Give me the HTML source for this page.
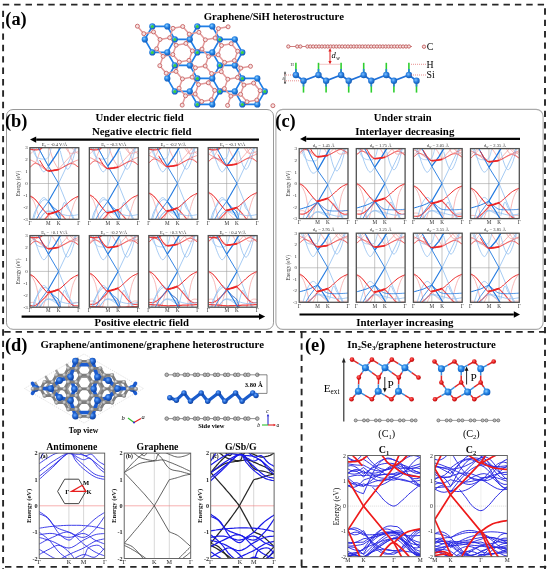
<!DOCTYPE html>
<html><head><meta charset="utf-8"><style>
html,body{margin:0;padding:0;background:#fff;}
svg{display:block;}
svg text{font-family:'Liberation Serif',serif;}
</style></head><body>
<svg width="550" height="572" viewBox="0 0 550 572">
<line x1="2.8" y1="4.6" x2="547" y2="4.6" stroke="#262626" stroke-width="1.9" stroke-dasharray="6.4 4.98" stroke-dashoffset="0"/>
<line x1="3.1" y1="10.7" x2="3.1" y2="569" stroke="#262626" stroke-width="1.9" stroke-dasharray="6.4 4.98" stroke-dashoffset="0"/>
<line x1="545.0" y1="8.25" x2="545.0" y2="569" stroke="#262626" stroke-width="1.9" stroke-dasharray="6.4 4.98" stroke-dashoffset="0"/>
<line x1="5.0" y1="566.9" x2="547" y2="566.9" stroke="#262626" stroke-width="1.9" stroke-dasharray="6.4 4.98" stroke-dashoffset="0"/>
<line x1="4.2" y1="331.9" x2="547" y2="331.9" stroke="#262626" stroke-width="1.9" stroke-dasharray="6.4 4.98" stroke-dashoffset="0"/>
<line x1="301.6" y1="331.9" x2="301.6" y2="567.5" stroke="#262626" stroke-width="1.9" stroke-dasharray="6.4 4.98" stroke-dashoffset="0"/>
<rect x="6.5" y="109.5" width="267" height="219.8" rx="6.5" fill="none" stroke="#999" stroke-width="1.0"/>
<rect x="275.9" y="109.4" width="267.2" height="220.0" rx="7" fill="none" stroke="#aaa" stroke-width="1.1"/>
<text x="5.30" y="25.00" font-size="18.4" font-weight="bold" text-anchor="start" fill="#000" style="" >(a)</text>
<text x="5.00" y="126.60" font-size="18.4" font-weight="bold" text-anchor="start" fill="#000" style="" >(b)</text>
<text x="275.30" y="126.60" font-size="18.4" font-weight="bold" text-anchor="start" fill="#000" style="" >(c)</text>
<text x="5.00" y="350.50" font-size="18.4" font-weight="bold" text-anchor="start" fill="#000" style="" >(d)</text>
<text x="305.00" y="350.50" font-size="18.4" font-weight="bold" text-anchor="start" fill="#000" style="" >(e)</text>
<text x="273.80" y="19.60" font-size="10.75" font-weight="bold" text-anchor="middle" fill="#000" style="" >Graphene/SiH heterostructure</text>
<text x="139.60" y="120.90" font-size="10.78" font-weight="bold" text-anchor="middle" fill="#000" style="" >Under electric field</text>
<text x="141.80" y="134.50" font-size="10.8" font-weight="bold" text-anchor="middle" fill="#000" style="" >Negative electric field</text>
<text x="141.80" y="326.30" font-size="10.7" font-weight="bold" text-anchor="middle" fill="#000" style="" >Positive electric field</text>
<text x="402.70" y="120.90" font-size="10.6" font-weight="bold" text-anchor="middle" fill="#000" style="" >Under strain</text>
<text x="404.80" y="134.50" font-size="10.9" font-weight="bold" text-anchor="middle" fill="#000" style="" >Interlayer decreasing</text>
<text x="404.80" y="325.80" font-size="10.9" font-weight="bold" text-anchor="middle" fill="#000" style="" >Interlayer increasing</text>
<text x="152.20" y="347.80" font-size="10.8" font-weight="bold" text-anchor="middle" fill="#000" style="" >Graphene/antimonene/graphene heterostructure</text>
<text x="421.60" y="347.80" font-size="10.8" font-weight="bold" text-anchor="middle" fill="#000" style="" >In<tspan font-size="7" dy="2">2</tspan><tspan dy="-2">Se</tspan><tspan font-size="7" dy="2">3</tspan><tspan dy="-2">/graphene heterostructure</tspan></text>
<line x1="259" y1="139.6" x2="36.2" y2="139.6" stroke="#000" stroke-width="2.2"/>
<polygon points="30,139.6 36.2,136.4 36.2,142.79999999999998" fill="#000"/>
<line x1="21.6" y1="316.6" x2="259.0" y2="316.6" stroke="#000" stroke-width="2.2"/>
<polygon points="265.2,316.6 259.0,313.40000000000003 259.0,319.8" fill="#000"/>
<line x1="520" y1="138.9" x2="306.2" y2="138.9" stroke="#000" stroke-width="2.2"/>
<polygon points="300,138.9 306.2,135.70000000000002 306.2,142.1" fill="#000"/>
<line x1="299.5" y1="314.5" x2="513.8" y2="314.5" stroke="#000" stroke-width="2.2"/>
<polygon points="520,314.5 513.8,311.3 513.8,317.7" fill="#000"/>
<clipPath id="c30"><rect x="29.9" y="147.7" width="48.9" height="71.6"/></clipPath>
<g clip-path="url(#c30)" fill="none" stroke-linejoin="round">
<line x1="48.4" y1="147.7" x2="48.4" y2="219.29999999999998" stroke="#a0a0a0" stroke-width="0.6"/>
<line x1="58.6" y1="147.7" x2="58.6" y2="219.29999999999998" stroke="#a0a0a0" stroke-width="0.6"/>
<line x1="29.9" y1="183.5" x2="78.8" y2="183.5" stroke="#a0a0a0" stroke-width="0.6"/>
<path d="M29.9,196 30.3,196.6 30.9,197.2 31.6,198.1 32.4,199.1 33.1,200.2 33.8,201.4 34.4,202.8 35,204.4 35.6,206.1 36.1,207.9 36.7,209.8 37.2,211.5 37.8,213.4 38.5,215.5 39.2,217.5 39.8,219.5 40.3,221.1 40.7,222.3" stroke="#f4a0a0" stroke-width="0.75"/>
<path d="M78.8,196 78.4,196.6 77.8,197.2 77.1,198.1 76.3,199.1 75.6,200.2 74.9,201.4 74.3,202.8 73.7,204.4 73.1,206.1 72.6,207.9 72,209.8 71.5,211.5 70.9,213.4 70.2,215.5 69.5,217.5 68.9,219.5 68.4,221.1 68,222.3" stroke="#f4a0a0" stroke-width="0.75"/>
<path d="M48.4,213.9 48.7,214.4 49.2,215.1 49.7,215.9 50.4,216.8 51.1,217.8 51.9,218.7 52.9,219.7 54,220.9 55.3,222.1 56.5,223.3 57.7,224.1 58.6,224.7 59.4,224.7 60,224.4 60.6,223.8 61,223.2 61.4,222.6 61.7,222.3" stroke="#f4a0a0" stroke-width="0.7"/>
<path d="M42.1,222.3 42.5,222.2 43,222.2 43.7,222.1 44.3,222 45,221.6 45.5,221.1 46.1,220.2 46.6,218.9 47.2,217.4 47.7,216 48.1,214.8 48.4,213.9" stroke="#f4a0a0" stroke-width="0.7"/>
<path d="M29.9,167.4 30.3,167.1 30.8,166.7 31.4,166.2 32.1,165.6 32.7,165 33.3,164.4 33.9,163.9 34.4,163.5 34.9,163.1 35.5,162.5 36.1,161.6 36.7,160.2 37.6,158.1 38.6,155.3 39.6,152.2 40.7,149.2 41.5,146.5 42.1,144.7" stroke="#f4a0a0" stroke-width="0.75"/>
<path d="M78.8,167.4 78.4,167.1 77.9,166.7 77.3,166.2 76.6,165.6 76,165 75.4,164.4 74.8,163.9 74.3,163.5 73.8,163.1 73.2,162.5 72.6,161.6 72,160.2 71.1,158.1 70.1,155.3 69.1,152.2 68,149.2 67.2,146.5 66.6,144.7" stroke="#f4a0a0" stroke-width="0.75"/>
<path d="M48.5,144.7 49,146.5 49.7,149 50.6,151.9 51.5,155 52.5,157.8 53.4,160.2 54.3,162.2 55.3,164 56.3,165.7 57.2,167.1 58,168.3 58.6,169.2" stroke="#f4a0a0" stroke-width="0.8"/>
<path d="M58.6,169.2 59.5,168.2 60.7,166.8 62.1,165.2 63.7,163.5 65.2,161.8 66.6,160.2 67.9,158.8 69.2,157.4 70.6,155.9 71.9,154.6 73,153.2 73.9,151.9 74.6,150.5 75.2,149.1 75.6,147.8 75.9,146.5 76.1,145.5 76.4,144.7" stroke="#f4a0a0" stroke-width="0.8"/>
<path d="M29.9,154.3 30.3,153.9 30.8,153.5 31.4,153 32.1,152.4 32.7,151.8 33.3,151.3 33.9,150.8 34.5,150.3 35.1,149.8 35.6,149.3 36.2,148.8 36.7,148.3 37.3,147.7 37.9,147 38.4,146.3 38.9,145.7 39.4,145.1 39.7,144.7" stroke="#f4a0a0" stroke-width="0.7"/>
<path d="M78.8,154.3 78.4,153.9 77.9,153.5 77.3,153 76.6,152.4 76,151.8 75.4,151.3 74.8,150.8 74.2,150.3 73.6,149.8 73.1,149.3 72.5,148.8 72,148.3 71.4,147.7 70.8,147 70.3,146.3 69.8,145.7 69.3,145.1 69,144.7" stroke="#f4a0a0" stroke-width="0.7"/>
<path d="M29.9,224.1 30.5,224.2 31.4,224.3 32.4,224.5 33.6,224.7 34.7,224.7 35.8,224.7 36.9,224.4 38.1,224 39.3,223.5 40.5,223 41.4,222.6 42.1,222.3" stroke="#f4a0a0" stroke-width="0.7"/>
<path d="M78.8,224.1 78.2,224.2 77.3,224.3 76.3,224.5 75.1,224.7 74,224.7 72.9,224.7 71.8,224.4 70.6,224 69.4,223.5 68.2,223 67.3,222.6 66.6,222.3" stroke="#f4a0a0" stroke-width="0.7"/>
<path d="M32.8,144.7 33.4,146.6 34.1,149.2 35,152.2 36,155.4 36.9,158.4 37.7,160.8 38.4,162.8 39.1,164.6 39.8,166.2 40.4,167.6 41.1,168.8 41.6,169.8 42.2,170.6 42.7,171.2 43.1,171.6 43.6,171.8 44,171.8 44.6,171.6 45.2,171 45.9,170.1 46.7,169 47.4,167.9 48,166.9 48.4,166.2" stroke="#8fbef0" stroke-width="0.8"/>
<path d="M32.8,222.3 33.4,220.4 34.1,217.8 35,214.7 36,211.5 36.9,208.5 37.7,206.2 38.4,204.4 39.1,202.9 39.8,201.7 40.4,200.6 41.1,199.8 41.6,199 42.2,198.4 42.7,198 43.1,197.7 43.6,197.6 44,197.7 44.6,197.8 45.2,198.2 45.9,198.8 46.7,199.5 47.4,200.3 48,201 48.4,201.4" stroke="#8fbef0" stroke-width="0.8"/>
<path d="M36.7,144.7 48.4,166.2" stroke="#8fbef0" stroke-width="0.8"/>
<path d="M58.6,183.5 74.4,222.3" stroke="#8fbef0" stroke-width="0.8"/>
<path d="M58.6,183.5 76.8,144.7" stroke="#8fbef0" stroke-width="0.8"/>
<path d="M60.2,150.7 60.6,152.3 61.2,154.6 61.9,157.2 62.7,160 63.4,162.5 64.1,164.4 64.8,165.9 65.4,167.1 66.1,168.2 66.7,168.9 67.4,169.2 68,169.2 68.7,168.6 69.5,167.7 70.2,166.3 71,164.7 71.7,162.8 72.4,160.8 73.2,158.4 74.1,155.4 74.9,152.2 75.7,149.2 76.4,146.6 76.8,144.7" stroke="#8fbef0" stroke-width="0.8"/>
<path d="M60.2,216.3 60.6,214.6 61.3,212 62,209.1 62.7,206.2 63.5,203.9 64.1,202.6 64.7,202.5 65.3,203.2 65.8,204.4 66.4,205.9 67,207.4 67.6,208.6 68.2,209.4 68.8,210.1 69.5,210.8 70.1,211.5 70.8,212.3 71.5,213.3 72.2,214.7 72.9,216.3 73.7,218.1 74.4,219.8 75,221.3 75.4,222.3" stroke="#8fbef0" stroke-width="0.8"/>
<path d="M38.7,222.3 39.2,221.3 40,219.9 40.8,218.3 41.8,216.6 42.7,215.1 43.6,213.9 44.4,213.1 45.2,212.5 46,212.1 46.8,211.8 47.6,211.6 48.4,211.5 49.2,211.6 50,211.7 50.9,212 51.7,212.4 52.5,212.8 53.4,213.3 54.3,213.9 55.2,214.5 56.2,215.2 57.1,216 57.9,216.8 58.6,217.5 59.1,218.3 59.5,219.2 59.7,220.2 59.9,221 60.1,221.8 60.2,222.3" stroke="#8fbef0" stroke-width="0.8"/>
<path d="M30.9,144.7 31.4,146 32.1,148 32.9,150.2 33.8,152.5 34.8,154.5 35.8,156.1 36.7,157.1 37.8,157.8 38.9,158.4 40,158.7 41.1,158.9 42.1,159 43.2,159.1 44.3,159.2 45.4,159.1 46.5,158.8 47.5,158.2 48.4,157.2 49.2,155.6 49.9,153.4 50.5,150.9 51.1,148.4 51.6,146.2 51.9,144.7" stroke="#8fbef0" stroke-width="0.7"/>
<path d="M29.9,227.1 30.4,227.1 31.2,227.2 32,227.2 33,227.3 33.9,227.2 34.8,227.1 35.6,226.8 36.4,226.3 37.2,225.9 38,225.3 38.9,224.7 39.7,224.1 40.5,223.4 41.3,222.6 42.2,221.8 43,220.9 43.8,220.1 44.6,219.3 45.3,218.5 46.1,217.7 46.8,216.9 47.4,216.2 48,215.6 48.4,215.1" stroke="#ec2424" stroke-width="1.1" stroke-opacity="0.8"/>
<path d="M78.8,227.1 78.3,227.1 77.5,227.2 76.7,227.3 75.7,227.3 74.8,227.3 73.9,227.1 73.1,226.7 72.3,226.2 71.5,225.6 70.7,225 69.8,224.3 69,223.5 68.2,222.6 67.4,221.7 66.6,220.6 65.8,219.6 65,218.5 64.1,217.5 63.2,216.4 62.1,215.3 61.1,214.2 60.1,213.1 59.2,212.2 58.6,211.5" stroke="#ec2424" stroke-width="1.1" stroke-opacity="0.8"/>
<path d="M30.9,195.4 31.6,196.1 32.5,197.1 33.7,198.2 34.9,199.4 36.1,200.7 37.2,202 38.3,203.3 39.4,204.8 40.5,206.3 41.6,207.8 42.6,209.1 43.6,210.3 44.5,211.4 45.5,212.4 46.4,213.3 47.2,214 47.9,214.6 48.4,215.1" stroke="#f4a0a0" stroke-width="0.7"/>
<path d="M48.4,201.4 48.9,202.1 49.7,203 50.6,204.1 51.5,205.2 52.5,206.4 53.4,207.4 54.3,208.2 55.2,208.8 56.1,209.5 57,210.2 57.9,211 58.6,212.1 59.2,213.6 59.8,215.5 60.2,217.5 60.6,219.5 60.9,221.1 61.2,222.3" stroke="#1f78e0" stroke-width="1.0" stroke-opacity="0.9"/>
<path d="M48.4,201.4 48,201.2 47.4,200.8 46.7,200.3 46,199.9 45.3,199.7 44.6,199.6 43.9,199.8 43.3,200 42.7,200.4 42.1,200.9 41.4,201.7 40.7,202.6 39.8,203.8 38.7,205.3 37.7,206.9 36.6,208.7 35.6,210.4 34.8,212.1 34.1,213.9 33.5,215.9 33,217.8 32.5,219.6 32.1,221.2 31.9,222.3" stroke="#8fbef0" stroke-width="0.9"/>
<path d="M37.2,222.3 37.9,221.3 38.9,219.9 40.1,218.3 41.4,216.6 42.5,215.1 43.6,213.9 44.4,213.1 45.1,212.3 45.7,211.8 46.4,211.3 47.3,211.1 48.4,210.9 49.8,211 51.4,211.3 53.1,211.8 55,212.3 56.8,212.9 58.6,213.3 60.3,213.8 62.1,214.3 63.8,214.8 65.6,215.2 67.3,215.5 69,215.7 70.8,215.7 72.7,215.5 74.6,215.3 76.3,215 77.7,214.7 78.8,214.5" stroke="#8fbef0" stroke-width="0.8"/>
<path d="M29.9,159.6 30.5,159.9 31.4,160.3 32.4,160.8 33.6,161.4 34.7,162 35.8,162.6 36.8,163.3 37.9,164.1 38.9,165 40,165.8 41.1,166.6 42.1,167.4 43.1,168.1 44.1,168.8 45,169.6 46,170.2 47.1,170.7 48.4,171 49.9,171.1 51.6,171.1 53.4,170.9 55.2,170.6 57,170.2 58.6,169.8 60.1,169.2 61.5,168.4 62.8,167.5 64.1,166.6 65.4,165.7 66.6,165 67.7,164.4 68.8,163.9 69.9,163.4 70.9,162.9 71.9,162.5 72.9,162 74,161.6 75.1,161.1 76.3,160.6 77.3,160.2 78.2,159.9 78.8,159.6" stroke="#ec2424" stroke-width="0.8" stroke-opacity="0.55"/>
<path d="M29.9,149.1 30.4,149.2 31.1,149.4 32,149.5 32.9,149.7 33.9,149.8 34.8,149.8 35.7,149.8 36.7,149.8 37.8,149.7 38.8,149.5 39.8,149.3 40.7,148.9 41.5,148.3 42.3,147.6 43,146.7 43.6,145.9 44.2,145.2 44.6,144.7" stroke="#ec2424" stroke-width="1.3" stroke-opacity="0.85"/>
<path d="M58.6,169.5 59.3,169.2 60.3,168.6 61.4,168 62.7,167.4 63.9,166.8 65.1,166.2 66.2,165.6 67.4,165 68.5,164.4 69.7,163.9 70.8,163.6 72,163.6 73.2,163.9 74.5,164.5 75.8,165.3 77,166.2 78.1,166.9 78.8,167.4" stroke="#ec2424" stroke-width="0.9" stroke-opacity="0.7"/>
<path d="M29.9,167.4 30.4,166.9 31.1,166.2 31.9,165.4 32.8,164.6 33.8,163.9 34.8,163.6 35.8,163.5 36.9,163.7 38.1,164 39.3,164.5 40.5,165 41.6,165.6 42.8,166.4 44.1,167.3 45.4,168.4 46.6,169.5 47.7,170.3 48.4,171" stroke="#ec2424" stroke-width="0.9" stroke-opacity="0.6"/>
<path d="M64.1,144.7 64.7,145.6 65.4,147 66.3,148.6 67.2,150.1 68.1,151.5 69,152.5 69.8,153 70.7,153.3 71.5,153.4 72.3,153.3 73.1,153.2 73.9,153.1 74.8,152.9 75.7,152.6 76.7,152.2 77.5,151.8 78.3,151.5 78.8,151.3" stroke="#f4a0a0" stroke-width="0.8"/>
<path d="M36.7,144.7 48.4,166.2 58.6,183.5" stroke="#1f78e0" stroke-width="0.9"/>
<path d="M48.4,201.4 58.6,183.5" stroke="#1f78e0" stroke-width="1.1"/>
<path d="M48.4,166.2 55.3,156.1 62.2,144.7" stroke="#1f78e0" stroke-width="1.3"/>
<path d="M48.4,201.4 55.3,212.1 61.2,222.3" stroke="#1f78e0" stroke-width="1.1"/>
<path d="M48.4,201.4 39.7,213.3 34.8,222.3" stroke="#1f78e0" stroke-width="0.8"/>
<path d="M29.9,196 30.4,196.3 31.1,196.6 32,197.1 32.9,197.6 33.9,198.2 34.8,199 35.7,200 36.7,201.1 37.7,202.4 38.7,203.7 39.7,205 40.7,206.2 41.6,207.3 42.4,208.4 43.3,209.5 44.1,210.5 44.9,211.4 45.5,212.1 46.1,212.7 46.4,213.2 46.6,213.6 47,213.8 47.5,214 48.4,213.9 49.7,213.7 51.4,213.4 53.3,212.9 55.2,212.3 57,211.6 58.6,210.9 59.9,210.2 61,209.4 62.1,208.4 63.1,207.5 64,206.5 65.1,205.6 66.2,204.6 67.4,203.5 68.5,202.5 69.7,201.4 70.8,200.5 72,199.6 73.2,198.8 74.5,198.1 75.8,197.4 77,196.9 78.1,196.4 78.8,196" stroke="#ec2424" stroke-width="1.0"/>
<path d="M47.9,214.2 48.5,214 49.3,213.8 50.3,213.6 51.4,213.3 52.4,213 53.4,212.7 54.3,212.4 55.3,212.1 56.3,211.8 57.3,211.4 58,211.1 58.6,210.9" stroke="#ec2424" stroke-width="1.9"/>
<path d="M39.7,160.2 40.2,161.1 41,162.4 41.9,163.9 42.8,165.5 43.8,166.9 44.6,168 45.2,168.8 45.7,169.5 46.1,170.1 46.7,170.5 47.4,170.8 48.4,171 49.8,171 51.7,170.8 53.7,170.4 55.7,170.1 57.4,169.7 58.6,169.5" stroke="#ec2424" stroke-width="1.0"/>
<path d="M48.4,171 48.9,170.9 49.7,170.8 50.6,170.7 51.5,170.6 52.5,170.5 53.4,170.4 54.3,170.2 55.3,170.1 56.3,169.9 57.2,169.8 58,169.6 58.6,169.5" stroke="#ec2424" stroke-width="1.7" stroke-opacity="0.9"/>
</g>
<rect x="29.9" y="147.7" width="48.9" height="71.6" fill="none" stroke="#505050" stroke-width="1.3"/>
<text x="54.35" y="145.70" font-size="4.6" text-anchor="middle" fill="#333">E<tspan font-size="3" dy="1">z</tspan><tspan dy="-1"> = -0.4 V/Å</tspan></text>
<text x="29.90" y="224.50" font-size="5.2" text-anchor="middle" fill="#333">Γ</text>
<text x="48.38" y="224.50" font-size="5.2" text-anchor="middle" fill="#333">M</text>
<text x="58.60" y="224.50" font-size="5.2" text-anchor="middle" fill="#333">K</text>
<text x="78.80" y="224.50" font-size="5.2" text-anchor="middle" fill="#333">Γ</text>
<text x="27.70" y="149.40" font-size="5" text-anchor="end" fill="#333">3</text>
<text x="27.70" y="161.33" font-size="5" text-anchor="end" fill="#333">2</text>
<text x="27.70" y="173.27" font-size="5" text-anchor="end" fill="#333">1</text>
<text x="27.70" y="185.20" font-size="5" text-anchor="end" fill="#333">0</text>
<text x="27.70" y="197.13" font-size="5" text-anchor="end" fill="#333">-1</text>
<text x="27.70" y="209.07" font-size="5" text-anchor="end" fill="#333">-2</text>
<text x="27.70" y="221.00" font-size="5" text-anchor="end" fill="#333">-3</text>
<text x="0" y="0" font-size="5.2" text-anchor="middle" fill="#333" transform="translate(20.40,183.50) rotate(-90)">Energy (eV)</text>
<clipPath id="c91"><rect x="89.35" y="147.7" width="48.9" height="71.6"/></clipPath>
<g clip-path="url(#c91)" fill="none" stroke-linejoin="round">
<line x1="107.8" y1="147.7" x2="107.8" y2="219.29999999999998" stroke="#a0a0a0" stroke-width="0.6"/>
<line x1="118.1" y1="147.7" x2="118.1" y2="219.29999999999998" stroke="#a0a0a0" stroke-width="0.6"/>
<line x1="89.35" y1="183.5" x2="138.25" y2="183.5" stroke="#a0a0a0" stroke-width="0.6"/>
<path d="M89.3,194.8 89.8,195.4 90.4,196.1 91.1,196.9 91.8,197.9 92.6,199 93.3,200.2 93.9,201.6 94.4,203.2 95,204.9 95.6,206.7 96.1,208.5 96.7,210.3 97.3,212.4 98,214.6 98.6,217 99.2,219.1 99.7,221 100.1,222.3" stroke="#f4a0a0" stroke-width="0.75"/>
<path d="M138.2,194.8 137.8,195.4 137.2,196.1 136.5,196.9 135.8,197.9 135,199 134.3,200.2 133.7,201.6 133.2,203.2 132.6,204.9 132,206.7 131.5,208.5 130.9,210.3 130.3,212.4 129.6,214.6 129,217 128.4,219.1 127.9,221 127.5,222.3" stroke="#f4a0a0" stroke-width="0.75"/>
<path d="M107.8,212.7 108.2,213.2 108.6,213.9 109.2,214.8 109.8,215.7 110.5,216.6 111.4,217.5 112.3,218.5 113.5,219.7 114.7,220.9 116,222 117.1,222.9 118.1,223.5 118.8,223.7 119.5,223.6 120,223.3 120.5,222.9 120.8,222.5 121.1,222.3" stroke="#f4a0a0" stroke-width="0.7"/>
<path d="M101.6,222.3 102,222.1 102.5,221.8 103.1,221.5 103.8,221.1 104.4,220.6 105,219.9 105.5,218.9 106.1,217.6 106.6,216.2 107.1,214.8 107.5,213.6 107.8,212.7" stroke="#f4a0a0" stroke-width="0.7"/>
<path d="M89.3,165 89.7,164.7 90.2,164.3 90.8,163.8 91.5,163.2 92.2,162.6 92.8,162 93.3,161.5 93.8,161 94.4,160.6 94.9,159.9 95.5,159.1 96.2,157.8 97,156 98,153.6 99.1,151 100.1,148.5 101,146.2 101.6,144.7" stroke="#f4a0a0" stroke-width="0.75"/>
<path d="M138.2,165 137.9,164.7 137.4,164.3 136.8,163.8 136.1,163.2 135.4,162.6 134.8,162 134.3,161.5 133.8,161 133.2,160.6 132.7,159.9 132.1,159.1 131.4,157.8 130.6,156 129.6,153.6 128.5,151 127.5,148.5 126.6,146.2 126,144.7" stroke="#f4a0a0" stroke-width="0.75"/>
<path d="M107.9,144.7 108.5,146.2 109.2,148.3 110,150.7 111,153.3 111.9,155.7 112.8,157.8 113.7,159.7 114.7,161.5 115.7,163.1 116.7,164.6 117.5,165.9 118.1,166.8" stroke="#f4a0a0" stroke-width="0.8"/>
<path d="M118.1,166.8 118.9,165.8 120.1,164.5 121.6,162.8 123.1,161.1 124.6,159.4 126,157.8 127.3,156.4 128.7,154.9 130,153.4 131.3,152 132.4,150.7 133.4,149.5 134.1,148.4 134.6,147.5 135,146.6 135.4,145.8 135.6,145.2 135.8,144.7" stroke="#f4a0a0" stroke-width="0.8"/>
<path d="M89.3,154.3 89.7,153.9 90.2,153.5 90.8,153 91.5,152.4 92.2,151.8 92.8,151.3 93.3,150.8 93.9,150.3 94.5,149.8 95.1,149.3 95.7,148.8 96.2,148.3 96.7,147.7 97.3,147 97.9,146.3 98.4,145.7 98.8,145.1 99.1,144.7" stroke="#f4a0a0" stroke-width="0.7"/>
<path d="M138.2,154.3 137.9,153.9 137.4,153.5 136.8,153 136.1,152.4 135.4,151.8 134.8,151.3 134.3,150.8 133.7,150.3 133.1,149.8 132.5,149.3 131.9,148.8 131.4,148.3 130.9,147.7 130.3,147 129.7,146.3 129.2,145.7 128.8,145.1 128.5,144.7" stroke="#f4a0a0" stroke-width="0.7"/>
<path d="M89.3,222.9 90,223 90.9,223.1 91.9,223.3 93,223.4 94.1,223.5 95.2,223.5 96.3,223.4 97.5,223.2 98.8,222.9 99.9,222.7 100.9,222.4 101.6,222.3" stroke="#f4a0a0" stroke-width="0.7"/>
<path d="M138.2,222.9 137.6,223 136.7,223.1 135.7,223.3 134.6,223.4 133.5,223.5 132.4,223.5 131.3,223.4 130.1,223.2 128.8,222.9 127.7,222.7 126.7,222.4 126,222.3" stroke="#f4a0a0" stroke-width="0.7"/>
<path d="M92.3,144.7 92.8,146.6 93.6,149.2 94.5,152.2 95.4,155.4 96.4,158.4 97.2,160.8 97.9,162.8 98.6,164.6 99.3,166.2 99.9,167.6 100.5,168.8 101.1,169.8 101.6,170.6 102.1,171.2 102.6,171.6 103,171.8 103.5,171.8 104,171.6 104.6,171 105.4,170.1 106.1,169 106.8,167.9 107.4,166.9 107.8,166.2" stroke="#8fbef0" stroke-width="0.8"/>
<path d="M92.3,222.3 92.8,220.4 93.6,217.8 94.5,214.7 95.4,211.5 96.4,208.5 97.2,206.2 97.9,204.4 98.6,202.9 99.3,201.7 99.9,200.6 100.5,199.8 101.1,199 101.6,198.4 102.1,198 102.6,197.7 103,197.6 103.5,197.7 104,197.8 104.6,198.2 105.4,198.8 106.1,199.5 106.8,200.3 107.4,201 107.8,201.4" stroke="#8fbef0" stroke-width="0.8"/>
<path d="M96.2,144.7 107.8,166.2" stroke="#8fbef0" stroke-width="0.8"/>
<path d="M118.1,183.5 133.8,222.3" stroke="#8fbef0" stroke-width="0.8"/>
<path d="M118.1,183.5 136.3,144.7" stroke="#8fbef0" stroke-width="0.8"/>
<path d="M119.7,150.7 120.1,152.3 120.7,154.6 121.4,157.2 122.1,160 122.9,162.5 123.6,164.4 124.2,165.9 124.9,167.1 125.5,168.2 126.2,168.9 126.8,169.2 127.5,169.2 128.2,168.6 128.9,167.7 129.7,166.3 130.4,164.7 131.2,162.8 131.9,160.8 132.7,158.4 133.5,155.4 134.4,152.2 135.2,149.2 135.8,146.6 136.3,144.7" stroke="#8fbef0" stroke-width="0.8"/>
<path d="M119.7,216.3 120.1,214.6 120.7,212 121.4,209.1 122.2,206.2 122.9,203.9 123.6,202.6 124.2,202.5 124.7,203.2 125.3,204.4 125.8,205.9 126.4,207.4 127,208.6 127.6,209.4 128.3,210.1 128.9,210.8 129.6,211.5 130.3,212.3 130.9,213.3 131.6,214.7 132.4,216.3 133.1,218.1 133.8,219.8 134.4,221.3 134.8,222.3" stroke="#8fbef0" stroke-width="0.8"/>
<path d="M98.2,222.3 98.7,221.3 99.4,219.9 100.3,218.3 101.2,216.6 102.2,215.1 103,213.9 103.8,213.1 104.6,212.5 105.4,212.1 106.2,211.8 107,211.6 107.8,211.5 108.7,211.6 109.5,211.7 110.3,212 111.1,212.4 112,212.8 112.8,213.3 113.7,213.9 114.7,214.5 115.6,215.2 116.6,216 117.4,216.8 118.1,217.5 118.6,218.3 118.9,219.2 119.2,220.2 119.4,221 119.5,221.8 119.7,222.3" stroke="#8fbef0" stroke-width="0.8"/>
<path d="M90.3,144.7 90.8,146 91.5,148 92.4,150.2 93.3,152.5 94.3,154.5 95.2,156.1 96.2,157.1 97.2,157.8 98.3,158.4 99.4,158.7 100.5,158.9 101.6,159 102.7,159.1 103.8,159.2 104.9,159.1 106,158.8 107,158.2 107.8,157.2 108.6,155.6 109.3,153.4 110,150.9 110.5,148.4 111,146.2 111.4,144.7" stroke="#8fbef0" stroke-width="0.7"/>
<path d="M89.3,225.9 89.9,225.9 90.6,226 91.5,226 92.4,226.1 93.4,226 94.2,225.9 95.1,225.6 95.9,225.2 96.7,224.7 97.5,224.1 98.3,223.5 99.1,222.9 100,222.2 100.8,221.4 101.6,220.6 102.5,219.7 103.3,218.9 104,218.1 104.8,217.3 105.5,216.5 106.2,215.7 106.9,215 107.4,214.4 107.8,213.9" stroke="#ec2424" stroke-width="1.1" stroke-opacity="0.8"/>
<path d="M138.2,225.9 137.7,225.9 137,226 136.1,226.1 135.2,226.1 134.2,226.1 133.4,225.9 132.5,225.5 131.7,225 130.9,224.4 130.1,223.8 129.3,223.1 128.5,222.3 127.7,221.4 126.9,220.5 126.1,219.4 125.3,218.4 124.4,217.3 123.6,216.3 122.6,215.3 121.6,214.1 120.5,213 119.5,211.9 118.7,211 118.1,210.3" stroke="#ec2424" stroke-width="1.1" stroke-opacity="0.8"/>
<path d="M90.3,194.2 91,194.9 92,195.9 93.1,197 94.3,198.2 95.6,199.5 96.7,200.8 97.8,202.1 98.9,203.6 100,205.1 101,206.6 102.1,208 103,209.2 104,210.2 104.9,211.2 105.8,212.1 106.6,212.8 107.3,213.5 107.8,213.9" stroke="#f4a0a0" stroke-width="0.7"/>
<path d="M107.8,201.4 108.4,202.1 109.1,203 110,204.1 111,205.2 111.9,206.4 112.8,207.4 113.7,208.2 114.6,208.8 115.6,209.5 116.5,210.2 117.3,211 118.1,212.1 118.7,213.6 119.2,215.5 119.7,217.5 120.1,219.5 120.4,221.1 120.6,222.3" stroke="#1f78e0" stroke-width="1.0" stroke-opacity="0.9"/>
<path d="M107.8,201.4 107.4,201.2 106.8,200.8 106.2,200.3 105.4,199.9 104.7,199.7 104,199.6 103.4,199.8 102.8,200 102.2,200.4 101.6,200.9 100.9,201.7 100.1,202.6 99.2,203.8 98.2,205.3 97.1,206.9 96.1,208.7 95.1,210.4 94.2,212.1 93.5,213.9 92.9,215.9 92.4,217.8 92,219.6 91.6,221.2 91.3,222.3" stroke="#8fbef0" stroke-width="0.9"/>
<path d="M96.7,222.3 97.4,221.3 98.4,219.9 99.6,218.3 100.8,216.6 102,215.1 103,213.9 103.9,213.1 104.6,212.3 105.2,211.8 105.9,211.3 106.7,211.1 107.8,210.9 109.2,211 110.8,211.3 112.6,211.8 114.4,212.3 116.3,212.9 118.1,213.3 119.8,213.8 121.5,214.3 123.3,214.8 125,215.2 126.8,215.5 128.5,215.7 130.2,215.7 132.1,215.5 134,215.3 135.7,215 137.2,214.7 138.2,214.5" stroke="#8fbef0" stroke-width="0.8"/>
<path d="M89.3,157.2 90,157.6 90.9,158 91.9,158.4 93,159 94.1,159.6 95.2,160.2 96.3,160.9 97.3,161.7 98.4,162.6 99.4,163.4 100.5,164.3 101.6,165 102.6,165.7 103.5,166.5 104.5,167.2 105.5,167.8 106.6,168.3 107.8,168.6 109.3,168.7 111,168.7 112.8,168.5 114.7,168.2 116.4,167.9 118.1,167.4 119.5,166.8 120.9,166 122.3,165.1 123.6,164.2 124.8,163.4 126,162.6 127.2,162 128.3,161.5 129.3,161 130.4,160.5 131.4,160.1 132.4,159.6 133.5,159.2 134.6,158.7 135.7,158.3 136.7,157.8 137.6,157.5 138.2,157.2" stroke="#ec2424" stroke-width="0.8" stroke-opacity="0.55"/>
<path d="M89.3,149.1 89.9,149.2 90.6,149.4 91.4,149.5 92.4,149.7 93.3,149.8 94.2,149.8 95.2,149.8 96.2,149.8 97.2,149.7 98.3,149.5 99.2,149.3 100.1,148.9 100.9,148.3 101.7,147.6 102.4,146.7 103.1,145.9 103.6,145.2 104,144.7" stroke="#ec2424" stroke-width="1.3" stroke-opacity="0.85"/>
<path d="M118.1,167.2 118.8,166.8 119.7,166.3 120.9,165.6 122.1,165 123.4,164.4 124.6,163.8 125.7,163.3 126.8,162.6 128,162 129.1,161.6 130.3,161.2 131.4,161.2 132.6,161.5 133.9,162.1 135.3,162.9 136.5,163.8 137.5,164.5 138.2,165" stroke="#ec2424" stroke-width="0.9" stroke-opacity="0.7"/>
<path d="M89.3,165 89.9,164.5 90.5,163.8 91.4,163 92.3,162.2 93.3,161.5 94.2,161.2 95.3,161.1 96.4,161.3 97.5,161.6 98.7,162.1 99.9,162.6 101.1,163.2 102.3,164 103.6,165 104.9,166 106.1,167.1 107.1,168 107.8,168.6" stroke="#ec2424" stroke-width="0.9" stroke-opacity="0.6"/>
<path d="M123.6,144.7 124.1,145.6 124.8,147 125.7,148.6 126.7,150.1 127.6,151.5 128.5,152.5 129.3,153 130.1,153.3 130.9,153.4 131.7,153.3 132.5,153.2 133.4,153.1 134.2,152.9 135.2,152.6 136.1,152.2 137,151.8 137.7,151.5 138.2,151.3" stroke="#f4a0a0" stroke-width="0.8"/>
<path d="M96.2,144.7 107.8,166.2 118.1,183.5" stroke="#1f78e0" stroke-width="0.9"/>
<path d="M107.8,201.4 118.1,183.5" stroke="#1f78e0" stroke-width="1.1"/>
<path d="M107.8,166.2 114.8,156.1 121.6,144.7" stroke="#1f78e0" stroke-width="1.3"/>
<path d="M107.8,201.4 114.8,212.1 120.6,222.3" stroke="#1f78e0" stroke-width="1.1"/>
<path d="M107.8,201.4 99.1,213.3 94.2,222.3" stroke="#1f78e0" stroke-width="0.8"/>
<path d="M89.3,194.8 89.9,195.1 90.6,195.5 91.4,195.9 92.4,196.4 93.3,197 94.2,197.8 95.2,198.8 96.2,199.9 97.2,201.2 98.2,202.5 99.2,203.8 100.1,205 101,206.1 101.9,207.2 102.7,208.3 103.6,209.3 104.3,210.2 105,210.9 105.5,211.5 105.8,212 106.1,212.4 106.4,212.6 107,212.8 107.8,212.7 109.2,212.5 110.8,212.2 112.7,211.7 114.6,211.1 116.5,210.4 118.1,209.8 119.3,209 120.5,208.2 121.5,207.3 122.5,206.3 123.5,205.3 124.6,204.4 125.7,203.4 126.8,202.4 128,201.3 129.1,200.3 130.3,199.3 131.4,198.4 132.6,197.6 133.9,196.9 135.3,196.3 136.5,195.7 137.5,195.2 138.2,194.8" stroke="#ec2424" stroke-width="1.0"/>
<path d="M107.3,213 107.9,212.8 108.8,212.6 109.8,212.4 110.8,212.1 111.9,211.8 112.8,211.5 113.8,211.2 114.8,210.9 115.8,210.6 116.7,210.2 117.5,210 118.1,209.8" stroke="#ec2424" stroke-width="1.9"/>
<path d="M99.1,157.8 99.7,158.7 100.4,160 101.3,161.5 102.3,163.1 103.2,164.5 104,165.6 104.6,166.4 105.1,167.1 105.6,167.7 106.1,168.1 106.8,168.4 107.8,168.6 109.3,168.6 111.1,168.4 113.2,168.1 115.2,167.7 116.9,167.4 118.1,167.2" stroke="#ec2424" stroke-width="1.0"/>
<path d="M107.8,168.6 108.4,168.5 109.1,168.4 110,168.3 111,168.2 111.9,168.1 112.8,168 113.7,167.9 114.7,167.7 115.7,167.5 116.7,167.4 117.5,167.2 118.1,167.2" stroke="#ec2424" stroke-width="1.7" stroke-opacity="0.9"/>
</g>
<rect x="89.35" y="147.7" width="48.9" height="71.6" fill="none" stroke="#505050" stroke-width="1.3"/>
<text x="113.80" y="145.70" font-size="4.6" text-anchor="middle" fill="#333">E<tspan font-size="3" dy="1">z</tspan><tspan dy="-1"> = -0.3 V/Å</tspan></text>
<text x="89.35" y="224.50" font-size="5.2" text-anchor="middle" fill="#333">Γ</text>
<text x="107.83" y="224.50" font-size="5.2" text-anchor="middle" fill="#333">M</text>
<text x="118.05" y="224.50" font-size="5.2" text-anchor="middle" fill="#333">K</text>
<text x="138.25" y="224.50" font-size="5.2" text-anchor="middle" fill="#333">Γ</text>
<clipPath id="c144"><rect x="148.8" y="147.7" width="48.9" height="71.6"/></clipPath>
<g clip-path="url(#c144)" fill="none" stroke-linejoin="round">
<line x1="167.3" y1="147.7" x2="167.3" y2="219.29999999999998" stroke="#a0a0a0" stroke-width="0.6"/>
<line x1="177.5" y1="147.7" x2="177.5" y2="219.29999999999998" stroke="#a0a0a0" stroke-width="0.6"/>
<line x1="148.8" y1="183.5" x2="197.70000000000002" y2="183.5" stroke="#a0a0a0" stroke-width="0.6"/>
<path d="M148.8,193 149.2,193.6 149.8,194.3 150.5,195.1 151.3,196.1 152,197.2 152.7,198.4 153.3,199.8 153.9,201.3 154.5,203 155,204.7 155.6,206.6 156.1,208.6 156.7,210.8 157.4,213.4 158.1,216.1 158.7,218.6 159.2,220.7 159.6,222.3" stroke="#f4a0a0" stroke-width="0.75"/>
<path d="M197.7,193 197.3,193.6 196.7,194.3 196,195.1 195.2,196.1 194.5,197.2 193.8,198.4 193.2,199.8 192.6,201.3 192,203 191.5,204.7 190.9,206.6 190.4,208.6 189.8,210.8 189.1,213.4 188.4,216.1 187.8,218.6 187.3,220.7 186.9,222.3" stroke="#f4a0a0" stroke-width="0.75"/>
<path d="M167.3,210.9 167.6,211.5 168.1,212.1 168.6,213 169.3,213.9 170,214.8 170.8,215.7 171.8,216.7 172.9,217.8 174.2,219 175.4,220.1 176.6,221 177.5,221.7 178.3,222.1 178.9,222.3 179.5,222.4 179.9,222.3 180.3,222.3 180.6,222.3" stroke="#f4a0a0" stroke-width="0.7"/>
<path d="M161,222.3 161.4,221.9 161.9,221.3 162.6,220.6 163.2,219.9 163.9,219 164.4,218.1 165,217 165.5,215.7 166.1,214.3 166.6,212.9 167,211.8 167.3,210.9" stroke="#f4a0a0" stroke-width="0.7"/>
<path d="M148.8,163 149.2,162.7 149.7,162.2 150.3,161.7 151,161.2 151.6,160.6 152.2,160 152.8,159.4 153.3,158.9 153.8,158.4 154.4,157.8 155,156.9 155.6,155.8 156.5,154.2 157.5,152.2 158.5,150 159.6,147.9 160.4,146 161,144.7" stroke="#f4a0a0" stroke-width="0.75"/>
<path d="M197.7,163 197.3,162.7 196.8,162.2 196.2,161.7 195.5,161.2 194.9,160.6 194.3,160 193.7,159.4 193.2,158.9 192.7,158.4 192.1,157.8 191.5,156.9 190.9,155.8 190,154.2 189,152.2 188,150 186.9,147.9 186.1,146 185.5,144.7" stroke="#f4a0a0" stroke-width="0.75"/>
<path d="M167.4,144.7 167.9,145.9 168.6,147.7 169.5,149.7 170.4,151.9 171.4,154 172.3,155.8 173.2,157.5 174.2,159.3 175.2,161 176.1,162.5 176.9,163.8 177.5,164.8" stroke="#f4a0a0" stroke-width="0.8"/>
<path d="M177.5,164.8 178.4,163.8 179.6,162.4 181,160.8 182.6,159.1 184.1,157.4 185.5,155.8 186.8,154.3 188.1,152.8 189.5,151.3 190.8,149.8 191.9,148.5 192.8,147.5 193.5,146.6 194.1,146 194.5,145.6 194.8,145.2 195,145 195.3,144.7" stroke="#f4a0a0" stroke-width="0.8"/>
<path d="M148.8,154.3 149.2,153.9 149.7,153.5 150.3,153 151,152.4 151.6,151.8 152.2,151.3 152.8,150.8 153.4,150.3 154,149.8 154.5,149.3 155.1,148.8 155.6,148.3 156.2,147.7 156.8,147 157.3,146.3 157.8,145.7 158.3,145.1 158.6,144.7" stroke="#f4a0a0" stroke-width="0.7"/>
<path d="M197.7,154.3 197.3,153.9 196.8,153.5 196.2,153 195.5,152.4 194.9,151.8 194.3,151.3 193.7,150.8 193.1,150.3 192.5,149.8 192,149.3 191.4,148.8 190.9,148.3 190.3,147.7 189.7,147 189.2,146.3 188.7,145.7 188.2,145.1 187.9,144.7" stroke="#f4a0a0" stroke-width="0.7"/>
<path d="M148.8,221.1 149.4,221.2 150.3,221.2 151.3,221.4 152.5,221.5 153.6,221.6 154.7,221.7 155.8,221.8 157,221.9 158.2,222 159.4,222.1 160.3,222.2 161,222.3" stroke="#f4a0a0" stroke-width="0.7"/>
<path d="M197.7,221.1 197.1,221.2 196.2,221.2 195.2,221.4 194,221.5 192.9,221.6 191.8,221.7 190.7,221.8 189.5,221.9 188.3,222 187.1,222.1 186.2,222.2 185.5,222.3" stroke="#f4a0a0" stroke-width="0.7"/>
<path d="M151.7,144.7 152.3,146.6 153,149.2 153.9,152.2 154.9,155.4 155.8,158.4 156.6,160.8 157.3,162.8 158,164.6 158.7,166.2 159.3,167.6 160,168.8 160.5,169.8 161.1,170.6 161.6,171.2 162,171.6 162.5,171.8 162.9,171.8 163.5,171.6 164.1,171 164.8,170.1 165.6,169 166.3,167.9 166.9,166.9 167.3,166.2" stroke="#8fbef0" stroke-width="0.8"/>
<path d="M151.7,222.3 152.3,220.4 153,217.8 153.9,214.7 154.9,211.5 155.8,208.5 156.6,206.2 157.3,204.4 158,202.9 158.7,201.7 159.3,200.6 160,199.8 160.5,199 161.1,198.4 161.6,198 162,197.7 162.5,197.6 162.9,197.7 163.5,197.8 164.1,198.2 164.8,198.8 165.6,199.5 166.3,200.3 166.9,201 167.3,201.4" stroke="#8fbef0" stroke-width="0.8"/>
<path d="M155.6,144.7 167.3,166.2" stroke="#8fbef0" stroke-width="0.8"/>
<path d="M177.5,183.5 193.3,222.3" stroke="#8fbef0" stroke-width="0.8"/>
<path d="M177.5,183.5 195.7,144.7" stroke="#8fbef0" stroke-width="0.8"/>
<path d="M179.1,150.7 179.5,152.3 180.1,154.6 180.8,157.2 181.6,160 182.3,162.5 183,164.4 183.7,165.9 184.3,167.1 185,168.2 185.6,168.9 186.3,169.2 186.9,169.2 187.6,168.6 188.4,167.7 189.1,166.3 189.9,164.7 190.6,162.8 191.3,160.8 192.1,158.4 193,155.4 193.8,152.2 194.6,149.2 195.3,146.6 195.7,144.7" stroke="#8fbef0" stroke-width="0.8"/>
<path d="M179.1,216.3 179.5,214.6 180.2,212 180.9,209.1 181.6,206.2 182.4,203.9 183,202.6 183.6,202.5 184.2,203.2 184.7,204.4 185.3,205.9 185.9,207.4 186.5,208.6 187.1,209.4 187.7,210.1 188.4,210.8 189,211.5 189.7,212.3 190.4,213.3 191.1,214.7 191.8,216.3 192.6,218.1 193.3,219.8 193.9,221.3 194.3,222.3" stroke="#8fbef0" stroke-width="0.8"/>
<path d="M157.6,222.3 158.1,221.3 158.9,219.9 159.7,218.3 160.7,216.6 161.6,215.1 162.5,213.9 163.3,213.1 164.1,212.5 164.9,212.1 165.7,211.8 166.5,211.6 167.3,211.5 168.1,211.6 168.9,211.7 169.8,212 170.6,212.4 171.4,212.8 172.3,213.3 173.2,213.9 174.1,214.5 175.1,215.2 176,216 176.8,216.8 177.5,217.5 178,218.3 178.4,219.2 178.6,220.2 178.8,221 179,221.8 179.1,222.3" stroke="#8fbef0" stroke-width="0.8"/>
<path d="M149.8,144.7 150.3,146 151,148 151.8,150.2 152.7,152.5 153.7,154.5 154.7,156.1 155.6,157.1 156.7,157.8 157.8,158.4 158.9,158.7 160,158.9 161,159 162.1,159.1 163.2,159.2 164.3,159.1 165.4,158.8 166.4,158.2 167.3,157.2 168.1,155.6 168.8,153.4 169.4,150.9 170,148.4 170.5,146.2 170.8,144.7" stroke="#8fbef0" stroke-width="0.7"/>
<path d="M148.8,224.1 149.3,224.1 150.1,224.2 150.9,224.3 151.9,224.3 152.8,224.2 153.7,224.1 154.5,223.8 155.3,223.4 156.1,222.9 157,222.3 157.8,221.7 158.6,221.1 159.4,220.4 160.2,219.6 161.1,218.8 161.9,217.9 162.7,217.1 163.5,216.3 164.2,215.5 165,214.7 165.7,213.9 166.3,213.2 166.9,212.6 167.3,212.1" stroke="#ec2424" stroke-width="1.1" stroke-opacity="0.8"/>
<path d="M197.7,224.1 197.2,224.1 196.4,224.2 195.6,224.3 194.6,224.3 193.7,224.3 192.8,224.1 192,223.7 191.2,223.2 190.4,222.7 189.6,222 188.7,221.3 187.9,220.5 187.1,219.6 186.3,218.7 185.5,217.7 184.7,216.6 183.9,215.5 183,214.5 182.1,213.5 181,212.3 180,211.2 179,210.1 178.1,209.2 177.5,208.6" stroke="#ec2424" stroke-width="1.1" stroke-opacity="0.8"/>
<path d="M149.8,192.4 150.5,193.1 151.4,194.1 152.6,195.2 153.8,196.4 155,197.7 156.1,199 157.2,200.3 158.3,201.8 159.4,203.3 160.5,204.8 161.5,206.2 162.5,207.4 163.4,208.4 164.4,209.4 165.3,210.3 166.1,211 166.8,211.7 167.3,212.1" stroke="#f4a0a0" stroke-width="0.7"/>
<path d="M167.3,201.4 167.8,202.1 168.6,203 169.5,204.1 170.4,205.2 171.4,206.4 172.3,207.4 173.2,208.2 174.1,208.8 175,209.5 175.9,210.2 176.8,211 177.5,212.1 178.1,213.6 178.7,215.5 179.1,217.5 179.5,219.5 179.8,221.1 180.1,222.3" stroke="#1f78e0" stroke-width="1.0" stroke-opacity="0.9"/>
<path d="M167.3,201.4 166.9,201.2 166.3,200.8 165.6,200.3 164.9,199.9 164.2,199.7 163.5,199.6 162.8,199.8 162.2,200 161.6,200.4 161,200.9 160.3,201.7 159.6,202.6 158.7,203.8 157.6,205.3 156.6,206.9 155.5,208.7 154.5,210.4 153.7,212.1 153,213.9 152.4,215.9 151.9,217.8 151.4,219.6 151,221.2 150.8,222.3" stroke="#8fbef0" stroke-width="0.9"/>
<path d="M156.1,222.3 156.8,221.3 157.8,219.9 159,218.3 160.3,216.6 161.4,215.1 162.5,213.9 163.3,213.1 164,212.3 164.6,211.8 165.3,211.3 166.2,211.1 167.3,210.9 168.7,211 170.3,211.3 172,211.8 173.9,212.3 175.7,212.9 177.5,213.3 179.2,213.8 181,214.3 182.7,214.8 184.5,215.2 186.2,215.5 187.9,215.7 189.7,215.7 191.6,215.5 193.5,215.3 195.2,215 196.6,214.7 197.7,214.5" stroke="#8fbef0" stroke-width="0.8"/>
<path d="M148.8,155.2 149.4,155.5 150.3,155.9 151.3,156.4 152.5,157 153.6,157.6 154.7,158.2 155.7,158.9 156.8,159.7 157.8,160.6 158.9,161.4 160,162.2 161,163 162,163.7 163,164.4 163.9,165.1 164.9,165.8 166,166.2 167.3,166.6 168.8,166.7 170.5,166.6 172.3,166.5 174.1,166.2 175.9,165.8 177.5,165.4 179,164.8 180.4,164 181.7,163.1 183,162.2 184.3,161.3 185.5,160.6 186.6,160 187.7,159.4 188.8,158.9 189.8,158.5 190.8,158 191.8,157.6 192.9,157.1 194,156.7 195.2,156.2 196.2,155.8 197.1,155.5 197.7,155.2" stroke="#ec2424" stroke-width="0.8" stroke-opacity="0.55"/>
<path d="M148.8,149.1 149.3,149.2 150,149.4 150.9,149.5 151.8,149.7 152.8,149.8 153.7,149.8 154.6,149.8 155.6,149.8 156.7,149.7 157.7,149.5 158.7,149.3 159.6,148.9 160.4,148.3 161.2,147.6 161.9,146.7 162.5,145.9 163.1,145.2 163.5,144.7" stroke="#ec2424" stroke-width="1.3" stroke-opacity="0.85"/>
<path d="M177.5,165.1 178.2,164.8 179.2,164.2 180.3,163.6 181.6,163 182.8,162.3 184,161.8 185.1,161.2 186.3,160.6 187.4,160 188.6,159.5 189.7,159.2 190.9,159.2 192.1,159.5 193.4,160.1 194.7,160.9 195.9,161.7 197,162.5 197.7,163" stroke="#ec2424" stroke-width="0.9" stroke-opacity="0.7"/>
<path d="M148.8,163 149.3,162.5 150,161.8 150.8,160.9 151.7,160.1 152.7,159.5 153.7,159.2 154.7,159.1 155.8,159.3 157,159.6 158.2,160 159.4,160.6 160.5,161.2 161.7,161.9 163,162.9 164.3,164 165.5,165 166.6,165.9 167.3,166.6" stroke="#ec2424" stroke-width="0.9" stroke-opacity="0.6"/>
<path d="M183,144.7 183.6,145.6 184.3,147 185.2,148.6 186.1,150.1 187,151.5 187.9,152.5 188.7,153 189.6,153.3 190.4,153.4 191.2,153.3 192,153.2 192.8,153.1 193.7,152.9 194.6,152.6 195.6,152.2 196.4,151.8 197.2,151.5 197.7,151.3" stroke="#f4a0a0" stroke-width="0.8"/>
<path d="M155.6,144.7 167.3,166.2 177.5,183.5" stroke="#1f78e0" stroke-width="0.9"/>
<path d="M167.3,201.4 177.5,183.5" stroke="#1f78e0" stroke-width="1.1"/>
<path d="M167.3,166.2 174.2,156.1 181.1,144.7" stroke="#1f78e0" stroke-width="1.3"/>
<path d="M167.3,201.4 174.2,212.1 180.1,222.3" stroke="#1f78e0" stroke-width="1.1"/>
<path d="M167.3,201.4 158.6,213.3 153.7,222.3" stroke="#1f78e0" stroke-width="0.8"/>
<path d="M148.8,193 149.3,193.3 150,193.7 150.9,194.1 151.8,194.6 152.8,195.3 153.7,196 154.6,197 155.6,198.2 156.6,199.4 157.6,200.7 158.6,202 159.6,203.2 160.5,204.3 161.3,205.4 162.2,206.5 163,207.5 163.8,208.4 164.4,209.2 165,209.8 165.3,210.2 165.5,210.6 165.9,210.9 166.4,211 167.3,210.9 168.6,210.8 170.3,210.4 172.2,209.9 174.1,209.3 175.9,208.7 177.5,208 178.8,207.2 179.9,206.4 181,205.5 182,204.5 182.9,203.6 184,202.6 185.1,201.6 186.3,200.6 187.4,199.5 188.6,198.5 189.7,197.5 190.9,196.6 192.1,195.9 193.4,195.1 194.7,194.5 195.9,193.9 197,193.4 197.7,193" stroke="#ec2424" stroke-width="1.0"/>
<path d="M166.8,211.2 167.4,211 168.2,210.8 169.2,210.6 170.3,210.3 171.3,210 172.3,209.8 173.2,209.5 174.2,209.1 175.2,208.8 176.2,208.4 176.9,208.2 177.5,208" stroke="#ec2424" stroke-width="1.9"/>
<path d="M158.6,155.8 159.1,156.7 159.9,158 160.8,159.5 161.7,161.1 162.7,162.5 163.5,163.6 164.1,164.4 164.6,165.1 165,165.6 165.6,166.1 166.3,166.4 167.3,166.6 168.7,166.6 170.6,166.4 172.6,166 174.6,165.7 176.3,165.3 177.5,165.1" stroke="#ec2424" stroke-width="1.0"/>
<path d="M167.3,166.6 167.8,166.5 168.6,166.4 169.5,166.3 170.4,166.2 171.4,166.1 172.3,166 173.2,165.8 174.2,165.7 175.2,165.5 176.1,165.3 176.9,165.2 177.5,165.1" stroke="#ec2424" stroke-width="1.7" stroke-opacity="0.9"/>
</g>
<rect x="148.8" y="147.7" width="48.9" height="71.6" fill="none" stroke="#505050" stroke-width="1.3"/>
<text x="173.25" y="145.70" font-size="4.6" text-anchor="middle" fill="#333">E<tspan font-size="3" dy="1">z</tspan><tspan dy="-1"> = -0.2 V/Å</tspan></text>
<text x="148.80" y="224.50" font-size="5.2" text-anchor="middle" fill="#333">Γ</text>
<text x="167.28" y="224.50" font-size="5.2" text-anchor="middle" fill="#333">M</text>
<text x="177.50" y="224.50" font-size="5.2" text-anchor="middle" fill="#333">K</text>
<text x="197.70" y="224.50" font-size="5.2" text-anchor="middle" fill="#333">Γ</text>
<clipPath id="c197"><rect x="208.25000000000003" y="147.7" width="48.9" height="71.6"/></clipPath>
<g clip-path="url(#c197)" fill="none" stroke-linejoin="round">
<line x1="226.7" y1="147.7" x2="226.7" y2="219.29999999999998" stroke="#a0a0a0" stroke-width="0.6"/>
<line x1="237.0" y1="147.7" x2="237.0" y2="219.29999999999998" stroke="#a0a0a0" stroke-width="0.6"/>
<line x1="208.25000000000003" y1="183.5" x2="257.15000000000003" y2="183.5" stroke="#a0a0a0" stroke-width="0.6"/>
<path d="M208.3,192.4 208.7,193 209.3,193.7 210,194.5 210.7,195.5 211.5,196.6 212.2,197.8 212.8,199.2 213.3,200.7 213.9,202.3 214.5,204.1 215,206 215.6,208 216.2,210.3 216.9,213 217.5,215.8 218.1,218.4 218.6,220.7 219,222.3" stroke="#f4a0a0" stroke-width="0.75"/>
<path d="M257.2,192.4 256.7,193 256.1,193.7 255.4,194.5 254.7,195.5 253.9,196.6 253.2,197.8 252.6,199.2 252.1,200.7 251.5,202.3 250.9,204.1 250.4,206 249.8,208 249.2,210.3 248.5,213 247.9,215.8 247.3,218.4 246.8,220.7 246.4,222.3" stroke="#f4a0a0" stroke-width="0.75"/>
<path d="M226.7,210.3 227.1,210.9 227.5,211.5 228.1,212.4 228.7,213.3 229.4,214.2 230.3,215.1 231.2,216.1 232.4,217.2 233.6,218.3 234.9,219.4 236,220.4 237,221.1 237.7,221.6 238.4,221.9 238.9,222.1 239.4,222.2 239.7,222.2 240,222.3" stroke="#f4a0a0" stroke-width="0.7"/>
<path d="M220.5,222.3 220.9,221.8 221.4,221.1 222,220.3 222.7,219.5 223.3,218.5 223.9,217.5 224.4,216.4 225,215 225.5,213.6 226,212.3 226.4,211.2 226.7,210.3" stroke="#f4a0a0" stroke-width="0.7"/>
<path d="M208.3,161.8 208.6,161.5 209.1,161.1 209.7,160.6 210.4,160 211.1,159.4 211.7,158.8 212.2,158.2 212.7,157.7 213.3,157.1 213.8,156.5 214.4,155.7 215.1,154.6 215.9,153.2 216.9,151.4 218,149.4 219,147.5 219.9,145.9 220.5,144.7" stroke="#f4a0a0" stroke-width="0.75"/>
<path d="M257.2,161.8 256.8,161.5 256.3,161.1 255.7,160.6 255,160 254.3,159.4 253.7,158.8 253.2,158.2 252.7,157.7 252.1,157.1 251.6,156.5 251,155.7 250.3,154.6 249.5,153.2 248.5,151.4 247.4,149.4 246.4,147.5 245.5,145.9 244.9,144.7" stroke="#f4a0a0" stroke-width="0.75"/>
<path d="M226.8,144.7 227.4,145.8 228.1,147.3 228.9,149.1 229.9,151 230.8,152.9 231.7,154.6 232.6,156.3 233.6,158 234.6,159.7 235.6,161.3 236.4,162.6 237,163.6" stroke="#f4a0a0" stroke-width="0.8"/>
<path d="M237,163.6 237.8,162.6 239,161.2 240.5,159.6 242,157.9 243.5,156.2 244.9,154.6 246.2,153.1 247.6,151.5 248.9,150 250.2,148.5 251.3,147.3 252.3,146.3 253,145.6 253.5,145.2 253.9,145 254.3,144.9 254.5,144.8 254.7,144.7" stroke="#f4a0a0" stroke-width="0.8"/>
<path d="M208.3,154.3 208.6,153.9 209.1,153.5 209.7,153 210.4,152.4 211.1,151.8 211.7,151.3 212.2,150.8 212.8,150.3 213.4,149.8 214,149.3 214.6,148.8 215.1,148.3 215.6,147.7 216.2,147 216.8,146.3 217.3,145.7 217.7,145.1 218,144.7" stroke="#f4a0a0" stroke-width="0.7"/>
<path d="M257.2,154.3 256.8,153.9 256.3,153.5 255.7,153 255,152.4 254.3,151.8 253.7,151.3 253.2,150.8 252.6,150.3 252,149.8 251.4,149.3 250.8,148.8 250.3,148.3 249.8,147.7 249.2,147 248.6,146.3 248.1,145.7 247.7,145.1 247.4,144.7" stroke="#f4a0a0" stroke-width="0.7"/>
<path d="M208.3,220.5 208.9,220.6 209.8,220.6 210.8,220.7 211.9,220.8 213,220.9 214.1,221.1 215.2,221.3 216.4,221.5 217.7,221.7 218.8,222 219.8,222.1 220.5,222.3" stroke="#f4a0a0" stroke-width="0.7"/>
<path d="M257.2,220.5 256.5,220.6 255.6,220.6 254.6,220.7 253.5,220.8 252.4,220.9 251.3,221.1 250.2,221.3 249,221.5 247.7,221.7 246.6,222 245.6,222.1 244.9,222.3" stroke="#f4a0a0" stroke-width="0.7"/>
<path d="M211.2,144.7 211.7,146.6 212.5,149.2 213.4,152.2 214.3,155.4 215.3,158.4 216.1,160.8 216.8,162.8 217.5,164.6 218.2,166.2 218.8,167.6 219.4,168.8 220,169.8 220.5,170.6 221,171.2 221.5,171.6 221.9,171.8 222.4,171.8 222.9,171.6 223.5,171 224.3,170.1 225,169 225.7,167.9 226.3,166.9 226.7,166.2" stroke="#8fbef0" stroke-width="0.8"/>
<path d="M211.2,222.3 211.7,220.4 212.5,217.8 213.4,214.7 214.3,211.5 215.3,208.5 216.1,206.2 216.8,204.4 217.5,202.9 218.2,201.7 218.8,200.6 219.4,199.8 220,199 220.5,198.4 221,198 221.5,197.7 221.9,197.6 222.4,197.7 222.9,197.8 223.5,198.2 224.3,198.8 225,199.5 225.7,200.3 226.3,201 226.7,201.4" stroke="#8fbef0" stroke-width="0.8"/>
<path d="M215.1,144.7 226.7,166.2" stroke="#8fbef0" stroke-width="0.8"/>
<path d="M237,183.5 252.7,222.3" stroke="#8fbef0" stroke-width="0.8"/>
<path d="M237,183.5 255.2,144.7" stroke="#8fbef0" stroke-width="0.8"/>
<path d="M238.6,150.7 239,152.3 239.6,154.6 240.3,157.2 241,160 241.8,162.5 242.5,164.4 243.1,165.9 243.8,167.1 244.4,168.2 245.1,168.9 245.7,169.2 246.4,169.2 247.1,168.6 247.8,167.7 248.6,166.3 249.3,164.7 250.1,162.8 250.8,160.8 251.6,158.4 252.4,155.4 253.3,152.2 254.1,149.2 254.7,146.6 255.2,144.7" stroke="#8fbef0" stroke-width="0.8"/>
<path d="M238.6,216.3 239,214.6 239.6,212 240.3,209.1 241.1,206.2 241.8,203.9 242.5,202.6 243.1,202.5 243.6,203.2 244.2,204.4 244.7,205.9 245.3,207.4 245.9,208.6 246.5,209.4 247.2,210.1 247.8,210.8 248.5,211.5 249.2,212.3 249.8,213.3 250.5,214.7 251.3,216.3 252,218.1 252.7,219.8 253.3,221.3 253.7,222.3" stroke="#8fbef0" stroke-width="0.8"/>
<path d="M217.1,222.3 217.6,221.3 218.3,219.9 219.2,218.3 220.1,216.6 221.1,215.1 221.9,213.9 222.7,213.1 223.5,212.5 224.3,212.1 225.1,211.8 225.9,211.6 226.7,211.5 227.6,211.6 228.4,211.7 229.2,212 230,212.4 230.9,212.8 231.7,213.3 232.6,213.9 233.6,214.5 234.5,215.2 235.5,216 236.3,216.8 237,217.5 237.5,218.3 237.8,219.2 238.1,220.2 238.3,221 238.4,221.8 238.6,222.3" stroke="#8fbef0" stroke-width="0.8"/>
<path d="M209.2,144.7 209.7,146 210.4,148 211.3,150.2 212.2,152.5 213.2,154.5 214.1,156.1 215.1,157.1 216.1,157.8 217.2,158.4 218.3,158.7 219.4,158.9 220.5,159 221.6,159.1 222.7,159.2 223.8,159.1 224.9,158.8 225.9,158.2 226.7,157.2 227.5,155.6 228.2,153.4 228.9,150.9 229.4,148.4 229.9,146.2 230.3,144.7" stroke="#8fbef0" stroke-width="0.7"/>
<path d="M208.3,223.5 208.8,223.5 209.5,223.6 210.4,223.7 211.3,223.7 212.3,223.6 213.1,223.5 214,223.2 214.8,222.8 215.6,222.3 216.4,221.7 217.2,221.1 218,220.5 218.9,219.8 219.7,219 220.5,218.2 221.4,217.3 222.2,216.5 222.9,215.7 223.7,214.9 224.4,214.1 225.1,213.3 225.8,212.6 226.3,212 226.7,211.5" stroke="#ec2424" stroke-width="1.1" stroke-opacity="0.8"/>
<path d="M257.2,223.5 256.6,223.5 255.9,223.6 255,223.7 254.1,223.7 253.1,223.7 252.3,223.5 251.4,223.1 250.6,222.6 249.8,222.1 249,221.4 248.2,220.7 247.4,219.9 246.6,219 245.8,218.1 245,217.1 244.2,216 243.3,215 242.5,213.9 241.5,212.9 240.5,211.7 239.4,210.6 238.4,209.5 237.6,208.6 237,208" stroke="#ec2424" stroke-width="1.1" stroke-opacity="0.8"/>
<path d="M209.2,191.9 209.9,192.5 210.9,193.5 212,194.6 213.2,195.9 214.5,197.1 215.6,198.4 216.7,199.7 217.8,201.2 218.9,202.7 219.9,204.2 221,205.6 221.9,206.8 222.9,207.8 223.8,208.8 224.7,209.7 225.5,210.4 226.2,211.1 226.7,211.5" stroke="#f4a0a0" stroke-width="0.7"/>
<path d="M226.7,201.4 227.3,202.1 228,203 228.9,204.1 229.9,205.2 230.8,206.4 231.7,207.4 232.6,208.2 233.5,208.8 234.5,209.5 235.4,210.2 236.2,211 237,212.1 237.6,213.6 238.1,215.5 238.6,217.5 239,219.5 239.3,221.1 239.5,222.3" stroke="#1f78e0" stroke-width="1.0" stroke-opacity="0.9"/>
<path d="M226.7,201.4 226.3,201.2 225.7,200.8 225.1,200.3 224.3,199.9 223.6,199.7 222.9,199.6 222.3,199.8 221.7,200 221.1,200.4 220.5,200.9 219.8,201.7 219,202.6 218.1,203.8 217.1,205.3 216,206.9 215,208.7 214,210.4 213.1,212.1 212.4,213.9 211.8,215.9 211.3,217.8 210.9,219.6 210.5,221.2 210.2,222.3" stroke="#8fbef0" stroke-width="0.9"/>
<path d="M215.6,222.3 216.3,221.3 217.3,219.9 218.5,218.3 219.7,216.6 220.9,215.1 221.9,213.9 222.8,213.1 223.5,212.3 224.1,211.8 224.8,211.3 225.6,211.1 226.7,210.9 228.1,211 229.7,211.3 231.5,211.8 233.3,212.3 235.2,212.9 237,213.3 238.7,213.8 240.4,214.3 242.2,214.8 243.9,215.2 245.7,215.5 247.4,215.7 249.1,215.7 251,215.5 252.9,215.3 254.6,215 256.1,214.7 257.2,214.5" stroke="#8fbef0" stroke-width="0.8"/>
<path d="M208.3,154 208.9,154.3 209.8,154.7 210.8,155.2 211.9,155.8 213,156.4 214.1,157 215.2,157.7 216.2,158.5 217.3,159.4 218.3,160.2 219.4,161 220.5,161.8 221.5,162.5 222.4,163.2 223.4,163.9 224.4,164.6 225.5,165.1 226.7,165.4 228.2,165.5 229.9,165.4 231.7,165.3 233.6,165 235.3,164.6 237,164.2 238.4,163.6 239.8,162.8 241.2,161.9 242.5,161 243.7,160.1 244.9,159.4 246.1,158.8 247.2,158.2 248.2,157.8 249.3,157.3 250.3,156.9 251.3,156.4 252.4,156 253.5,155.5 254.6,155 255.6,154.6 256.5,154.3 257.2,154" stroke="#ec2424" stroke-width="0.8" stroke-opacity="0.55"/>
<path d="M208.3,149.1 208.8,149.2 209.5,149.4 210.3,149.5 211.3,149.7 212.2,149.8 213.1,149.8 214.1,149.8 215.1,149.8 216.1,149.7 217.2,149.5 218.1,149.3 219,148.9 219.8,148.3 220.6,147.6 221.3,146.7 222,145.9 222.5,145.2 222.9,144.7" stroke="#ec2424" stroke-width="1.3" stroke-opacity="0.85"/>
<path d="M237,163.9 237.7,163.6 238.6,163 239.8,162.4 241,161.8 242.3,161.1 243.5,160.6 244.6,160 245.7,159.4 246.9,158.8 248,158.3 249.2,158 250.3,158 251.5,158.3 252.8,158.9 254.2,159.7 255.4,160.6 256.4,161.3 257.2,161.8" stroke="#ec2424" stroke-width="0.9" stroke-opacity="0.7"/>
<path d="M208.3,161.8 208.8,161.3 209.4,160.6 210.3,159.7 211.2,158.9 212.2,158.3 213.1,158 214.2,157.9 215.3,158.1 216.4,158.4 217.6,158.9 218.8,159.4 220,160 221.2,160.8 222.5,161.7 223.8,162.8 225,163.8 226,164.7 226.7,165.4" stroke="#ec2424" stroke-width="0.9" stroke-opacity="0.6"/>
<path d="M242.5,144.7 243,145.6 243.7,147 244.6,148.6 245.6,150.1 246.5,151.5 247.4,152.5 248.2,153 249,153.3 249.8,153.4 250.6,153.3 251.4,153.2 252.3,153.1 253.1,152.9 254.1,152.6 255,152.2 255.9,151.8 256.6,151.5 257.2,151.3" stroke="#f4a0a0" stroke-width="0.8"/>
<path d="M215.1,144.7 226.7,166.2 237,183.5" stroke="#1f78e0" stroke-width="0.9"/>
<path d="M226.7,201.4 237,183.5" stroke="#1f78e0" stroke-width="1.1"/>
<path d="M226.7,166.2 233.7,156.1 240.5,144.7" stroke="#1f78e0" stroke-width="1.3"/>
<path d="M226.7,201.4 233.7,212.1 239.5,222.3" stroke="#1f78e0" stroke-width="1.1"/>
<path d="M226.7,201.4 218,213.3 213.1,222.3" stroke="#1f78e0" stroke-width="0.8"/>
<path d="M208.3,192.4 208.8,192.7 209.5,193.1 210.3,193.5 211.3,194 212.2,194.7 213.1,195.4 214.1,196.4 215.1,197.6 216.1,198.8 217.1,200.1 218.1,201.4 219,202.6 219.9,203.7 220.8,204.8 221.6,205.9 222.5,206.9 223.2,207.8 223.9,208.6 224.4,209.2 224.7,209.6 225,210 225.3,210.3 225.9,210.4 226.7,210.3 228.1,210.2 229.7,209.8 231.6,209.3 233.5,208.7 235.4,208.1 237,207.4 238.2,206.6 239.4,205.8 240.4,204.9 241.4,203.9 242.4,203 243.5,202 244.6,201 245.7,200 246.9,198.9 248,197.9 249.2,196.9 250.3,196 251.5,195.3 252.8,194.5 254.2,193.9 255.4,193.3 256.4,192.8 257.2,192.4" stroke="#ec2424" stroke-width="1.0"/>
<path d="M226.2,210.6 226.8,210.4 227.7,210.2 228.7,210 229.7,209.7 230.8,209.4 231.7,209.2 232.7,208.9 233.7,208.5 234.7,208.2 235.6,207.8 236.4,207.6 237,207.4" stroke="#ec2424" stroke-width="1.9"/>
<path d="M218,154.6 218.6,155.5 219.3,156.8 220.2,158.3 221.2,159.9 222.1,161.3 222.9,162.4 223.5,163.2 224,163.9 224.5,164.4 225,164.9 225.7,165.2 226.7,165.4 228.2,165.4 230,165.2 232.1,164.8 234.1,164.5 235.8,164.1 237,163.9" stroke="#ec2424" stroke-width="1.0"/>
<path d="M226.7,165.4 227.3,165.3 228,165.2 228.9,165.1 229.9,165 230.8,164.9 231.7,164.8 232.6,164.6 233.6,164.5 234.6,164.3 235.6,164.2 236.4,164 237,163.9" stroke="#ec2424" stroke-width="1.7" stroke-opacity="0.9"/>
</g>
<rect x="208.25000000000003" y="147.7" width="48.9" height="71.6" fill="none" stroke="#505050" stroke-width="1.3"/>
<text x="232.70" y="145.70" font-size="4.6" text-anchor="middle" fill="#333">E<tspan font-size="3" dy="1">z</tspan><tspan dy="-1"> = -0.1 V/Å</tspan></text>
<text x="208.25" y="224.50" font-size="5.2" text-anchor="middle" fill="#333">Γ</text>
<text x="226.73" y="224.50" font-size="5.2" text-anchor="middle" fill="#333">M</text>
<text x="236.95" y="224.50" font-size="5.2" text-anchor="middle" fill="#333">K</text>
<text x="257.15" y="224.50" font-size="5.2" text-anchor="middle" fill="#333">Γ</text>
<clipPath id="c250"><rect x="29.9" y="235.6" width="48.9" height="71.6"/></clipPath>
<g clip-path="url(#c250)" fill="none" stroke-linejoin="round">
<line x1="48.4" y1="235.6" x2="48.4" y2="307.2" stroke="#a0a0a0" stroke-width="0.6"/>
<line x1="58.6" y1="235.6" x2="58.6" y2="307.2" stroke="#a0a0a0" stroke-width="0.6"/>
<line x1="29.9" y1="271.4" x2="78.8" y2="271.4" stroke="#a0a0a0" stroke-width="0.6"/>
<path d="M29.9,274.5 30.3,275 30.9,275.7 31.6,276.6 32.4,277.5 33.1,278.6 33.8,279.9 34.4,281.2 35,282.5 35.6,284 36.1,285.7 36.7,287.7 37.2,290 37.8,293 38.5,296.7 39.2,300.7 39.8,304.6 40.3,307.9 40.7,310.2" stroke="#f4a0a0" stroke-width="0.75"/>
<path d="M78.8,274.5 78.4,275 77.8,275.7 77.1,276.6 76.3,277.5 75.6,278.6 74.9,279.9 74.3,281.2 73.7,282.5 73.1,284 72.6,285.7 72,287.7 71.5,290 70.9,293 70.2,296.7 69.5,300.7 68.9,304.6 68.4,307.9 68,310.2" stroke="#f4a0a0" stroke-width="0.75"/>
<path d="M48.4,292.4 48.7,292.9 49.2,293.6 49.7,294.4 50.4,295.3 51.1,296.3 51.9,297.2 52.9,298.1 54,299 55.3,300 56.5,301 57.7,302.1 58.6,303.1 59.4,304.3 60,305.7 60.6,307 61,308.3 61.4,309.4 61.7,310.2" stroke="#f4a0a0" stroke-width="0.7"/>
<path d="M42.1,310.2 42.5,309 43,307.3 43.7,305.3 44.3,303.2 45,301.3 45.5,299.6 46.1,298.1 46.6,296.7 47.2,295.3 47.7,294.1 48.1,293.1 48.4,292.4" stroke="#f4a0a0" stroke-width="0.7"/>
<path d="M29.9,245.1 30.3,244.8 30.8,244.4 31.4,243.9 32.1,243.4 32.7,242.8 33.3,242.2 33.9,241.6 34.4,240.9 34.9,240.2 35.5,239.5 36.1,238.8 36.7,238 37.6,237.1 38.6,236.1 39.6,235 40.7,234.1 41.5,233.2 42.1,232.6" stroke="#f4a0a0" stroke-width="0.75"/>
<path d="M78.8,245.1 78.4,244.8 77.9,244.4 77.3,243.9 76.6,243.4 76,242.8 75.4,242.2 74.8,241.6 74.3,240.9 73.8,240.2 73.2,239.5 72.6,238.8 72,238 71.1,237.1 70.1,236.1 69.1,235 68,234.1 67.2,233.2 66.6,232.6" stroke="#f4a0a0" stroke-width="0.75"/>
<path d="M48.5,232.6 49,233.2 49.7,233.9 50.6,234.7 51.5,235.7 52.5,236.8 53.4,238 54.3,239.4 55.3,241 56.3,242.8 57.2,244.5 58,245.9 58.6,246.9" stroke="#f4a0a0" stroke-width="0.8"/>
<path d="M58.6,246.9 59.5,246 60.7,244.6 62.1,243 63.7,241.3 65.2,239.5 66.6,238 67.9,236.4 69.2,234.7 70.6,233.1 71.9,231.6 73,230.4 73.9,229.6 74.6,229.5 75.2,229.9 75.6,230.6 75.9,231.4 76.1,232.2 76.4,232.6" stroke="#f4a0a0" stroke-width="0.8"/>
<path d="M29.9,242.2 30.3,241.8 30.8,241.4 31.4,240.9 32.1,240.3 32.7,239.7 33.3,239.2 33.9,238.7 34.5,238.2 35.1,237.7 35.6,237.2 36.2,236.7 36.7,236.2 37.3,235.6 37.9,234.9 38.4,234.2 38.9,233.6 39.4,233 39.7,232.6" stroke="#f4a0a0" stroke-width="0.7"/>
<path d="M78.8,242.2 78.4,241.8 77.9,241.4 77.3,240.9 76.6,240.3 76,239.7 75.4,239.2 74.8,238.7 74.2,238.2 73.6,237.7 73.1,237.2 72.5,236.7 72,236.2 71.4,235.6 70.8,234.9 70.3,234.2 69.8,233.6 69.3,233 69,232.6" stroke="#f4a0a0" stroke-width="0.7"/>
<path d="M29.9,302.5 30.5,302.5 31.4,302.5 32.4,302.4 33.6,302.4 34.7,302.7 35.8,303.1 36.9,304 38.1,305.3 39.3,306.7 40.5,308.1 41.4,309.3 42.1,310.2" stroke="#f4a0a0" stroke-width="0.7"/>
<path d="M78.8,302.5 78.2,302.5 77.3,302.5 76.3,302.4 75.1,302.4 74,302.7 72.9,303.1 71.8,304 70.6,305.3 69.4,306.7 68.2,308.1 67.3,309.3 66.6,310.2" stroke="#f4a0a0" stroke-width="0.7"/>
<path d="M32.8,232.6 33.4,234.5 34.1,237.1 35,240.1 36,243.3 36.9,246.3 37.7,248.7 38.4,250.7 39.1,252.5 39.8,254.1 40.4,255.5 41.1,256.7 41.6,257.7 42.2,258.5 42.7,259.1 43.1,259.5 43.6,259.7 44,259.7 44.6,259.5 45.2,258.9 45.9,258 46.7,256.9 47.4,255.8 48,254.8 48.4,254.1" stroke="#8fbef0" stroke-width="0.8"/>
<path d="M32.8,310.2 33.4,308.3 34.1,305.7 35,302.6 36,299.4 36.9,296.4 37.7,294.1 38.4,292.3 39.1,290.8 39.8,289.6 40.4,288.5 41.1,287.7 41.6,286.9 42.2,286.3 42.7,285.9 43.1,285.6 43.6,285.5 44,285.6 44.6,285.7 45.2,286.1 45.9,286.7 46.7,287.4 47.4,288.2 48,288.9 48.4,289.3" stroke="#8fbef0" stroke-width="0.8"/>
<path d="M36.7,232.6 48.4,254.1" stroke="#8fbef0" stroke-width="0.8"/>
<path d="M58.6,271.4 74.4,310.2" stroke="#8fbef0" stroke-width="0.8"/>
<path d="M58.6,271.4 76.8,232.6" stroke="#8fbef0" stroke-width="0.8"/>
<path d="M60.2,238.6 60.6,240.2 61.2,242.5 61.9,245.1 62.7,247.9 63.4,250.4 64.1,252.3 64.8,253.8 65.4,255 66.1,256.1 66.7,256.8 67.4,257.1 68,257.1 68.7,256.5 69.5,255.6 70.2,254.2 71,252.6 71.7,250.7 72.4,248.7 73.2,246.3 74.1,243.3 74.9,240.1 75.7,237.1 76.4,234.5 76.8,232.6" stroke="#8fbef0" stroke-width="0.8"/>
<path d="M60.2,304.2 60.6,302.5 61.3,299.9 62,297 62.7,294.1 63.5,291.8 64.1,290.5 64.7,290.4 65.3,291.1 65.8,292.3 66.4,293.8 67,295.3 67.6,296.5 68.2,297.3 68.8,298 69.5,298.7 70.1,299.4 70.8,300.2 71.5,301.2 72.2,302.6 72.9,304.2 73.7,306 74.4,307.7 75,309.2 75.4,310.2" stroke="#8fbef0" stroke-width="0.8"/>
<path d="M38.7,310.2 39.2,309.2 40,307.8 40.8,306.2 41.8,304.5 42.7,303 43.6,301.8 44.4,301 45.2,300.4 46,300 46.8,299.7 47.6,299.5 48.4,299.4 49.2,299.5 50,299.6 50.9,299.9 51.7,300.3 52.5,300.7 53.4,301.2 54.3,301.8 55.2,302.4 56.2,303.1 57.1,303.9 57.9,304.7 58.6,305.4 59.1,306.2 59.5,307.1 59.7,308.1 59.9,308.9 60.1,309.7 60.2,310.2" stroke="#8fbef0" stroke-width="0.8"/>
<path d="M30.9,232.6 31.4,233.9 32.1,235.9 32.9,238.1 33.8,240.4 34.8,242.4 35.8,244 36.7,245 37.8,245.7 38.9,246.3 40,246.6 41.1,246.8 42.1,246.9 43.2,247 44.3,247.1 45.4,247 46.5,246.7 47.5,246.1 48.4,245.1 49.2,243.5 49.9,241.3 50.5,238.8 51.1,236.3 51.6,234.1 51.9,232.6" stroke="#8fbef0" stroke-width="0.7"/>
<path d="M29.9,305.5 30.4,305.6 31.2,305.6 32,305.7 33,305.8 33.9,305.7 34.8,305.5 35.6,305.2 36.4,304.8 37.2,304.3 38,303.8 38.9,303.2 39.7,302.5 40.5,301.8 41.3,301.1 42.2,300.2 43,299.4 43.8,298.6 44.6,297.8 45.3,297 46.1,296.2 46.8,295.4 47.4,294.7 48,294 48.4,293.6" stroke="#ec2424" stroke-width="1.1" stroke-opacity="0.8"/>
<path d="M78.8,305.5 78.3,305.6 77.5,305.7 76.7,305.8 75.7,305.8 74.8,305.7 73.9,305.5 73.1,305.2 72.3,304.7 71.5,304.1 70.7,303.5 69.8,302.7 69,301.9 68.2,301.1 67.4,300.1 66.6,299.1 65.8,298.1 65,297 64.1,296 63.2,294.9 62.1,293.8 61.1,292.6 60.1,291.6 59.2,290.7 58.6,290" stroke="#ec2424" stroke-width="1.1" stroke-opacity="0.8"/>
<path d="M30.9,273.9 31.6,274.6 32.5,275.5 33.7,276.7 34.9,277.9 36.1,279.2 37.2,280.5 38.3,281.8 39.4,283.3 40.5,284.8 41.6,286.2 42.6,287.6 43.6,288.8 44.5,289.9 45.5,290.9 46.4,291.7 47.2,292.5 47.9,293.1 48.4,293.6" stroke="#f4a0a0" stroke-width="0.7"/>
<path d="M48.4,289.3 48.9,290 49.7,290.9 50.6,292 51.5,293.1 52.5,294.3 53.4,295.3 54.3,296.1 55.2,296.7 56.1,297.4 57,298.1 57.9,298.9 58.6,300 59.2,301.5 59.8,303.4 60.2,305.4 60.6,307.4 60.9,309 61.2,310.2" stroke="#1f78e0" stroke-width="1.0" stroke-opacity="0.9"/>
<path d="M48.4,289.3 48,289.1 47.4,288.7 46.7,288.2 46,287.8 45.3,287.6 44.6,287.5 43.9,287.7 43.3,287.9 42.7,288.3 42.1,288.8 41.4,289.6 40.7,290.5 39.8,291.7 38.7,293.2 37.7,294.8 36.6,296.6 35.6,298.3 34.8,300 34.1,301.8 33.5,303.8 33,305.7 32.5,307.5 32.1,309.1 31.9,310.2" stroke="#8fbef0" stroke-width="0.9"/>
<path d="M37.2,310.2 37.9,309.2 38.9,307.8 40.1,306.2 41.4,304.5 42.5,303 43.6,301.8 44.4,301 45.1,300.2 45.7,299.7 46.4,299.2 47.3,299 48.4,298.8 49.8,298.9 51.4,299.2 53.1,299.7 55,300.2 56.8,300.8 58.6,301.2 60.3,301.7 62.1,302.2 63.8,302.7 65.6,303.1 67.3,303.4 69,303.6 70.8,303.6 72.7,303.4 74.6,303.2 76.3,302.9 77.7,302.6 78.8,302.4" stroke="#8fbef0" stroke-width="0.8"/>
<path d="M29.9,237.4 30.5,237.7 31.4,238.1 32.4,238.6 33.6,239.1 34.7,239.7 35.8,240.4 36.8,241.1 37.9,241.9 38.9,242.7 40,243.6 41.1,244.4 42.1,245.1 43.1,245.9 44.1,246.6 45,247.3 46,247.9 47.1,248.4 48.4,248.7 49.9,248.8 51.6,248.8 53.4,248.7 55.2,248.4 57,248 58.6,247.5 60.1,246.9 61.5,246.1 62.8,245.3 64.1,244.4 65.4,243.5 66.6,242.8 67.7,242.2 68.8,241.6 69.9,241.1 70.9,240.7 71.9,240.2 72.9,239.8 74,239.3 75.1,238.8 76.3,238.4 77.3,238 78.2,237.6 78.8,237.4" stroke="#ec2424" stroke-width="0.8" stroke-opacity="0.55"/>
<path d="M29.9,237 30.4,237.1 31.1,237.3 32,237.4 32.9,237.6 33.9,237.7 34.8,237.7 35.7,237.7 36.7,237.7 37.8,237.6 38.8,237.4 39.8,237.2 40.7,236.8 41.5,236.2 42.3,235.5 43,234.6 43.6,233.8 44.2,233.1 44.6,232.6" stroke="#ec2424" stroke-width="1.3" stroke-opacity="0.85"/>
<path d="M58.6,247.3 59.3,246.9 60.3,246.4 61.4,245.8 62.7,245.1 63.9,244.5 65.1,244 66.2,243.4 67.4,242.8 68.5,242.2 69.7,241.7 70.8,241.4 72,241.3 73.2,241.6 74.5,242.3 75.8,243.1 77,243.9 78.1,244.7 78.8,245.1" stroke="#ec2424" stroke-width="0.9" stroke-opacity="0.7"/>
<path d="M29.9,245.1 30.4,244.7 31.1,243.9 31.9,243.1 32.8,242.3 33.8,241.7 34.8,241.3 35.8,241.3 36.9,241.4 38.1,241.8 39.3,242.2 40.5,242.8 41.6,243.4 42.8,244.1 44.1,245.1 45.4,246.2 46.6,247.2 47.7,248.1 48.4,248.7" stroke="#ec2424" stroke-width="0.9" stroke-opacity="0.6"/>
<path d="M64.1,232.6 64.7,233.5 65.4,234.9 66.3,236.5 67.2,238 68.1,239.4 69,240.4 69.8,240.9 70.7,241.2 71.5,241.3 72.3,241.2 73.1,241.1 73.9,241 74.8,240.8 75.7,240.5 76.7,240.1 77.5,239.7 78.3,239.4 78.8,239.2" stroke="#f4a0a0" stroke-width="0.8"/>
<path d="M29.9,307.7 31,307.7 32.5,307.8 34.2,307.9 36.1,308 38,308.1 39.7,308.2 41.2,308.3 42.6,308.4 44,308.6 45.4,308.7 46.9,308.8 48.4,308.9 50,308.9 51.7,308.8 53.4,308.8 55.1,308.7 56.9,308.6 58.6,308.5 60.3,308.5 62.1,308.4 63.8,308.3 65.6,308.3 67.3,308.2 69,308.2 70.8,308.1 72.7,308 74.6,307.9 76.3,307.8 77.7,307.7 78.8,307.7" stroke="#ec2424" stroke-width="1.2" stroke-opacity="0.85"/>
<path d="M36.7,232.6 48.4,254.1 58.6,271.4" stroke="#1f78e0" stroke-width="0.9"/>
<path d="M48.4,289.3 58.6,271.4" stroke="#1f78e0" stroke-width="1.1"/>
<path d="M48.4,254.1 55.3,244 62.2,232.6" stroke="#1f78e0" stroke-width="1.3"/>
<path d="M48.4,289.3 55.3,300 61.2,310.2" stroke="#1f78e0" stroke-width="1.1"/>
<path d="M48.4,289.3 39.7,301.2 34.8,310.2" stroke="#1f78e0" stroke-width="0.8"/>
<path d="M29.9,274.5 30.4,274.8 31.1,275.1 32,275.5 32.9,276.1 33.9,276.7 34.8,277.5 35.7,278.5 36.7,279.6 37.7,280.9 38.7,282.2 39.7,283.5 40.7,284.6 41.6,285.8 42.4,286.9 43.3,288 44.1,289 44.9,289.9 45.5,290.6 46.1,291.2 46.4,291.7 46.6,292.1 47,292.3 47.5,292.4 48.4,292.4 49.7,292.2 51.4,291.9 53.3,291.4 55.2,290.8 57,290.1 58.6,289.4 59.9,288.7 61,287.8 62.1,286.9 63.1,286 64,285 65.1,284 66.2,283.1 67.4,282 68.5,281 69.7,279.9 70.8,278.9 72,278.1 73.2,277.3 74.5,276.6 75.8,275.9 77,275.3 78.1,274.9 78.8,274.5" stroke="#ec2424" stroke-width="1.0"/>
<path d="M47.9,292.6 48.5,292.5 49.3,292.3 50.3,292 51.4,291.8 52.4,291.5 53.4,291.2 54.3,290.9 55.3,290.6 56.3,290.2 57.3,289.9 58,289.6 58.6,289.4" stroke="#ec2424" stroke-width="1.9"/>
<path d="M39.7,238 40.2,238.9 41,240.2 41.9,241.7 42.8,243.2 43.8,244.6 44.6,245.7 45.2,246.6 45.7,247.3 46.1,247.8 46.7,248.2 47.4,248.5 48.4,248.7 49.8,248.7 51.7,248.5 53.7,248.2 55.7,247.8 57.4,247.5 58.6,247.3" stroke="#ec2424" stroke-width="1.0"/>
<path d="M48.4,248.7 48.9,248.7 49.7,248.6 50.6,248.5 51.5,248.4 52.5,248.3 53.4,248.1 54.3,248 55.3,247.8 56.3,247.7 57.2,247.5 58,247.4 58.6,247.3" stroke="#ec2424" stroke-width="1.7" stroke-opacity="0.9"/>
</g>
<rect x="29.9" y="235.6" width="48.9" height="71.6" fill="none" stroke="#505050" stroke-width="1.3"/>
<text x="54.35" y="233.60" font-size="4.6" text-anchor="middle" fill="#333">E<tspan font-size="3" dy="1">z</tspan><tspan dy="-1"> = +0.1 V/Å</tspan></text>
<text x="29.90" y="312.40" font-size="5.2" text-anchor="middle" fill="#333">Γ</text>
<text x="48.38" y="312.40" font-size="5.2" text-anchor="middle" fill="#333">M</text>
<text x="58.60" y="312.40" font-size="5.2" text-anchor="middle" fill="#333">K</text>
<text x="78.80" y="312.40" font-size="5.2" text-anchor="middle" fill="#333">Γ</text>
<text x="27.70" y="237.30" font-size="5" text-anchor="end" fill="#333">3</text>
<text x="27.70" y="249.23" font-size="5" text-anchor="end" fill="#333">2</text>
<text x="27.70" y="261.17" font-size="5" text-anchor="end" fill="#333">1</text>
<text x="27.70" y="273.10" font-size="5" text-anchor="end" fill="#333">0</text>
<text x="27.70" y="285.03" font-size="5" text-anchor="end" fill="#333">-1</text>
<text x="27.70" y="296.97" font-size="5" text-anchor="end" fill="#333">-2</text>
<text x="27.70" y="308.90" font-size="5" text-anchor="end" fill="#333">-3</text>
<text x="0" y="0" font-size="5.2" text-anchor="middle" fill="#333" transform="translate(20.40,271.40) rotate(-90)">Energy (eV)</text>
<clipPath id="c312"><rect x="89.35" y="235.6" width="48.9" height="71.6"/></clipPath>
<g clip-path="url(#c312)" fill="none" stroke-linejoin="round">
<line x1="107.8" y1="235.6" x2="107.8" y2="307.2" stroke="#a0a0a0" stroke-width="0.6"/>
<line x1="118.1" y1="235.6" x2="118.1" y2="307.2" stroke="#a0a0a0" stroke-width="0.6"/>
<line x1="89.35" y1="271.4" x2="138.25" y2="271.4" stroke="#a0a0a0" stroke-width="0.6"/>
<path d="M89.3,273.2 89.8,273.7 90.4,274.4 91.1,275.2 91.8,276.2 92.6,277.3 93.3,278.6 93.9,279.8 94.4,281.2 95,282.6 95.6,284.3 96.1,286.3 96.7,288.7 97.3,291.9 98,295.8 98.6,300.1 99.2,304.2 99.7,307.7 100.1,310.2" stroke="#f4a0a0" stroke-width="0.75"/>
<path d="M138.2,273.2 137.8,273.7 137.2,274.4 136.5,275.2 135.8,276.2 135,277.3 134.3,278.6 133.7,279.8 133.2,281.2 132.6,282.6 132,284.3 131.5,286.3 130.9,288.7 130.3,291.9 129.6,295.8 129,300.1 128.4,304.2 127.9,307.7 127.5,310.2" stroke="#f4a0a0" stroke-width="0.75"/>
<path d="M107.8,291.1 108.2,291.6 108.6,292.3 109.2,293.1 109.8,294 110.5,294.9 111.4,295.9 112.3,296.8 113.5,297.7 114.7,298.6 116,299.6 117.1,300.7 118.1,301.8 118.8,303.2 119.5,304.7 120,306.4 120.5,307.9 120.8,309.2 121.1,310.2" stroke="#f4a0a0" stroke-width="0.7"/>
<path d="M101.6,310.2 102,308.8 102.5,306.9 103.1,304.7 103.8,302.3 104.4,300.1 105,298.2 105.5,296.7 106.1,295.2 106.6,293.9 107.1,292.8 107.5,291.8 107.8,291.1" stroke="#f4a0a0" stroke-width="0.7"/>
<path d="M89.3,244 89.7,243.6 90.2,243.2 90.8,242.7 91.5,242.2 92.2,241.6 92.8,241 93.3,240.3 93.8,239.7 94.4,239 94.9,238.2 95.5,237.5 96.2,236.8 97,236 98,235.2 99.1,234.4 100.1,233.7 101,233.1 101.6,232.6" stroke="#f4a0a0" stroke-width="0.75"/>
<path d="M138.2,244 137.9,243.6 137.4,243.2 136.8,242.7 136.1,242.2 135.4,241.6 134.8,241 134.3,240.3 133.8,239.7 133.2,239 132.7,238.2 132.1,237.5 131.4,236.8 130.6,236 129.6,235.2 128.5,234.4 127.5,233.7 126.6,233.1 126,232.6" stroke="#f4a0a0" stroke-width="0.75"/>
<path d="M107.9,232.6 108.5,233 109.2,233.5 110,234.1 111,234.9 111.9,235.8 112.8,236.8 113.7,238.1 114.7,239.8 115.7,241.5 116.7,243.2 117.5,244.7 118.1,245.7" stroke="#f4a0a0" stroke-width="0.8"/>
<path d="M118.1,245.7 118.9,244.8 120.1,243.4 121.6,241.8 123.1,240.1 124.6,238.4 126,236.8 127.3,235.2 128.7,233.5 130,231.8 131.3,230.3 132.4,229.1 133.4,228.4 134.1,228.5 134.6,229.1 135,230 135.4,231.1 135.6,232 135.8,232.6" stroke="#f4a0a0" stroke-width="0.8"/>
<path d="M89.3,242.2 89.7,241.8 90.2,241.4 90.8,240.9 91.5,240.3 92.2,239.7 92.8,239.2 93.3,238.7 93.9,238.2 94.5,237.7 95.1,237.2 95.7,236.7 96.2,236.2 96.7,235.6 97.3,234.9 97.9,234.2 98.4,233.6 98.8,233 99.1,232.6" stroke="#f4a0a0" stroke-width="0.7"/>
<path d="M138.2,242.2 137.9,241.8 137.4,241.4 136.8,240.9 136.1,240.3 135.4,239.7 134.8,239.2 134.3,238.7 133.7,238.2 133.1,237.7 132.5,237.2 131.9,236.7 131.4,236.2 130.9,235.6 130.3,234.9 129.7,234.2 129.2,233.6 128.8,233 128.5,232.6" stroke="#f4a0a0" stroke-width="0.7"/>
<path d="M89.3,301.2 90,301.2 90.9,301.1 91.9,301 93,301 94.1,301.3 95.2,301.8 96.3,302.9 97.5,304.3 98.8,306 99.9,307.7 100.9,309.2 101.6,310.2" stroke="#f4a0a0" stroke-width="0.7"/>
<path d="M138.2,301.2 137.6,301.2 136.7,301.1 135.7,301 134.6,301 133.5,301.3 132.4,301.8 131.3,302.9 130.1,304.3 128.8,306 127.7,307.7 126.7,309.2 126,310.2" stroke="#f4a0a0" stroke-width="0.7"/>
<path d="M92.3,232.6 92.8,234.5 93.6,237.1 94.5,240.1 95.4,243.3 96.4,246.3 97.2,248.7 97.9,250.7 98.6,252.5 99.3,254.1 99.9,255.5 100.5,256.7 101.1,257.7 101.6,258.5 102.1,259.1 102.6,259.5 103,259.7 103.5,259.7 104,259.5 104.6,258.9 105.4,258 106.1,256.9 106.8,255.8 107.4,254.8 107.8,254.1" stroke="#8fbef0" stroke-width="0.8"/>
<path d="M92.3,310.2 92.8,308.3 93.6,305.7 94.5,302.6 95.4,299.4 96.4,296.4 97.2,294.1 97.9,292.3 98.6,290.8 99.3,289.6 99.9,288.5 100.5,287.7 101.1,286.9 101.6,286.3 102.1,285.9 102.6,285.6 103,285.5 103.5,285.6 104,285.7 104.6,286.1 105.4,286.7 106.1,287.4 106.8,288.2 107.4,288.9 107.8,289.3" stroke="#8fbef0" stroke-width="0.8"/>
<path d="M96.2,232.6 107.8,254.1" stroke="#8fbef0" stroke-width="0.8"/>
<path d="M118.1,271.4 133.8,310.2" stroke="#8fbef0" stroke-width="0.8"/>
<path d="M118.1,271.4 136.3,232.6" stroke="#8fbef0" stroke-width="0.8"/>
<path d="M119.7,238.6 120.1,240.2 120.7,242.5 121.4,245.1 122.1,247.9 122.9,250.4 123.6,252.3 124.2,253.8 124.9,255 125.5,256.1 126.2,256.8 126.8,257.1 127.5,257.1 128.2,256.5 128.9,255.6 129.7,254.2 130.4,252.6 131.2,250.7 131.9,248.7 132.7,246.3 133.5,243.3 134.4,240.1 135.2,237.1 135.8,234.5 136.3,232.6" stroke="#8fbef0" stroke-width="0.8"/>
<path d="M119.7,304.2 120.1,302.5 120.7,299.9 121.4,297 122.2,294.1 122.9,291.8 123.6,290.5 124.2,290.4 124.7,291.1 125.3,292.3 125.8,293.8 126.4,295.3 127,296.5 127.6,297.3 128.3,298 128.9,298.7 129.6,299.4 130.3,300.2 130.9,301.2 131.6,302.6 132.4,304.2 133.1,306 133.8,307.7 134.4,309.2 134.8,310.2" stroke="#8fbef0" stroke-width="0.8"/>
<path d="M98.2,310.2 98.7,309.2 99.4,307.8 100.3,306.2 101.2,304.5 102.2,303 103,301.8 103.8,301 104.6,300.4 105.4,300 106.2,299.7 107,299.5 107.8,299.4 108.7,299.5 109.5,299.6 110.3,299.9 111.1,300.3 112,300.7 112.8,301.2 113.7,301.8 114.7,302.4 115.6,303.1 116.6,303.9 117.4,304.7 118.1,305.4 118.6,306.2 118.9,307.1 119.2,308.1 119.4,308.9 119.5,309.7 119.7,310.2" stroke="#8fbef0" stroke-width="0.8"/>
<path d="M90.3,232.6 90.8,233.9 91.5,235.9 92.4,238.1 93.3,240.4 94.3,242.4 95.2,244 96.2,245 97.2,245.7 98.3,246.3 99.4,246.6 100.5,246.8 101.6,246.9 102.7,247 103.8,247.1 104.9,247 106,246.7 107,246.1 107.8,245.1 108.6,243.5 109.3,241.3 110,238.8 110.5,236.3 111,234.1 111.4,232.6" stroke="#8fbef0" stroke-width="0.7"/>
<path d="M89.3,304.2 89.9,304.3 90.6,304.3 91.5,304.4 92.4,304.4 93.4,304.4 94.2,304.2 95.1,303.9 95.9,303.5 96.7,303 97.5,302.5 98.3,301.9 99.1,301.2 100,300.5 100.8,299.8 101.6,298.9 102.5,298.1 103.3,297.2 104,296.5 104.8,295.7 105.5,294.9 106.2,294.1 106.9,293.3 107.4,292.7 107.8,292.3" stroke="#ec2424" stroke-width="1.1" stroke-opacity="0.8"/>
<path d="M138.2,304.2 137.7,304.3 137,304.3 136.1,304.4 135.2,304.5 134.2,304.4 133.4,304.2 132.5,303.9 131.7,303.4 130.9,302.8 130.1,302.1 129.3,301.4 128.5,300.6 127.7,299.8 126.9,298.8 126.1,297.8 125.3,296.7 124.4,295.7 123.6,294.7 122.6,293.6 121.6,292.5 120.5,291.3 119.5,290.3 118.7,289.4 118.1,288.7" stroke="#ec2424" stroke-width="1.1" stroke-opacity="0.8"/>
<path d="M90.3,272.6 91,273.3 92,274.2 93.1,275.4 94.3,276.6 95.6,277.9 96.7,279.2 97.8,280.5 98.9,281.9 100,283.4 101,284.9 102.1,286.3 103,287.5 104,288.6 104.9,289.5 105.8,290.4 106.6,291.2 107.3,291.8 107.8,292.3" stroke="#f4a0a0" stroke-width="0.7"/>
<path d="M107.8,289.3 108.4,290 109.1,290.9 110,292 111,293.1 111.9,294.3 112.8,295.3 113.7,296.1 114.6,296.7 115.6,297.4 116.5,298.1 117.3,298.9 118.1,300 118.7,301.5 119.2,303.4 119.7,305.4 120.1,307.4 120.4,309 120.6,310.2" stroke="#1f78e0" stroke-width="1.0" stroke-opacity="0.9"/>
<path d="M107.8,289.3 107.4,289.1 106.8,288.7 106.2,288.2 105.4,287.8 104.7,287.6 104,287.5 103.4,287.7 102.8,287.9 102.2,288.3 101.6,288.8 100.9,289.6 100.1,290.5 99.2,291.7 98.2,293.2 97.1,294.8 96.1,296.6 95.1,298.3 94.2,300 93.5,301.8 92.9,303.8 92.4,305.7 92,307.5 91.6,309.1 91.3,310.2" stroke="#8fbef0" stroke-width="0.9"/>
<path d="M96.7,310.2 97.4,309.2 98.4,307.8 99.6,306.2 100.8,304.5 102,303 103,301.8 103.9,301 104.6,300.2 105.2,299.7 105.9,299.2 106.7,299 107.8,298.8 109.2,298.9 110.8,299.2 112.6,299.7 114.4,300.2 116.3,300.8 118.1,301.2 119.8,301.7 121.5,302.2 123.3,302.7 125,303.1 126.8,303.4 128.5,303.6 130.2,303.6 132.1,303.4 134,303.2 135.7,302.9 137.2,302.6 138.2,302.4" stroke="#8fbef0" stroke-width="0.8"/>
<path d="M89.3,236.2 90,236.5 90.9,236.9 91.9,237.4 93,237.9 94.1,238.5 95.2,239.2 96.3,239.9 97.3,240.7 98.4,241.5 99.4,242.4 100.5,243.2 101.6,244 102.6,244.7 103.5,245.4 104.5,246.1 105.5,246.7 106.6,247.2 107.8,247.5 109.3,247.7 111,247.6 112.8,247.5 114.7,247.2 116.4,246.8 118.1,246.3 119.5,245.7 120.9,244.9 122.3,244.1 123.6,243.2 124.8,242.3 126,241.6 127.2,241 128.3,240.4 129.3,239.9 130.4,239.5 131.4,239 132.4,238.6 133.5,238.1 134.6,237.7 135.7,237.2 136.7,236.8 137.6,236.4 138.2,236.2" stroke="#ec2424" stroke-width="0.8" stroke-opacity="0.55"/>
<path d="M89.3,237 89.9,237.1 90.6,237.3 91.4,237.4 92.4,237.6 93.3,237.7 94.2,237.7 95.2,237.7 96.2,237.7 97.2,237.6 98.3,237.4 99.2,237.2 100.1,236.8 100.9,236.2 101.7,235.5 102.4,234.6 103.1,233.8 103.6,233.1 104,232.6" stroke="#ec2424" stroke-width="1.3" stroke-opacity="0.85"/>
<path d="M118.1,246.1 118.8,245.7 119.7,245.2 120.9,244.6 122.1,243.9 123.4,243.3 124.6,242.8 125.7,242.2 126.8,241.6 128,241 129.1,240.5 130.3,240.2 131.4,240.1 132.6,240.4 133.9,241.1 135.3,241.9 136.5,242.7 137.5,243.5 138.2,244" stroke="#ec2424" stroke-width="0.9" stroke-opacity="0.7"/>
<path d="M89.3,244 89.9,243.5 90.5,242.7 91.4,241.9 92.3,241.1 93.3,240.5 94.2,240.1 95.3,240.1 96.4,240.3 97.5,240.6 98.7,241 99.9,241.6 101.1,242.2 102.3,242.9 103.6,243.9 104.9,245 106.1,246 107.1,246.9 107.8,247.5" stroke="#ec2424" stroke-width="0.9" stroke-opacity="0.6"/>
<path d="M123.6,232.6 124.1,233.5 124.8,234.9 125.7,236.5 126.7,238 127.6,239.4 128.5,240.4 129.3,240.9 130.1,241.2 130.9,241.3 131.7,241.2 132.5,241.1 133.4,241 134.2,240.8 135.2,240.5 136.1,240.1 137,239.7 137.7,239.4 138.2,239.2" stroke="#f4a0a0" stroke-width="0.8"/>
<path d="M89.3,306.4 90.4,306.4 91.9,306.5 93.7,306.6 95.6,306.6 97.4,306.7 99.1,306.8 100.6,307 102.1,307.1 103.5,307.3 104.9,307.4 106.3,307.5 107.8,307.6 109.4,307.6 111.1,307.5 112.8,307.4 114.6,307.4 116.3,307.3 118.1,307.2 119.8,307.1 121.5,307.1 123.3,307 125,307 126.8,306.9 128.5,306.8 130.2,306.8 132.1,306.7 134,306.6 135.7,306.5 137.2,306.4 138.2,306.4" stroke="#ec2424" stroke-width="1.2" stroke-opacity="0.85"/>
<path d="M96.2,232.6 107.8,254.1 118.1,271.4" stroke="#1f78e0" stroke-width="0.9"/>
<path d="M107.8,289.3 118.1,271.4" stroke="#1f78e0" stroke-width="1.1"/>
<path d="M107.8,254.1 114.8,244 121.6,232.6" stroke="#1f78e0" stroke-width="1.3"/>
<path d="M107.8,289.3 114.8,300 120.6,310.2" stroke="#1f78e0" stroke-width="1.1"/>
<path d="M107.8,289.3 99.1,301.2 94.2,310.2" stroke="#1f78e0" stroke-width="0.8"/>
<path d="M89.3,273.2 89.9,273.5 90.6,273.8 91.4,274.2 92.4,274.8 93.3,275.4 94.2,276.2 95.2,277.1 96.2,278.3 97.2,279.6 98.2,280.9 99.2,282.2 100.1,283.3 101,284.4 101.9,285.6 102.7,286.7 103.6,287.7 104.3,288.6 105,289.3 105.5,289.9 105.8,290.4 106.1,290.8 106.4,291 107,291.1 107.8,291.1 109.2,290.9 110.8,290.5 112.7,290 114.6,289.5 116.5,288.8 118.1,288.1 119.3,287.4 120.5,286.5 121.5,285.6 122.5,284.7 123.5,283.7 124.6,282.7 125.7,281.7 126.8,280.7 128,279.6 129.1,278.6 130.3,277.6 131.4,276.8 132.6,276 133.9,275.3 135.3,274.6 136.5,274 137.5,273.6 138.2,273.2" stroke="#ec2424" stroke-width="1.0"/>
<path d="M107.3,291.3 107.9,291.2 108.8,291 109.8,290.7 110.8,290.5 111.9,290.2 112.8,289.9 113.8,289.6 114.8,289.3 115.8,288.9 116.7,288.6 117.5,288.3 118.1,288.1" stroke="#ec2424" stroke-width="1.9"/>
<path d="M99.1,236.8 99.7,237.7 100.4,239 101.3,240.5 102.3,242 103.2,243.4 104,244.5 104.6,245.4 105.1,246.1 105.6,246.6 106.1,247 106.8,247.3 107.8,247.5 109.3,247.5 111.1,247.3 113.2,247 115.2,246.6 116.9,246.3 118.1,246.1" stroke="#ec2424" stroke-width="1.0"/>
<path d="M107.8,247.5 108.4,247.5 109.1,247.4 110,247.3 111,247.2 111.9,247.1 112.8,246.9 113.7,246.8 114.7,246.6 115.7,246.5 116.7,246.3 117.5,246.2 118.1,246.1" stroke="#ec2424" stroke-width="1.7" stroke-opacity="0.9"/>
</g>
<rect x="89.35" y="235.6" width="48.9" height="71.6" fill="none" stroke="#505050" stroke-width="1.3"/>
<text x="113.80" y="233.60" font-size="4.6" text-anchor="middle" fill="#333">E<tspan font-size="3" dy="1">z</tspan><tspan dy="-1"> = +0.2 V/Å</tspan></text>
<text x="89.35" y="312.40" font-size="5.2" text-anchor="middle" fill="#333">Γ</text>
<text x="107.83" y="312.40" font-size="5.2" text-anchor="middle" fill="#333">M</text>
<text x="118.05" y="312.40" font-size="5.2" text-anchor="middle" fill="#333">K</text>
<text x="138.25" y="312.40" font-size="5.2" text-anchor="middle" fill="#333">Γ</text>
<clipPath id="c366"><rect x="148.8" y="235.6" width="48.9" height="71.6"/></clipPath>
<g clip-path="url(#c366)" fill="none" stroke-linejoin="round">
<line x1="167.3" y1="235.6" x2="167.3" y2="307.2" stroke="#a0a0a0" stroke-width="0.6"/>
<line x1="177.5" y1="235.6" x2="177.5" y2="307.2" stroke="#a0a0a0" stroke-width="0.6"/>
<line x1="148.8" y1="271.4" x2="197.70000000000002" y2="271.4" stroke="#a0a0a0" stroke-width="0.6"/>
<path d="M148.8,271.4 149.2,271.9 149.8,272.6 150.5,273.5 151.3,274.4 152,275.5 152.7,276.8 153.3,278 153.9,279.3 154.5,280.7 155,282.4 155.6,284.4 156.1,286.9 156.7,290.3 157.4,294.6 158.1,299.2 158.7,303.7 159.2,307.5 159.6,310.2" stroke="#f4a0a0" stroke-width="0.75"/>
<path d="M197.7,271.4 197.3,271.9 196.7,272.6 196,273.5 195.2,274.4 194.5,275.5 193.8,276.8 193.2,278 192.6,279.3 192,280.7 191.5,282.4 190.9,284.4 190.4,286.9 189.8,290.3 189.1,294.6 188.4,299.2 187.8,303.7 187.3,307.5 186.9,310.2" stroke="#f4a0a0" stroke-width="0.75"/>
<path d="M167.3,289.3 167.6,289.8 168.1,290.5 168.6,291.3 169.3,292.2 170,293.2 170.8,294.1 171.8,295 172.9,295.8 174.2,296.7 175.4,297.7 176.6,298.8 177.5,300 178.3,301.6 178.9,303.5 179.5,305.5 179.9,307.4 180.3,309 180.6,310.2" stroke="#f4a0a0" stroke-width="0.7"/>
<path d="M161,310.2 161.4,308.6 161.9,306.4 162.6,303.8 163.2,301.1 163.9,298.5 164.4,296.5 165,294.8 165.5,293.3 166.1,292 166.6,290.9 167,290 167.3,289.3" stroke="#f4a0a0" stroke-width="0.7"/>
<path d="M148.8,242.2 149.2,241.9 149.7,241.4 150.3,240.9 151,240.4 151.6,239.8 152.2,239.2 152.8,238.5 153.3,237.8 153.8,237.1 154.4,236.3 155,235.6 155.6,235 156.5,234.5 157.5,234 158.5,233.5 159.6,233.2 160.4,232.9 161,232.6" stroke="#f4a0a0" stroke-width="0.75"/>
<path d="M197.7,242.2 197.3,241.9 196.8,241.4 196.2,240.9 195.5,240.4 194.9,239.8 194.3,239.2 193.7,238.5 193.2,237.8 192.7,237.1 192.1,236.3 191.5,235.6 190.9,235 190,234.5 189,234 188,233.5 186.9,233.2 186.1,232.9 185.5,232.6" stroke="#f4a0a0" stroke-width="0.75"/>
<path d="M167.4,232.6 167.9,232.8 168.6,233 169.5,233.3 170.4,233.6 171.4,234.2 172.3,235 173.2,236.2 174.2,237.8 175.2,239.6 176.1,241.4 176.9,242.9 177.5,244" stroke="#f4a0a0" stroke-width="0.8"/>
<path d="M177.5,244 178.4,243 179.6,241.6 181,240 182.6,238.3 184.1,236.6 185.5,235 186.8,233.4 188.1,231.6 189.5,229.9 190.8,228.4 191.9,227.2 192.8,226.7 193.5,226.9 194.1,227.8 194.5,229.1 194.8,230.5 195,231.8 195.3,232.6" stroke="#f4a0a0" stroke-width="0.8"/>
<path d="M148.8,242.2 149.2,241.8 149.7,241.4 150.3,240.9 151,240.3 151.6,239.7 152.2,239.2 152.8,238.7 153.4,238.2 154,237.7 154.5,237.2 155.1,236.7 155.6,236.2 156.2,235.6 156.8,234.9 157.3,234.2 157.8,233.6 158.3,233 158.6,232.6" stroke="#f4a0a0" stroke-width="0.7"/>
<path d="M197.7,242.2 197.3,241.8 196.8,241.4 196.2,240.9 195.5,240.3 194.9,239.7 194.3,239.2 193.7,238.7 193.1,238.2 192.5,237.7 192,237.2 191.4,236.7 190.9,236.2 190.3,235.6 189.7,234.9 189.2,234.2 188.7,233.6 188.2,233 187.9,232.6" stroke="#f4a0a0" stroke-width="0.7"/>
<path d="M148.8,299.4 149.4,299.4 150.3,299.2 151.3,299.1 152.5,299.1 153.6,299.4 154.7,300 155.8,301.3 157,303.1 158.2,305.1 159.4,307.2 160.3,309 161,310.2" stroke="#f4a0a0" stroke-width="0.7"/>
<path d="M197.7,299.4 197.1,299.4 196.2,299.2 195.2,299.1 194,299.1 192.9,299.4 191.8,300 190.7,301.3 189.5,303.1 188.3,305.1 187.1,307.2 186.2,309 185.5,310.2" stroke="#f4a0a0" stroke-width="0.7"/>
<path d="M151.7,232.6 152.3,234.5 153,237.1 153.9,240.1 154.9,243.3 155.8,246.3 156.6,248.7 157.3,250.7 158,252.5 158.7,254.1 159.3,255.5 160,256.7 160.5,257.7 161.1,258.5 161.6,259.1 162,259.5 162.5,259.7 162.9,259.7 163.5,259.5 164.1,258.9 164.8,258 165.6,256.9 166.3,255.8 166.9,254.8 167.3,254.1" stroke="#8fbef0" stroke-width="0.8"/>
<path d="M151.7,310.2 152.3,308.3 153,305.7 153.9,302.6 154.9,299.4 155.8,296.4 156.6,294.1 157.3,292.3 158,290.8 158.7,289.6 159.3,288.5 160,287.7 160.5,286.9 161.1,286.3 161.6,285.9 162,285.6 162.5,285.5 162.9,285.6 163.5,285.7 164.1,286.1 164.8,286.7 165.6,287.4 166.3,288.2 166.9,288.9 167.3,289.3" stroke="#8fbef0" stroke-width="0.8"/>
<path d="M155.6,232.6 167.3,254.1" stroke="#8fbef0" stroke-width="0.8"/>
<path d="M177.5,271.4 193.3,310.2" stroke="#8fbef0" stroke-width="0.8"/>
<path d="M177.5,271.4 195.7,232.6" stroke="#8fbef0" stroke-width="0.8"/>
<path d="M179.1,238.6 179.5,240.2 180.1,242.5 180.8,245.1 181.6,247.9 182.3,250.4 183,252.3 183.7,253.8 184.3,255 185,256.1 185.6,256.8 186.3,257.1 186.9,257.1 187.6,256.5 188.4,255.6 189.1,254.2 189.9,252.6 190.6,250.7 191.3,248.7 192.1,246.3 193,243.3 193.8,240.1 194.6,237.1 195.3,234.5 195.7,232.6" stroke="#8fbef0" stroke-width="0.8"/>
<path d="M179.1,304.2 179.5,302.5 180.2,299.9 180.9,297 181.6,294.1 182.4,291.8 183,290.5 183.6,290.4 184.2,291.1 184.7,292.3 185.3,293.8 185.9,295.3 186.5,296.5 187.1,297.3 187.7,298 188.4,298.7 189,299.4 189.7,300.2 190.4,301.2 191.1,302.6 191.8,304.2 192.6,306 193.3,307.7 193.9,309.2 194.3,310.2" stroke="#8fbef0" stroke-width="0.8"/>
<path d="M157.6,310.2 158.1,309.2 158.9,307.8 159.7,306.2 160.7,304.5 161.6,303 162.5,301.8 163.3,301 164.1,300.4 164.9,300 165.7,299.7 166.5,299.5 167.3,299.4 168.1,299.5 168.9,299.6 169.8,299.9 170.6,300.3 171.4,300.7 172.3,301.2 173.2,301.8 174.1,302.4 175.1,303.1 176,303.9 176.8,304.7 177.5,305.4 178,306.2 178.4,307.1 178.6,308.1 178.8,308.9 179,309.7 179.1,310.2" stroke="#8fbef0" stroke-width="0.8"/>
<path d="M149.8,232.6 150.3,233.9 151,235.9 151.8,238.1 152.7,240.4 153.7,242.4 154.7,244 155.6,245 156.7,245.7 157.8,246.3 158.9,246.6 160,246.8 161,246.9 162.1,247 163.2,247.1 164.3,247 165.4,246.7 166.4,246.1 167.3,245.1 168.1,243.5 168.8,241.3 169.4,238.8 170,236.3 170.5,234.1 170.8,232.6" stroke="#8fbef0" stroke-width="0.7"/>
<path d="M148.8,302.4 149.3,302.5 150.1,302.5 150.9,302.6 151.9,302.6 152.8,302.6 153.7,302.4 154.5,302.1 155.3,301.7 156.1,301.2 157,300.7 157.8,300.1 158.6,299.4 159.4,298.7 160.2,298 161.1,297.1 161.9,296.3 162.7,295.5 163.5,294.7 164.2,293.9 165,293.1 165.7,292.3 166.3,291.6 166.9,290.9 167.3,290.5" stroke="#ec2424" stroke-width="1.1" stroke-opacity="0.8"/>
<path d="M197.7,302.4 197.2,302.5 196.4,302.6 195.6,302.7 194.6,302.7 193.7,302.6 192.8,302.4 192,302.1 191.2,301.6 190.4,301 189.6,300.3 188.7,299.6 187.9,298.8 187.1,298 186.3,297 185.5,296 184.7,295 183.9,293.9 183,292.9 182.1,291.8 181,290.7 180,289.5 179,288.5 178.1,287.6 177.5,286.9" stroke="#ec2424" stroke-width="1.1" stroke-opacity="0.8"/>
<path d="M149.8,270.8 150.5,271.5 151.4,272.4 152.6,273.6 153.8,274.8 155,276.1 156.1,277.4 157.2,278.7 158.3,280.2 159.4,281.7 160.5,283.1 161.5,284.5 162.5,285.7 163.4,286.8 164.4,287.8 165.3,288.6 166.1,289.4 166.8,290 167.3,290.5" stroke="#f4a0a0" stroke-width="0.7"/>
<path d="M167.3,289.3 167.8,290 168.6,290.9 169.5,292 170.4,293.1 171.4,294.3 172.3,295.3 173.2,296.1 174.1,296.7 175,297.4 175.9,298.1 176.8,298.9 177.5,300 178.1,301.5 178.7,303.4 179.1,305.4 179.5,307.4 179.8,309 180.1,310.2" stroke="#1f78e0" stroke-width="1.0" stroke-opacity="0.9"/>
<path d="M167.3,289.3 166.9,289.1 166.3,288.7 165.6,288.2 164.9,287.8 164.2,287.6 163.5,287.5 162.8,287.7 162.2,287.9 161.6,288.3 161,288.8 160.3,289.6 159.6,290.5 158.7,291.7 157.6,293.2 156.6,294.8 155.5,296.6 154.5,298.3 153.7,300 153,301.8 152.4,303.8 151.9,305.7 151.4,307.5 151,309.1 150.8,310.2" stroke="#8fbef0" stroke-width="0.9"/>
<path d="M156.1,310.2 156.8,309.2 157.8,307.8 159,306.2 160.3,304.5 161.4,303 162.5,301.8 163.3,301 164,300.2 164.6,299.7 165.3,299.2 166.2,299 167.3,298.8 168.7,298.9 170.3,299.2 172,299.7 173.9,300.2 175.7,300.8 177.5,301.2 179.2,301.7 181,302.2 182.7,302.7 184.5,303.1 186.2,303.4 187.9,303.6 189.7,303.6 191.6,303.4 193.5,303.2 195.2,302.9 196.6,302.6 197.7,302.4" stroke="#8fbef0" stroke-width="0.8"/>
<path d="M148.8,234.4 149.4,234.7 150.3,235.1 151.3,235.6 152.5,236.2 153.6,236.8 154.7,237.4 155.7,238.1 156.8,238.9 157.8,239.7 158.9,240.6 160,241.4 161,242.2 162,242.9 163,243.6 163.9,244.3 164.9,244.9 166,245.4 167.3,245.7 168.8,245.9 170.5,245.8 172.3,245.7 174.1,245.4 175.9,245 177.5,244.5 179,243.9 180.4,243.2 181.7,242.3 183,241.4 184.3,240.5 185.5,239.8 186.6,239.2 187.7,238.6 188.8,238.1 189.8,237.7 190.8,237.2 191.8,236.8 192.9,236.3 194,235.9 195.2,235.4 196.2,235 197.1,234.7 197.7,234.4" stroke="#ec2424" stroke-width="0.8" stroke-opacity="0.55"/>
<path d="M148.8,237 149.3,237.1 150,237.3 150.9,237.4 151.8,237.6 152.8,237.7 153.7,237.7 154.6,237.7 155.6,237.7 156.7,237.6 157.7,237.4 158.7,237.2 159.6,236.8 160.4,236.2 161.2,235.5 161.9,234.6 162.5,233.8 163.1,233.1 163.5,232.6" stroke="#ec2424" stroke-width="1.3" stroke-opacity="0.85"/>
<path d="M177.5,244.3 178.2,243.9 179.2,243.4 180.3,242.8 181.6,242.2 182.8,241.5 184,241 185.1,240.4 186.3,239.8 187.4,239.2 188.6,238.7 189.7,238.4 190.9,238.3 192.1,238.7 193.4,239.3 194.7,240.1 195.9,240.9 197,241.7 197.7,242.2" stroke="#ec2424" stroke-width="0.9" stroke-opacity="0.7"/>
<path d="M148.8,242.2 149.3,241.7 150,241 150.8,240.1 151.7,239.3 152.7,238.7 153.7,238.3 154.7,238.3 155.8,238.5 157,238.8 158.2,239.2 159.4,239.8 160.5,240.4 161.7,241.1 163,242.1 164.3,243.2 165.5,244.2 166.6,245.1 167.3,245.7" stroke="#ec2424" stroke-width="0.9" stroke-opacity="0.6"/>
<path d="M183,232.6 183.6,233.5 184.3,234.9 185.2,236.5 186.1,238 187,239.4 187.9,240.4 188.7,240.9 189.6,241.2 190.4,241.3 191.2,241.2 192,241.1 192.8,241 193.7,240.8 194.6,240.5 195.6,240.1 196.4,239.7 197.2,239.4 197.7,239.2" stroke="#f4a0a0" stroke-width="0.8"/>
<path d="M148.8,304.6 149.9,304.6 151.4,304.7 153.1,304.8 155,304.9 156.9,305 158.6,305.1 160.1,305.2 161.5,305.3 162.9,305.5 164.3,305.6 165.8,305.7 167.3,305.8 168.9,305.8 170.6,305.7 172.3,305.7 174,305.6 175.8,305.5 177.5,305.4 179.2,305.4 181,305.3 182.7,305.2 184.5,305.2 186.2,305.1 187.9,305.1 189.7,305 191.6,304.9 193.5,304.8 195.2,304.7 196.6,304.6 197.7,304.6" stroke="#ec2424" stroke-width="1.2" stroke-opacity="0.85"/>
<path d="M155.6,232.6 167.3,254.1 177.5,271.4" stroke="#1f78e0" stroke-width="0.9"/>
<path d="M167.3,289.3 177.5,271.4" stroke="#1f78e0" stroke-width="1.1"/>
<path d="M167.3,254.1 174.2,244 181.1,232.6" stroke="#1f78e0" stroke-width="1.3"/>
<path d="M167.3,289.3 174.2,300 180.1,310.2" stroke="#1f78e0" stroke-width="1.1"/>
<path d="M167.3,289.3 158.6,301.2 153.7,310.2" stroke="#1f78e0" stroke-width="0.8"/>
<path d="M148.8,271.4 149.3,271.7 150,272 150.9,272.4 151.8,273 152.8,273.6 153.7,274.4 154.6,275.3 155.6,276.5 156.6,277.8 157.6,279.1 158.6,280.4 159.6,281.5 160.5,282.7 161.3,283.8 162.2,284.9 163,285.9 163.8,286.8 164.4,287.5 165,288.1 165.3,288.6 165.5,289 165.9,289.2 166.4,289.3 167.3,289.3 168.6,289.1 170.3,288.7 172.2,288.3 174.1,287.7 175.9,287 177.5,286.3 178.8,285.6 179.9,284.7 181,283.8 182,282.9 182.9,281.9 184,280.9 185.1,280 186.3,278.9 187.4,277.9 188.6,276.8 189.7,275.8 190.9,275 192.1,274.2 193.4,273.5 194.7,272.8 195.9,272.2 197,271.8 197.7,271.4" stroke="#ec2424" stroke-width="1.0"/>
<path d="M166.8,289.5 167.4,289.4 168.2,289.2 169.2,288.9 170.3,288.7 171.3,288.4 172.3,288.1 173.2,287.8 174.2,287.5 175.2,287.1 176.2,286.8 176.9,286.5 177.5,286.3" stroke="#ec2424" stroke-width="1.9"/>
<path d="M158.6,235 159.1,235.9 159.9,237.2 160.8,238.7 161.7,240.2 162.7,241.7 163.5,242.8 164.1,243.6 164.6,244.3 165,244.8 165.6,245.3 166.3,245.6 167.3,245.7 168.7,245.7 170.6,245.5 172.6,245.2 174.6,244.8 176.3,244.5 177.5,244.3" stroke="#ec2424" stroke-width="1.0"/>
<path d="M167.3,245.7 167.8,245.7 168.6,245.6 169.5,245.5 170.4,245.4 171.4,245.3 172.3,245.1 173.2,245 174.2,244.9 175.2,244.7 176.1,244.5 176.9,244.4 177.5,244.3" stroke="#ec2424" stroke-width="1.7" stroke-opacity="0.9"/>
</g>
<rect x="148.8" y="235.6" width="48.9" height="71.6" fill="none" stroke="#505050" stroke-width="1.3"/>
<text x="173.25" y="233.60" font-size="4.6" text-anchor="middle" fill="#333">E<tspan font-size="3" dy="1">z</tspan><tspan dy="-1"> = +0.3 V/Å</tspan></text>
<text x="148.80" y="312.40" font-size="5.2" text-anchor="middle" fill="#333">Γ</text>
<text x="167.28" y="312.40" font-size="5.2" text-anchor="middle" fill="#333">M</text>
<text x="177.50" y="312.40" font-size="5.2" text-anchor="middle" fill="#333">K</text>
<text x="197.70" y="312.40" font-size="5.2" text-anchor="middle" fill="#333">Γ</text>
<clipPath id="c420"><rect x="208.25000000000003" y="235.6" width="48.9" height="71.6"/></clipPath>
<g clip-path="url(#c420)" fill="none" stroke-linejoin="round">
<line x1="226.7" y1="235.6" x2="226.7" y2="307.2" stroke="#a0a0a0" stroke-width="0.6"/>
<line x1="237.0" y1="235.6" x2="237.0" y2="307.2" stroke="#a0a0a0" stroke-width="0.6"/>
<line x1="208.25000000000003" y1="271.4" x2="257.15000000000003" y2="271.4" stroke="#a0a0a0" stroke-width="0.6"/>
<path d="M208.3,271.4 208.7,271.9 209.3,272.6 210,273.5 210.7,274.4 211.5,275.5 212.2,276.8 212.8,278 213.3,279.3 213.9,280.7 214.5,282.4 215,284.4 215.6,286.9 216.2,290.3 216.9,294.6 217.5,299.2 218.1,303.7 218.6,307.5 219,310.2" stroke="#f4a0a0" stroke-width="0.75"/>
<path d="M257.2,271.4 256.7,271.9 256.1,272.6 255.4,273.5 254.7,274.4 253.9,275.5 253.2,276.8 252.6,278 252.1,279.3 251.5,280.7 250.9,282.4 250.4,284.4 249.8,286.9 249.2,290.3 248.5,294.6 247.9,299.2 247.3,303.7 246.8,307.5 246.4,310.2" stroke="#f4a0a0" stroke-width="0.75"/>
<path d="M226.7,289.3 227.1,289.8 227.5,290.5 228.1,291.3 228.7,292.2 229.4,293.2 230.3,294.1 231.2,295 232.4,295.8 233.6,296.7 234.9,297.7 236,298.8 237,300 237.7,301.6 238.4,303.5 238.9,305.5 239.4,307.4 239.7,309 240,310.2" stroke="#f4a0a0" stroke-width="0.7"/>
<path d="M220.5,310.2 220.9,308.6 221.4,306.4 222,303.8 222.7,301.1 223.3,298.5 223.9,296.5 224.4,294.8 225,293.3 225.5,292 226,290.9 226.4,290 226.7,289.3" stroke="#f4a0a0" stroke-width="0.7"/>
<path d="M208.3,241.6 208.6,241.3 209.1,240.8 209.7,240.3 210.4,239.8 211.1,239.2 211.7,238.6 212.2,237.9 212.7,237.2 213.3,236.4 213.8,235.7 214.4,235 215.1,234.4 215.9,233.9 216.9,233.6 218,233.3 219,233 219.9,232.8 220.5,232.6" stroke="#f4a0a0" stroke-width="0.75"/>
<path d="M257.2,241.6 256.8,241.3 256.3,240.8 255.7,240.3 255,239.8 254.3,239.2 253.7,238.6 253.2,237.9 252.7,237.2 252.1,236.4 251.6,235.7 251,235 250.3,234.4 249.5,233.9 248.5,233.6 247.4,233.3 246.4,233 245.5,232.8 244.9,232.6" stroke="#f4a0a0" stroke-width="0.75"/>
<path d="M226.8,232.6 227.4,232.7 228.1,232.8 228.9,233 229.9,233.2 230.8,233.7 231.7,234.4 232.6,235.6 233.6,237.2 234.6,239 235.6,240.8 236.4,242.3 237,243.4" stroke="#f4a0a0" stroke-width="0.8"/>
<path d="M237,243.4 237.8,242.4 239,241 240.5,239.4 242,237.7 243.5,236 244.9,234.4 246.2,232.8 247.6,231 248.9,229.3 250.2,227.7 251.3,226.6 252.3,226.1 253,226.4 253.5,227.4 253.9,228.8 254.3,230.4 254.5,231.7 254.7,232.6" stroke="#f4a0a0" stroke-width="0.8"/>
<path d="M208.3,242.2 208.6,241.8 209.1,241.4 209.7,240.9 210.4,240.3 211.1,239.7 211.7,239.2 212.2,238.7 212.8,238.2 213.4,237.7 214,237.2 214.6,236.7 215.1,236.2 215.6,235.6 216.2,234.9 216.8,234.2 217.3,233.6 217.7,233 218,232.6" stroke="#f4a0a0" stroke-width="0.7"/>
<path d="M257.2,242.2 256.8,241.8 256.3,241.4 255.7,240.9 255,240.3 254.3,239.7 253.7,239.2 253.2,238.7 252.6,238.2 252,237.7 251.4,237.2 250.8,236.7 250.3,236.2 249.8,235.6 249.2,234.9 248.6,234.2 248.1,233.6 247.7,233 247.4,232.6" stroke="#f4a0a0" stroke-width="0.7"/>
<path d="M208.3,299.4 208.9,299.4 209.8,299.2 210.8,299.1 211.9,299.1 213,299.4 214.1,300 215.2,301.3 216.4,303.1 217.7,305.1 218.8,307.2 219.8,309 220.5,310.2" stroke="#f4a0a0" stroke-width="0.7"/>
<path d="M257.2,299.4 256.5,299.4 255.6,299.2 254.6,299.1 253.5,299.1 252.4,299.4 251.3,300 250.2,301.3 249,303.1 247.7,305.1 246.6,307.2 245.6,309 244.9,310.2" stroke="#f4a0a0" stroke-width="0.7"/>
<path d="M211.2,232.6 211.7,234.5 212.5,237.1 213.4,240.1 214.3,243.3 215.3,246.3 216.1,248.7 216.8,250.7 217.5,252.5 218.2,254.1 218.8,255.5 219.4,256.7 220,257.7 220.5,258.5 221,259.1 221.5,259.5 221.9,259.7 222.4,259.7 222.9,259.5 223.5,258.9 224.3,258 225,256.9 225.7,255.8 226.3,254.8 226.7,254.1" stroke="#8fbef0" stroke-width="0.8"/>
<path d="M211.2,310.2 211.7,308.3 212.5,305.7 213.4,302.6 214.3,299.4 215.3,296.4 216.1,294.1 216.8,292.3 217.5,290.8 218.2,289.6 218.8,288.5 219.4,287.7 220,286.9 220.5,286.3 221,285.9 221.5,285.6 221.9,285.5 222.4,285.6 222.9,285.7 223.5,286.1 224.3,286.7 225,287.4 225.7,288.2 226.3,288.9 226.7,289.3" stroke="#8fbef0" stroke-width="0.8"/>
<path d="M215.1,232.6 226.7,254.1" stroke="#8fbef0" stroke-width="0.8"/>
<path d="M237,271.4 252.7,310.2" stroke="#8fbef0" stroke-width="0.8"/>
<path d="M237,271.4 255.2,232.6" stroke="#8fbef0" stroke-width="0.8"/>
<path d="M238.6,238.6 239,240.2 239.6,242.5 240.3,245.1 241,247.9 241.8,250.4 242.5,252.3 243.1,253.8 243.8,255 244.4,256.1 245.1,256.8 245.7,257.1 246.4,257.1 247.1,256.5 247.8,255.6 248.6,254.2 249.3,252.6 250.1,250.7 250.8,248.7 251.6,246.3 252.4,243.3 253.3,240.1 254.1,237.1 254.7,234.5 255.2,232.6" stroke="#8fbef0" stroke-width="0.8"/>
<path d="M238.6,304.2 239,302.5 239.6,299.9 240.3,297 241.1,294.1 241.8,291.8 242.5,290.5 243.1,290.4 243.6,291.1 244.2,292.3 244.7,293.8 245.3,295.3 245.9,296.5 246.5,297.3 247.2,298 247.8,298.7 248.5,299.4 249.2,300.2 249.8,301.2 250.5,302.6 251.3,304.2 252,306 252.7,307.7 253.3,309.2 253.7,310.2" stroke="#8fbef0" stroke-width="0.8"/>
<path d="M217.1,310.2 217.6,309.2 218.3,307.8 219.2,306.2 220.1,304.5 221.1,303 221.9,301.8 222.7,301 223.5,300.4 224.3,300 225.1,299.7 225.9,299.5 226.7,299.4 227.6,299.5 228.4,299.6 229.2,299.9 230,300.3 230.9,300.7 231.7,301.2 232.6,301.8 233.6,302.4 234.5,303.1 235.5,303.9 236.3,304.7 237,305.4 237.5,306.2 237.8,307.1 238.1,308.1 238.3,308.9 238.4,309.7 238.6,310.2" stroke="#8fbef0" stroke-width="0.8"/>
<path d="M209.2,232.6 209.7,233.9 210.4,235.9 211.3,238.1 212.2,240.4 213.2,242.4 214.1,244 215.1,245 216.1,245.7 217.2,246.3 218.3,246.6 219.4,246.8 220.5,246.9 221.6,247 222.7,247.1 223.8,247 224.9,246.7 225.9,246.1 226.7,245.1 227.5,243.5 228.2,241.3 228.9,238.8 229.4,236.3 229.9,234.1 230.3,232.6" stroke="#8fbef0" stroke-width="0.7"/>
<path d="M208.3,302.4 208.8,302.5 209.5,302.5 210.4,302.6 211.3,302.6 212.3,302.6 213.1,302.4 214,302.1 214.8,301.7 215.6,301.2 216.4,300.7 217.2,300.1 218,299.4 218.9,298.7 219.7,298 220.5,297.1 221.4,296.3 222.2,295.5 222.9,294.7 223.7,293.9 224.4,293.1 225.1,292.3 225.8,291.6 226.3,290.9 226.7,290.5" stroke="#ec2424" stroke-width="1.1" stroke-opacity="0.8"/>
<path d="M257.2,302.4 256.6,302.5 255.9,302.6 255,302.7 254.1,302.7 253.1,302.6 252.3,302.4 251.4,302.1 250.6,301.6 249.8,301 249,300.3 248.2,299.6 247.4,298.8 246.6,298 245.8,297 245,296 244.2,295 243.3,293.9 242.5,292.9 241.5,291.8 240.5,290.7 239.4,289.5 238.4,288.5 237.6,287.6 237,286.9" stroke="#ec2424" stroke-width="1.1" stroke-opacity="0.8"/>
<path d="M209.2,270.8 209.9,271.5 210.9,272.4 212,273.6 213.2,274.8 214.5,276.1 215.6,277.4 216.7,278.7 217.8,280.2 218.9,281.7 219.9,283.1 221,284.5 221.9,285.7 222.9,286.8 223.8,287.8 224.7,288.6 225.5,289.4 226.2,290 226.7,290.5" stroke="#f4a0a0" stroke-width="0.7"/>
<path d="M226.7,289.3 227.3,290 228,290.9 228.9,292 229.9,293.1 230.8,294.3 231.7,295.3 232.6,296.1 233.5,296.7 234.5,297.4 235.4,298.1 236.2,298.9 237,300 237.6,301.5 238.1,303.4 238.6,305.4 239,307.4 239.3,309 239.5,310.2" stroke="#1f78e0" stroke-width="1.0" stroke-opacity="0.9"/>
<path d="M226.7,289.3 226.3,289.1 225.7,288.7 225.1,288.2 224.3,287.8 223.6,287.6 222.9,287.5 222.3,287.7 221.7,287.9 221.1,288.3 220.5,288.8 219.8,289.6 219,290.5 218.1,291.7 217.1,293.2 216,294.8 215,296.6 214,298.3 213.1,300 212.4,301.8 211.8,303.8 211.3,305.7 210.9,307.5 210.5,309.1 210.2,310.2" stroke="#8fbef0" stroke-width="0.9"/>
<path d="M215.6,310.2 216.3,309.2 217.3,307.8 218.5,306.2 219.7,304.5 220.9,303 221.9,301.8 222.8,301 223.5,300.2 224.1,299.7 224.8,299.2 225.6,299 226.7,298.8 228.1,298.9 229.7,299.2 231.5,299.7 233.3,300.2 235.2,300.8 237,301.2 238.7,301.7 240.4,302.2 242.2,302.7 243.9,303.1 245.7,303.4 247.4,303.6 249.1,303.6 251,303.4 252.9,303.2 254.6,302.9 256.1,302.6 257.2,302.4" stroke="#8fbef0" stroke-width="0.8"/>
<path d="M208.3,233.8 208.9,234.1 209.8,234.5 210.8,235 211.9,235.6 213,236.2 214.1,236.8 215.2,237.5 216.2,238.3 217.3,239.1 218.3,240 219.4,240.8 220.5,241.6 221.5,242.3 222.4,243 223.4,243.7 224.4,244.4 225.5,244.8 226.7,245.1 228.2,245.3 229.9,245.2 231.7,245.1 233.6,244.8 235.3,244.4 237,244 238.4,243.3 239.8,242.6 241.2,241.7 242.5,240.8 243.7,239.9 244.9,239.2 246.1,238.6 247.2,238 248.2,237.5 249.3,237.1 250.3,236.6 251.3,236.2 252.4,235.7 253.5,235.3 254.6,234.8 255.6,234.4 256.5,234.1 257.2,233.8" stroke="#ec2424" stroke-width="0.8" stroke-opacity="0.55"/>
<path d="M208.3,237 208.8,237.1 209.5,237.3 210.3,237.4 211.3,237.6 212.2,237.7 213.1,237.7 214.1,237.7 215.1,237.7 216.1,237.6 217.2,237.4 218.1,237.2 219,236.8 219.8,236.2 220.6,235.5 221.3,234.6 222,233.8 222.5,233.1 222.9,232.6" stroke="#ec2424" stroke-width="1.3" stroke-opacity="0.85"/>
<path d="M237,243.7 237.7,243.3 238.6,242.8 239.8,242.2 241,241.6 242.3,240.9 243.5,240.4 244.6,239.8 245.7,239.2 246.9,238.6 248,238.1 249.2,237.8 250.3,237.7 251.5,238.1 252.8,238.7 254.2,239.5 255.4,240.3 256.4,241.1 257.2,241.6" stroke="#ec2424" stroke-width="0.9" stroke-opacity="0.7"/>
<path d="M208.3,241.6 208.8,241.1 209.4,240.4 210.3,239.5 211.2,238.7 212.2,238.1 213.1,237.7 214.2,237.7 215.3,237.9 216.4,238.2 217.6,238.6 218.8,239.2 220,239.8 221.2,240.5 222.5,241.5 223.8,242.6 225,243.6 226,244.5 226.7,245.1" stroke="#ec2424" stroke-width="0.9" stroke-opacity="0.6"/>
<path d="M242.5,232.6 243,233.5 243.7,234.9 244.6,236.5 245.6,238 246.5,239.4 247.4,240.4 248.2,240.9 249,241.2 249.8,241.3 250.6,241.2 251.4,241.1 252.3,241 253.1,240.8 254.1,240.5 255,240.1 255.9,239.7 256.6,239.4 257.2,239.2" stroke="#f4a0a0" stroke-width="0.8"/>
<path d="M208.3,304.6 209.3,304.6 210.8,304.7 212.6,304.8 214.5,304.9 216.3,305 218,305.1 219.5,305.2 221,305.3 222.4,305.5 223.8,305.6 225.2,305.7 226.7,305.8 228.3,305.8 230,305.7 231.7,305.7 233.5,305.6 235.2,305.5 237,305.4 238.7,305.4 240.4,305.3 242.2,305.2 243.9,305.2 245.7,305.1 247.4,305.1 249.1,305 251,304.9 252.9,304.8 254.6,304.7 256.1,304.6 257.2,304.6" stroke="#ec2424" stroke-width="1.2" stroke-opacity="0.85"/>
<path d="M215.1,232.6 226.7,254.1 237,271.4" stroke="#1f78e0" stroke-width="0.9"/>
<path d="M226.7,289.3 237,271.4" stroke="#1f78e0" stroke-width="1.1"/>
<path d="M226.7,254.1 233.7,244 240.5,232.6" stroke="#1f78e0" stroke-width="1.3"/>
<path d="M226.7,289.3 233.7,300 239.5,310.2" stroke="#1f78e0" stroke-width="1.1"/>
<path d="M226.7,289.3 218,301.2 213.1,310.2" stroke="#1f78e0" stroke-width="0.8"/>
<path d="M208.3,271.4 208.8,271.7 209.5,272 210.3,272.4 211.3,273 212.2,273.6 213.1,274.4 214.1,275.3 215.1,276.5 216.1,277.8 217.1,279.1 218.1,280.4 219,281.5 219.9,282.7 220.8,283.8 221.6,284.9 222.5,285.9 223.2,286.8 223.9,287.5 224.4,288.1 224.7,288.6 225,289 225.3,289.2 225.9,289.3 226.7,289.3 228.1,289.1 229.7,288.7 231.6,288.3 233.5,287.7 235.4,287 237,286.3 238.2,285.6 239.4,284.7 240.4,283.8 241.4,282.9 242.4,281.9 243.5,280.9 244.6,280 245.7,278.9 246.9,277.9 248,276.8 249.2,275.8 250.3,275 251.5,274.2 252.8,273.5 254.2,272.8 255.4,272.2 256.4,271.8 257.2,271.4" stroke="#ec2424" stroke-width="1.0"/>
<path d="M226.2,289.5 226.8,289.4 227.7,289.2 228.7,288.9 229.7,288.7 230.8,288.4 231.7,288.1 232.7,287.8 233.7,287.5 234.7,287.1 235.6,286.8 236.4,286.5 237,286.3" stroke="#ec2424" stroke-width="1.9"/>
<path d="M218,234.4 218.6,235.3 219.3,236.6 220.2,238.1 221.2,239.6 222.1,241.1 222.9,242.2 223.5,243 224,243.7 224.5,244.2 225,244.7 225.7,245 226.7,245.1 228.2,245.1 230,244.9 232.1,244.6 234.1,244.2 235.8,243.9 237,243.7" stroke="#ec2424" stroke-width="1.0"/>
<path d="M226.7,245.1 227.3,245.1 228,245 228.9,244.9 229.9,244.8 230.8,244.7 231.7,244.5 232.6,244.4 233.6,244.3 234.6,244.1 235.6,243.9 236.4,243.8 237,243.7" stroke="#ec2424" stroke-width="1.7" stroke-opacity="0.9"/>
</g>
<rect x="208.25000000000003" y="235.6" width="48.9" height="71.6" fill="none" stroke="#505050" stroke-width="1.3"/>
<text x="232.70" y="233.60" font-size="4.6" text-anchor="middle" fill="#333">E<tspan font-size="3" dy="1">z</tspan><tspan dy="-1"> = +0.4 V/Å</tspan></text>
<text x="208.25" y="312.40" font-size="5.2" text-anchor="middle" fill="#333">Γ</text>
<text x="226.73" y="312.40" font-size="5.2" text-anchor="middle" fill="#333">M</text>
<text x="236.95" y="312.40" font-size="5.2" text-anchor="middle" fill="#333">K</text>
<text x="257.15" y="312.40" font-size="5.2" text-anchor="middle" fill="#333">Γ</text>
<clipPath id="c474"><rect x="299.2" y="148.6" width="48.8" height="70.0"/></clipPath>
<g clip-path="url(#c474)" fill="none" stroke-linejoin="round">
<line x1="317.6" y1="148.6" x2="317.6" y2="218.6" stroke="#a0a0a0" stroke-width="0.6"/>
<line x1="327.8" y1="148.6" x2="327.8" y2="218.6" stroke="#a0a0a0" stroke-width="0.6"/>
<line x1="299.2" y1="183.6" x2="348.0" y2="183.6" stroke="#a0a0a0" stroke-width="0.6"/>
<path d="M299.2,183.6 299.6,184.1 300.2,184.8 300.9,185.6 301.7,186.6 302.4,187.6 303.1,188.8 303.7,190.1 304.3,191.3 304.8,192.7 305.4,194.3 306,196.3 306.5,198.8 307.1,202.1 307.8,206.2 308.4,210.8 309.1,215.1 309.6,218.9 309.9,221.5" stroke="#f4a0a0" stroke-width="0.75"/>
<path d="M348,183.6 347.6,184.1 347,184.8 346.3,185.6 345.5,186.6 344.8,187.6 344.1,188.8 343.5,190.1 342.9,191.3 342.4,192.7 341.8,194.3 341.2,196.3 340.7,198.8 340.1,202.1 339.4,206.2 338.8,210.8 338.1,215.1 337.6,218.9 337.3,221.5" stroke="#f4a0a0" stroke-width="0.75"/>
<path d="M317.6,201.1 318,201.6 318.4,202.3 319,203.1 319.6,204 320.4,204.9 321.2,205.8 322.1,206.6 323.3,207.5 324.5,208.4 325.8,209.3 326.9,210.4 327.8,211.6 328.6,213.1 329.3,215 329.8,216.9 330.3,218.8 330.6,220.4 330.9,221.5" stroke="#f4a0a0" stroke-width="0.7"/>
<path d="M311.4,221.5 311.8,220 312.3,217.8 312.9,215.2 313.6,212.6 314.2,210.1 314.8,208.1 315.4,206.5 315.9,205 316.4,203.8 316.9,202.7 317.3,201.8 317.6,201.1" stroke="#f4a0a0" stroke-width="0.7"/>
<path d="M299.2,153.3 299.6,153 300.1,152.6 300.7,152.1 301.4,151.5 302,150.9 302.6,150.3 303.2,149.7 303.7,148.9 304.2,148.2 304.7,147.4 305.3,146.8 306,146.3 306.9,146 307.9,145.8 308.9,145.7 309.9,145.7 310.8,145.7 311.4,145.7" stroke="#f4a0a0" stroke-width="0.75"/>
<path d="M348,153.3 347.6,153 347.1,152.6 346.5,152.1 345.8,151.5 345.2,150.9 344.6,150.3 344,149.7 343.5,148.9 343,148.2 342.5,147.4 341.9,146.8 341.2,146.3 340.3,146 339.3,145.8 338.3,145.7 337.3,145.7 336.4,145.7 335.8,145.7" stroke="#f4a0a0" stroke-width="0.75"/>
<path d="M317.7,145.7 318.3,145.7 319,145.5 319.9,145.4 320.8,145.4 321.7,145.7 322.6,146.3 323.5,147.4 324.5,148.9 325.5,150.7 326.5,152.4 327.3,154 327.8,155" stroke="#f4a0a0" stroke-width="0.8"/>
<path d="M327.8,155 328.7,154.1 329.9,152.7 331.4,151.2 332.9,149.5 334.4,147.8 335.8,146.3 337.1,144.7 338.5,142.9 339.8,141.2 341.1,139.6 342.2,138.5 343.1,138.1 343.8,138.5 344.4,139.7 344.8,141.4 345.1,143.1 345.4,144.7 345.6,145.7" stroke="#f4a0a0" stroke-width="0.8"/>
<path d="M299.2,155 299.6,154.7 300.1,154.3 300.7,153.7 301.4,153.2 302,152.6 302.6,152.1 303.2,151.6 303.8,151.1 304.4,150.7 304.9,150.2 305.5,149.7 306,149.2 306.6,148.6 307.2,147.9 307.7,147.3 308.2,146.6 308.6,146.1 309,145.7" stroke="#f4a0a0" stroke-width="0.7"/>
<path d="M348,155 347.6,154.7 347.1,154.3 346.5,153.7 345.8,153.2 345.2,152.6 344.6,152.1 344,151.6 343.4,151.1 342.8,150.7 342.3,150.2 341.7,149.7 341.2,149.2 340.6,148.6 340,147.9 339.5,147.3 339,146.6 338.6,146.1 338.2,145.7" stroke="#f4a0a0" stroke-width="0.7"/>
<path d="M299.2,211 299.8,211 300.7,210.8 301.7,210.7 302.9,210.7 304,211 305.1,211.6 306.2,212.8 307.4,214.6 308.6,216.6 309.7,218.6 310.7,220.3 311.4,221.5" stroke="#f4a0a0" stroke-width="0.7"/>
<path d="M348,211 347.4,211 346.5,210.8 345.5,210.7 344.3,210.7 343.2,211 342.1,211.6 341,212.8 339.8,214.6 338.6,216.6 337.5,218.6 336.5,220.3 335.8,221.5" stroke="#f4a0a0" stroke-width="0.7"/>
<path d="M302.1,145.7 302.7,147.6 303.4,150.4 304.3,153.6 305.3,156.9 306.2,160.1 307,162.6 307.7,164.6 308.4,166.4 309.1,167.9 309.7,169.3 310.3,170.4 310.9,171.3 311.4,172.1 311.9,172.6 312.4,172.9 312.8,173.1 313.3,173.2 313.8,173.1 314.5,172.9 315.2,172.4 315.9,171.8 316.6,171.2 317.2,170.7 317.6,170.3" stroke="#8fbef0" stroke-width="0.8"/>
<path d="M302.1,221.5 302.7,219.8 303.4,217.5 304.3,214.7 305.3,211.8 306.2,209.1 307,206.9 307.7,205.3 308.4,203.8 309.1,202.6 309.7,201.6 310.3,200.7 310.9,199.9 311.4,199.3 311.9,198.9 312.4,198.7 312.8,198.6 313.3,198.6 313.8,198.8 314.5,199.1 315.2,199.7 315.9,200.4 316.6,201.2 317.2,201.8 317.6,202.3" stroke="#8fbef0" stroke-width="0.8"/>
<path d="M306,145.7 317.6,170.3" stroke="#8fbef0" stroke-width="0.8"/>
<path d="M327.8,184.8 343.6,221.5" stroke="#8fbef0" stroke-width="0.8"/>
<path d="M327.8,184.8 346,145.7" stroke="#8fbef0" stroke-width="0.8"/>
<path d="M329.5,151.5 329.9,153.2 330.5,155.7 331.2,158.5 331.9,161.4 332.7,164.1 333.4,166.1 334,167.6 334.6,168.9 335.3,169.9 335.9,170.5 336.6,170.8 337.3,170.8 338,170.2 338.7,169.3 339.4,168 340.2,166.4 340.9,164.6 341.7,162.6 342.4,160.1 343.3,157 344.1,153.6 344.9,150.4 345.6,147.6 346,145.7" stroke="#8fbef0" stroke-width="0.8"/>
<path d="M329.5,215.7 329.9,214.1 330.5,211.8 331.2,209.2 332,206.6 332.7,204.6 333.4,203.4 334,203.4 334.5,204.1 335.1,205.3 335.6,206.7 336.2,208.2 336.8,209.3 337.4,210.1 338,210.8 338.7,211.5 339.4,212.2 340,213 340.7,213.9 341.4,215.1 342.1,216.5 342.9,218 343.6,219.4 344.2,220.7 344.6,221.5" stroke="#8fbef0" stroke-width="0.8"/>
<path d="M308,221.5 308.5,220.7 309.3,219.5 310.1,218.2 311.1,216.8 312,215.5 312.9,214.5 313.7,213.8 314.5,213.2 315.2,212.8 316,212.5 316.8,212.3 317.6,212.2 318.5,212.2 319.3,212.4 320.1,212.7 320.9,213.1 321.8,213.5 322.6,213.9 323.5,214.3 324.5,214.8 325.4,215.2 326.4,215.7 327.2,216.2 327.8,216.8 328.3,217.6 328.7,218.4 329,219.4 329.2,220.2 329.3,221 329.5,221.5" stroke="#8fbef0" stroke-width="0.8"/>
<path d="M300.2,145.7 300.7,147.1 301.4,149.2 302.2,151.6 303.1,154.1 304.1,156.3 305.1,157.9 306,159 307.1,159.8 308.1,160.3 309.2,160.6 310.3,160.7 311.4,160.8 312.5,161 313.6,161 314.7,161 315.8,160.7 316.8,160.1 317.6,159.1 318.4,157.4 319.2,155 319.8,152.3 320.4,149.6 320.8,147.3 321.2,145.7" stroke="#8fbef0" stroke-width="0.7"/>
<path d="M299.2,213.9 299.7,214 300.5,214 301.3,214.1 302.3,214.1 303.2,214.1 304.1,213.9 304.9,213.6 305.7,213.2 306.5,212.8 307.3,212.2 308.1,211.6 309,211 309.8,210.3 310.6,209.6 311.5,208.8 312.3,207.9 313.1,207.1 313.8,206.3 314.6,205.6 315.3,204.8 316,204 316.7,203.3 317.2,202.7 317.6,202.3" stroke="#ec2424" stroke-width="1.1" stroke-opacity="0.8"/>
<path d="M348,213.9 347.5,214 346.7,214.1 345.9,214.2 344.9,214.2 344,214.1 343.1,213.9 342.3,213.6 341.5,213.1 340.7,212.5 339.9,211.9 339.1,211.2 338.2,210.4 337.4,209.6 336.6,208.7 335.8,207.7 335,206.6 334.2,205.6 333.4,204.6 332.4,203.6 331.4,202.4 330.3,201.3 329.3,200.3 328.5,199.4 327.8,198.8" stroke="#ec2424" stroke-width="1.1" stroke-opacity="0.8"/>
<path d="M300.2,183 300.9,183.7 301.8,184.6 303,185.7 304.2,186.9 305.4,188.2 306.5,189.4 307.6,190.7 308.7,192.2 309.8,193.6 310.9,195.1 311.9,196.4 312.9,197.6 313.8,198.6 314.8,199.6 315.7,200.4 316.5,201.2 317.1,201.8 317.6,202.3" stroke="#f4a0a0" stroke-width="0.7"/>
<path d="M317.6,202.3 316.7,202.7 315.4,203.4 313.9,204.1 312.3,204.9 310.6,205.7 309,206.3 307.3,206.9 305.4,207.5 303.5,208.1 301.8,208.6 300.3,209 299.2,209.3" stroke="#1f78e0" stroke-width="1.0"/>
<path d="M317.6,202.3 318.2,202.8 318.9,203.5 319.8,204.4 320.8,205.3 321.7,206.2 322.6,206.9 323.4,207.6 324.2,208.3 324.9,208.9 325.7,209.5 326.7,210 327.8,210.4 329.3,210.7 331,210.9 332.8,211 334.6,211 336.5,211 338.2,211 340,211 341.9,210.9 343.8,210.8 345.5,210.6 346.9,210.5 348,210.4" stroke="#1f78e0" stroke-width="0.9" stroke-opacity="0.85"/>
<path d="M306.5,221.5 307.2,220.7 308.2,219.6 309.4,218.2 310.6,216.8 311.8,215.5 312.9,214.5 313.7,213.7 314.4,213 315,212.5 315.7,212 316.6,211.7 317.6,211.6 319,211.7 320.6,212 322.4,212.4 324.2,213 326.1,213.5 327.8,213.9 329.6,214.4 331.3,214.8 333.1,215.3 334.8,215.7 336.5,216.1 338.2,216.3 340,216.3 341.9,216.1 343.8,215.8 345.5,215.5 346.9,215.3 348,215.1" stroke="#8fbef0" stroke-width="0.8"/>
<path d="M299.2,145.7 299.8,146 300.7,146.4 301.7,146.8 302.9,147.4 304,148 305.1,148.6 306.1,149.3 307.1,150.1 308.2,150.9 309.3,151.7 310.3,152.5 311.4,153.3 312.4,154 313.3,154.7 314.3,155.4 315.3,156 316.4,156.5 317.6,156.8 319.1,156.9 320.8,156.9 322.6,156.7 324.5,156.4 326.2,156.1 327.8,155.6 329.3,155 330.7,154.2 332.1,153.4 333.4,152.5 334.6,151.7 335.8,150.9 337,150.3 338.1,149.8 339.1,149.3 340.1,148.9 341.1,148.4 342.1,148 343.2,147.6 344.3,147.1 345.5,146.7 346.5,146.3 347.4,145.9 348,145.7" stroke="#ec2424" stroke-width="0.8" stroke-opacity="0.55"/>
<path d="M327.8,155.4 328.5,155 329.5,154.5 330.7,153.9 331.9,153.3 333.2,152.6 334.3,152.1 335.5,151.6 336.6,151 337.7,150.4 338.9,149.9 340,149.6 341.2,149.5 342.4,149.8 343.7,150.4 345,151.2 346.2,152.1 347.3,152.8 348,153.3" stroke="#ec2424" stroke-width="0.9" stroke-opacity="0.7"/>
<path d="M299.2,153.3 299.7,152.8 300.4,152.1 301.2,151.3 302.1,150.5 303.1,149.9 304.1,149.5 305.1,149.5 306.2,149.7 307.4,150 308.6,150.4 309.8,150.9 310.9,151.5 312.1,152.3 313.4,153.2 314.7,154.3 315.9,155.3 316.9,156.2 317.6,156.8" stroke="#ec2424" stroke-width="0.9" stroke-opacity="0.6"/>
<path d="M333.4,145.7 333.9,146.6 334.6,147.9 335.5,149.4 336.4,151 337.4,152.3 338.2,153.3 339.1,153.8 339.9,154.1 340.7,154.1 341.5,154.1 342.3,154 343.1,153.8 344,153.7 344.9,153.4 345.9,153 346.7,152.6 347.5,152.3 348,152.1" stroke="#f4a0a0" stroke-width="0.8"/>
<path d="M306,145.7 317.6,170.3 327.8,184.8" stroke="#1f78e0" stroke-width="0.9"/>
<path d="M317.6,202.3 327.8,184.8" stroke="#1f78e0" stroke-width="1.1"/>
<path d="M317.6,170.3 324.6,157.9 331.4,145.7" stroke="#1f78e0" stroke-width="1.3"/>
<path d="M317.6,202.3 324.6,212.8 330.4,221.5" stroke="#1f78e0" stroke-width="1.1"/>
<path d="M317.6,202.3 309,213.9 304.1,221.5" stroke="#1f78e0" stroke-width="0.8"/>
<path d="M299.2,183.6 299.7,183.9 300.4,184.2 301.3,184.6 302.2,185.1 303.2,185.8 304.1,186.5 305,187.5 306,188.6 307,189.8 308,191.1 309,192.4 309.9,193.5 310.8,194.6 311.7,195.7 312.6,196.8 313.4,197.8 314.1,198.6 314.8,199.3 315.3,199.9 315.6,200.4 315.9,200.8 316.2,201 316.8,201.1 317.6,201.1 319,200.9 320.6,200.6 322.5,200.1 324.4,199.5 326.3,198.9 327.8,198.2 329.1,197.5 330.3,196.6 331.3,195.7 332.3,194.8 333.3,193.9 334.3,192.9 335.5,192 336.6,190.9 337.7,189.9 338.9,188.9 340,187.9 341.2,187.1 342.4,186.3 343.7,185.6 345,185 346.2,184.4 347.3,184 348,183.6" stroke="#ec2424" stroke-width="1.0"/>
<path d="M317.2,201.3 317.8,201.2 318.6,201 319.6,200.7 320.6,200.5 321.7,200.2 322.6,199.9 323.6,199.6 324.6,199.3 325.6,199 326.5,198.6 327.3,198.4 327.8,198.2" stroke="#ec2424" stroke-width="1.9"/>
<path d="M309,146.3 309.5,147.1 310.3,148.4 311.2,149.9 312.1,151.4 313,152.8 313.8,153.8 314.5,154.7 315,155.3 315.4,155.9 315.9,156.3 316.7,156.6 317.6,156.8 319.1,156.8 321,156.6 323,156.2 325,155.9 326.7,155.6 327.8,155.4" stroke="#ec2424" stroke-width="1.0"/>
<path d="M317.6,156.8 318.2,156.7 318.9,156.6 319.8,156.5 320.8,156.4 321.7,156.3 322.6,156.2 323.5,156.1 324.5,155.9 325.5,155.7 326.5,155.6 327.3,155.5 327.8,155.4" stroke="#ec2424" stroke-width="1.7" stroke-opacity="0.9"/>
</g>
<rect x="299.2" y="148.6" width="48.8" height="70.0" fill="none" stroke="#505050" stroke-width="1.3"/>
<text x="323.60" y="146.60" font-size="4.6" text-anchor="middle" fill="#333">d<tspan font-size="3" dy="1">w</tspan><tspan dy="-1"> = 1.45 Å</tspan></text>
<text x="299.20" y="223.80" font-size="5.2" text-anchor="middle" fill="#333">Γ</text>
<text x="317.65" y="223.80" font-size="5.2" text-anchor="middle" fill="#333">M</text>
<text x="327.85" y="223.80" font-size="5.2" text-anchor="middle" fill="#333">K</text>
<text x="348.00" y="223.80" font-size="5.2" text-anchor="middle" fill="#333">Γ</text>
<text x="297.00" y="150.30" font-size="5" text-anchor="end" fill="#333">3</text>
<text x="297.00" y="161.97" font-size="5" text-anchor="end" fill="#333">2</text>
<text x="297.00" y="173.63" font-size="5" text-anchor="end" fill="#333">1</text>
<text x="297.00" y="185.30" font-size="5" text-anchor="end" fill="#333">0</text>
<text x="297.00" y="196.97" font-size="5" text-anchor="end" fill="#333">-1</text>
<text x="297.00" y="208.63" font-size="5" text-anchor="end" fill="#333">-2</text>
<text x="297.00" y="220.30" font-size="5" text-anchor="end" fill="#333">-3</text>
<text x="0" y="0" font-size="5.2" text-anchor="middle" fill="#333" transform="translate(289.70,183.60) rotate(-90)">Energy (eV)</text>
<clipPath id="c534"><rect x="356.3" y="148.6" width="48.8" height="70.0"/></clipPath>
<g clip-path="url(#c534)" fill="none" stroke-linejoin="round">
<line x1="374.7" y1="148.6" x2="374.7" y2="218.6" stroke="#a0a0a0" stroke-width="0.6"/>
<line x1="384.9" y1="148.6" x2="384.9" y2="218.6" stroke="#a0a0a0" stroke-width="0.6"/>
<line x1="356.3" y1="183.6" x2="405.1" y2="183.6" stroke="#a0a0a0" stroke-width="0.6"/>
<path d="M356.3,183.6 356.7,184.1 357.3,184.8 358,185.6 358.8,186.6 359.5,187.6 360.2,188.8 360.8,190.1 361.4,191.3 361.9,192.7 362.5,194.3 363.1,196.3 363.6,198.8 364.2,202.1 364.9,206.2 365.5,210.8 366.2,215.1 366.7,218.9 367,221.5" stroke="#f4a0a0" stroke-width="0.75"/>
<path d="M405.1,183.6 404.7,184.1 404.1,184.8 403.4,185.6 402.6,186.6 401.9,187.6 401.2,188.8 400.6,190.1 400,191.3 399.5,192.7 398.9,194.3 398.3,196.3 397.8,198.8 397.2,202.1 396.5,206.2 395.9,210.8 395.2,215.1 394.7,218.9 394.4,221.5" stroke="#f4a0a0" stroke-width="0.75"/>
<path d="M374.7,201.1 375.1,201.6 375.5,202.3 376.1,203.1 376.7,204 377.5,204.9 378.3,205.8 379.2,206.6 380.4,207.5 381.6,208.4 382.9,209.3 384,210.4 384.9,211.6 385.7,213.1 386.4,215 386.9,216.9 387.4,218.8 387.7,220.4 388,221.5" stroke="#f4a0a0" stroke-width="0.7"/>
<path d="M368.5,221.5 368.9,220 369.4,217.8 370,215.2 370.7,212.6 371.3,210.1 371.9,208.1 372.5,206.5 373,205 373.5,203.8 374,202.7 374.4,201.8 374.7,201.1" stroke="#f4a0a0" stroke-width="0.7"/>
<path d="M356.3,155.1 356.7,154.8 357.2,154.4 357.8,153.9 358.5,153.4 359.1,152.8 359.7,152.2 360.3,151.6 360.8,150.9 361.3,150.1 361.8,149.4 362.4,148.7 363.1,148.1 364,147.6 365,147.1 366,146.7 367,146.3 367.9,145.9 368.5,145.7" stroke="#f4a0a0" stroke-width="0.75"/>
<path d="M405.1,155.1 404.7,154.8 404.2,154.4 403.6,153.9 402.9,153.4 402.3,152.8 401.7,152.2 401.1,151.6 400.6,150.9 400.1,150.1 399.6,149.4 399,148.7 398.3,148.1 397.4,147.6 396.4,147.1 395.4,146.7 394.4,146.3 393.5,145.9 392.9,145.7" stroke="#f4a0a0" stroke-width="0.75"/>
<path d="M374.8,145.7 375.4,145.9 376.1,146.1 377,146.4 377.9,146.8 378.8,147.3 379.7,148.1 380.6,149.3 381.6,150.9 382.6,152.7 383.6,154.4 384.4,155.9 384.9,156.9" stroke="#f4a0a0" stroke-width="0.8"/>
<path d="M384.9,156.9 385.8,155.9 387,154.6 388.5,153 390,151.3 391.5,149.7 392.9,148.1 394.2,146.6 395.6,144.9 396.9,143.1 398.2,141.6 399.3,140.5 400.2,140 400.9,140.2 401.5,141.1 401.9,142.3 402.2,143.7 402.5,144.9 402.7,145.7" stroke="#f4a0a0" stroke-width="0.8"/>
<path d="M356.3,155 356.7,154.7 357.2,154.3 357.8,153.7 358.5,153.2 359.1,152.6 359.7,152.1 360.3,151.6 360.9,151.1 361.5,150.7 362,150.2 362.6,149.7 363.1,149.2 363.7,148.6 364.3,147.9 364.8,147.3 365.3,146.6 365.7,146.1 366.1,145.7" stroke="#f4a0a0" stroke-width="0.7"/>
<path d="M405.1,155 404.7,154.7 404.2,154.3 403.6,153.7 402.9,153.2 402.3,152.6 401.7,152.1 401.1,151.6 400.5,151.1 399.9,150.7 399.4,150.2 398.8,149.7 398.3,149.2 397.7,148.6 397.1,147.9 396.6,147.3 396.1,146.6 395.7,146.1 395.3,145.7" stroke="#f4a0a0" stroke-width="0.7"/>
<path d="M356.3,211 356.9,211 357.8,210.8 358.8,210.7 360,210.7 361.1,211 362.2,211.6 363.3,212.8 364.5,214.6 365.7,216.6 366.8,218.6 367.8,220.3 368.5,221.5" stroke="#f4a0a0" stroke-width="0.7"/>
<path d="M405.1,211 404.5,211 403.6,210.8 402.6,210.7 401.4,210.7 400.3,211 399.2,211.6 398.1,212.8 396.9,214.6 395.7,216.6 394.6,218.6 393.6,220.3 392.9,221.5" stroke="#f4a0a0" stroke-width="0.7"/>
<path d="M359.2,145.7 359.8,147.5 360.5,150 361.4,153 362.4,156.1 363.3,159 364.1,161.4 364.8,163.4 365.5,165.1 366.2,166.7 366.8,168 367.4,169.2 368,170.2 368.5,171 369,171.5 369.5,171.9 369.9,172.1 370.4,172.1 370.9,171.9 371.6,171.5 372.3,170.7 373,169.7 373.7,168.7 374.3,167.8 374.7,167.3" stroke="#8fbef0" stroke-width="0.8"/>
<path d="M359.2,221.5 359.8,219.7 360.5,217.1 361.4,214.1 362.4,211 363.3,208.1 364.1,205.8 364.8,204 365.5,202.6 366.2,201.4 366.8,200.3 367.4,199.5 368,198.8 368.5,198.2 369,197.8 369.5,197.5 369.9,197.4 370.4,197.5 370.9,197.6 371.6,198 372.3,198.6 373,199.3 373.7,200 374.3,200.7 374.7,201.1" stroke="#8fbef0" stroke-width="0.8"/>
<path d="M363.1,145.7 374.7,167.3" stroke="#8fbef0" stroke-width="0.8"/>
<path d="M384.9,183.6 400.7,221.5" stroke="#8fbef0" stroke-width="0.8"/>
<path d="M384.9,183.6 403.1,145.7" stroke="#8fbef0" stroke-width="0.8"/>
<path d="M386.6,151.5 387,153.1 387.6,155.3 388.3,157.9 389,160.6 389.8,163 390.5,164.9 391.1,166.4 391.7,167.6 392.4,168.6 393,169.3 393.7,169.7 394.4,169.6 395.1,169.1 395.8,168.1 396.5,166.8 397.3,165.2 398,163.4 398.8,161.4 399.5,159.1 400.4,156.2 401.2,153 402,150 402.7,147.5 403.1,145.7" stroke="#8fbef0" stroke-width="0.8"/>
<path d="M386.6,215.7 387,214 387.6,211.5 388.3,208.6 389.1,205.8 389.8,203.5 390.5,202.3 391.1,202.1 391.6,202.8 392.2,204.1 392.7,205.5 393.3,207 393.9,208.1 394.5,208.9 395.1,209.6 395.8,210.3 396.5,211 397.1,211.8 397.8,212.8 398.5,214.1 399.2,215.7 400,217.4 400.7,219.1 401.3,220.5 401.7,221.5" stroke="#8fbef0" stroke-width="0.8"/>
<path d="M365.1,221.5 365.6,220.6 366.4,219.2 367.2,217.6 368.2,215.9 369.1,214.5 370,213.3 370.8,212.6 371.6,212 372.3,211.6 373.1,211.3 373.9,211.1 374.7,211 375.6,211 376.4,211.2 377.2,211.5 378,211.9 378.9,212.3 379.7,212.8 380.6,213.3 381.6,213.9 382.5,214.6 383.5,215.4 384.3,216.1 384.9,216.8 385.4,217.6 385.8,218.5 386.1,219.4 386.3,220.3 386.4,221 386.6,221.5" stroke="#8fbef0" stroke-width="0.8"/>
<path d="M357.3,145.7 357.8,147 358.5,148.9 359.3,151 360.2,153.3 361.2,155.3 362.2,156.8 363.1,157.8 364.2,158.5 365.2,159 366.3,159.4 367.4,159.6 368.5,159.7 369.6,159.8 370.7,159.8 371.8,159.8 372.9,159.5 373.9,158.9 374.7,157.9 375.5,156.4 376.3,154.2 376.9,151.7 377.5,149.2 377.9,147.1 378.3,145.7" stroke="#8fbef0" stroke-width="0.7"/>
<path d="M356.3,213.9 356.8,214 357.6,214 358.4,214.1 359.4,214.1 360.3,214.1 361.2,213.9 362,213.6 362.8,213.2 363.6,212.8 364.4,212.2 365.2,211.6 366.1,211 366.9,210.3 367.7,209.6 368.6,208.8 369.4,207.9 370.2,207.1 370.9,206.3 371.7,205.6 372.4,204.8 373.1,204 373.8,203.3 374.3,202.7 374.7,202.3" stroke="#ec2424" stroke-width="1.1" stroke-opacity="0.8"/>
<path d="M405.1,213.9 404.6,214 403.8,214.1 403,214.2 402,214.2 401.1,214.1 400.2,213.9 399.4,213.6 398.6,213.1 397.8,212.5 397,211.9 396.2,211.2 395.3,210.4 394.5,209.6 393.7,208.7 392.9,207.7 392.1,206.6 391.3,205.6 390.5,204.6 389.5,203.6 388.5,202.4 387.4,201.3 386.4,200.3 385.6,199.4 384.9,198.8" stroke="#ec2424" stroke-width="1.1" stroke-opacity="0.8"/>
<path d="M357.3,183 358,183.7 358.9,184.6 360.1,185.7 361.3,186.9 362.5,188.2 363.6,189.4 364.7,190.7 365.8,192.2 366.9,193.6 368,195.1 369,196.4 370,197.6 370.9,198.6 371.9,199.6 372.8,200.4 373.6,201.2 374.2,201.8 374.7,202.3" stroke="#f4a0a0" stroke-width="0.7"/>
<path d="M374.7,201.1 373.8,201.6 372.5,202.2 371,203 369.4,203.8 367.7,204.5 366.1,205.2 364.4,205.8 362.5,206.3 360.6,206.9 358.9,207.4 357.4,207.8 356.3,208.1" stroke="#1f78e0" stroke-width="1.0"/>
<path d="M374.7,201.1 375.3,201.6 376,202.4 376.9,203.2 377.9,204.1 378.8,205 379.7,205.8 380.5,206.5 381.3,207.1 382,207.8 382.8,208.4 383.8,208.9 384.9,209.3 386.4,209.5 388.1,209.7 389.9,209.8 391.7,209.8 393.6,209.9 395.3,209.8 397.1,209.8 399,209.7 400.9,209.6 402.6,209.5 404,209.3 405.1,209.3" stroke="#1f78e0" stroke-width="0.9" stroke-opacity="0.85"/>
<path d="M363.6,221.5 364.3,220.6 365.3,219.2 366.5,217.6 367.7,216 368.9,214.5 370,213.3 370.8,212.5 371.5,211.8 372.1,211.2 372.8,210.8 373.7,210.6 374.7,210.4 376.1,210.5 377.7,210.8 379.5,211.3 381.3,211.8 383.2,212.3 384.9,212.8 386.7,213.2 388.4,213.7 390.2,214.2 391.9,214.6 393.6,214.9 395.3,215.1 397.1,215.1 399,214.9 400.9,214.7 402.6,214.4 404,214.1 405.1,213.9" stroke="#8fbef0" stroke-width="0.8"/>
<path d="M356.3,147.5 356.9,147.8 357.8,148.2 358.8,148.7 360,149.3 361.1,149.8 362.2,150.5 363.2,151.2 364.2,151.9 365.3,152.8 366.4,153.6 367.4,154.4 368.5,155.1 369.5,155.8 370.4,156.6 371.4,157.2 372.4,157.9 373.5,158.3 374.7,158.6 376.2,158.7 377.9,158.7 379.7,158.6 381.6,158.3 383.3,157.9 384.9,157.5 386.4,156.9 387.8,156.1 389.2,155.2 390.5,154.4 391.7,153.5 392.9,152.8 394.1,152.2 395.2,151.7 396.2,151.2 397.2,150.7 398.2,150.3 399.2,149.9 400.3,149.4 401.4,149 402.6,148.5 403.6,148.1 404.5,147.8 405.1,147.5" stroke="#ec2424" stroke-width="0.8" stroke-opacity="0.55"/>
<path d="M384.9,157.2 385.6,156.9 386.6,156.4 387.8,155.8 389,155.1 390.3,154.5 391.4,154 392.6,153.4 393.7,152.8 394.8,152.2 396,151.8 397.1,151.5 398.3,151.4 399.5,151.7 400.8,152.3 402.1,153.1 403.3,153.9 404.4,154.7 405.1,155.1" stroke="#ec2424" stroke-width="0.9" stroke-opacity="0.7"/>
<path d="M356.3,155.1 356.8,154.7 357.5,154 358.3,153.1 359.2,152.4 360.2,151.7 361.2,151.4 362.2,151.4 363.3,151.5 364.5,151.8 365.7,152.3 366.9,152.8 368,153.4 369.2,154.1 370.5,155.1 371.8,156.1 373,157.2 374,158 374.7,158.6" stroke="#ec2424" stroke-width="0.9" stroke-opacity="0.6"/>
<path d="M390.5,145.7 391,146.6 391.7,147.9 392.6,149.4 393.5,151 394.5,152.3 395.3,153.3 396.2,153.8 397,154.1 397.8,154.1 398.6,154.1 399.4,154 400.2,153.8 401.1,153.7 402,153.4 403,153 403.8,152.6 404.6,152.3 405.1,152.1" stroke="#f4a0a0" stroke-width="0.8"/>
<path d="M363.1,145.7 374.7,167.3 384.9,183.6" stroke="#1f78e0" stroke-width="0.9"/>
<path d="M374.7,201.1 384.9,183.6" stroke="#1f78e0" stroke-width="1.1"/>
<path d="M374.7,167.3 381.7,156.8 388.5,145.7" stroke="#1f78e0" stroke-width="1.3"/>
<path d="M374.7,201.1 381.7,211.6 387.5,221.5" stroke="#1f78e0" stroke-width="1.1"/>
<path d="M374.7,201.1 366.1,212.8 361.2,221.5" stroke="#1f78e0" stroke-width="0.8"/>
<path d="M356.3,183.6 356.8,183.9 357.5,184.2 358.4,184.6 359.3,185.1 360.3,185.8 361.2,186.5 362.1,187.5 363.1,188.6 364.1,189.8 365.1,191.1 366.1,192.4 367,193.5 367.9,194.6 368.8,195.7 369.7,196.8 370.5,197.8 371.2,198.6 371.9,199.3 372.4,199.9 372.7,200.4 373,200.8 373.3,201 373.9,201.1 374.7,201.1 376.1,200.9 377.7,200.6 379.6,200.1 381.5,199.5 383.4,198.9 384.9,198.2 386.2,197.5 387.4,196.6 388.4,195.7 389.4,194.8 390.4,193.9 391.4,192.9 392.6,192 393.7,190.9 394.8,189.9 396,188.9 397.1,187.9 398.3,187.1 399.5,186.3 400.8,185.6 402.1,185 403.3,184.4 404.4,184 405.1,183.6" stroke="#ec2424" stroke-width="1.0"/>
<path d="M374.3,201.3 374.9,201.2 375.7,201 376.7,200.7 377.7,200.5 378.8,200.2 379.7,199.9 380.7,199.6 381.7,199.3 382.7,199 383.6,198.6 384.4,198.4 384.9,198.2" stroke="#ec2424" stroke-width="1.9"/>
<path d="M366.1,148.1 366.6,149 367.4,150.3 368.3,151.7 369.2,153.3 370.1,154.6 370.9,155.7 371.6,156.5 372.1,157.2 372.5,157.7 373,158.2 373.8,158.5 374.7,158.6 376.2,158.6 378.1,158.4 380.1,158.1 382.1,157.8 383.8,157.4 384.9,157.2" stroke="#ec2424" stroke-width="1.0"/>
<path d="M374.7,158.6 375.3,158.6 376,158.5 376.9,158.4 377.9,158.3 378.8,158.2 379.7,158 380.6,157.9 381.6,157.8 382.6,157.6 383.6,157.5 384.4,157.3 384.9,157.2" stroke="#ec2424" stroke-width="1.7" stroke-opacity="0.9"/>
</g>
<rect x="356.3" y="148.6" width="48.8" height="70.0" fill="none" stroke="#505050" stroke-width="1.3"/>
<text x="380.70" y="146.60" font-size="4.6" text-anchor="middle" fill="#333">d<tspan font-size="3" dy="1">w</tspan><tspan dy="-1"> = 1.75 Å</tspan></text>
<text x="356.30" y="223.80" font-size="5.2" text-anchor="middle" fill="#333">Γ</text>
<text x="374.75" y="223.80" font-size="5.2" text-anchor="middle" fill="#333">M</text>
<text x="384.95" y="223.80" font-size="5.2" text-anchor="middle" fill="#333">K</text>
<text x="405.10" y="223.80" font-size="5.2" text-anchor="middle" fill="#333">Γ</text>
<clipPath id="c586"><rect x="413.4" y="148.6" width="48.8" height="70.0"/></clipPath>
<g clip-path="url(#c586)" fill="none" stroke-linejoin="round">
<line x1="431.8" y1="148.6" x2="431.8" y2="218.6" stroke="#a0a0a0" stroke-width="0.6"/>
<line x1="442.0" y1="148.6" x2="442.0" y2="218.6" stroke="#a0a0a0" stroke-width="0.6"/>
<line x1="413.4" y1="183.6" x2="462.2" y2="183.6" stroke="#a0a0a0" stroke-width="0.6"/>
<path d="M413.4,185.8 413.8,186.3 414.4,187 415.1,187.8 415.9,188.8 416.6,189.9 417.3,191.1 417.9,192.3 418.5,193.6 419,195.1 419.6,196.7 420.2,198.7 420.7,201 421.3,204 422,207.8 422.6,211.9 423.3,215.8 423.8,219.2 424.1,221.5" stroke="#f4a0a0" stroke-width="0.75"/>
<path d="M462.2,185.8 461.8,186.3 461.2,187 460.5,187.8 459.7,188.8 459,189.9 458.3,191.1 457.7,192.3 457.1,193.6 456.6,195.1 456,196.7 455.4,198.7 454.9,201 454.3,204 453.6,207.8 453,211.9 452.3,215.8 451.8,219.2 451.5,221.5" stroke="#f4a0a0" stroke-width="0.75"/>
<path d="M431.8,203.3 432.2,203.8 432.6,204.5 433.2,205.3 433.8,206.2 434.6,207.1 435.4,208 436.3,208.9 437.5,209.8 438.7,210.7 440,211.7 441.1,212.7 442,213.8 442.8,215.1 443.5,216.5 444,218 444.5,219.5 444.8,220.7 445.1,221.5" stroke="#f4a0a0" stroke-width="0.7"/>
<path d="M425.6,221.5 426,220.2 426.5,218.5 427.1,216.4 427.8,214.2 428.4,212.1 429,210.3 429.6,208.8 430.1,207.4 430.6,206.1 431.1,205 431.5,204 431.8,203.3" stroke="#f4a0a0" stroke-width="0.7"/>
<path d="M413.4,157.2 413.8,156.9 414.3,156.5 414.9,156 415.6,155.5 416.2,154.9 416.8,154.3 417.4,153.7 417.9,153.1 418.4,152.4 418.9,151.7 419.5,151 420.2,150.2 421.1,149.4 422.1,148.6 423.1,147.7 424.1,146.9 425,146.2 425.6,145.7" stroke="#f4a0a0" stroke-width="0.75"/>
<path d="M462.2,157.2 461.8,156.9 461.3,156.5 460.7,156 460,155.5 459.4,154.9 458.8,154.3 458.2,153.7 457.7,153.1 457.2,152.4 456.7,151.7 456.1,151 455.4,150.2 454.5,149.4 453.5,148.6 452.5,147.7 451.5,146.9 450.6,146.2 450,145.7" stroke="#f4a0a0" stroke-width="0.75"/>
<path d="M431.9,145.7 432.5,146.1 433.2,146.7 434.1,147.4 435,148.2 435.9,149.2 436.8,150.2 437.7,151.5 438.7,153.2 439.7,154.9 440.7,156.6 441.5,158 442,159" stroke="#f4a0a0" stroke-width="0.8"/>
<path d="M442,159 442.9,158 444.1,156.7 445.6,155.1 447.1,153.4 448.6,151.8 450,150.2 451.3,148.7 452.7,147 454,145.4 455.3,143.9 456.4,142.7 457.3,142.1 458,142 458.6,142.5 459,143.4 459.3,144.3 459.6,145.2 459.8,145.7" stroke="#f4a0a0" stroke-width="0.8"/>
<path d="M413.4,155 413.8,154.7 414.3,154.3 414.9,153.7 415.6,153.2 416.2,152.6 416.8,152.1 417.4,151.6 418,151.1 418.6,150.7 419.1,150.2 419.7,149.7 420.2,149.2 420.8,148.6 421.4,147.9 421.9,147.3 422.4,146.6 422.8,146.1 423.2,145.7" stroke="#f4a0a0" stroke-width="0.7"/>
<path d="M462.2,155 461.8,154.7 461.3,154.3 460.7,153.7 460,153.2 459.4,152.6 458.8,152.1 458.2,151.6 457.6,151.1 457,150.7 456.5,150.2 455.9,149.7 455.4,149.2 454.8,148.6 454.2,147.9 453.7,147.3 453.2,146.6 452.8,146.1 452.4,145.7" stroke="#f4a0a0" stroke-width="0.7"/>
<path d="M413.4,213.2 414,213.2 414.9,213.1 415.9,213 417.1,213.1 418.2,213.3 419.3,213.8 420.4,214.8 421.6,216.1 422.8,217.7 423.9,219.3 424.9,220.6 425.6,221.5" stroke="#f4a0a0" stroke-width="0.7"/>
<path d="M462.2,213.2 461.6,213.2 460.7,213.1 459.7,213 458.5,213.1 457.4,213.3 456.3,213.8 455.2,214.8 454,216.1 452.8,217.7 451.7,219.3 450.7,220.6 450,221.5" stroke="#f4a0a0" stroke-width="0.7"/>
<path d="M416.3,145.7 416.9,147.5 417.6,150 418.5,153 419.5,156.1 420.4,159 421.2,161.4 421.9,163.4 422.6,165.1 423.3,166.7 423.9,168 424.5,169.2 425.1,170.2 425.6,171 426.1,171.6 426.6,172 427,172.2 427.5,172.2 428,171.9 428.7,171.3 429.4,170.4 430.1,169.2 430.8,168 431.4,166.9 431.8,166.2" stroke="#8fbef0" stroke-width="0.8"/>
<path d="M416.3,221.5 416.9,219.7 417.6,217.1 418.5,214.1 419.5,211 420.4,208.1 421.2,205.8 421.9,204 422.6,202.6 423.3,201.4 423.9,200.3 424.5,199.5 425.1,198.8 425.6,198.2 426.1,197.8 426.6,197.5 427,197.4 427.5,197.5 428,197.6 428.7,198 429.4,198.6 430.1,199.3 430.8,200 431.4,200.7 431.8,201.1" stroke="#8fbef0" stroke-width="0.8"/>
<path d="M420.2,145.7 431.8,166.2" stroke="#8fbef0" stroke-width="0.8"/>
<path d="M442,183.6 457.8,221.5" stroke="#8fbef0" stroke-width="0.8"/>
<path d="M442,183.6 460.2,145.7" stroke="#8fbef0" stroke-width="0.8"/>
<path d="M443.7,151.5 444.1,153.1 444.7,155.3 445.4,157.9 446.1,160.6 446.9,163 447.6,164.9 448.2,166.4 448.8,167.6 449.5,168.6 450.1,169.3 450.8,169.7 451.5,169.6 452.2,169.1 452.9,168.1 453.6,166.8 454.4,165.2 455.1,163.4 455.9,161.4 456.6,159.1 457.5,156.2 458.3,153 459.1,150 459.8,147.5 460.2,145.7" stroke="#8fbef0" stroke-width="0.8"/>
<path d="M443.7,215.7 444.1,214 444.7,211.5 445.4,208.6 446.2,205.8 446.9,203.5 447.6,202.3 448.2,202.1 448.7,202.8 449.3,204.1 449.8,205.5 450.4,207 451,208.1 451.6,208.9 452.2,209.6 452.9,210.3 453.6,211 454.2,211.8 454.9,212.8 455.6,214.1 456.3,215.7 457.1,217.4 457.8,219.1 458.4,220.5 458.8,221.5" stroke="#8fbef0" stroke-width="0.8"/>
<path d="M422.2,221.5 422.7,220.6 423.5,219.2 424.3,217.6 425.3,215.9 426.2,214.5 427.1,213.3 427.9,212.6 428.7,212 429.4,211.6 430.2,211.3 431,211.1 431.8,211 432.7,211 433.5,211.2 434.3,211.5 435.1,211.9 436,212.3 436.8,212.8 437.7,213.3 438.7,213.9 439.6,214.6 440.6,215.4 441.4,216.1 442,216.8 442.5,217.6 442.9,218.5 443.2,219.4 443.4,220.3 443.5,221 443.7,221.5" stroke="#8fbef0" stroke-width="0.8"/>
<path d="M414.4,145.7 414.9,147 415.6,148.9 416.4,151 417.3,153.3 418.3,155.3 419.3,156.8 420.2,157.8 421.3,158.5 422.3,159 423.4,159.4 424.5,159.6 425.6,159.7 426.7,159.8 427.8,159.8 428.9,159.8 430,159.5 431,158.9 431.8,157.9 432.6,156.4 433.4,154.2 434,151.7 434.6,149.2 435,147.1 435.4,145.7" stroke="#8fbef0" stroke-width="0.7"/>
<path d="M413.4,216.1 413.9,216.2 414.7,216.3 415.5,216.3 416.5,216.4 417.4,216.3 418.3,216.1 419.1,215.9 419.9,215.5 420.7,215 421.5,214.4 422.3,213.9 423.2,213.2 424,212.6 424.8,211.8 425.7,211 426.5,210.1 427.3,209.3 428,208.6 428.8,207.8 429.5,207 430.2,206.2 430.9,205.5 431.4,204.9 431.8,204.5" stroke="#ec2424" stroke-width="1.1" stroke-opacity="0.8"/>
<path d="M462.2,216.1 461.7,216.2 460.9,216.3 460.1,216.4 459.1,216.4 458.2,216.4 457.3,216.1 456.5,215.8 455.7,215.3 454.9,214.8 454.1,214.1 453.3,213.4 452.4,212.6 451.6,211.8 450.8,210.9 450,209.9 449.2,208.8 448.4,207.8 447.6,206.8 446.6,205.8 445.6,204.7 444.5,203.5 443.5,202.5 442.7,201.6 442,201" stroke="#ec2424" stroke-width="1.1" stroke-opacity="0.8"/>
<path d="M414.4,185.2 415.1,185.9 416,186.8 417.2,187.9 418.4,189.1 419.6,190.4 420.7,191.6 421.8,193 422.9,194.4 424,195.8 425.1,197.3 426.1,198.6 427.1,199.8 428,200.9 429,201.8 429.9,202.7 430.7,203.4 431.3,204 431.8,204.5" stroke="#f4a0a0" stroke-width="0.7"/>
<path d="M431.8,201.1 430.9,201.6 429.6,202.2 428.1,203 426.5,203.8 424.8,204.5 423.2,205.2 421.5,205.8 419.6,206.3 417.7,206.9 416,207.4 414.5,207.8 413.4,208.1" stroke="#1f78e0" stroke-width="1.0"/>
<path d="M431.8,201.1 432.4,201.6 433.1,202.4 434,203.2 435,204.1 435.9,205 436.8,205.8 437.6,206.5 438.4,207.1 439.1,207.8 439.9,208.4 440.9,208.9 442,209.3 443.5,209.5 445.2,209.7 447,209.8 448.8,209.8 450.7,209.9 452.4,209.8 454.2,209.8 456.1,209.7 458,209.6 459.7,209.5 461.1,209.3 462.2,209.3" stroke="#1f78e0" stroke-width="0.9" stroke-opacity="0.85"/>
<path d="M420.7,221.5 421.4,220.6 422.4,219.2 423.6,217.6 424.8,216 426,214.5 427.1,213.3 427.9,212.5 428.6,211.8 429.2,211.2 429.9,210.8 430.8,210.6 431.8,210.4 433.2,210.5 434.8,210.8 436.6,211.3 438.4,211.8 440.3,212.3 442,212.8 443.8,213.2 445.5,213.7 447.3,214.2 449,214.6 450.7,214.9 452.4,215.1 454.2,215.1 456.1,214.9 458,214.7 459.7,214.4 461.1,214.1 462.2,213.9" stroke="#8fbef0" stroke-width="0.8"/>
<path d="M413.4,149.7 414,149.9 414.9,150.3 415.9,150.8 417.1,151.4 418.2,151.9 419.3,152.6 420.3,153.3 421.3,154 422.4,154.9 423.5,155.7 424.5,156.5 425.6,157.2 426.6,157.9 427.5,158.7 428.5,159.3 429.5,160 430.6,160.4 431.8,160.7 433.3,160.8 435,160.8 436.8,160.7 438.7,160.4 440.4,160 442,159.6 443.5,159 444.9,158.2 446.3,157.3 447.6,156.5 448.8,155.6 450,154.9 451.2,154.3 452.3,153.8 453.3,153.3 454.3,152.8 455.3,152.4 456.3,152 457.4,151.5 458.5,151.1 459.7,150.6 460.7,150.2 461.6,149.9 462.2,149.7" stroke="#ec2424" stroke-width="0.8" stroke-opacity="0.55"/>
<path d="M442,159.3 442.7,159 443.7,158.5 444.9,157.9 446.1,157.2 447.4,156.6 448.5,156.1 449.7,155.5 450.8,154.9 451.9,154.3 453.1,153.9 454.2,153.6 455.4,153.5 456.6,153.8 457.9,154.4 459.2,155.2 460.4,156 461.5,156.8 462.2,157.2" stroke="#ec2424" stroke-width="0.9" stroke-opacity="0.7"/>
<path d="M413.4,157.2 413.9,156.8 414.6,156.1 415.4,155.2 416.3,154.5 417.3,153.8 418.3,153.5 419.3,153.5 420.4,153.6 421.6,153.9 422.8,154.4 424,154.9 425.1,155.5 426.3,156.2 427.6,157.2 428.9,158.2 430.1,159.3 431.1,160.1 431.8,160.7" stroke="#ec2424" stroke-width="0.9" stroke-opacity="0.6"/>
<path d="M447.6,145.7 448.1,146.6 448.8,147.9 449.7,149.4 450.6,151 451.6,152.3 452.4,153.3 453.3,153.8 454.1,154.1 454.9,154.1 455.7,154.1 456.5,154 457.3,153.8 458.2,153.7 459.1,153.4 460.1,153 460.9,152.6 461.7,152.3 462.2,152.1" stroke="#f4a0a0" stroke-width="0.8"/>
<path d="M420.2,145.7 431.8,166.2 442,183.6" stroke="#1f78e0" stroke-width="0.9"/>
<path d="M431.8,201.1 442,183.6" stroke="#1f78e0" stroke-width="1.1"/>
<path d="M431.8,166.2 438.8,156.8 445.6,145.7" stroke="#1f78e0" stroke-width="1.3"/>
<path d="M431.8,201.1 438.8,211.6 444.6,221.5" stroke="#1f78e0" stroke-width="1.1"/>
<path d="M431.8,201.1 423.2,212.8 418.3,221.5" stroke="#1f78e0" stroke-width="0.8"/>
<path d="M413.4,185.8 413.9,186.1 414.6,186.4 415.5,186.8 416.4,187.4 417.4,188 418.3,188.7 419.2,189.7 420.2,190.8 421.2,192.1 422.2,193.3 423.2,194.6 424.1,195.7 425,196.8 425.9,197.9 426.8,199 427.6,200 428.3,200.8 429,201.6 429.5,202.1 429.8,202.6 430.1,203 430.4,203.2 431,203.3 431.8,203.3 433.2,203.1 434.8,202.8 436.7,202.3 438.6,201.7 440.5,201.1 442,200.4 443.3,199.7 444.5,198.8 445.5,198 446.5,197 447.5,196.1 448.5,195.2 449.7,194.2 450.8,193.2 451.9,192.1 453.1,191.1 454.2,190.2 455.4,189.3 456.6,188.6 457.9,187.8 459.2,187.2 460.4,186.6 461.5,186.2 462.2,185.8" stroke="#ec2424" stroke-width="1.0"/>
<path d="M431.4,203.6 432,203.4 432.8,203.2 433.8,203 434.8,202.7 435.9,202.4 436.8,202.2 437.8,201.9 438.8,201.5 439.8,201.2 440.7,200.9 441.5,200.6 442,200.4" stroke="#ec2424" stroke-width="1.9"/>
<path d="M423.2,150.2 423.7,151.1 424.5,152.4 425.4,153.8 426.3,155.4 427.2,156.7 428,157.8 428.7,158.6 429.2,159.3 429.6,159.8 430.1,160.3 430.9,160.6 431.8,160.7 433.3,160.7 435.2,160.5 437.2,160.2 439.2,159.9 440.9,159.5 442,159.3" stroke="#ec2424" stroke-width="1.0"/>
<path d="M431.8,160.7 432.4,160.7 433.1,160.6 434,160.5 435,160.4 435.9,160.3 436.8,160.2 437.7,160 438.7,159.9 439.7,159.7 440.7,159.6 441.5,159.4 442,159.3" stroke="#ec2424" stroke-width="1.7" stroke-opacity="0.9"/>
</g>
<rect x="413.4" y="148.6" width="48.8" height="70.0" fill="none" stroke="#505050" stroke-width="1.3"/>
<text x="437.80" y="146.60" font-size="4.6" text-anchor="middle" fill="#333">d<tspan font-size="3" dy="1">w</tspan><tspan dy="-1"> = 2.05 Å</tspan></text>
<text x="413.40" y="223.80" font-size="5.2" text-anchor="middle" fill="#333">Γ</text>
<text x="431.85" y="223.80" font-size="5.2" text-anchor="middle" fill="#333">M</text>
<text x="442.05" y="223.80" font-size="5.2" text-anchor="middle" fill="#333">K</text>
<text x="462.20" y="223.80" font-size="5.2" text-anchor="middle" fill="#333">Γ</text>
<clipPath id="c638"><rect x="470.5" y="148.6" width="48.8" height="70.0"/></clipPath>
<g clip-path="url(#c638)" fill="none" stroke-linejoin="round">
<line x1="488.9" y1="148.6" x2="488.9" y2="218.6" stroke="#a0a0a0" stroke-width="0.6"/>
<line x1="499.1" y1="148.6" x2="499.1" y2="218.6" stroke="#a0a0a0" stroke-width="0.6"/>
<line x1="470.5" y1="183.6" x2="519.3" y2="183.6" stroke="#a0a0a0" stroke-width="0.6"/>
<path d="M470.5,188 470.9,188.6 471.5,189.2 472.2,190 473,191 473.7,192.1 474.4,193.3 475,194.6 475.6,195.9 476.1,197.4 476.7,199.1 477.3,201 477.8,203.2 478.4,206 479.1,209.4 479.7,213 480.4,216.5 480.9,219.4 481.2,221.5" stroke="#f4a0a0" stroke-width="0.75"/>
<path d="M519.3,188 518.9,188.6 518.3,189.2 517.6,190 516.8,191 516.1,192.1 515.4,193.3 514.8,194.6 514.2,195.9 513.7,197.4 513.1,199.1 512.5,201 512,203.2 511.4,206 510.7,209.4 510.1,213 509.4,216.5 508.9,219.4 508.6,221.5" stroke="#f4a0a0" stroke-width="0.75"/>
<path d="M488.9,205.5 489.3,206 489.7,206.7 490.3,207.5 490.9,208.4 491.7,209.3 492.5,210.2 493.4,211.1 494.6,212.1 495.8,213.1 497.1,214.1 498.2,215.1 499.1,216 499.9,217 500.6,218.1 501.1,219.1 501.6,220.1 501.9,220.9 502.2,221.5" stroke="#f4a0a0" stroke-width="0.7"/>
<path d="M482.7,221.5 483.1,220.5 483.6,219.1 484.2,217.5 484.9,215.7 485.5,214 486.1,212.5 486.7,211.2 487.2,209.8 487.7,208.5 488.2,207.3 488.6,206.3 488.9,205.5" stroke="#f4a0a0" stroke-width="0.7"/>
<path d="M470.5,158.3 470.9,158 471.4,157.6 472,157.1 472.7,156.5 473.3,156 473.9,155.4 474.5,154.8 475,154.1 475.5,153.5 476,152.8 476.6,152.1 477.3,151.3 478.2,150.4 479.2,149.3 480.2,148.2 481.2,147.2 482.1,146.3 482.7,145.7" stroke="#f4a0a0" stroke-width="0.75"/>
<path d="M519.3,158.3 518.9,158 518.4,157.6 517.8,157.1 517.1,156.5 516.5,156 515.9,155.4 515.3,154.8 514.8,154.1 514.3,153.5 513.8,152.8 513.2,152.1 512.5,151.3 511.6,150.4 510.6,149.3 509.6,148.2 508.6,147.2 507.7,146.3 507.1,145.7" stroke="#f4a0a0" stroke-width="0.75"/>
<path d="M489,145.7 489.6,146.3 490.3,147 491.2,147.9 492.1,149 493,150.1 493.9,151.3 494.8,152.7 495.8,154.3 496.8,156 497.8,157.6 498.6,159 499.1,160" stroke="#f4a0a0" stroke-width="0.8"/>
<path d="M499.1,160 500,159.1 501.2,157.7 502.7,156.2 504.2,154.5 505.7,152.8 507.1,151.3 508.4,149.8 509.8,148.1 511.1,146.5 512.4,145 513.5,143.8 514.4,143.1 515.1,143 515.7,143.3 516.1,143.9 516.4,144.6 516.7,145.3 516.9,145.7" stroke="#f4a0a0" stroke-width="0.8"/>
<path d="M470.5,155 470.9,154.7 471.4,154.3 472,153.7 472.7,153.2 473.3,152.6 473.9,152.1 474.5,151.6 475.1,151.1 475.7,150.7 476.2,150.2 476.8,149.7 477.3,149.2 477.9,148.6 478.5,147.9 479,147.3 479.5,146.6 479.9,146.1 480.3,145.7" stroke="#f4a0a0" stroke-width="0.7"/>
<path d="M519.3,155 518.9,154.7 518.4,154.3 517.8,153.7 517.1,153.2 516.5,152.6 515.9,152.1 515.3,151.6 514.7,151.1 514.1,150.7 513.6,150.2 513,149.7 512.5,149.2 511.9,148.6 511.3,147.9 510.8,147.3 510.3,146.6 509.9,146.1 509.5,145.7" stroke="#f4a0a0" stroke-width="0.7"/>
<path d="M470.5,215.4 471.1,215.5 472,215.4 473,215.4 474.2,215.5 475.3,215.6 476.4,216 477.5,216.7 478.7,217.7 479.9,218.8 481,219.9 482,220.9 482.7,221.5" stroke="#f4a0a0" stroke-width="0.7"/>
<path d="M519.3,215.4 518.7,215.5 517.8,215.4 516.8,215.4 515.6,215.5 514.5,215.6 513.4,216 512.3,216.7 511.1,217.7 509.9,218.8 508.8,219.9 507.8,220.9 507.1,221.5" stroke="#f4a0a0" stroke-width="0.7"/>
<path d="M473.4,145.7 474,147.5 474.7,150 475.6,153 476.6,156.1 477.5,159 478.3,161.4 479,163.4 479.7,165.1 480.4,166.7 481,168 481.6,169.2 482.2,170.2 482.7,171 483.2,171.5 483.7,171.9 484.1,172.1 484.6,172.1 485.1,171.9 485.8,171.5 486.5,170.7 487.2,169.7 487.9,168.7 488.5,167.8 488.9,167.3" stroke="#8fbef0" stroke-width="0.8"/>
<path d="M473.4,221.5 474,219.7 474.7,217.1 475.6,214.1 476.6,211 477.5,208.1 478.3,205.8 479,204 479.7,202.6 480.4,201.4 481,200.3 481.6,199.5 482.2,198.8 482.7,198.2 483.2,197.8 483.7,197.5 484.1,197.4 484.6,197.5 485.1,197.6 485.8,198 486.5,198.6 487.2,199.3 487.9,200 488.5,200.7 488.9,201.1" stroke="#8fbef0" stroke-width="0.8"/>
<path d="M477.3,145.7 488.9,167.3" stroke="#8fbef0" stroke-width="0.8"/>
<path d="M499.1,183.6 514.9,221.5" stroke="#8fbef0" stroke-width="0.8"/>
<path d="M499.1,183.6 517.3,145.7" stroke="#8fbef0" stroke-width="0.8"/>
<path d="M500.8,151.5 501.2,153.1 501.8,155.3 502.5,157.9 503.2,160.6 504,163 504.7,164.9 505.3,166.4 505.9,167.6 506.6,168.6 507.2,169.3 507.9,169.7 508.6,169.6 509.3,169.1 510,168.1 510.7,166.8 511.5,165.2 512.2,163.4 513,161.4 513.7,159.1 514.6,156.2 515.4,153 516.2,150 516.9,147.5 517.3,145.7" stroke="#8fbef0" stroke-width="0.8"/>
<path d="M500.8,215.7 501.2,214 501.8,211.5 502.5,208.6 503.3,205.8 504,203.5 504.7,202.3 505.3,202.1 505.8,202.8 506.4,204.1 506.9,205.5 507.5,207 508.1,208.1 508.7,208.9 509.3,209.6 510,210.3 510.7,211 511.3,211.8 512,212.8 512.7,214.1 513.4,215.7 514.2,217.4 514.9,219.1 515.5,220.5 515.9,221.5" stroke="#8fbef0" stroke-width="0.8"/>
<path d="M479.3,221.5 479.8,220.6 480.6,219.2 481.4,217.6 482.4,215.9 483.3,214.5 484.2,213.3 485,212.6 485.8,212 486.5,211.6 487.3,211.3 488.1,211.1 488.9,211 489.8,211 490.6,211.2 491.4,211.5 492.2,211.9 493.1,212.3 493.9,212.8 494.8,213.3 495.8,213.9 496.7,214.6 497.7,215.4 498.5,216.1 499.1,216.8 499.6,217.6 500,218.5 500.3,219.4 500.5,220.3 500.6,221 500.8,221.5" stroke="#8fbef0" stroke-width="0.8"/>
<path d="M471.5,145.7 472,147 472.7,148.9 473.5,151 474.4,153.3 475.4,155.3 476.4,156.8 477.3,157.8 478.4,158.5 479.4,159 480.5,159.4 481.6,159.6 482.7,159.7 483.8,159.8 484.9,159.8 486,159.8 487.1,159.5 488.1,158.9 488.9,157.9 489.7,156.4 490.5,154.2 491.1,151.7 491.7,149.2 492.1,147.1 492.5,145.7" stroke="#8fbef0" stroke-width="0.7"/>
<path d="M470.5,218.4 471,218.4 471.8,218.5 472.6,218.5 473.6,218.6 474.5,218.5 475.4,218.4 476.2,218.1 477,217.7 477.8,217.2 478.6,216.7 479.4,216.1 480.3,215.4 481.1,214.8 481.9,214 482.8,213.2 483.6,212.4 484.4,211.5 485.1,210.8 485.9,210 486.6,209.2 487.3,208.4 488,207.7 488.5,207.1 488.9,206.7" stroke="#ec2424" stroke-width="1.1" stroke-opacity="0.8"/>
<path d="M519.3,218.4 518.8,218.4 518,218.5 517.2,218.6 516.2,218.6 515.3,218.6 514.4,218.4 513.6,218 512.8,217.5 512,217 511.2,216.3 510.4,215.6 509.5,214.9 508.7,214 507.9,213.1 507.1,212.1 506.3,211.1 505.5,210 504.7,209 503.7,208 502.7,206.9 501.6,205.8 500.6,204.7 499.8,203.8 499.1,203.2" stroke="#ec2424" stroke-width="1.1" stroke-opacity="0.8"/>
<path d="M471.5,187.4 472.2,188.1 473.1,189 474.3,190.1 475.5,191.4 476.7,192.6 477.8,193.9 478.9,195.2 480,196.6 481.1,198.1 482.2,199.5 483.2,200.9 484.2,202 485.1,203.1 486.1,204 487,204.9 487.8,205.6 488.4,206.2 488.9,206.7" stroke="#f4a0a0" stroke-width="0.7"/>
<path d="M488.9,201.1 488,201.6 486.7,202.2 485.2,203 483.6,203.8 481.9,204.5 480.3,205.2 478.6,205.8 476.7,206.3 474.8,206.9 473.1,207.4 471.6,207.8 470.5,208.1" stroke="#1f78e0" stroke-width="1.0"/>
<path d="M488.9,201.1 489.5,201.6 490.2,202.4 491.1,203.2 492.1,204.1 493,205 493.9,205.8 494.7,206.5 495.5,207.1 496.2,207.8 497,208.4 498,208.9 499.1,209.3 500.6,209.5 502.3,209.7 504.1,209.8 505.9,209.8 507.8,209.9 509.5,209.8 511.3,209.8 513.2,209.7 515.1,209.6 516.8,209.5 518.2,209.3 519.3,209.3" stroke="#1f78e0" stroke-width="0.9" stroke-opacity="0.85"/>
<path d="M477.8,221.5 478.5,220.6 479.5,219.2 480.7,217.6 481.9,216 483.1,214.5 484.2,213.3 485,212.5 485.7,211.8 486.3,211.2 487,210.8 487.9,210.6 488.9,210.4 490.3,210.5 491.9,210.8 493.7,211.3 495.5,211.8 497.4,212.3 499.1,212.8 500.9,213.2 502.6,213.7 504.4,214.2 506.1,214.6 507.8,214.9 509.5,215.1 511.3,215.1 513.2,214.9 515.1,214.7 516.8,214.4 518.2,214.1 519.3,213.9" stroke="#8fbef0" stroke-width="0.8"/>
<path d="M470.5,150.7 471.1,151 472,151.4 473,151.9 474.2,152.4 475.3,153 476.4,153.6 477.4,154.3 478.4,155.1 479.5,155.9 480.6,156.7 481.6,157.6 482.7,158.3 483.7,159 484.6,159.7 485.6,160.4 486.6,161 487.7,161.5 488.9,161.8 490.4,161.9 492.1,161.9 493.9,161.7 495.8,161.4 497.5,161.1 499.1,160.6 500.6,160 502,159.3 503.4,158.4 504.7,157.5 505.9,156.7 507.1,155.9 508.3,155.4 509.4,154.8 510.4,154.3 511.4,153.9 512.4,153.5 513.4,153 514.5,152.6 515.6,152.1 516.8,151.7 517.8,151.3 518.7,150.9 519.3,150.7" stroke="#ec2424" stroke-width="0.8" stroke-opacity="0.55"/>
<path d="M499.1,160.4 499.8,160 500.8,159.5 502,158.9 503.2,158.3 504.5,157.7 505.6,157.1 506.8,156.6 507.9,156 509,155.4 510.2,154.9 511.3,154.6 512.5,154.5 513.7,154.9 515,155.5 516.3,156.3 517.5,157.1 518.6,157.8 519.3,158.3" stroke="#ec2424" stroke-width="0.9" stroke-opacity="0.7"/>
<path d="M470.5,158.3 471,157.8 471.7,157.1 472.5,156.3 473.4,155.5 474.4,154.9 475.4,154.5 476.4,154.5 477.5,154.7 478.7,155 479.9,155.4 481.1,155.9 482.2,156.5 483.4,157.3 484.7,158.2 486,159.3 487.2,160.3 488.2,161.2 488.9,161.8" stroke="#ec2424" stroke-width="0.9" stroke-opacity="0.6"/>
<path d="M504.7,145.7 505.2,146.6 505.9,147.9 506.8,149.4 507.7,151 508.7,152.3 509.5,153.3 510.4,153.8 511.2,154.1 512,154.1 512.8,154.1 513.6,154 514.4,153.8 515.3,153.7 516.2,153.4 517.2,153 518,152.6 518.8,152.3 519.3,152.1" stroke="#f4a0a0" stroke-width="0.8"/>
<path d="M477.3,145.7 488.9,167.3 499.1,183.6" stroke="#1f78e0" stroke-width="0.9"/>
<path d="M488.9,201.1 499.1,183.6" stroke="#1f78e0" stroke-width="1.1"/>
<path d="M488.9,167.3 495.9,156.8 502.7,145.7" stroke="#1f78e0" stroke-width="1.3"/>
<path d="M488.9,201.1 495.9,211.6 501.7,221.5" stroke="#1f78e0" stroke-width="1.1"/>
<path d="M488.9,201.1 480.3,212.8 475.4,221.5" stroke="#1f78e0" stroke-width="0.8"/>
<path d="M470.5,188 471,188.3 471.7,188.6 472.6,189.1 473.5,189.6 474.5,190.2 475.4,190.9 476.3,191.9 477.3,193 478.3,194.3 479.3,195.6 480.3,196.8 481.2,197.9 482.1,199 483,200.1 483.9,201.2 484.7,202.2 485.4,203.1 486.1,203.8 486.6,204.4 486.9,204.8 487.2,205.2 487.5,205.4 488.1,205.6 488.9,205.5 490.3,205.3 491.9,205 493.8,204.5 495.7,203.9 497.6,203.3 499.1,202.6 500.4,201.9 501.6,201.1 502.6,200.2 503.6,199.2 504.6,198.3 505.6,197.4 506.8,196.4 507.9,195.4 509,194.3 510.2,193.3 511.3,192.4 512.5,191.5 513.7,190.8 515,190.1 516.3,189.4 517.5,188.9 518.6,188.4 519.3,188" stroke="#ec2424" stroke-width="1.0"/>
<path d="M488.5,205.8 489.1,205.6 489.9,205.4 490.9,205.2 491.9,204.9 493,204.6 493.9,204.4 494.9,204.1 495.9,203.7 496.9,203.4 497.8,203.1 498.6,202.8 499.1,202.6" stroke="#ec2424" stroke-width="1.9"/>
<path d="M480.3,151.3 480.8,152.2 481.6,153.4 482.5,154.9 483.4,156.4 484.3,157.8 485.1,158.9 485.8,159.7 486.3,160.3 486.7,160.9 487.2,161.3 488,161.6 488.9,161.8 490.4,161.8 492.3,161.6 494.3,161.3 496.3,160.9 498,160.6 499.1,160.4" stroke="#ec2424" stroke-width="1.0"/>
<path d="M488.9,161.8 489.5,161.7 490.2,161.6 491.1,161.5 492.1,161.4 493,161.3 493.9,161.2 494.8,161.1 495.8,160.9 496.8,160.8 497.8,160.6 498.6,160.5 499.1,160.4" stroke="#ec2424" stroke-width="1.7" stroke-opacity="0.9"/>
</g>
<rect x="470.5" y="148.6" width="48.8" height="70.0" fill="none" stroke="#505050" stroke-width="1.3"/>
<text x="494.90" y="146.60" font-size="4.6" text-anchor="middle" fill="#333">d<tspan font-size="3" dy="1">w</tspan><tspan dy="-1"> = 2.35 Å</tspan></text>
<text x="470.50" y="223.80" font-size="5.2" text-anchor="middle" fill="#333">Γ</text>
<text x="488.95" y="223.80" font-size="5.2" text-anchor="middle" fill="#333">M</text>
<text x="499.15" y="223.80" font-size="5.2" text-anchor="middle" fill="#333">K</text>
<text x="519.30" y="223.80" font-size="5.2" text-anchor="middle" fill="#333">Γ</text>
<clipPath id="c690"><rect x="299.2" y="233.2" width="48.8" height="69.1"/></clipPath>
<g clip-path="url(#c690)" fill="none" stroke-linejoin="round">
<line x1="317.6" y1="233.2" x2="317.6" y2="302.29999999999995" stroke="#a0a0a0" stroke-width="0.6"/>
<line x1="327.8" y1="233.2" x2="327.8" y2="302.29999999999995" stroke="#a0a0a0" stroke-width="0.6"/>
<line x1="299.2" y1="267.8" x2="348.0" y2="267.8" stroke="#a0a0a0" stroke-width="0.6"/>
<path d="M299.2,274.1 299.6,274.6 300.2,275.3 300.9,276.1 301.7,277 302.4,278.1 303.1,279.3 303.7,280.6 304.3,282 304.8,283.5 305.4,285.2 306,287 306.5,289.1 307.1,291.6 307.8,294.6 308.4,297.7 309.1,300.8 309.6,303.4 309.9,305.2" stroke="#f4a0a0" stroke-width="0.75"/>
<path d="M348,274.1 347.6,274.6 347,275.3 346.3,276.1 345.5,277 344.8,278.1 344.1,279.3 343.5,280.6 342.9,282 342.4,283.5 341.8,285.2 341.2,287 340.7,289.1 340.1,291.6 339.4,294.6 338.8,297.7 338.1,300.8 337.6,303.4 337.3,305.2" stroke="#f4a0a0" stroke-width="0.75"/>
<path d="M317.6,291.4 318,291.8 318.4,292.5 319,293.3 319.6,294.2 320.4,295.1 321.2,296 322.1,296.9 323.3,297.9 324.5,298.9 325.8,299.9 326.9,300.9 327.8,301.7 328.6,302.5 329.3,303.2 329.8,303.8 330.3,304.4 330.6,304.8 330.9,305.2" stroke="#f4a0a0" stroke-width="0.7"/>
<path d="M311.4,305.2 311.8,304.4 312.3,303.4 312.9,302.2 313.6,300.8 314.2,299.5 314.8,298.3 315.4,297 315.9,295.7 316.4,294.4 316.9,293.2 317.3,292.1 317.6,291.4" stroke="#f4a0a0" stroke-width="0.7"/>
<path d="M299.2,243.3 299.6,243 300.1,242.6 300.7,242.1 301.4,241.6 302,241 302.6,240.5 303.2,239.9 303.7,239.3 304.2,238.6 304.7,238 305.3,237.2 306,236.4 306.9,235.5 307.9,234.3 308.9,233.1 309.9,232 310.8,231 311.4,230.3" stroke="#f4a0a0" stroke-width="0.75"/>
<path d="M348,243.3 347.6,243 347.1,242.6 346.5,242.1 345.8,241.6 345.2,241 344.6,240.5 344,239.9 343.5,239.3 343,238.6 342.5,238 341.9,237.2 341.2,236.4 340.3,235.5 339.3,234.3 338.3,233.1 337.3,232 336.4,231 335.8,230.3" stroke="#f4a0a0" stroke-width="0.75"/>
<path d="M317.7,230.3 318.3,231 319,231.8 319.9,232.8 320.8,234 321.7,235.2 322.6,236.4 323.5,237.8 324.5,239.4 325.5,241.1 326.5,242.7 327.3,244.1 327.8,245.1" stroke="#f4a0a0" stroke-width="0.8"/>
<path d="M327.8,245.1 328.7,244.1 329.9,242.8 331.4,241.2 332.9,239.6 334.4,237.9 335.8,236.4 337.1,234.9 338.5,233.3 339.8,231.7 341.1,230.3 342.2,229.1 343.1,228.4 343.8,228.1 344.4,228.3 344.8,228.8 345.1,229.4 345.4,230 345.6,230.3" stroke="#f4a0a0" stroke-width="0.8"/>
<path d="M299.2,239.5 299.6,239.2 300.1,238.8 300.7,238.3 301.4,237.7 302,237.2 302.6,236.7 303.2,236.2 303.8,235.7 304.4,235.3 304.9,234.8 305.5,234.3 306,233.8 306.6,233.2 307.2,232.5 307.7,231.9 308.2,231.2 308.6,230.7 309,230.3" stroke="#f4a0a0" stroke-width="0.7"/>
<path d="M348,239.5 347.6,239.2 347.1,238.8 346.5,238.3 345.8,237.7 345.2,237.2 344.6,236.7 344,236.2 343.4,235.7 342.8,235.3 342.3,234.8 341.7,234.3 341.2,233.8 340.6,233.2 340,232.5 339.5,231.9 339,231.2 338.6,230.7 338.2,230.3" stroke="#f4a0a0" stroke-width="0.7"/>
<path d="M299.2,301.1 299.8,301.2 300.7,301.2 301.7,301.2 302.9,301.3 304,301.5 305.1,301.7 306.2,302.2 307.4,302.8 308.6,303.5 309.7,304.2 310.7,304.8 311.4,305.2" stroke="#f4a0a0" stroke-width="0.7"/>
<path d="M348,301.1 347.4,301.2 346.5,301.2 345.5,301.2 344.3,301.3 343.2,301.5 342.1,301.7 341,302.2 339.8,302.8 338.6,303.5 337.5,304.2 336.5,304.8 335.8,305.2" stroke="#f4a0a0" stroke-width="0.7"/>
<path d="M302.1,230.3 302.7,232.1 303.4,234.6 304.3,237.6 305.3,240.6 306.2,243.5 307,245.9 307.7,247.8 308.4,249.5 309.1,251.1 309.7,252.4 310.3,253.5 310.9,254.5 311.4,255.3 311.9,255.9 312.4,256.3 312.8,256.5 313.3,256.5 313.8,256.2 314.5,255.6 315.2,254.6 315.9,253.3 316.6,252 317.2,250.9 317.6,250.1" stroke="#8fbef0" stroke-width="0.8"/>
<path d="M302.1,305.2 302.7,303.4 303.4,300.8 304.3,297.8 305.3,294.8 306.2,291.9 307,289.6 307.7,287.9 308.4,286.5 309.1,285.3 309.7,284.3 310.3,283.4 310.9,282.7 311.4,282.1 311.9,281.7 312.4,281.5 312.8,281.4 313.3,281.4 313.8,281.6 314.5,281.9 315.2,282.5 315.9,283.2 316.6,284 317.2,284.6 317.6,285" stroke="#8fbef0" stroke-width="0.8"/>
<path d="M306,230.3 317.6,250.1" stroke="#8fbef0" stroke-width="0.8"/>
<path d="M327.8,267.8 343.6,305.2" stroke="#8fbef0" stroke-width="0.8"/>
<path d="M327.8,267.8 346,230.3" stroke="#8fbef0" stroke-width="0.8"/>
<path d="M329.5,236.1 329.9,237.6 330.5,239.8 331.2,242.4 331.9,245.1 332.7,247.5 333.4,249.3 334,250.7 334.6,252 335.3,253 335.9,253.7 336.6,254 337.3,253.9 338,253.4 338.7,252.5 339.4,251.2 340.2,249.6 340.9,247.8 341.7,245.9 342.4,243.5 343.3,240.7 344.1,237.6 344.9,234.6 345.6,232.1 346,230.3" stroke="#8fbef0" stroke-width="0.8"/>
<path d="M329.5,299.4 329.9,297.8 330.5,295.3 331.2,292.4 332,289.7 332.7,287.4 333.4,286.2 334,286.1 334.5,286.7 335.1,287.9 335.6,289.4 336.2,290.8 336.8,291.9 337.4,292.7 338,293.4 338.7,294.1 339.4,294.8 340,295.6 340.7,296.5 341.4,297.8 342.1,299.4 342.9,301.1 343.6,302.8 344.2,304.2 344.6,305.2" stroke="#8fbef0" stroke-width="0.8"/>
<path d="M308,305.2 308.5,304.2 309.3,302.9 310.1,301.3 311.1,299.7 312,298.2 312.9,297.1 313.7,296.4 314.5,295.8 315.2,295.4 316,295.1 316.8,294.9 317.6,294.8 318.5,294.8 319.3,295 320.1,295.3 320.9,295.6 321.8,296.1 322.6,296.5 323.5,297.1 324.5,297.7 325.4,298.4 326.4,299.1 327.2,299.8 327.8,300.6 328.3,301.4 328.7,302.2 329,303.1 329.2,304 329.3,304.7 329.5,305.2" stroke="#8fbef0" stroke-width="0.8"/>
<path d="M300.2,230.3 300.7,231.6 301.4,233.5 302.2,235.6 303.1,237.8 304.1,239.8 305.1,241.3 306,242.3 307.1,243 308.1,243.5 309.2,243.8 310.3,244 311.4,244.1 312.5,244.2 313.6,244.3 314.7,244.2 315.8,243.9 316.8,243.4 317.6,242.4 318.4,240.9 319.2,238.7 319.8,236.3 320.4,233.8 320.8,231.8 321.2,230.3" stroke="#8fbef0" stroke-width="0.7"/>
<path d="M299.2,304 299.7,304.1 300.5,304.1 301.3,304.2 302.3,304.2 303.2,304.2 304.1,304 304.9,303.7 305.7,303.3 306.5,302.9 307.3,302.3 308.1,301.8 309,301.1 309.8,300.5 310.6,299.7 311.5,298.9 312.3,298.1 313.1,297.3 313.8,296.5 314.6,295.8 315.3,295 316,294.2 316.7,293.5 317.2,292.9 317.6,292.5" stroke="#ec2424" stroke-width="1.1" stroke-opacity="0.8"/>
<path d="M348,304 347.5,304.1 346.7,304.2 345.9,304.2 344.9,304.3 344,304.2 343.1,304 342.3,303.7 341.5,303.2 340.7,302.7 339.9,302 339.1,301.3 338.2,300.6 337.4,299.7 336.6,298.8 335.8,297.8 335,296.8 334.2,295.8 333.4,294.8 332.4,293.8 331.4,292.7 330.3,291.6 329.3,290.5 328.5,289.7 327.8,289.1" stroke="#ec2424" stroke-width="1.1" stroke-opacity="0.8"/>
<path d="M300.2,273.5 300.9,274.2 301.8,275.1 303,276.2 304.2,277.4 305.4,278.6 306.5,279.8 307.6,281.1 308.7,282.5 309.8,284 310.9,285.4 311.9,286.7 312.9,287.9 313.8,288.9 314.8,289.9 315.7,290.7 316.5,291.4 317.1,292 317.6,292.5" stroke="#f4a0a0" stroke-width="0.7"/>
<path d="M317.6,285 316.7,285.5 315.4,286.1 313.9,286.9 312.3,287.6 310.6,288.4 309,289.1 307.3,289.6 305.4,290.2 303.5,290.7 301.8,291.2 300.3,291.6 299.2,291.9" stroke="#1f78e0" stroke-width="1.0"/>
<path d="M317.6,285 318.2,285.5 318.9,286.3 319.8,287.1 320.8,288 321.7,288.9 322.6,289.6 323.4,290.3 324.2,291 324.9,291.6 325.7,292.2 326.7,292.7 327.8,293.1 329.3,293.4 331,293.5 332.8,293.6 334.6,293.7 336.5,293.7 338.2,293.7 340,293.6 341.9,293.5 343.8,293.4 345.5,293.3 346.9,293.2 348,293.1" stroke="#1f78e0" stroke-width="0.9" stroke-opacity="0.85"/>
<path d="M306.5,305.2 307.2,304.2 308.2,302.9 309.4,301.3 310.6,299.7 311.8,298.3 312.9,297.1 313.7,296.3 314.4,295.6 315,295 315.7,294.6 316.6,294.4 317.6,294.2 319,294.3 320.6,294.6 322.4,295.1 324.2,295.6 326.1,296.1 327.8,296.5 329.6,297 331.3,297.4 333.1,297.9 334.8,298.3 336.5,298.7 338.2,298.8 340,298.8 341.9,298.7 343.8,298.4 345.5,298.1 346.9,297.9 348,297.7" stroke="#8fbef0" stroke-width="0.8"/>
<path d="M299.2,235.8 299.8,236.1 300.7,236.5 301.7,237 302.9,237.5 304,238.1 305.1,238.7 306.1,239.4 307.1,240.2 308.2,241 309.3,241.8 310.3,242.6 311.4,243.3 312.4,244 313.3,244.7 314.3,245.4 315.3,246 316.4,246.5 317.6,246.8 319.1,246.9 320.8,246.9 322.6,246.7 324.5,246.4 326.2,246.1 327.8,245.6 329.3,245.1 330.7,244.3 332.1,243.4 333.4,242.6 334.6,241.7 335.8,241 337,240.4 338.1,239.9 339.1,239.4 340.1,239 341.1,238.6 342.1,238.2 343.2,237.7 344.3,237.3 345.5,236.8 346.5,236.4 347.4,236.1 348,235.8" stroke="#ec2424" stroke-width="0.8" stroke-opacity="0.55"/>
<path d="M327.8,245.4 328.5,245 329.5,244.5 330.7,244 331.9,243.3 333.2,242.7 334.3,242.2 335.5,241.6 336.6,241.1 337.7,240.5 338.9,240 340,239.7 341.2,239.6 342.4,239.9 343.7,240.6 345,241.3 346.2,242.1 347.3,242.9 348,243.3" stroke="#ec2424" stroke-width="0.9" stroke-opacity="0.7"/>
<path d="M299.2,243.3 299.7,242.9 300.4,242.2 301.2,241.4 302.1,240.6 303.1,240 304.1,239.6 305.1,239.6 306.2,239.8 307.4,240.1 308.6,240.5 309.8,241 310.9,241.6 312.1,242.3 313.4,243.3 314.7,244.3 315.9,245.3 316.9,246.2 317.6,246.8" stroke="#ec2424" stroke-width="0.9" stroke-opacity="0.6"/>
<path d="M333.4,230.3 333.9,231.2 334.6,232.5 335.5,234 336.4,235.5 337.4,236.9 338.2,237.8 339.1,238.3 339.9,238.6 340.7,238.7 341.5,238.6 342.3,238.5 343.1,238.4 344,238.2 344.9,237.9 345.9,237.6 346.7,237.2 347.5,236.9 348,236.7" stroke="#f4a0a0" stroke-width="0.8"/>
<path d="M306,230.3 317.6,250.1 327.8,267.8" stroke="#1f78e0" stroke-width="0.9"/>
<path d="M317.6,285 327.8,267.8" stroke="#1f78e0" stroke-width="1.1"/>
<path d="M317.6,250.1 324.6,241.3 331.4,230.3" stroke="#1f78e0" stroke-width="1.3"/>
<path d="M317.6,285 324.6,295.4 330.4,305.2" stroke="#1f78e0" stroke-width="1.1"/>
<path d="M317.6,285 309,296.5 304.1,305.2" stroke="#1f78e0" stroke-width="0.8"/>
<path d="M299.2,274.1 299.7,274.4 300.4,274.7 301.3,275.1 302.2,275.6 303.2,276.2 304.1,277 305,277.9 306,279 307,280.2 308,281.5 309,282.7 309.9,283.9 310.8,284.9 311.7,286 312.6,287.1 313.4,288.1 314.1,288.9 314.8,289.6 315.3,290.2 315.6,290.7 315.9,291 316.2,291.3 316.8,291.4 317.6,291.4 319,291.2 320.6,290.8 322.5,290.4 324.4,289.8 326.3,289.1 327.8,288.5 329.1,287.8 330.3,286.9 331.3,286.1 332.3,285.2 333.3,284.2 334.3,283.3 335.5,282.3 336.6,281.3 337.7,280.3 338.9,279.3 340,278.4 341.2,277.5 342.4,276.8 343.7,276.1 345,275.5 346.2,274.9 347.3,274.4 348,274.1" stroke="#ec2424" stroke-width="1.0"/>
<path d="M317.2,291.6 317.8,291.4 318.6,291.2 319.6,291 320.6,290.7 321.7,290.5 322.6,290.2 323.6,289.9 324.6,289.6 325.6,289.3 326.5,288.9 327.3,288.7 327.8,288.5" stroke="#ec2424" stroke-width="1.9"/>
<path d="M309,236.4 309.5,237.3 310.3,238.5 311.2,240 312.1,241.5 313,242.8 313.8,243.9 314.5,244.7 315,245.4 315.4,245.9 315.9,246.3 316.7,246.6 317.6,246.8 319.1,246.8 321,246.6 323,246.3 325,245.9 326.7,245.6 327.8,245.4" stroke="#ec2424" stroke-width="1.0"/>
<path d="M317.6,246.8 318.2,246.7 318.9,246.6 319.8,246.6 320.8,246.4 321.7,246.3 322.6,246.2 323.5,246.1 324.5,245.9 325.5,245.8 326.5,245.6 327.3,245.5 327.8,245.4" stroke="#ec2424" stroke-width="1.7" stroke-opacity="0.9"/>
</g>
<rect x="299.2" y="233.2" width="48.8" height="69.1" fill="none" stroke="#505050" stroke-width="1.3"/>
<text x="323.60" y="231.20" font-size="4.6" text-anchor="middle" fill="#333">d<tspan font-size="3" dy="1">w</tspan><tspan dy="-1"> = 2.95 Å</tspan></text>
<text x="299.20" y="307.50" font-size="5.2" text-anchor="middle" fill="#333">Γ</text>
<text x="317.65" y="307.50" font-size="5.2" text-anchor="middle" fill="#333">M</text>
<text x="327.85" y="307.50" font-size="5.2" text-anchor="middle" fill="#333">K</text>
<text x="348.00" y="307.50" font-size="5.2" text-anchor="middle" fill="#333">Γ</text>
<text x="297.00" y="234.90" font-size="5" text-anchor="end" fill="#333">3</text>
<text x="297.00" y="246.42" font-size="5" text-anchor="end" fill="#333">2</text>
<text x="297.00" y="257.93" font-size="5" text-anchor="end" fill="#333">1</text>
<text x="297.00" y="269.45" font-size="5" text-anchor="end" fill="#333">0</text>
<text x="297.00" y="280.97" font-size="5" text-anchor="end" fill="#333">-1</text>
<text x="297.00" y="292.48" font-size="5" text-anchor="end" fill="#333">-2</text>
<text x="297.00" y="304.00" font-size="5" text-anchor="end" fill="#333">-3</text>
<text x="0" y="0" font-size="5.2" text-anchor="middle" fill="#333" transform="translate(289.70,267.75) rotate(-90)">Energy (eV)</text>
<clipPath id="c750"><rect x="356.3" y="233.2" width="48.8" height="69.1"/></clipPath>
<g clip-path="url(#c750)" fill="none" stroke-linejoin="round">
<line x1="374.7" y1="233.2" x2="374.7" y2="302.29999999999995" stroke="#a0a0a0" stroke-width="0.6"/>
<line x1="384.9" y1="233.2" x2="384.9" y2="302.29999999999995" stroke="#a0a0a0" stroke-width="0.6"/>
<line x1="356.3" y1="267.8" x2="405.1" y2="267.8" stroke="#a0a0a0" stroke-width="0.6"/>
<path d="M356.3,274.7 356.7,275.2 357.3,275.8 358,276.6 358.8,277.6 359.5,278.7 360.2,279.8 360.8,281.1 361.4,282.6 361.9,284.1 362.5,285.8 363.1,287.6 363.6,289.6 364.2,292.1 364.9,295 365.5,298 366.2,300.9 366.7,303.4 367,305.2" stroke="#f4a0a0" stroke-width="0.75"/>
<path d="M405.1,274.7 404.7,275.2 404.1,275.8 403.4,276.6 402.6,277.6 401.9,278.7 401.2,279.8 400.6,281.1 400,282.6 399.5,284.1 398.9,285.8 398.3,287.6 397.8,289.6 397.2,292.1 396.5,295 395.9,298 395.2,300.9 394.7,303.4 394.4,305.2" stroke="#f4a0a0" stroke-width="0.75"/>
<path d="M374.7,291.9 375.1,292.4 375.5,293.1 376.1,293.9 376.7,294.8 377.5,295.7 378.3,296.5 379.2,297.5 380.4,298.5 381.6,299.5 382.9,300.6 384,301.5 384.9,302.3 385.7,303 386.4,303.6 386.9,304.1 387.4,304.5 387.7,304.9 388,305.2" stroke="#f4a0a0" stroke-width="0.7"/>
<path d="M368.5,305.2 368.9,304.5 369.4,303.6 370,302.4 370.7,301.2 371.3,300 371.9,298.8 372.5,297.6 373,296.3 373.5,295 374,293.7 374.4,292.7 374.7,291.9" stroke="#f4a0a0" stroke-width="0.7"/>
<path d="M356.3,243.6 356.7,243.3 357.2,242.9 357.8,242.4 358.5,241.8 359.1,241.3 359.7,240.7 360.3,240.1 360.8,239.5 361.3,238.9 361.8,238.2 362.4,237.5 363.1,236.7 364,235.7 365,234.5 366,233.2 367,232 367.9,231 368.5,230.3" stroke="#f4a0a0" stroke-width="0.75"/>
<path d="M405.1,243.6 404.7,243.3 404.2,242.9 403.6,242.4 402.9,241.8 402.3,241.3 401.7,240.7 401.1,240.1 400.6,239.5 400.1,238.9 399.6,238.2 399,237.5 398.3,236.7 397.4,235.7 396.4,234.5 395.4,233.2 394.4,232 393.5,231 392.9,230.3" stroke="#f4a0a0" stroke-width="0.75"/>
<path d="M374.8,230.3 375.4,231 376.1,231.9 377,232.9 377.9,234.1 378.8,235.4 379.7,236.7 380.6,238.1 381.6,239.7 382.6,241.4 383.6,243 384.4,244.3 384.9,245.3" stroke="#f4a0a0" stroke-width="0.8"/>
<path d="M384.9,245.3 385.8,244.3 387,243 388.5,241.5 390,239.8 391.5,238.2 392.9,236.7 394.2,235.2 395.6,233.6 396.9,232 398.2,230.5 399.3,229.4 400.2,228.6 400.9,228.3 401.5,228.5 401.9,229 402.2,229.5 402.5,230 402.7,230.3" stroke="#f4a0a0" stroke-width="0.8"/>
<path d="M356.3,239.5 356.7,239.2 357.2,238.8 357.8,238.3 358.5,237.7 359.1,237.2 359.7,236.7 360.3,236.2 360.9,235.7 361.5,235.3 362,234.8 362.6,234.3 363.1,233.8 363.7,233.2 364.3,232.5 364.8,231.9 365.3,231.2 365.7,230.7 366.1,230.3" stroke="#f4a0a0" stroke-width="0.7"/>
<path d="M405.1,239.5 404.7,239.2 404.2,238.8 403.6,238.3 402.9,237.7 402.3,237.2 401.7,236.7 401.1,236.2 400.5,235.7 399.9,235.3 399.4,234.8 398.8,234.3 398.3,233.8 397.7,233.2 397.1,232.5 396.6,231.9 396.1,231.2 395.7,230.7 395.3,230.3" stroke="#f4a0a0" stroke-width="0.7"/>
<path d="M356.3,301.7 356.9,301.8 357.8,301.8 358.8,301.8 360,301.9 361.1,302.1 362.2,302.3 363.3,302.7 364.5,303.2 365.7,303.8 366.8,304.3 367.8,304.8 368.5,305.2" stroke="#f4a0a0" stroke-width="0.7"/>
<path d="M405.1,301.7 404.5,301.8 403.6,301.8 402.6,301.8 401.4,301.9 400.3,302.1 399.2,302.3 398.1,302.7 396.9,303.2 395.7,303.8 394.6,304.3 393.6,304.8 392.9,305.2" stroke="#f4a0a0" stroke-width="0.7"/>
<path d="M359.2,230.3 359.8,232.1 360.5,234.6 361.4,237.6 362.4,240.6 363.3,243.5 364.1,245.9 364.8,247.8 365.5,249.5 366.2,251.1 366.8,252.4 367.4,253.5 368,254.5 368.5,255.3 369,255.9 369.5,256.3 369.9,256.5 370.4,256.5 370.9,256.2 371.6,255.6 372.3,254.6 373,253.3 373.7,252 374.3,250.9 374.7,250.1" stroke="#8fbef0" stroke-width="0.8"/>
<path d="M359.2,305.2 359.8,303.4 360.5,300.8 361.4,297.8 362.4,294.8 363.3,291.9 364.1,289.6 364.8,287.9 365.5,286.5 366.2,285.3 366.8,284.3 367.4,283.4 368,282.7 368.5,282.1 369,281.7 369.5,281.5 369.9,281.4 370.4,281.4 370.9,281.6 371.6,281.9 372.3,282.5 373,283.2 373.7,284 374.3,284.6 374.7,285" stroke="#8fbef0" stroke-width="0.8"/>
<path d="M363.1,230.3 374.7,250.1" stroke="#8fbef0" stroke-width="0.8"/>
<path d="M384.9,267.8 400.7,305.2" stroke="#8fbef0" stroke-width="0.8"/>
<path d="M384.9,267.8 403.1,230.3" stroke="#8fbef0" stroke-width="0.8"/>
<path d="M386.6,236.1 387,237.6 387.6,239.8 388.3,242.4 389,245.1 389.8,247.5 390.5,249.3 391.1,250.7 391.7,252 392.4,253 393,253.7 393.7,254 394.4,253.9 395.1,253.4 395.8,252.5 396.5,251.2 397.3,249.6 398,247.8 398.8,245.9 399.5,243.5 400.4,240.7 401.2,237.6 402,234.6 402.7,232.1 403.1,230.3" stroke="#8fbef0" stroke-width="0.8"/>
<path d="M386.6,299.4 387,297.8 387.6,295.3 388.3,292.4 389.1,289.7 389.8,287.4 390.5,286.2 391.1,286.1 391.6,286.7 392.2,287.9 392.7,289.4 393.3,290.8 393.9,291.9 394.5,292.7 395.1,293.4 395.8,294.1 396.5,294.8 397.1,295.6 397.8,296.5 398.5,297.8 399.2,299.4 400,301.1 400.7,302.8 401.3,304.2 401.7,305.2" stroke="#8fbef0" stroke-width="0.8"/>
<path d="M365.1,305.2 365.6,304.2 366.4,302.9 367.2,301.3 368.2,299.7 369.1,298.2 370,297.1 370.8,296.4 371.6,295.8 372.3,295.4 373.1,295.1 373.9,294.9 374.7,294.8 375.6,294.8 376.4,295 377.2,295.3 378,295.6 378.9,296.1 379.7,296.5 380.6,297.1 381.6,297.7 382.5,298.4 383.5,299.1 384.3,299.8 384.9,300.6 385.4,301.4 385.8,302.2 386.1,303.1 386.3,304 386.4,304.7 386.6,305.2" stroke="#8fbef0" stroke-width="0.8"/>
<path d="M357.3,230.3 357.8,231.6 358.5,233.5 359.3,235.6 360.2,237.8 361.2,239.8 362.2,241.3 363.1,242.3 364.2,243 365.2,243.5 366.3,243.8 367.4,244 368.5,244.1 369.6,244.2 370.7,244.3 371.8,244.2 372.9,243.9 373.9,243.4 374.7,242.4 375.5,240.9 376.3,238.7 376.9,236.3 377.5,233.8 377.9,231.8 378.3,230.3" stroke="#8fbef0" stroke-width="0.7"/>
<path d="M356.3,304.6 356.8,304.6 357.6,304.7 358.4,304.8 359.4,304.8 360.3,304.8 361.2,304.6 362,304.3 362.8,303.9 363.6,303.5 364.4,302.9 365.2,302.3 366.1,301.7 366.9,301 367.7,300.3 368.6,299.5 369.4,298.7 370.2,297.9 370.9,297.1 371.7,296.4 372.4,295.6 373.1,294.8 373.8,294.1 374.3,293.5 374.7,293.1" stroke="#ec2424" stroke-width="1.1" stroke-opacity="0.8"/>
<path d="M405.1,304.6 404.6,304.6 403.8,304.7 403,304.8 402,304.9 401.1,304.8 400.2,304.6 399.4,304.3 398.6,303.8 397.8,303.2 397,302.6 396.2,301.9 395.3,301.1 394.5,300.3 393.7,299.4 392.9,298.4 392.1,297.4 391.3,296.4 390.5,295.4 389.5,294.4 388.5,293.3 387.4,292.2 386.4,291.1 385.6,290.3 384.9,289.6" stroke="#ec2424" stroke-width="1.1" stroke-opacity="0.8"/>
<path d="M357.3,274.1 358,274.8 358.9,275.7 360.1,276.7 361.3,277.9 362.5,279.2 363.6,280.4 364.7,281.7 365.8,283.1 366.9,284.6 368,286 369,287.3 370,288.5 370.9,289.5 371.9,290.4 372.8,291.3 373.6,292 374.2,292.6 374.7,293.1" stroke="#f4a0a0" stroke-width="0.7"/>
<path d="M374.7,285 373.8,285.5 372.5,286.1 371,286.9 369.4,287.6 367.7,288.4 366.1,289.1 364.4,289.6 362.5,290.2 360.6,290.7 358.9,291.2 357.4,291.6 356.3,291.9" stroke="#1f78e0" stroke-width="1.0"/>
<path d="M374.7,285 375.3,285.5 376,286.3 376.9,287.1 377.9,288 378.8,288.9 379.7,289.6 380.5,290.3 381.3,291 382,291.6 382.8,292.2 383.8,292.7 384.9,293.1 386.4,293.4 388.1,293.5 389.9,293.6 391.7,293.7 393.6,293.7 395.3,293.7 397.1,293.6 399,293.5 400.9,293.4 402.6,293.3 404,293.2 405.1,293.1" stroke="#1f78e0" stroke-width="0.9" stroke-opacity="0.85"/>
<path d="M363.6,305.2 364.3,304.2 365.3,302.9 366.5,301.3 367.7,299.7 368.9,298.3 370,297.1 370.8,296.3 371.5,295.6 372.1,295 372.8,294.6 373.7,294.4 374.7,294.2 376.1,294.3 377.7,294.6 379.5,295.1 381.3,295.6 383.2,296.1 384.9,296.5 386.7,297 388.4,297.4 390.2,297.9 391.9,298.3 393.6,298.7 395.3,298.8 397.1,298.8 399,298.7 400.9,298.4 402.6,298.1 404,297.9 405.1,297.7" stroke="#8fbef0" stroke-width="0.8"/>
<path d="M356.3,236.1 356.9,236.4 357.8,236.8 358.8,237.2 360,237.8 361.1,238.3 362.2,239 363.2,239.6 364.2,240.4 365.3,241.2 366.4,242.1 367.4,242.8 368.5,243.6 369.5,244.3 370.4,245 371.4,245.7 372.4,246.3 373.5,246.7 374.7,247 376.2,247.1 377.9,247.1 379.7,246.9 381.6,246.7 383.3,246.3 384.9,245.9 386.4,245.3 387.8,244.5 389.2,243.7 390.5,242.8 391.7,242 392.9,241.3 394.1,240.7 395.2,240.2 396.2,239.7 397.2,239.2 398.2,238.8 399.2,238.4 400.3,237.9 401.4,237.5 402.6,237.1 403.6,236.7 404.5,236.3 405.1,236.1" stroke="#ec2424" stroke-width="0.8" stroke-opacity="0.55"/>
<path d="M384.9,245.6 385.6,245.3 386.6,244.8 387.8,244.2 389,243.6 390.3,242.9 391.4,242.4 392.6,241.9 393.7,241.3 394.8,240.7 396,240.2 397.1,239.9 398.3,239.9 399.5,240.2 400.8,240.8 402.1,241.6 403.3,242.4 404.4,243.1 405.1,243.6" stroke="#ec2424" stroke-width="0.9" stroke-opacity="0.7"/>
<path d="M356.3,243.6 356.8,243.1 357.5,242.4 358.3,241.6 359.2,240.8 360.2,240.2 361.2,239.9 362.2,239.8 363.3,240 364.5,240.3 365.7,240.7 366.9,241.3 368,241.8 369.2,242.6 370.5,243.5 371.8,244.6 373,245.6 374,246.4 374.7,247" stroke="#ec2424" stroke-width="0.9" stroke-opacity="0.6"/>
<path d="M390.5,230.3 391,231.2 391.7,232.5 392.6,234 393.5,235.5 394.5,236.9 395.3,237.8 396.2,238.3 397,238.6 397.8,238.7 398.6,238.6 399.4,238.5 400.2,238.4 401.1,238.2 402,237.9 403,237.6 403.8,237.2 404.6,236.9 405.1,236.7" stroke="#f4a0a0" stroke-width="0.8"/>
<path d="M363.1,230.3 374.7,250.1 384.9,267.8" stroke="#1f78e0" stroke-width="0.9"/>
<path d="M374.7,285 384.9,267.8" stroke="#1f78e0" stroke-width="1.1"/>
<path d="M374.7,250.1 381.7,241.3 388.5,230.3" stroke="#1f78e0" stroke-width="1.3"/>
<path d="M374.7,285 381.7,295.4 387.5,305.2" stroke="#1f78e0" stroke-width="1.1"/>
<path d="M374.7,285 366.1,296.5 361.2,305.2" stroke="#1f78e0" stroke-width="0.8"/>
<path d="M356.3,274.7 356.8,274.9 357.5,275.3 358.4,275.7 359.3,276.2 360.3,276.8 361.2,277.5 362.1,278.5 363.1,279.6 364.1,280.8 365.1,282.1 366.1,283.3 367,284.4 367.9,285.5 368.8,286.6 369.7,287.7 370.5,288.6 371.2,289.5 371.9,290.2 372.4,290.8 372.7,291.3 373,291.6 373.3,291.8 373.9,292 374.7,291.9 376.1,291.7 377.7,291.4 379.6,290.9 381.5,290.4 383.4,289.7 384.9,289.1 386.2,288.3 387.4,287.5 388.4,286.6 389.4,285.7 390.4,284.8 391.4,283.9 392.6,282.9 393.7,281.9 394.8,280.9 396,279.9 397.1,278.9 398.3,278.1 399.5,277.4 400.8,276.7 402.1,276 403.3,275.5 404.4,275 405.1,274.7" stroke="#ec2424" stroke-width="1.0"/>
<path d="M374.3,292.2 374.9,292 375.7,291.8 376.7,291.6 377.7,291.3 378.8,291 379.7,290.8 380.7,290.5 381.7,290.2 382.7,289.8 383.6,289.5 384.4,289.2 384.9,289.1" stroke="#ec2424" stroke-width="1.9"/>
<path d="M366.1,236.7 366.6,237.5 367.4,238.8 368.3,240.2 369.2,241.7 370.1,243.1 370.9,244.1 371.6,244.9 372.1,245.6 372.5,246.1 373,246.5 373.8,246.8 374.7,247 376.2,247 378.1,246.8 380.1,246.5 382.1,246.2 383.8,245.8 384.9,245.6" stroke="#ec2424" stroke-width="1.0"/>
<path d="M374.7,247 375.3,247 376,246.9 376.9,246.8 377.9,246.7 378.8,246.6 379.7,246.4 380.6,246.3 381.6,246.2 382.6,246 383.6,245.9 384.4,245.7 384.9,245.6" stroke="#ec2424" stroke-width="1.7" stroke-opacity="0.9"/>
</g>
<rect x="356.3" y="233.2" width="48.8" height="69.1" fill="none" stroke="#505050" stroke-width="1.3"/>
<text x="380.70" y="231.20" font-size="4.6" text-anchor="middle" fill="#333">d<tspan font-size="3" dy="1">w</tspan><tspan dy="-1"> = 3.25 Å</tspan></text>
<text x="356.30" y="307.50" font-size="5.2" text-anchor="middle" fill="#333">Γ</text>
<text x="374.75" y="307.50" font-size="5.2" text-anchor="middle" fill="#333">M</text>
<text x="384.95" y="307.50" font-size="5.2" text-anchor="middle" fill="#333">K</text>
<text x="405.10" y="307.50" font-size="5.2" text-anchor="middle" fill="#333">Γ</text>
<clipPath id="c802"><rect x="413.4" y="233.2" width="48.8" height="69.1"/></clipPath>
<g clip-path="url(#c802)" fill="none" stroke-linejoin="round">
<line x1="431.8" y1="233.2" x2="431.8" y2="302.29999999999995" stroke="#a0a0a0" stroke-width="0.6"/>
<line x1="442.0" y1="233.2" x2="442.0" y2="302.29999999999995" stroke="#a0a0a0" stroke-width="0.6"/>
<line x1="413.4" y1="267.8" x2="462.2" y2="267.8" stroke="#a0a0a0" stroke-width="0.6"/>
<path d="M413.4,274.1 413.8,274.6 414.4,275.3 415.1,276.1 415.9,277 416.6,278.1 417.3,279.3 417.9,280.6 418.5,282 419,283.5 419.6,285.2 420.2,287 420.7,289.1 421.3,291.6 422,294.6 422.6,297.7 423.3,300.8 423.8,303.4 424.1,305.2" stroke="#f4a0a0" stroke-width="0.75"/>
<path d="M462.2,274.1 461.8,274.6 461.2,275.3 460.5,276.1 459.7,277 459,278.1 458.3,279.3 457.7,280.6 457.1,282 456.6,283.5 456,285.2 455.4,287 454.9,289.1 454.3,291.6 453.6,294.6 453,297.7 452.3,300.8 451.8,303.4 451.5,305.2" stroke="#f4a0a0" stroke-width="0.75"/>
<path d="M431.8,291.4 432.2,291.8 432.6,292.5 433.2,293.3 433.8,294.2 434.6,295.1 435.4,296 436.3,296.9 437.5,297.9 438.7,298.9 440,299.9 441.1,300.9 442,301.7 442.8,302.5 443.5,303.2 444,303.8 444.5,304.4 444.8,304.8 445.1,305.2" stroke="#f4a0a0" stroke-width="0.7"/>
<path d="M425.6,305.2 426,304.4 426.5,303.4 427.1,302.2 427.8,300.8 428.4,299.5 429,298.3 429.6,297 430.1,295.7 430.6,294.4 431.1,293.2 431.5,292.1 431.8,291.4" stroke="#f4a0a0" stroke-width="0.7"/>
<path d="M413.4,244.1 413.8,243.8 414.3,243.4 414.9,243 415.6,242.4 416.2,241.8 416.8,241.3 417.4,240.7 417.9,240.1 418.4,239.5 418.9,238.8 419.5,238.1 420.2,237.2 421.1,236.2 422.1,234.9 423.1,233.5 424.1,232.2 425,231.1 425.6,230.3" stroke="#f4a0a0" stroke-width="0.75"/>
<path d="M462.2,244.1 461.8,243.8 461.3,243.4 460.7,243 460,242.4 459.4,241.8 458.8,241.3 458.2,240.7 457.7,240.1 457.2,239.5 456.7,238.8 456.1,238.1 455.4,237.2 454.5,236.2 453.5,234.9 452.5,233.5 451.5,232.2 450.6,231.1 450,230.3" stroke="#f4a0a0" stroke-width="0.75"/>
<path d="M431.9,230.3 432.5,231.1 433.2,232 434.1,233.2 435,234.5 435.9,235.9 436.8,237.2 437.7,238.7 438.7,240.3 439.7,242 440.7,243.6 441.5,244.9 442,245.9" stroke="#f4a0a0" stroke-width="0.8"/>
<path d="M442,245.9 442.9,244.9 444.1,243.6 445.6,242.1 447.1,240.4 448.6,238.7 450,237.2 451.3,235.7 452.7,234.2 454,232.6 455.3,231.2 456.4,230 457.3,229.2 458,228.8 458.6,228.9 459,229.2 459.3,229.7 459.6,230.1 459.8,230.3" stroke="#f4a0a0" stroke-width="0.8"/>
<path d="M413.4,239.5 413.8,239.2 414.3,238.8 414.9,238.3 415.6,237.7 416.2,237.2 416.8,236.7 417.4,236.2 418,235.7 418.6,235.3 419.1,234.8 419.7,234.3 420.2,233.8 420.8,233.2 421.4,232.5 421.9,231.9 422.4,231.2 422.8,230.7 423.2,230.3" stroke="#f4a0a0" stroke-width="0.7"/>
<path d="M462.2,239.5 461.8,239.2 461.3,238.8 460.7,238.3 460,237.7 459.4,237.2 458.8,236.7 458.2,236.2 457.6,235.7 457,235.3 456.5,234.8 455.9,234.3 455.4,233.8 454.8,233.2 454.2,232.5 453.7,231.9 453.2,231.2 452.8,230.7 452.4,230.3" stroke="#f4a0a0" stroke-width="0.7"/>
<path d="M413.4,301.1 414,301.2 414.9,301.2 415.9,301.2 417.1,301.3 418.2,301.5 419.3,301.7 420.4,302.2 421.6,302.8 422.8,303.5 423.9,304.2 424.9,304.8 425.6,305.2" stroke="#f4a0a0" stroke-width="0.7"/>
<path d="M462.2,301.1 461.6,301.2 460.7,301.2 459.7,301.2 458.5,301.3 457.4,301.5 456.3,301.7 455.2,302.2 454,302.8 452.8,303.5 451.7,304.2 450.7,304.8 450,305.2" stroke="#f4a0a0" stroke-width="0.7"/>
<path d="M416.3,230.3 416.9,232.1 417.6,234.6 418.5,237.6 419.5,240.6 420.4,243.5 421.2,245.9 421.9,247.8 422.6,249.5 423.3,251.1 423.9,252.4 424.5,253.5 425.1,254.5 425.6,255.3 426.1,255.9 426.6,256.3 427,256.5 427.5,256.5 428,256.2 428.7,255.5 429.4,254.4 430.1,253.1 430.8,251.7 431.4,250.5 431.8,249.7" stroke="#8fbef0" stroke-width="0.8"/>
<path d="M416.3,305.2 416.9,303.4 417.6,300.8 418.5,297.8 419.5,294.8 420.4,291.9 421.2,289.6 421.9,287.9 422.6,286.5 423.3,285.3 423.9,284.3 424.5,283.4 425.1,282.7 425.6,282.1 426.1,281.7 426.6,281.5 427,281.4 427.5,281.4 428,281.6 428.7,281.9 429.4,282.5 430.1,283.2 430.8,284 431.4,284.6 431.8,285" stroke="#8fbef0" stroke-width="0.8"/>
<path d="M420.2,230.3 431.8,249.7" stroke="#8fbef0" stroke-width="0.8"/>
<path d="M442,267.8 457.8,305.2" stroke="#8fbef0" stroke-width="0.8"/>
<path d="M442,267.8 460.2,230.3" stroke="#8fbef0" stroke-width="0.8"/>
<path d="M443.7,236.1 444.1,237.6 444.7,239.8 445.4,242.4 446.1,245.1 446.9,247.5 447.6,249.3 448.2,250.7 448.8,252 449.5,253 450.1,253.7 450.8,254 451.5,253.9 452.2,253.4 452.9,252.5 453.6,251.2 454.4,249.6 455.1,247.8 455.9,245.9 456.6,243.5 457.5,240.7 458.3,237.6 459.1,234.6 459.8,232.1 460.2,230.3" stroke="#8fbef0" stroke-width="0.8"/>
<path d="M443.7,299.4 444.1,297.8 444.7,295.3 445.4,292.4 446.2,289.7 446.9,287.4 447.6,286.2 448.2,286.1 448.7,286.7 449.3,287.9 449.8,289.4 450.4,290.8 451,291.9 451.6,292.7 452.2,293.4 452.9,294.1 453.6,294.8 454.2,295.6 454.9,296.5 455.6,297.8 456.3,299.4 457.1,301.1 457.8,302.8 458.4,304.2 458.8,305.2" stroke="#8fbef0" stroke-width="0.8"/>
<path d="M422.2,305.2 422.7,304.2 423.5,302.9 424.3,301.3 425.3,299.7 426.2,298.2 427.1,297.1 427.9,296.4 428.7,295.8 429.4,295.4 430.2,295.1 431,294.9 431.8,294.8 432.7,294.8 433.5,295 434.3,295.3 435.1,295.6 436,296.1 436.8,296.5 437.7,297.1 438.7,297.7 439.6,298.4 440.6,299.1 441.4,299.8 442,300.6 442.5,301.4 442.9,302.2 443.2,303.1 443.4,304 443.5,304.7 443.7,305.2" stroke="#8fbef0" stroke-width="0.8"/>
<path d="M414.4,230.3 414.9,231.6 415.6,233.5 416.4,235.6 417.3,237.8 418.3,239.8 419.3,241.3 420.2,242.3 421.3,243 422.3,243.5 423.4,243.8 424.5,244 425.6,244.1 426.7,244.2 427.8,244.3 428.9,244.2 430,243.9 431,243.4 431.8,242.4 432.6,240.9 433.4,238.7 434,236.3 434.6,233.8 435,231.8 435.4,230.3" stroke="#8fbef0" stroke-width="0.7"/>
<path d="M413.4,304 413.9,304.1 414.7,304.1 415.5,304.2 416.5,304.2 417.4,304.2 418.3,304 419.1,303.7 419.9,303.3 420.7,302.9 421.5,302.3 422.3,301.8 423.2,301.1 424,300.5 424.8,299.7 425.7,298.9 426.5,298.1 427.3,297.3 428,296.5 428.8,295.8 429.5,295 430.2,294.2 430.9,293.5 431.4,292.9 431.8,292.5" stroke="#ec2424" stroke-width="1.1" stroke-opacity="0.8"/>
<path d="M462.2,304 461.7,304.1 460.9,304.2 460.1,304.2 459.1,304.3 458.2,304.2 457.3,304 456.5,303.7 455.7,303.2 454.9,302.7 454.1,302 453.3,301.3 452.4,300.6 451.6,299.7 450.8,298.8 450,297.8 449.2,296.8 448.4,295.8 447.6,294.8 446.6,293.8 445.6,292.7 444.5,291.6 443.5,290.5 442.7,289.7 442,289.1" stroke="#ec2424" stroke-width="1.1" stroke-opacity="0.8"/>
<path d="M414.4,273.5 415.1,274.2 416,275.1 417.2,276.2 418.4,277.4 419.6,278.6 420.7,279.8 421.8,281.1 422.9,282.5 424,284 425.1,285.4 426.1,286.7 427.1,287.9 428,288.9 429,289.9 429.9,290.7 430.7,291.4 431.3,292 431.8,292.5" stroke="#f4a0a0" stroke-width="0.7"/>
<path d="M431.8,285 430.9,285.5 429.6,286.1 428.1,286.9 426.5,287.6 424.8,288.4 423.2,289.1 421.5,289.6 419.6,290.2 417.7,290.7 416,291.2 414.5,291.6 413.4,291.9" stroke="#1f78e0" stroke-width="1.0"/>
<path d="M431.8,285 432.4,285.5 433.1,286.3 434,287.1 435,288 435.9,288.9 436.8,289.6 437.6,290.3 438.4,291 439.1,291.6 439.9,292.2 440.9,292.7 442,293.1 443.5,293.4 445.2,293.5 447,293.6 448.8,293.7 450.7,293.7 452.4,293.7 454.2,293.6 456.1,293.5 458,293.4 459.7,293.3 461.1,293.2 462.2,293.1" stroke="#1f78e0" stroke-width="0.9" stroke-opacity="0.85"/>
<path d="M420.7,305.2 421.4,304.2 422.4,302.9 423.6,301.3 424.8,299.7 426,298.3 427.1,297.1 427.9,296.3 428.6,295.6 429.2,295 429.9,294.6 430.8,294.4 431.8,294.2 433.2,294.3 434.8,294.6 436.6,295.1 438.4,295.6 440.3,296.1 442,296.5 443.8,297 445.5,297.4 447.3,297.9 449,298.3 450.7,298.7 452.4,298.8 454.2,298.8 456.1,298.7 458,298.4 459.7,298.1 461.1,297.9 462.2,297.7" stroke="#8fbef0" stroke-width="0.8"/>
<path d="M413.4,236.7 414,236.9 414.9,237.3 415.9,237.8 417.1,238.3 418.2,238.9 419.3,239.5 420.3,240.2 421.3,241 422.4,241.8 423.5,242.6 424.5,243.4 425.6,244.1 426.6,244.8 427.5,245.5 428.5,246.2 429.5,246.8 430.6,247.3 431.8,247.6 433.3,247.7 435,247.7 436.8,247.5 438.7,247.3 440.4,246.9 442,246.4 443.5,245.9 444.9,245.1 446.3,244.2 447.6,243.4 448.8,242.5 450,241.8 451.2,241.3 452.3,240.7 453.3,240.3 454.3,239.8 455.3,239.4 456.3,239 457.4,238.5 458.5,238.1 459.7,237.6 460.7,237.2 461.6,236.9 462.2,236.7" stroke="#ec2424" stroke-width="0.8" stroke-opacity="0.55"/>
<path d="M442,246.2 442.7,245.9 443.7,245.4 444.9,244.8 446.1,244.1 447.4,243.5 448.5,243 449.7,242.5 450.8,241.9 451.9,241.3 453.1,240.8 454.2,240.5 455.4,240.5 456.6,240.8 457.9,241.4 459.2,242.1 460.4,243 461.5,243.7 462.2,244.1" stroke="#ec2424" stroke-width="0.9" stroke-opacity="0.7"/>
<path d="M413.4,244.1 413.9,243.7 414.6,243 415.4,242.2 416.3,241.4 417.3,240.8 418.3,240.5 419.3,240.4 420.4,240.6 421.6,240.9 422.8,241.3 424,241.8 425.1,242.4 426.3,243.2 427.6,244.1 428.9,245.1 430.1,246.1 431.1,247 431.8,247.6" stroke="#ec2424" stroke-width="0.9" stroke-opacity="0.6"/>
<path d="M447.6,230.3 448.1,231.2 448.8,232.5 449.7,234 450.6,235.5 451.6,236.9 452.4,237.8 453.3,238.3 454.1,238.6 454.9,238.7 455.7,238.6 456.5,238.5 457.3,238.4 458.2,238.2 459.1,237.9 460.1,237.6 460.9,237.2 461.7,236.9 462.2,236.7" stroke="#f4a0a0" stroke-width="0.8"/>
<path d="M420.2,230.3 431.8,249.7 442,267.8" stroke="#1f78e0" stroke-width="0.9"/>
<path d="M431.8,285 442,267.8" stroke="#1f78e0" stroke-width="1.1"/>
<path d="M431.8,249.7 438.8,241.3 445.6,230.3" stroke="#1f78e0" stroke-width="1.3"/>
<path d="M431.8,285 438.8,295.4 444.6,305.2" stroke="#1f78e0" stroke-width="1.1"/>
<path d="M431.8,285 423.2,296.5 418.3,305.2" stroke="#1f78e0" stroke-width="0.8"/>
<path d="M413.4,274.1 413.9,274.4 414.6,274.7 415.5,275.1 416.4,275.6 417.4,276.2 418.3,277 419.2,277.9 420.2,279 421.2,280.2 422.2,281.5 423.2,282.7 424.1,283.9 425,284.9 425.9,286 426.8,287.1 427.6,288.1 428.3,288.9 429,289.6 429.5,290.2 429.8,290.7 430.1,291 430.4,291.3 431,291.4 431.8,291.4 433.2,291.2 434.8,290.8 436.7,290.4 438.6,289.8 440.5,289.1 442,288.5 443.3,287.8 444.5,286.9 445.5,286.1 446.5,285.2 447.5,284.2 448.5,283.3 449.7,282.3 450.8,281.3 451.9,280.3 453.1,279.3 454.2,278.4 455.4,277.5 456.6,276.8 457.9,276.1 459.2,275.5 460.4,274.9 461.5,274.4 462.2,274.1" stroke="#ec2424" stroke-width="1.0"/>
<path d="M431.4,291.6 432,291.4 432.8,291.2 433.8,291 434.8,290.7 435.9,290.5 436.8,290.2 437.8,289.9 438.8,289.6 439.8,289.3 440.7,288.9 441.5,288.7 442,288.5" stroke="#ec2424" stroke-width="1.9"/>
<path d="M423.2,237.2 423.7,238.1 424.5,239.3 425.4,240.8 426.3,242.3 427.2,243.6 428,244.7 428.7,245.5 429.2,246.2 429.6,246.7 430.1,247.1 430.9,247.4 431.8,247.6 433.3,247.6 435.2,247.4 437.2,247.1 439.2,246.7 440.9,246.4 442,246.2" stroke="#ec2424" stroke-width="1.0"/>
<path d="M431.8,247.6 432.4,247.5 433.1,247.5 434,247.4 435,247.3 435.9,247.1 436.8,247 437.7,246.9 438.7,246.7 439.7,246.6 440.7,246.4 441.5,246.3 442,246.2" stroke="#ec2424" stroke-width="1.7" stroke-opacity="0.9"/>
</g>
<rect x="413.4" y="233.2" width="48.8" height="69.1" fill="none" stroke="#505050" stroke-width="1.3"/>
<text x="437.80" y="231.20" font-size="4.6" text-anchor="middle" fill="#333">d<tspan font-size="3" dy="1">w</tspan><tspan dy="-1"> = 3.55 Å</tspan></text>
<text x="413.40" y="307.50" font-size="5.2" text-anchor="middle" fill="#333">Γ</text>
<text x="431.85" y="307.50" font-size="5.2" text-anchor="middle" fill="#333">M</text>
<text x="442.05" y="307.50" font-size="5.2" text-anchor="middle" fill="#333">K</text>
<text x="462.20" y="307.50" font-size="5.2" text-anchor="middle" fill="#333">Γ</text>
<clipPath id="c854"><rect x="470.5" y="233.2" width="48.8" height="69.1"/></clipPath>
<g clip-path="url(#c854)" fill="none" stroke-linejoin="round">
<line x1="488.9" y1="233.2" x2="488.9" y2="302.29999999999995" stroke="#a0a0a0" stroke-width="0.6"/>
<line x1="499.1" y1="233.2" x2="499.1" y2="302.29999999999995" stroke="#a0a0a0" stroke-width="0.6"/>
<line x1="470.5" y1="267.8" x2="519.3" y2="267.8" stroke="#a0a0a0" stroke-width="0.6"/>
<path d="M470.5,274 470.9,274.5 471.5,275.1 472.2,275.9 473,276.9 473.7,278 474.4,279.2 475,280.4 475.6,281.8 476.1,283.4 476.7,285 477.3,286.9 477.8,288.9 478.4,291.5 479.1,294.5 479.7,297.7 480.4,300.7 480.9,303.3 481.2,305.2" stroke="#f4a0a0" stroke-width="0.75"/>
<path d="M519.3,274 518.9,274.5 518.3,275.1 517.6,275.9 516.8,276.9 516.1,278 515.4,279.2 514.8,280.4 514.2,281.8 513.7,283.4 513.1,285 512.5,286.9 512,288.9 511.4,291.5 510.7,294.5 510.1,297.7 509.4,300.7 508.9,303.3 508.6,305.2" stroke="#f4a0a0" stroke-width="0.75"/>
<path d="M488.9,291.2 489.3,291.7 489.7,292.4 490.3,293.2 490.9,294.1 491.7,295 492.5,295.9 493.4,296.8 494.6,297.8 495.8,298.8 497.1,299.8 498.2,300.8 499.1,301.6 499.9,302.4 500.6,303.1 501.1,303.8 501.6,304.3 501.9,304.8 502.2,305.2" stroke="#f4a0a0" stroke-width="0.7"/>
<path d="M482.7,305.2 483.1,304.4 483.6,303.4 484.2,302.1 484.9,300.7 485.5,299.4 486.1,298.2 486.7,296.9 487.2,295.6 487.7,294.3 488.2,293 488.6,292 488.9,291.2" stroke="#f4a0a0" stroke-width="0.7"/>
<path d="M470.5,244.7 470.9,244.4 471.4,244 472,243.5 472.7,243 473.3,242.4 473.9,241.8 474.5,241.3 475,240.7 475.5,240.1 476,239.4 476.6,238.7 477.3,237.8 478.2,236.7 479.2,235.3 480.2,233.8 481.2,232.4 482.1,231.2 482.7,230.3" stroke="#f4a0a0" stroke-width="0.75"/>
<path d="M519.3,244.7 518.9,244.4 518.4,244 517.8,243.5 517.1,243 516.5,242.4 515.9,241.8 515.3,241.3 514.8,240.7 514.3,240.1 513.8,239.4 513.2,238.7 512.5,237.8 511.6,236.7 510.6,235.3 509.6,233.8 508.6,232.4 507.7,231.2 507.1,230.3" stroke="#f4a0a0" stroke-width="0.75"/>
<path d="M489,230.3 489.6,231.1 490.3,232.2 491.2,233.5 492.1,234.9 493,236.4 493.9,237.8 494.8,239.3 495.8,240.9 496.8,242.6 497.8,244.2 498.6,245.5 499.1,246.4" stroke="#f4a0a0" stroke-width="0.8"/>
<path d="M499.1,246.4 500,245.5 501.2,244.2 502.7,242.6 504.2,241 505.7,239.3 507.1,237.8 508.4,236.3 509.8,234.8 511.1,233.2 512.4,231.8 513.5,230.6 514.4,229.7 515.1,229.3 515.7,229.3 516.1,229.5 516.4,229.9 516.7,230.2 516.9,230.3" stroke="#f4a0a0" stroke-width="0.8"/>
<path d="M470.5,239.5 470.9,239.2 471.4,238.8 472,238.3 472.7,237.7 473.3,237.2 473.9,236.7 474.5,236.2 475.1,235.7 475.7,235.3 476.2,234.8 476.8,234.3 477.3,233.8 477.9,233.2 478.5,232.5 479,231.9 479.5,231.2 479.9,230.7 480.3,230.3" stroke="#f4a0a0" stroke-width="0.7"/>
<path d="M519.3,239.5 518.9,239.2 518.4,238.8 517.8,238.3 517.1,237.7 516.5,237.2 515.9,236.7 515.3,236.2 514.7,235.7 514.1,235.3 513.6,234.8 513,234.3 512.5,233.8 511.9,233.2 511.3,232.5 510.8,231.9 510.3,231.2 509.9,230.7 509.5,230.3" stroke="#f4a0a0" stroke-width="0.7"/>
<path d="M470.5,301 471.1,301.1 472,301.1 473,301.1 474.2,301.2 475.3,301.3 476.4,301.6 477.5,302.1 478.7,302.7 479.9,303.4 481,304.1 482,304.8 482.7,305.2" stroke="#f4a0a0" stroke-width="0.7"/>
<path d="M519.3,301 518.7,301.1 517.8,301.1 516.8,301.1 515.6,301.2 514.5,301.3 513.4,301.6 512.3,302.1 511.1,302.7 509.9,303.4 508.8,304.1 507.8,304.8 507.1,305.2" stroke="#f4a0a0" stroke-width="0.7"/>
<path d="M473.4,230.3 474,232.1 474.7,234.6 475.6,237.6 476.6,240.6 477.5,243.5 478.3,245.9 479,247.8 479.7,249.5 480.4,251.1 481,252.4 481.6,253.5 482.2,254.5 482.7,255.3 483.2,255.9 483.7,256.3 484.1,256.6 484.6,256.5 485.1,256.2 485.8,255.5 486.5,254.3 487.2,252.9 487.9,251.4 488.5,250.2 488.9,249.3" stroke="#8fbef0" stroke-width="0.8"/>
<path d="M473.4,305.2 474,303.4 474.7,300.8 475.6,297.8 476.6,294.8 477.5,291.9 478.3,289.6 479,287.9 479.7,286.5 480.4,285.3 481,284.3 481.6,283.4 482.2,282.7 482.7,282.1 483.2,281.7 483.7,281.5 484.1,281.4 484.6,281.4 485.1,281.6 485.8,281.9 486.5,282.5 487.2,283.2 487.9,284 488.5,284.6 488.9,285" stroke="#8fbef0" stroke-width="0.8"/>
<path d="M477.3,230.3 488.9,249.3" stroke="#8fbef0" stroke-width="0.8"/>
<path d="M499.1,267.8 514.9,305.2" stroke="#8fbef0" stroke-width="0.8"/>
<path d="M499.1,267.8 517.3,230.3" stroke="#8fbef0" stroke-width="0.8"/>
<path d="M500.8,236.1 501.2,237.6 501.8,239.8 502.5,242.4 503.2,245.1 504,247.5 504.7,249.3 505.3,250.7 505.9,252 506.6,253 507.2,253.7 507.9,254 508.6,253.9 509.3,253.4 510,252.5 510.7,251.2 511.5,249.6 512.2,247.8 513,245.9 513.7,243.5 514.6,240.7 515.4,237.6 516.2,234.6 516.9,232.1 517.3,230.3" stroke="#8fbef0" stroke-width="0.8"/>
<path d="M500.8,299.4 501.2,297.8 501.8,295.3 502.5,292.4 503.3,289.7 504,287.4 504.7,286.2 505.3,286.1 505.8,286.7 506.4,287.9 506.9,289.4 507.5,290.8 508.1,291.9 508.7,292.7 509.3,293.4 510,294.1 510.7,294.8 511.3,295.6 512,296.5 512.7,297.8 513.4,299.4 514.2,301.1 514.9,302.8 515.5,304.2 515.9,305.2" stroke="#8fbef0" stroke-width="0.8"/>
<path d="M479.3,305.2 479.8,304.2 480.6,302.9 481.4,301.3 482.4,299.7 483.3,298.2 484.2,297.1 485,296.4 485.8,295.8 486.5,295.4 487.3,295.1 488.1,294.9 488.9,294.8 489.8,294.8 490.6,295 491.4,295.3 492.2,295.6 493.1,296.1 493.9,296.5 494.8,297.1 495.8,297.7 496.7,298.4 497.7,299.1 498.5,299.8 499.1,300.6 499.6,301.4 500,302.2 500.3,303.1 500.5,304 500.6,304.7 500.8,305.2" stroke="#8fbef0" stroke-width="0.8"/>
<path d="M471.5,230.3 472,231.6 472.7,233.5 473.5,235.6 474.4,237.8 475.4,239.8 476.4,241.3 477.3,242.3 478.4,243 479.4,243.5 480.5,243.8 481.6,244 482.7,244.1 483.8,244.2 484.9,244.3 486,244.2 487.1,243.9 488.1,243.4 488.9,242.4 489.7,240.9 490.5,238.7 491.1,236.3 491.7,233.8 492.1,231.8 492.5,230.3" stroke="#8fbef0" stroke-width="0.7"/>
<path d="M470.5,303.9 471,303.9 471.8,304 472.6,304.1 473.6,304.1 474.5,304.1 475.4,303.9 476.2,303.6 477,303.2 477.8,302.8 478.6,302.2 479.4,301.6 480.3,301 481.1,300.4 481.9,299.6 482.8,298.8 483.6,298 484.4,297.2 485.1,296.4 485.9,295.7 486.6,294.9 487.3,294.1 488,293.4 488.5,292.8 488.9,292.4" stroke="#ec2424" stroke-width="1.1" stroke-opacity="0.8"/>
<path d="M519.3,303.9 518.8,304 518,304 517.2,304.1 516.2,304.2 515.3,304.1 514.4,303.9 513.6,303.6 512.8,303.1 512,302.5 511.2,301.9 510.4,301.2 509.5,300.5 508.7,299.6 507.9,298.7 507.1,297.7 506.3,296.7 505.5,295.7 504.7,294.7 503.7,293.7 502.7,292.6 501.6,291.5 500.6,290.4 499.8,289.6 499.1,288.9" stroke="#ec2424" stroke-width="1.1" stroke-opacity="0.8"/>
<path d="M471.5,273.4 472.2,274.1 473.1,275 474.3,276.1 475.5,277.3 476.7,278.5 477.8,279.7 478.9,281 480,282.4 481.1,283.9 482.2,285.3 483.2,286.6 484.2,287.8 485.1,288.8 486.1,289.8 487,290.6 487.8,291.3 488.4,291.9 488.9,292.4" stroke="#f4a0a0" stroke-width="0.7"/>
<path d="M488.9,285 488,285.5 486.7,286.1 485.2,286.9 483.6,287.6 481.9,288.4 480.3,289.1 478.6,289.6 476.7,290.2 474.8,290.7 473.1,291.2 471.6,291.6 470.5,291.9" stroke="#1f78e0" stroke-width="1.0"/>
<path d="M488.9,285 489.5,285.5 490.2,286.3 491.1,287.1 492.1,288 493,288.9 493.9,289.6 494.7,290.3 495.5,291 496.2,291.6 497,292.2 498,292.7 499.1,293.1 500.6,293.4 502.3,293.5 504.1,293.6 505.9,293.7 507.8,293.7 509.5,293.7 511.3,293.6 513.2,293.5 515.1,293.4 516.8,293.3 518.2,293.2 519.3,293.1" stroke="#1f78e0" stroke-width="0.9" stroke-opacity="0.85"/>
<path d="M477.8,305.2 478.5,304.2 479.5,302.9 480.7,301.3 481.9,299.7 483.1,298.3 484.2,297.1 485,296.3 485.7,295.6 486.3,295 487,294.6 487.9,294.4 488.9,294.2 490.3,294.3 491.9,294.6 493.7,295.1 495.5,295.6 497.4,296.1 499.1,296.5 500.9,297 502.6,297.4 504.4,297.9 506.1,298.3 507.8,298.7 509.5,298.8 511.3,298.8 513.2,298.7 515.1,298.4 516.8,298.1 518.2,297.9 519.3,297.7" stroke="#8fbef0" stroke-width="0.8"/>
<path d="M470.5,237.2 471.1,237.5 472,237.9 473,238.4 474.2,238.9 475.3,239.5 476.4,240.1 477.4,240.8 478.4,241.6 479.5,242.4 480.6,243.2 481.6,244 482.7,244.7 483.7,245.4 484.6,246.1 485.6,246.8 486.6,247.4 487.7,247.9 488.9,248.2 490.4,248.3 492.1,248.3 493.9,248.1 495.8,247.8 497.5,247.5 499.1,247 500.6,246.4 502,245.7 503.4,244.8 504.7,243.9 505.9,243.1 507.1,242.4 508.3,241.8 509.4,241.3 510.4,240.8 511.4,240.4 512.4,240 513.4,239.5 514.5,239.1 515.6,238.6 516.8,238.2 517.8,237.8 518.7,237.5 519.3,237.2" stroke="#ec2424" stroke-width="0.8" stroke-opacity="0.55"/>
<path d="M499.1,246.8 499.8,246.4 500.8,245.9 502,245.3 503.2,244.7 504.5,244.1 505.6,243.6 506.8,243 507.9,242.4 509,241.9 510.2,241.4 511.3,241.1 512.5,241 513.7,241.3 515,241.9 516.3,242.7 517.5,243.5 518.6,244.2 519.3,244.7" stroke="#ec2424" stroke-width="0.9" stroke-opacity="0.7"/>
<path d="M470.5,244.7 471,244.3 471.7,243.6 472.5,242.8 473.4,242 474.4,241.4 475.4,241 476.4,241 477.5,241.1 478.7,241.5 479.9,241.9 481.1,242.4 482.2,243 483.4,243.7 484.7,244.7 486,245.7 487.2,246.7 488.2,247.6 488.9,248.2" stroke="#ec2424" stroke-width="0.9" stroke-opacity="0.6"/>
<path d="M504.7,230.3 505.2,231.2 505.9,232.5 506.8,234 507.7,235.5 508.7,236.9 509.5,237.8 510.4,238.3 511.2,238.6 512,238.7 512.8,238.6 513.6,238.5 514.4,238.4 515.3,238.2 516.2,237.9 517.2,237.6 518,237.2 518.8,236.9 519.3,236.7" stroke="#f4a0a0" stroke-width="0.8"/>
<path d="M477.3,230.3 488.9,249.3 499.1,267.8" stroke="#1f78e0" stroke-width="0.9"/>
<path d="M488.9,285 499.1,267.8" stroke="#1f78e0" stroke-width="1.1"/>
<path d="M488.9,249.3 495.9,241.3 502.7,230.3" stroke="#1f78e0" stroke-width="1.3"/>
<path d="M488.9,285 495.9,295.4 501.7,305.2" stroke="#1f78e0" stroke-width="1.1"/>
<path d="M488.9,285 480.3,296.5 475.4,305.2" stroke="#1f78e0" stroke-width="0.8"/>
<path d="M470.5,274 471,274.2 471.7,274.6 472.6,275 473.5,275.5 474.5,276.1 475.4,276.8 476.3,277.8 477.3,278.9 478.3,280.1 479.3,281.4 480.3,282.6 481.2,283.8 482.1,284.8 483,285.9 483.9,287 484.7,287.9 485.4,288.8 486.1,289.5 486.6,290.1 486.9,290.6 487.2,290.9 487.5,291.2 488.1,291.3 488.9,291.2 490.3,291.1 491.9,290.7 493.8,290.2 495.7,289.7 497.6,289 499.1,288.4 500.4,287.6 501.6,286.8 502.6,286 503.6,285 504.6,284.1 505.6,283.2 506.8,282.2 507.9,281.2 509,280.2 510.2,279.2 511.3,278.3 512.5,277.4 513.7,276.7 515,276 516.3,275.3 517.5,274.8 518.6,274.3 519.3,274" stroke="#ec2424" stroke-width="1.0"/>
<path d="M488.5,291.5 489.1,291.3 489.9,291.1 490.9,290.9 491.9,290.6 493,290.4 493.9,290.1 494.9,289.8 495.9,289.5 496.9,289.1 497.8,288.8 498.6,288.6 499.1,288.4" stroke="#ec2424" stroke-width="1.9"/>
<path d="M480.3,237.8 480.8,238.7 481.6,239.9 482.5,241.4 483.4,242.9 484.3,244.2 485.1,245.3 485.8,246.1 486.3,246.8 486.7,247.3 487.2,247.7 488,248 488.9,248.2 490.4,248.2 492.3,248 494.3,247.7 496.3,247.3 498,247 499.1,246.8" stroke="#ec2424" stroke-width="1.0"/>
<path d="M488.9,248.2 489.5,248.1 490.2,248 491.1,247.9 492.1,247.8 493,247.7 493.9,247.6 494.8,247.5 495.8,247.3 496.8,247.2 497.8,247 498.6,246.9 499.1,246.8" stroke="#ec2424" stroke-width="1.7" stroke-opacity="0.9"/>
</g>
<rect x="470.5" y="233.2" width="48.8" height="69.1" fill="none" stroke="#505050" stroke-width="1.3"/>
<text x="494.90" y="231.20" font-size="4.6" text-anchor="middle" fill="#333">d<tspan font-size="3" dy="1">w</tspan><tspan dy="-1"> = 3.85 Å</tspan></text>
<text x="470.50" y="307.50" font-size="5.2" text-anchor="middle" fill="#333">Γ</text>
<text x="488.95" y="307.50" font-size="5.2" text-anchor="middle" fill="#333">M</text>
<text x="499.15" y="307.50" font-size="5.2" text-anchor="middle" fill="#333">K</text>
<text x="519.30" y="307.50" font-size="5.2" text-anchor="middle" fill="#333">Γ</text>
<defs>
<radialGradient id="gBlue" cx="0.4" cy="0.38" r="0.65"><stop offset="0" stop-color="#8fd0ff"/><stop offset="0.45" stop-color="#2b8ae8"/><stop offset="1" stop-color="#0b56b8"/></radialGradient>
<radialGradient id="gBlue2" cx="0.4" cy="0.38" r="0.65"><stop offset="0" stop-color="#7cc0ff"/><stop offset="0.5" stop-color="#2a7fe0"/><stop offset="1" stop-color="#1258b0"/></radialGradient>
<radialGradient id="gRed" cx="0.4" cy="0.38" r="0.65"><stop offset="0" stop-color="#ff7070"/><stop offset="0.5" stop-color="#e82020"/><stop offset="1" stop-color="#b00000"/></radialGradient>
<radialGradient id="gGray" cx="0.4" cy="0.38" r="0.65"><stop offset="0" stop-color="#e0e0e0"/><stop offset="0.6" stop-color="#9a9a9a"/><stop offset="1" stop-color="#6a6a6a"/></radialGradient>
<radialGradient id="gSb" cx="0.4" cy="0.38" r="0.65"><stop offset="0" stop-color="#6aa8ff"/><stop offset="0.5" stop-color="#1f63d0"/><stop offset="1" stop-color="#0c3c98"/></radialGradient>
</defs>
<g stroke="#1f7ee6" stroke-width="1.7" stroke-linecap="round"><line x1="152.3" y1="26.4" x2="144.8" y2="39.4"/><line x1="152.3" y1="26.4" x2="167.3" y2="26.4"/><line x1="144.8" y1="39.4" x2="152.3" y2="52.4"/><line x1="152.3" y1="52.4" x2="167.3" y2="52.4"/><line x1="167.3" y1="26.4" x2="174.8" y2="39.4"/><line x1="174.8" y1="39.4" x2="167.3" y2="52.4"/><line x1="174.8" y1="39.4" x2="189.8" y2="39.4"/><line x1="167.3" y1="52.4" x2="174.8" y2="65.4"/><line x1="174.8" y1="65.4" x2="167.3" y2="78.4"/><line x1="174.8" y1="65.4" x2="189.8" y2="65.4"/><line x1="167.3" y1="78.4" x2="174.8" y2="91.4"/><line x1="174.8" y1="91.4" x2="189.8" y2="91.4"/><line x1="197.3" y1="26.4" x2="189.8" y2="39.4"/><line x1="197.3" y1="26.4" x2="212.3" y2="26.4"/><line x1="189.8" y1="39.4" x2="197.3" y2="52.4"/><line x1="197.3" y1="52.4" x2="189.8" y2="65.4"/><line x1="197.3" y1="52.4" x2="212.3" y2="52.4"/><line x1="189.8" y1="65.4" x2="197.3" y2="78.4"/><line x1="197.3" y1="78.4" x2="189.8" y2="91.4"/><line x1="197.3" y1="78.4" x2="212.3" y2="78.4"/><line x1="189.8" y1="91.4" x2="197.3" y2="104.4"/><line x1="197.3" y1="104.4" x2="212.3" y2="104.4"/><line x1="212.3" y1="26.4" x2="219.8" y2="39.4"/><line x1="219.8" y1="39.4" x2="212.3" y2="52.4"/><line x1="219.8" y1="39.4" x2="234.8" y2="39.4"/><line x1="212.3" y1="52.4" x2="219.8" y2="65.4"/><line x1="219.8" y1="65.4" x2="212.3" y2="78.4"/><line x1="219.8" y1="65.4" x2="234.8" y2="65.4"/><line x1="212.3" y1="78.4" x2="219.8" y2="91.4"/><line x1="219.8" y1="91.4" x2="212.3" y2="104.4"/><line x1="219.8" y1="91.4" x2="234.8" y2="91.4"/><line x1="234.8" y1="39.4" x2="242.3" y2="52.4"/><line x1="242.3" y1="52.4" x2="234.8" y2="65.4"/><line x1="234.8" y1="65.4" x2="242.3" y2="78.4"/><line x1="242.3" y1="78.4" x2="234.8" y2="91.4"/><line x1="242.3" y1="78.4" x2="257.3" y2="78.4"/><line x1="234.8" y1="91.4" x2="242.3" y2="104.4"/><line x1="242.3" y1="104.4" x2="257.3" y2="104.4"/><line x1="257.3" y1="78.4" x2="264.8" y2="91.4"/><line x1="264.8" y1="91.4" x2="257.3" y2="104.4"/></g>
<g stroke="#e39a9a" stroke-width="1.5" stroke-linecap="round"><line x1="137.4" y1="26.2" x2="143.8" y2="33.7"/><line x1="143.8" y1="33.7" x2="153.5" y2="31.9"/><line x1="153.5" y1="31.9" x2="160.0" y2="39.5"/><line x1="160.0" y1="39.5" x2="156.7" y2="48.8"/><line x1="160.0" y1="39.5" x2="169.7" y2="37.7"/><line x1="156.7" y1="48.8" x2="163.1" y2="56.3"/><line x1="163.1" y1="56.3" x2="159.8" y2="65.7"/><line x1="163.1" y1="56.3" x2="172.8" y2="54.5"/><line x1="159.8" y1="65.7" x2="166.2" y2="73.2"/><line x1="166.2" y1="73.2" x2="176.0" y2="71.4"/><line x1="173.0" y1="28.3" x2="169.7" y2="37.7"/><line x1="173.0" y1="28.3" x2="182.7" y2="26.5"/><line x1="169.7" y1="37.7" x2="176.1" y2="45.2"/><line x1="176.1" y1="45.2" x2="172.8" y2="54.5"/><line x1="176.1" y1="45.2" x2="185.9" y2="43.4"/><line x1="172.8" y1="54.5" x2="179.3" y2="62.1"/><line x1="179.3" y1="62.1" x2="176.0" y2="71.4"/><line x1="179.3" y1="62.1" x2="189.0" y2="60.3"/><line x1="176.0" y1="71.4" x2="182.4" y2="78.9"/><line x1="182.4" y1="78.9" x2="179.1" y2="88.2"/><line x1="182.4" y1="78.9" x2="192.1" y2="77.1"/><line x1="179.1" y1="88.2" x2="185.5" y2="95.8"/><line x1="185.5" y1="95.8" x2="182.2" y2="105.1"/><line x1="185.5" y1="95.8" x2="195.2" y2="94.0"/><line x1="182.7" y1="26.5" x2="189.2" y2="34.1"/><line x1="189.2" y1="34.1" x2="185.9" y2="43.4"/><line x1="189.2" y1="34.1" x2="198.9" y2="32.3"/><line x1="185.9" y1="43.4" x2="192.3" y2="50.9"/><line x1="192.3" y1="50.9" x2="189.0" y2="60.3"/><line x1="192.3" y1="50.9" x2="202.0" y2="49.1"/><line x1="189.0" y1="60.3" x2="195.4" y2="67.8"/><line x1="195.4" y1="67.8" x2="192.1" y2="77.1"/><line x1="195.4" y1="67.8" x2="205.2" y2="66.0"/><line x1="192.1" y1="77.1" x2="198.5" y2="84.6"/><line x1="198.5" y1="84.6" x2="195.2" y2="94.0"/><line x1="198.5" y1="84.6" x2="208.3" y2="82.8"/><line x1="195.2" y1="94.0" x2="201.7" y2="101.5"/><line x1="201.7" y1="101.5" x2="211.4" y2="99.7"/><line x1="198.9" y1="32.3" x2="205.3" y2="39.8"/><line x1="205.3" y1="39.8" x2="202.0" y2="49.1"/><line x1="205.3" y1="39.8" x2="215.1" y2="38.0"/><line x1="202.0" y1="49.1" x2="208.5" y2="56.6"/><line x1="208.5" y1="56.6" x2="205.2" y2="66.0"/><line x1="208.5" y1="56.6" x2="218.2" y2="54.8"/><line x1="205.2" y1="66.0" x2="211.6" y2="73.5"/><line x1="211.6" y1="73.5" x2="208.3" y2="82.8"/><line x1="211.6" y1="73.5" x2="221.3" y2="71.7"/><line x1="208.3" y1="82.8" x2="214.7" y2="90.4"/><line x1="214.7" y1="90.4" x2="211.4" y2="99.7"/><line x1="214.7" y1="90.4" x2="224.4" y2="88.6"/><line x1="218.4" y1="28.6" x2="215.1" y2="38.0"/><line x1="218.4" y1="28.6" x2="228.1" y2="26.8"/><line x1="215.1" y1="38.0" x2="221.5" y2="45.5"/><line x1="221.5" y1="45.5" x2="218.2" y2="54.8"/><line x1="221.5" y1="45.5" x2="231.2" y2="43.7"/><line x1="218.2" y1="54.8" x2="224.6" y2="62.4"/><line x1="224.6" y1="62.4" x2="221.3" y2="71.7"/><line x1="224.6" y1="62.4" x2="234.4" y2="60.6"/><line x1="221.3" y1="71.7" x2="227.8" y2="79.2"/><line x1="227.8" y1="79.2" x2="224.4" y2="88.6"/><line x1="227.8" y1="79.2" x2="237.5" y2="77.4"/><line x1="224.4" y1="88.6" x2="230.9" y2="96.1"/><line x1="230.9" y1="96.1" x2="227.6" y2="105.4"/><line x1="230.9" y1="96.1" x2="240.6" y2="94.3"/><line x1="231.2" y1="43.7" x2="237.7" y2="51.2"/><line x1="237.7" y1="51.2" x2="234.4" y2="60.6"/><line x1="234.4" y1="60.6" x2="240.8" y2="68.1"/><line x1="240.8" y1="68.1" x2="237.5" y2="77.4"/><line x1="240.8" y1="68.1" x2="250.5" y2="66.3"/><line x1="237.5" y1="77.4" x2="243.9" y2="85.0"/><line x1="243.9" y1="85.0" x2="240.6" y2="94.3"/><line x1="243.9" y1="85.0" x2="253.6" y2="83.1"/><line x1="240.6" y1="94.3" x2="247.0" y2="101.8"/><line x1="247.0" y1="101.8" x2="256.8" y2="100.0"/><line x1="253.6" y1="83.1" x2="260.1" y2="90.7"/><line x1="260.1" y1="90.7" x2="256.8" y2="100.0"/></g>
<g><circle cx="152.3" cy="26.4" r="3.1" fill="url(#gBlue)"/><circle cx="152.3" cy="26.4" r="1.5" fill="#3fd23f"/><circle cx="144.8" cy="39.4" r="3.1" fill="url(#gBlue)"/><circle cx="152.3" cy="52.4" r="3.1" fill="url(#gBlue)"/><circle cx="152.3" cy="52.4" r="1.5" fill="#3fd23f"/><circle cx="167.3" cy="26.4" r="3.1" fill="url(#gBlue)"/><circle cx="174.8" cy="39.4" r="3.1" fill="url(#gBlue)"/><circle cx="174.8" cy="39.4" r="1.5" fill="#3fd23f"/><circle cx="167.3" cy="52.4" r="3.1" fill="url(#gBlue)"/><circle cx="174.8" cy="65.4" r="3.1" fill="url(#gBlue)"/><circle cx="174.8" cy="65.4" r="1.5" fill="#3fd23f"/><circle cx="167.3" cy="78.4" r="3.1" fill="url(#gBlue)"/><circle cx="174.8" cy="91.4" r="3.1" fill="url(#gBlue)"/><circle cx="174.8" cy="91.4" r="1.5" fill="#3fd23f"/><circle cx="197.3" cy="26.4" r="3.1" fill="url(#gBlue)"/><circle cx="197.3" cy="26.4" r="1.5" fill="#3fd23f"/><circle cx="189.8" cy="39.4" r="3.1" fill="url(#gBlue)"/><circle cx="197.3" cy="52.4" r="3.1" fill="url(#gBlue)"/><circle cx="197.3" cy="52.4" r="1.5" fill="#3fd23f"/><circle cx="189.8" cy="65.4" r="3.1" fill="url(#gBlue)"/><circle cx="197.3" cy="78.4" r="3.1" fill="url(#gBlue)"/><circle cx="197.3" cy="78.4" r="1.5" fill="#3fd23f"/><circle cx="189.8" cy="91.4" r="3.1" fill="url(#gBlue)"/><circle cx="197.3" cy="104.4" r="3.1" fill="url(#gBlue)"/><circle cx="197.3" cy="104.4" r="1.5" fill="#3fd23f"/><circle cx="212.3" cy="26.4" r="3.1" fill="url(#gBlue)"/><circle cx="219.8" cy="39.4" r="3.1" fill="url(#gBlue)"/><circle cx="219.8" cy="39.4" r="1.5" fill="#3fd23f"/><circle cx="212.3" cy="52.4" r="3.1" fill="url(#gBlue)"/><circle cx="219.8" cy="65.4" r="3.1" fill="url(#gBlue)"/><circle cx="219.8" cy="65.4" r="1.5" fill="#3fd23f"/><circle cx="212.3" cy="78.4" r="3.1" fill="url(#gBlue)"/><circle cx="219.8" cy="91.4" r="3.1" fill="url(#gBlue)"/><circle cx="219.8" cy="91.4" r="1.5" fill="#3fd23f"/><circle cx="212.3" cy="104.4" r="3.1" fill="url(#gBlue)"/><circle cx="234.8" cy="39.4" r="3.1" fill="url(#gBlue)"/><circle cx="242.3" cy="52.4" r="3.1" fill="url(#gBlue)"/><circle cx="242.3" cy="52.4" r="1.5" fill="#3fd23f"/><circle cx="234.8" cy="65.4" r="3.1" fill="url(#gBlue)"/><circle cx="242.3" cy="78.4" r="3.1" fill="url(#gBlue)"/><circle cx="242.3" cy="78.4" r="1.5" fill="#3fd23f"/><circle cx="234.8" cy="91.4" r="3.1" fill="url(#gBlue)"/><circle cx="242.3" cy="104.4" r="3.1" fill="url(#gBlue)"/><circle cx="242.3" cy="104.4" r="1.5" fill="#3fd23f"/><circle cx="257.3" cy="78.4" r="3.1" fill="url(#gBlue)"/><circle cx="264.8" cy="91.4" r="3.1" fill="url(#gBlue)"/><circle cx="264.8" cy="91.4" r="1.5" fill="#3fd23f"/><circle cx="257.3" cy="104.4" r="3.1" fill="url(#gBlue)"/></g>
<g fill="#f7e2e2" stroke="#c66262" stroke-width="0.9"><circle cx="137.4" cy="26.2" r="2.0"/><circle cx="143.8" cy="33.7" r="2.0"/><circle cx="153.5" cy="31.9" r="2.0"/><circle cx="160.0" cy="39.5" r="2.0"/><circle cx="156.7" cy="48.8" r="2.0"/><circle cx="163.1" cy="56.3" r="2.0"/><circle cx="159.8" cy="65.7" r="2.0"/><circle cx="166.2" cy="73.2" r="2.0"/><circle cx="173.0" cy="28.3" r="2.0"/><circle cx="169.7" cy="37.7" r="2.0"/><circle cx="176.1" cy="45.2" r="2.0"/><circle cx="172.8" cy="54.5" r="2.0"/><circle cx="179.3" cy="62.1" r="2.0"/><circle cx="176.0" cy="71.4" r="2.0"/><circle cx="182.4" cy="78.9" r="2.0"/><circle cx="179.1" cy="88.2" r="2.0"/><circle cx="185.5" cy="95.8" r="2.0"/><circle cx="182.2" cy="105.1" r="2.0"/><circle cx="182.7" cy="26.5" r="2.0"/><circle cx="189.2" cy="34.1" r="2.0"/><circle cx="185.9" cy="43.4" r="2.0"/><circle cx="192.3" cy="50.9" r="2.0"/><circle cx="189.0" cy="60.3" r="2.0"/><circle cx="195.4" cy="67.8" r="2.0"/><circle cx="192.1" cy="77.1" r="2.0"/><circle cx="198.5" cy="84.6" r="2.0"/><circle cx="195.2" cy="94.0" r="2.0"/><circle cx="201.7" cy="101.5" r="2.0"/><circle cx="198.9" cy="32.3" r="2.0"/><circle cx="205.3" cy="39.8" r="2.0"/><circle cx="202.0" cy="49.1" r="2.0"/><circle cx="208.5" cy="56.6" r="2.0"/><circle cx="205.2" cy="66.0" r="2.0"/><circle cx="211.6" cy="73.5" r="2.0"/><circle cx="208.3" cy="82.8" r="2.0"/><circle cx="214.7" cy="90.4" r="2.0"/><circle cx="211.4" cy="99.7" r="2.0"/><circle cx="218.4" cy="28.6" r="2.0"/><circle cx="215.1" cy="38.0" r="2.0"/><circle cx="221.5" cy="45.5" r="2.0"/><circle cx="218.2" cy="54.8" r="2.0"/><circle cx="224.6" cy="62.4" r="2.0"/><circle cx="221.3" cy="71.7" r="2.0"/><circle cx="227.8" cy="79.2" r="2.0"/><circle cx="224.4" cy="88.6" r="2.0"/><circle cx="230.9" cy="96.1" r="2.0"/><circle cx="227.6" cy="105.4" r="2.0"/><circle cx="228.1" cy="26.8" r="2.0"/><circle cx="231.2" cy="43.7" r="2.0"/><circle cx="237.7" cy="51.2" r="2.0"/><circle cx="234.4" cy="60.6" r="2.0"/><circle cx="240.8" cy="68.1" r="2.0"/><circle cx="237.5" cy="77.4" r="2.0"/><circle cx="243.9" cy="85.0" r="2.0"/><circle cx="240.6" cy="94.3" r="2.0"/><circle cx="247.0" cy="101.8" r="2.0"/><circle cx="250.5" cy="66.3" r="2.0"/><circle cx="253.6" cy="83.1" r="2.0"/><circle cx="260.1" cy="90.7" r="2.0"/><circle cx="256.8" cy="100.0" r="2.0"/><circle cx="272.9" cy="105.7" r="2.0"/></g>
<line x1="288.3" y1="46.5" x2="412" y2="46.5" stroke="#d08080" stroke-width="1"/>
<g fill="#f7e0e0" stroke="#c05c5c" stroke-width="0.9"><circle cx="288.3" cy="46.5" r="1.65"/><circle cx="297.2" cy="46.5" r="1.65"/><circle cx="300.4" cy="46.5" r="1.65"/><circle cx="307.4" cy="46.5" r="1.65"/><circle cx="310.3" cy="46.5" r="1.65"/><circle cx="313.2" cy="46.5" r="1.65"/><circle cx="316.1" cy="46.5" r="1.65"/><circle cx="319.0" cy="46.5" r="1.65"/><circle cx="321.9" cy="46.5" r="1.65"/><circle cx="324.8" cy="46.5" r="1.65"/><circle cx="327.7" cy="46.5" r="1.65"/><circle cx="330.6" cy="46.5" r="1.65"/><circle cx="333.5" cy="46.5" r="1.65"/><circle cx="336.4" cy="46.5" r="1.65"/><circle cx="339.3" cy="46.5" r="1.65"/><circle cx="342.2" cy="46.5" r="1.65"/><circle cx="345.1" cy="46.5" r="1.65"/><circle cx="348.0" cy="46.5" r="1.65"/><circle cx="350.9" cy="46.5" r="1.65"/><circle cx="353.8" cy="46.5" r="1.65"/><circle cx="356.7" cy="46.5" r="1.65"/><circle cx="359.6" cy="46.5" r="1.65"/><circle cx="362.5" cy="46.5" r="1.65"/><circle cx="365.4" cy="46.5" r="1.65"/><circle cx="368.3" cy="46.5" r="1.65"/><circle cx="371.2" cy="46.5" r="1.65"/><circle cx="374.1" cy="46.5" r="1.65"/><circle cx="377.0" cy="46.5" r="1.65"/><circle cx="379.9" cy="46.5" r="1.65"/><circle cx="382.8" cy="46.5" r="1.65"/><circle cx="385.7" cy="46.5" r="1.65"/><circle cx="388.6" cy="46.5" r="1.65"/><circle cx="391.5" cy="46.5" r="1.65"/><circle cx="394.4" cy="46.5" r="1.65"/><circle cx="397.3" cy="46.5" r="1.65"/><circle cx="400.2" cy="46.5" r="1.65"/><circle cx="403.1" cy="46.5" r="1.65"/><circle cx="406.0" cy="46.5" r="1.65"/><circle cx="408.9" cy="46.5" r="1.65"/><circle cx="424" cy="46.7" r="1.7"/></g>
<text x="426.80" y="49.90" font-size="9.9" font-weight="normal" text-anchor="start" fill="#000" style="" >C</text>
<line x1="295.9" y1="75" x2="295.9" y2="62.8" stroke="#2fcf2f" stroke-width="1.6"/><line x1="295.9" y1="75" x2="295.9" y2="69" stroke="#2a80e0" stroke-width="1.6"/><line x1="318.5" y1="75" x2="318.5" y2="62.8" stroke="#2fcf2f" stroke-width="1.6"/><line x1="318.5" y1="75" x2="318.5" y2="69" stroke="#2a80e0" stroke-width="1.6"/><line x1="341.1" y1="75" x2="341.1" y2="62.8" stroke="#2fcf2f" stroke-width="1.6"/><line x1="341.1" y1="75" x2="341.1" y2="69" stroke="#2a80e0" stroke-width="1.6"/><line x1="363.7" y1="75" x2="363.7" y2="62.8" stroke="#2fcf2f" stroke-width="1.6"/><line x1="363.7" y1="75" x2="363.7" y2="69" stroke="#2a80e0" stroke-width="1.6"/><line x1="386.3" y1="75" x2="386.3" y2="62.8" stroke="#2fcf2f" stroke-width="1.6"/><line x1="386.3" y1="75" x2="386.3" y2="69" stroke="#2a80e0" stroke-width="1.6"/><line x1="408.9" y1="75" x2="408.9" y2="62.8" stroke="#2fcf2f" stroke-width="1.6"/><line x1="408.9" y1="75" x2="408.9" y2="69" stroke="#2a80e0" stroke-width="1.6"/><line x1="303.5" y1="80.8" x2="303.5" y2="92.6" stroke="#2fcf2f" stroke-width="1.6"/><line x1="303.5" y1="80.8" x2="303.5" y2="86.5" stroke="#2a80e0" stroke-width="1.6"/><line x1="326.1" y1="80.8" x2="326.1" y2="92.6" stroke="#2fcf2f" stroke-width="1.6"/><line x1="326.1" y1="80.8" x2="326.1" y2="86.5" stroke="#2a80e0" stroke-width="1.6"/><line x1="348.7" y1="80.8" x2="348.7" y2="92.6" stroke="#2fcf2f" stroke-width="1.6"/><line x1="348.7" y1="80.8" x2="348.7" y2="86.5" stroke="#2a80e0" stroke-width="1.6"/><line x1="371.3" y1="80.8" x2="371.3" y2="92.6" stroke="#2fcf2f" stroke-width="1.6"/><line x1="371.3" y1="80.8" x2="371.3" y2="86.5" stroke="#2a80e0" stroke-width="1.6"/><line x1="393.9" y1="80.8" x2="393.9" y2="92.6" stroke="#2fcf2f" stroke-width="1.6"/><line x1="393.9" y1="80.8" x2="393.9" y2="86.5" stroke="#2a80e0" stroke-width="1.6"/><line x1="416.5" y1="80.8" x2="416.5" y2="92.6" stroke="#2fcf2f" stroke-width="1.6"/><line x1="416.5" y1="80.8" x2="416.5" y2="86.5" stroke="#2a80e0" stroke-width="1.6"/>
<polyline points="295.9,75.0 303.5,80.8 318.5,75.0 326.1,80.8 341.1,75.0 348.7,80.8 363.7,75.0 371.3,80.8 386.3,75.0 393.9,80.8 408.9,75.0 416.5,80.8" fill="none" stroke="#1f70d8" stroke-width="1.7"/>
<g><circle cx="295.9" cy="75.0" r="3.2" fill="url(#gBlue2)"/><circle cx="303.5" cy="80.8" r="3.2" fill="url(#gBlue2)"/><circle cx="318.5" cy="75.0" r="3.2" fill="url(#gBlue2)"/><circle cx="326.1" cy="80.8" r="3.2" fill="url(#gBlue2)"/><circle cx="341.1" cy="75.0" r="3.2" fill="url(#gBlue2)"/><circle cx="348.7" cy="80.8" r="3.2" fill="url(#gBlue2)"/><circle cx="363.7" cy="75.0" r="3.2" fill="url(#gBlue2)"/><circle cx="371.3" cy="80.8" r="3.2" fill="url(#gBlue2)"/><circle cx="386.3" cy="75.0" r="3.2" fill="url(#gBlue2)"/><circle cx="393.9" cy="80.8" r="3.2" fill="url(#gBlue2)"/><circle cx="408.9" cy="75.0" r="3.2" fill="url(#gBlue2)"/><circle cx="416.5" cy="80.8" r="3.2" fill="url(#gBlue2)"/></g>
<g stroke="#e06060" stroke-width="0.7" stroke-dasharray="1 1"><line x1="319.5" y1="64.3" x2="340" y2="64.3"/><line x1="411" y1="64.3" x2="426" y2="64.3"/><line x1="411" y1="75" x2="426" y2="75"/><line x1="284" y1="75" x2="294" y2="75"/><line x1="284" y1="80.8" x2="301" y2="80.8"/></g>
<line x1="330" y1="49.5" x2="330" y2="63" stroke="#e02020" stroke-width="1"/><polygon points="330,48.3 328.4,51.5 331.6,51.5" fill="#e02020"/><polygon points="330,64.3 328.4,61.1 331.6,61.1" fill="#e02020"/>
<text x="331.50" y="58.30" font-size="8.5" font-weight="normal" text-anchor="start" fill="#000" style="font-style:italic" >d</text>
<text x="336.30" y="60.30" font-size="5.2" font-weight="normal" text-anchor="start" fill="#000" style="font-style:italic" >w</text>
<text x="426.50" y="67.60" font-size="9.8" font-weight="normal" text-anchor="start" fill="#000" style="" >H</text>
<text x="426.50" y="77.80" font-size="9.8" font-weight="normal" text-anchor="start" fill="#000" style="" >Si</text>
<text x="290.60" y="66.30" font-size="4.6" font-weight="normal" text-anchor="start" fill="#333" style="" >H</text>
<line x1="285" y1="71.5" x2="285" y2="84" stroke="#444" stroke-width="0.7"/><polygon points="285,74.8 283.8,72.6 286.2,72.6" fill="#444"/><polygon points="285,81 283.8,83.2 286.2,83.2" fill="#444"/>
<text x="282.20" y="79.50" font-size="5" font-weight="normal" text-anchor="start" fill="#333" style="" >δ</text>
<polygon points="24.5,388.5 84,354.0 143.5,388.5 84,423.0" fill="none" stroke="#c4c4c4" stroke-width="0.6" stroke-dasharray="1 1.2"/>
<g stroke="#9a9a9a" stroke-width="2.4" stroke-linecap="round"><line x1="35.4" y1="382.9" x2="38.9" y2="388.9"/><line x1="38.9" y1="388.9" x2="45.9" y2="388.9"/><line x1="45.9" y1="376.8" x2="49.4" y2="382.9"/><line x1="49.4" y1="382.9" x2="45.9" y2="388.9"/><line x1="49.4" y1="382.9" x2="56.4" y2="382.9"/><line x1="45.9" y1="388.9" x2="49.4" y2="394.9"/><line x1="49.4" y1="394.9" x2="56.4" y2="394.9"/><line x1="56.4" y1="370.8" x2="59.9" y2="376.8"/><line x1="59.9" y1="376.8" x2="56.4" y2="382.9"/><line x1="59.9" y1="376.8" x2="66.8" y2="376.8"/><line x1="56.4" y1="382.9" x2="59.9" y2="388.9"/><line x1="59.9" y1="388.9" x2="56.4" y2="394.9"/><line x1="59.9" y1="388.9" x2="66.8" y2="388.9"/><line x1="56.4" y1="394.9" x2="59.9" y2="401.0"/><line x1="59.9" y1="401.0" x2="66.8" y2="401.0"/><line x1="66.8" y1="364.7" x2="70.3" y2="370.8"/><line x1="70.3" y1="370.8" x2="66.8" y2="376.8"/><line x1="70.3" y1="370.8" x2="77.3" y2="370.8"/><line x1="66.8" y1="376.8" x2="70.3" y2="382.9"/><line x1="70.3" y1="382.9" x2="66.8" y2="388.9"/><line x1="70.3" y1="382.9" x2="77.3" y2="382.9"/><line x1="66.8" y1="388.9" x2="70.3" y2="394.9"/><line x1="70.3" y1="394.9" x2="66.8" y2="401.0"/><line x1="70.3" y1="394.9" x2="77.3" y2="394.9"/><line x1="66.8" y1="401.0" x2="70.3" y2="407.0"/><line x1="70.3" y1="407.0" x2="77.3" y2="407.0"/><line x1="77.3" y1="358.7" x2="80.8" y2="364.7"/><line x1="80.8" y1="364.7" x2="77.3" y2="370.8"/><line x1="80.8" y1="364.7" x2="87.8" y2="364.7"/><line x1="77.3" y1="370.8" x2="80.8" y2="376.8"/><line x1="80.8" y1="376.8" x2="77.3" y2="382.9"/><line x1="80.8" y1="376.8" x2="87.8" y2="376.8"/><line x1="77.3" y1="382.9" x2="80.8" y2="388.9"/><line x1="80.8" y1="388.9" x2="77.3" y2="394.9"/><line x1="80.8" y1="388.9" x2="87.8" y2="388.9"/><line x1="77.3" y1="394.9" x2="80.8" y2="401.0"/><line x1="80.8" y1="401.0" x2="77.3" y2="407.0"/><line x1="80.8" y1="401.0" x2="87.8" y2="401.0"/><line x1="77.3" y1="407.0" x2="80.8" y2="413.1"/><line x1="80.8" y1="413.1" x2="87.8" y2="413.1"/><line x1="87.8" y1="364.7" x2="91.3" y2="370.8"/><line x1="91.3" y1="370.8" x2="87.8" y2="376.8"/><line x1="91.3" y1="370.8" x2="98.3" y2="370.8"/><line x1="87.8" y1="376.8" x2="91.3" y2="382.9"/><line x1="91.3" y1="382.9" x2="87.8" y2="388.9"/><line x1="91.3" y1="382.9" x2="98.3" y2="382.9"/><line x1="87.8" y1="388.9" x2="91.3" y2="394.9"/><line x1="91.3" y1="394.9" x2="87.8" y2="401.0"/><line x1="91.3" y1="394.9" x2="98.3" y2="394.9"/><line x1="87.8" y1="401.0" x2="91.3" y2="407.0"/><line x1="91.3" y1="407.0" x2="87.8" y2="413.1"/><line x1="91.3" y1="407.0" x2="98.3" y2="407.0"/><line x1="98.3" y1="370.8" x2="101.8" y2="376.8"/><line x1="101.8" y1="376.8" x2="98.3" y2="382.9"/><line x1="101.8" y1="376.8" x2="108.7" y2="376.8"/><line x1="98.3" y1="382.9" x2="101.8" y2="388.9"/><line x1="101.8" y1="388.9" x2="98.3" y2="394.9"/><line x1="101.8" y1="388.9" x2="108.7" y2="388.9"/><line x1="98.3" y1="394.9" x2="101.8" y2="401.0"/><line x1="101.8" y1="401.0" x2="98.3" y2="407.0"/><line x1="101.8" y1="401.0" x2="108.7" y2="401.0"/><line x1="108.7" y1="376.8" x2="112.2" y2="382.9"/><line x1="112.2" y1="382.9" x2="108.7" y2="388.9"/><line x1="112.2" y1="382.9" x2="119.2" y2="382.9"/><line x1="108.7" y1="388.9" x2="112.2" y2="394.9"/><line x1="112.2" y1="394.9" x2="108.7" y2="401.0"/><line x1="112.2" y1="394.9" x2="119.2" y2="394.9"/><line x1="119.2" y1="382.9" x2="122.7" y2="388.9"/><line x1="122.7" y1="388.9" x2="119.2" y2="394.9"/><line x1="122.7" y1="388.9" x2="129.7" y2="388.9"/></g>
<g stroke="#1b5bd0" stroke-width="3.6" stroke-linecap="round"><line x1="35.5" y1="388.4" x2="50.5" y2="388.6"/><line x1="132.5" y1="388.4" x2="117.5" y2="388.6"/><line x1="50.5" y1="388.6" x2="59.5" y2="380.5"/><line x1="117.5" y1="388.6" x2="108.5" y2="380.5"/><line x1="50.5" y1="388.6" x2="59.5" y2="397.5"/><line x1="117.5" y1="388.6" x2="108.5" y2="397.5"/><line x1="59.5" y1="380.5" x2="70.5" y2="377.0"/><line x1="108.5" y1="380.5" x2="97.5" y2="377.0"/><line x1="59.5" y1="397.5" x2="70.5" y2="400.5"/><line x1="108.5" y1="397.5" x2="97.5" y2="400.5"/><line x1="70.5" y1="377.0" x2="75.5" y2="361.2"/><line x1="97.5" y1="377.0" x2="92.5" y2="361.2"/><line x1="70.5" y1="400.5" x2="75.5" y2="416.0"/><line x1="97.5" y1="400.5" x2="92.5" y2="416.0"/><line x1="70.5" y1="377.0" x2="74.5" y2="389.0"/><line x1="97.5" y1="377.0" x2="93.5" y2="389.0"/><line x1="70.5" y1="400.5" x2="74.5" y2="389.0"/><line x1="97.5" y1="400.5" x2="93.5" y2="389.0"/><line x1="78.5" y1="364.7" x2="89.5" y2="364.7"/><line x1="78.5" y1="412.5" x2="89.5" y2="412.5"/><line x1="35.5" y1="388.4" x2="32.5" y2="383.4"/><line x1="35.5" y1="388.4" x2="32.5" y2="393.4"/><line x1="132.5" y1="388.4" x2="135.5" y2="383.4"/><line x1="132.5" y1="388.4" x2="135.5" y2="393.4"/></g>
<g><circle cx="35.5" cy="388.4" r="3.4" fill="url(#gSb)"/><circle cx="50.5" cy="388.6" r="3.4" fill="url(#gSb)"/><circle cx="59.5" cy="380.5" r="3.4" fill="url(#gSb)"/><circle cx="59.5" cy="397.5" r="3.4" fill="url(#gSb)"/><circle cx="70.5" cy="377.0" r="3.4" fill="url(#gSb)"/><circle cx="70.5" cy="400.5" r="3.4" fill="url(#gSb)"/><circle cx="75.5" cy="361.2" r="3.4" fill="url(#gSb)"/><circle cx="75.5" cy="416.0" r="3.4" fill="url(#gSb)"/><circle cx="74.5" cy="389.0" r="3.4" fill="url(#gSb)"/><circle cx="132.5" cy="388.4" r="3.4" fill="url(#gSb)"/><circle cx="117.5" cy="388.6" r="3.4" fill="url(#gSb)"/><circle cx="108.5" cy="380.5" r="3.4" fill="url(#gSb)"/><circle cx="108.5" cy="397.5" r="3.4" fill="url(#gSb)"/><circle cx="97.5" cy="377.0" r="3.4" fill="url(#gSb)"/><circle cx="97.5" cy="400.5" r="3.4" fill="url(#gSb)"/><circle cx="92.5" cy="361.2" r="3.4" fill="url(#gSb)"/><circle cx="92.5" cy="416.0" r="3.4" fill="url(#gSb)"/><circle cx="93.5" cy="389.0" r="3.4" fill="url(#gSb)"/></g>
<g stroke="#7e7e7e" stroke-width="2.8" stroke-linecap="round"><line x1="32.8" y1="388.9" x2="40.7" y2="388.9"/><line x1="44.6" y1="382.0" x2="40.7" y2="388.9"/><line x1="44.6" y1="382.0" x2="52.6" y2="382.0"/><line x1="40.7" y1="388.9" x2="44.6" y2="395.7"/><line x1="44.6" y1="395.7" x2="52.6" y2="395.7"/><line x1="56.5" y1="375.1" x2="52.6" y2="382.0"/><line x1="56.5" y1="375.1" x2="64.5" y2="375.1"/><line x1="52.6" y1="382.0" x2="56.5" y2="388.9"/><line x1="56.5" y1="388.9" x2="52.6" y2="395.7"/><line x1="56.5" y1="388.9" x2="64.5" y2="388.9"/><line x1="52.6" y1="395.7" x2="56.5" y2="402.6"/><line x1="56.5" y1="402.6" x2="64.5" y2="402.6"/><line x1="68.4" y1="368.3" x2="64.5" y2="375.1"/><line x1="68.4" y1="368.3" x2="76.4" y2="368.3"/><line x1="64.5" y1="375.1" x2="68.4" y2="382.0"/><line x1="68.4" y1="382.0" x2="64.5" y2="388.9"/><line x1="68.4" y1="382.0" x2="76.4" y2="382.0"/><line x1="64.5" y1="388.9" x2="68.4" y2="395.7"/><line x1="68.4" y1="395.7" x2="64.5" y2="402.6"/><line x1="68.4" y1="395.7" x2="76.4" y2="395.7"/><line x1="64.5" y1="402.6" x2="68.4" y2="409.5"/><line x1="68.4" y1="409.5" x2="76.4" y2="409.5"/><line x1="80.3" y1="361.4" x2="76.4" y2="368.3"/><line x1="80.3" y1="361.4" x2="88.3" y2="361.4"/><line x1="76.4" y1="368.3" x2="80.3" y2="375.1"/><line x1="80.3" y1="375.1" x2="76.4" y2="382.0"/><line x1="80.3" y1="375.1" x2="88.3" y2="375.1"/><line x1="76.4" y1="382.0" x2="80.3" y2="388.9"/><line x1="80.3" y1="388.9" x2="76.4" y2="395.7"/><line x1="80.3" y1="388.9" x2="88.3" y2="388.9"/><line x1="76.4" y1="395.7" x2="80.3" y2="402.6"/><line x1="80.3" y1="402.6" x2="76.4" y2="409.5"/><line x1="80.3" y1="402.6" x2="88.3" y2="402.6"/><line x1="76.4" y1="409.5" x2="80.3" y2="416.3"/><line x1="80.3" y1="416.3" x2="88.3" y2="416.3"/><line x1="88.3" y1="361.4" x2="92.2" y2="368.3"/><line x1="92.2" y1="368.3" x2="88.3" y2="375.1"/><line x1="92.2" y1="368.3" x2="100.2" y2="368.3"/><line x1="88.3" y1="375.1" x2="92.2" y2="382.0"/><line x1="92.2" y1="382.0" x2="88.3" y2="388.9"/><line x1="92.2" y1="382.0" x2="100.2" y2="382.0"/><line x1="88.3" y1="388.9" x2="92.2" y2="395.7"/><line x1="92.2" y1="395.7" x2="88.3" y2="402.6"/><line x1="92.2" y1="395.7" x2="100.2" y2="395.7"/><line x1="88.3" y1="402.6" x2="92.2" y2="409.5"/><line x1="92.2" y1="409.5" x2="88.3" y2="416.3"/><line x1="92.2" y1="409.5" x2="100.2" y2="409.5"/><line x1="100.2" y1="368.3" x2="104.1" y2="375.1"/><line x1="104.1" y1="375.1" x2="100.2" y2="382.0"/><line x1="104.1" y1="375.1" x2="112.1" y2="375.1"/><line x1="100.2" y1="382.0" x2="104.1" y2="388.9"/><line x1="104.1" y1="388.9" x2="100.2" y2="395.7"/><line x1="104.1" y1="388.9" x2="112.1" y2="388.9"/><line x1="100.2" y1="395.7" x2="104.1" y2="402.6"/><line x1="104.1" y1="402.6" x2="100.2" y2="409.5"/><line x1="104.1" y1="402.6" x2="112.1" y2="402.6"/><line x1="112.1" y1="375.1" x2="116.0" y2="382.0"/><line x1="116.0" y1="382.0" x2="112.1" y2="388.9"/><line x1="116.0" y1="382.0" x2="124.0" y2="382.0"/><line x1="112.1" y1="388.9" x2="116.0" y2="395.7"/><line x1="116.0" y1="395.7" x2="112.1" y2="402.6"/><line x1="116.0" y1="395.7" x2="124.0" y2="395.7"/><line x1="124.0" y1="382.0" x2="127.9" y2="388.9"/><line x1="127.9" y1="388.9" x2="124.0" y2="395.7"/><line x1="127.9" y1="388.9" x2="135.8" y2="388.9"/></g>
<g><circle cx="32.8" cy="388.9" r="2.1" fill="url(#gGray)"/><circle cx="44.6" cy="382.0" r="2.1" fill="url(#gGray)"/><circle cx="40.7" cy="388.9" r="2.1" fill="url(#gGray)"/><circle cx="44.6" cy="395.7" r="2.1" fill="url(#gGray)"/><circle cx="56.5" cy="375.1" r="2.1" fill="url(#gGray)"/><circle cx="52.6" cy="382.0" r="2.1" fill="url(#gGray)"/><circle cx="56.5" cy="388.9" r="2.1" fill="url(#gGray)"/><circle cx="52.6" cy="395.7" r="2.1" fill="url(#gGray)"/><circle cx="56.5" cy="402.6" r="2.1" fill="url(#gGray)"/><circle cx="68.4" cy="368.3" r="2.1" fill="url(#gGray)"/><circle cx="64.5" cy="375.1" r="2.1" fill="url(#gGray)"/><circle cx="68.4" cy="382.0" r="2.1" fill="url(#gGray)"/><circle cx="64.5" cy="388.9" r="2.1" fill="url(#gGray)"/><circle cx="68.4" cy="395.7" r="2.1" fill="url(#gGray)"/><circle cx="64.5" cy="402.6" r="2.1" fill="url(#gGray)"/><circle cx="68.4" cy="409.5" r="2.1" fill="url(#gGray)"/><circle cx="80.3" cy="361.4" r="2.1" fill="url(#gGray)"/><circle cx="76.4" cy="368.3" r="2.1" fill="url(#gGray)"/><circle cx="80.3" cy="375.1" r="2.1" fill="url(#gGray)"/><circle cx="76.4" cy="382.0" r="2.1" fill="url(#gGray)"/><circle cx="80.3" cy="388.9" r="2.1" fill="url(#gGray)"/><circle cx="76.4" cy="395.7" r="2.1" fill="url(#gGray)"/><circle cx="80.3" cy="402.6" r="2.1" fill="url(#gGray)"/><circle cx="76.4" cy="409.5" r="2.1" fill="url(#gGray)"/><circle cx="80.3" cy="416.3" r="2.1" fill="url(#gGray)"/><circle cx="88.3" cy="361.4" r="2.1" fill="url(#gGray)"/><circle cx="92.2" cy="368.3" r="2.1" fill="url(#gGray)"/><circle cx="88.3" cy="375.1" r="2.1" fill="url(#gGray)"/><circle cx="92.2" cy="382.0" r="2.1" fill="url(#gGray)"/><circle cx="88.3" cy="388.9" r="2.1" fill="url(#gGray)"/><circle cx="92.2" cy="395.7" r="2.1" fill="url(#gGray)"/><circle cx="88.3" cy="402.6" r="2.1" fill="url(#gGray)"/><circle cx="92.2" cy="409.5" r="2.1" fill="url(#gGray)"/><circle cx="88.3" cy="416.3" r="2.1" fill="url(#gGray)"/><circle cx="100.2" cy="368.3" r="2.1" fill="url(#gGray)"/><circle cx="104.1" cy="375.1" r="2.1" fill="url(#gGray)"/><circle cx="100.2" cy="382.0" r="2.1" fill="url(#gGray)"/><circle cx="104.1" cy="388.9" r="2.1" fill="url(#gGray)"/><circle cx="100.2" cy="395.7" r="2.1" fill="url(#gGray)"/><circle cx="104.1" cy="402.6" r="2.1" fill="url(#gGray)"/><circle cx="100.2" cy="409.5" r="2.1" fill="url(#gGray)"/><circle cx="112.1" cy="375.1" r="2.1" fill="url(#gGray)"/><circle cx="116.0" cy="382.0" r="2.1" fill="url(#gGray)"/><circle cx="112.1" cy="388.9" r="2.1" fill="url(#gGray)"/><circle cx="116.0" cy="395.7" r="2.1" fill="url(#gGray)"/><circle cx="112.1" cy="402.6" r="2.1" fill="url(#gGray)"/><circle cx="124.0" cy="382.0" r="2.1" fill="url(#gGray)"/><circle cx="127.9" cy="388.9" r="2.1" fill="url(#gGray)"/><circle cx="124.0" cy="395.7" r="2.1" fill="url(#gGray)"/><circle cx="135.8" cy="388.9" r="2.1" fill="url(#gGray)"/></g>
<text x="83.50" y="433.20" font-size="7.7" font-weight="bold" text-anchor="middle" fill="#000" style="" >Top view</text>
<line x1="128" y1="418" x2="134" y2="422.5" stroke="#2fbf2f" stroke-width="1.2"/><line x1="134" y1="422.5" x2="141" y2="418.5" stroke="#e02020" stroke-width="1.2"/><circle cx="134" cy="422.6" r="1" fill="#2a2ad0"/>
<text x="121.50" y="420.30" font-size="6.5" font-weight="normal" text-anchor="start" fill="#000" style="font-style:italic" >b</text>
<text x="141.50" y="418.60" font-size="6.5" font-weight="normal" text-anchor="start" fill="#000" style="font-style:italic" >a</text>
<line x1="166.7" y1="374.8" x2="257.3" y2="374.8" stroke="#777" stroke-width="0.8"/>
<g fill="#b8b8b8" stroke="#6a6a6a" stroke-width="0.8"><circle cx="166.7" cy="374.8" r="1.8"/><circle cx="174.7" cy="374.8" r="1.8"/><circle cx="177.7" cy="374.8" r="1.8"/><circle cx="184.8" cy="374.8" r="1.8"/><circle cx="187.8" cy="374.8" r="1.8"/><circle cx="194.9" cy="374.8" r="1.8"/><circle cx="197.9" cy="374.8" r="1.8"/><circle cx="204.9" cy="374.8" r="1.8"/><circle cx="207.9" cy="374.8" r="1.8"/><circle cx="215.0" cy="374.8" r="1.8"/><circle cx="218.0" cy="374.8" r="1.8"/><circle cx="225.1" cy="374.8" r="1.8"/><circle cx="228.1" cy="374.8" r="1.8"/><circle cx="235.2" cy="374.8" r="1.8"/><circle cx="238.2" cy="374.8" r="1.8"/><circle cx="245.3" cy="374.8" r="1.8"/><circle cx="248.3" cy="374.8" r="1.8"/><circle cx="257.3" cy="374.8" r="1.8"/></g>
<line x1="166.7" y1="418.6" x2="257.3" y2="418.6" stroke="#777" stroke-width="0.8"/>
<g fill="#b8b8b8" stroke="#6a6a6a" stroke-width="0.8"><circle cx="166.7" cy="418.6" r="1.8"/><circle cx="174.7" cy="418.6" r="1.8"/><circle cx="177.7" cy="418.6" r="1.8"/><circle cx="184.8" cy="418.6" r="1.8"/><circle cx="187.8" cy="418.6" r="1.8"/><circle cx="194.9" cy="418.6" r="1.8"/><circle cx="197.9" cy="418.6" r="1.8"/><circle cx="204.9" cy="418.6" r="1.8"/><circle cx="207.9" cy="418.6" r="1.8"/><circle cx="215.0" cy="418.6" r="1.8"/><circle cx="218.0" cy="418.6" r="1.8"/><circle cx="225.1" cy="418.6" r="1.8"/><circle cx="228.1" cy="418.6" r="1.8"/><circle cx="235.2" cy="418.6" r="1.8"/><circle cx="238.2" cy="418.6" r="1.8"/><circle cx="245.3" cy="418.6" r="1.8"/><circle cx="248.3" cy="418.6" r="1.8"/><circle cx="257.3" cy="418.6" r="1.8"/></g>
<polyline points="169.8,397.7 176.4,400.2 184.0,392.9 190.5,401.2 201.2,392.9 207.7,401.2 218.4,392.9 224.9,401.2 235.6,392.9 242.1,401.2 252.8,392.9 256.0,395.5" fill="none" stroke="#1a5ccc" stroke-width="3.2" stroke-linejoin="round"/>
<g><circle cx="169.8" cy="397.7" r="2.7" fill="url(#gSb)"/><circle cx="176.4" cy="400.2" r="2.7" fill="url(#gSb)"/><circle cx="184.0" cy="392.9" r="2.7" fill="url(#gSb)"/><circle cx="190.5" cy="401.2" r="2.7" fill="url(#gSb)"/><circle cx="201.2" cy="392.9" r="2.7" fill="url(#gSb)"/><circle cx="207.7" cy="401.2" r="2.7" fill="url(#gSb)"/><circle cx="218.4" cy="392.9" r="2.7" fill="url(#gSb)"/><circle cx="224.9" cy="401.2" r="2.7" fill="url(#gSb)"/><circle cx="235.6" cy="392.9" r="2.7" fill="url(#gSb)"/><circle cx="242.1" cy="401.2" r="2.7" fill="url(#gSb)"/><circle cx="252.8" cy="392.9" r="2.7" fill="url(#gSb)"/><circle cx="256.0" cy="395.5" r="2.7" fill="url(#gSb)"/></g>
<g stroke="#555" stroke-width="0.7" fill="none"><polyline points="257.5,374.8 267,374.8 267,393.4 258,393.4"/></g>
<text x="244.80" y="386.80" font-size="6.6" font-weight="bold" text-anchor="start" fill="#000" style="" >3.80 Å</text>
<text x="211.30" y="428.30" font-size="6.5" font-weight="bold" text-anchor="middle" fill="#000" style="" >Side view</text>
<line x1="268" y1="425" x2="268" y2="415.5" stroke="#2a2ad0" stroke-width="1.1"/><polygon points="268,413.8 266.8,416.3 269.2,416.3" fill="#2a2ad0"/><line x1="262" y1="425" x2="268" y2="425" stroke="#2fbf2f" stroke-width="1.1"/><line x1="268" y1="425" x2="274.5" y2="425" stroke="#e02020" stroke-width="1.1"/><polygon points="276,425 273.6,423.8 273.6,426.2" fill="#e02020"/>
<text x="266.30" y="413.20" font-size="5.5" font-weight="normal" text-anchor="start" fill="#000" style="font-style:italic" >c</text>
<text x="257.30" y="427.20" font-size="5.5" font-weight="normal" text-anchor="start" fill="#000" style="font-style:italic" >b</text>
<text x="276.50" y="427.20" font-size="5.5" font-weight="normal" text-anchor="start" fill="#000" style="font-style:italic" >a</text>
<g stroke-width="1.5"><line x1="352.0" y1="359.6" x2="358.7" y2="363.6" stroke="#e02828"/><line x1="358.7" y1="363.6" x2="365.4" y2="367.7" stroke="#3a8fdc"/><line x1="371.9" y1="359.6" x2="368.6" y2="363.6" stroke="#e02828"/><line x1="368.6" y1="363.6" x2="365.4" y2="367.7" stroke="#3a8fdc"/><line x1="365.4" y1="367.7" x2="362.1" y2="372.6" stroke="#3a8fdc"/><line x1="362.1" y1="372.6" x2="358.8" y2="377.5" stroke="#e02828"/><line x1="365.4" y1="367.7" x2="372.0" y2="372.6" stroke="#3a8fdc"/><line x1="372.0" y1="372.6" x2="378.7" y2="377.5" stroke="#e02828"/><line x1="358.8" y1="377.5" x2="358.6" y2="384.4" stroke="#e02828"/><line x1="358.6" y1="384.4" x2="358.4" y2="391.3" stroke="#3a8fdc"/><line x1="358.4" y1="391.3" x2="354.9" y2="395.3" stroke="#3a8fdc"/><line x1="354.9" y1="395.3" x2="351.5" y2="399.3" stroke="#e02828"/><line x1="358.4" y1="391.3" x2="365.1" y2="395.3" stroke="#3a8fdc"/><line x1="365.1" y1="395.3" x2="371.9" y2="399.3" stroke="#e02828"/><line x1="371.9" y1="359.6" x2="378.4" y2="363.6" stroke="#e02828"/><line x1="378.4" y1="363.6" x2="385.0" y2="367.7" stroke="#3a8fdc"/><line x1="391.8" y1="359.6" x2="388.4" y2="363.6" stroke="#e02828"/><line x1="388.4" y1="363.6" x2="385.0" y2="367.7" stroke="#3a8fdc"/><line x1="385.0" y1="367.7" x2="381.9" y2="372.6" stroke="#3a8fdc"/><line x1="381.9" y1="372.6" x2="378.7" y2="377.5" stroke="#e02828"/><line x1="385.0" y1="367.7" x2="391.9" y2="372.6" stroke="#3a8fdc"/><line x1="391.9" y1="372.6" x2="398.8" y2="377.5" stroke="#e02828"/><line x1="378.7" y1="377.5" x2="378.4" y2="384.4" stroke="#e02828"/><line x1="378.4" y1="384.4" x2="378.2" y2="391.3" stroke="#3a8fdc"/><line x1="378.2" y1="391.3" x2="375.0" y2="395.3" stroke="#3a8fdc"/><line x1="375.0" y1="395.3" x2="371.9" y2="399.3" stroke="#e02828"/><line x1="378.2" y1="391.3" x2="384.9" y2="395.3" stroke="#3a8fdc"/><line x1="384.9" y1="395.3" x2="391.5" y2="399.3" stroke="#e02828"/><line x1="391.8" y1="359.6" x2="398.4" y2="363.6" stroke="#e02828"/><line x1="398.4" y1="363.6" x2="404.9" y2="367.7" stroke="#3a8fdc"/><line x1="411.9" y1="359.6" x2="408.4" y2="363.6" stroke="#e02828"/><line x1="408.4" y1="363.6" x2="404.9" y2="367.7" stroke="#3a8fdc"/><line x1="404.9" y1="367.7" x2="401.9" y2="372.6" stroke="#3a8fdc"/><line x1="401.9" y1="372.6" x2="398.8" y2="377.5" stroke="#e02828"/><line x1="404.9" y1="367.7" x2="411.7" y2="372.6" stroke="#3a8fdc"/><line x1="411.7" y1="372.6" x2="418.5" y2="377.5" stroke="#e02828"/><line x1="398.8" y1="377.5" x2="398.6" y2="384.4" stroke="#e02828"/><line x1="398.6" y1="384.4" x2="398.5" y2="391.3" stroke="#3a8fdc"/><line x1="398.5" y1="391.3" x2="395.0" y2="395.3" stroke="#3a8fdc"/><line x1="395.0" y1="395.3" x2="391.5" y2="399.3" stroke="#e02828"/><line x1="398.5" y1="391.3" x2="405.1" y2="395.3" stroke="#3a8fdc"/><line x1="405.1" y1="395.3" x2="411.6" y2="399.3" stroke="#e02828"/></g>
<circle cx="352.0" cy="359.6" r="2.3" fill="url(#gRed)"/><circle cx="371.9" cy="359.6" r="2.3" fill="url(#gRed)"/><circle cx="391.8" cy="359.6" r="2.3" fill="url(#gRed)"/><circle cx="411.9" cy="359.6" r="2.3" fill="url(#gRed)"/><circle cx="365.4" cy="367.7" r="3.5" fill="url(#gBlue)"/><circle cx="385.0" cy="367.7" r="3.5" fill="url(#gBlue)"/><circle cx="404.9" cy="367.7" r="3.5" fill="url(#gBlue)"/><circle cx="358.8" cy="377.5" r="2.3" fill="url(#gRed)"/><circle cx="378.7" cy="377.5" r="2.3" fill="url(#gRed)"/><circle cx="398.8" cy="377.5" r="2.3" fill="url(#gRed)"/><circle cx="418.5" cy="377.5" r="2.3" fill="url(#gRed)"/><circle cx="358.4" cy="391.3" r="3.5" fill="url(#gBlue)"/><circle cx="378.2" cy="391.3" r="3.5" fill="url(#gBlue)"/><circle cx="398.5" cy="391.3" r="3.5" fill="url(#gBlue)"/><circle cx="351.5" cy="399.3" r="2.3" fill="url(#gRed)"/><circle cx="371.9" cy="399.3" r="2.3" fill="url(#gRed)"/><circle cx="391.5" cy="399.3" r="2.3" fill="url(#gRed)"/><circle cx="411.6" cy="399.3" r="2.3" fill="url(#gRed)"/>
<g stroke-width="1.5"><line x1="434.5" y1="361.5" x2="437.9" y2="365.1" stroke="#e02828"/><line x1="437.9" y1="365.1" x2="441.4" y2="368.7" stroke="#3a8fdc"/><line x1="454.5" y1="361.5" x2="447.9" y2="365.1" stroke="#e02828"/><line x1="447.9" y1="365.1" x2="441.4" y2="368.7" stroke="#3a8fdc"/><line x1="441.4" y1="368.7" x2="441.4" y2="375.6" stroke="#3a8fdc"/><line x1="441.4" y1="375.6" x2="441.4" y2="382.5" stroke="#e02828"/><line x1="441.4" y1="382.5" x2="444.7" y2="387.2" stroke="#e02828"/><line x1="444.7" y1="387.2" x2="448.0" y2="392.0" stroke="#3a8fdc"/><line x1="435.0" y1="399.3" x2="441.5" y2="395.6" stroke="#e02828"/><line x1="441.5" y1="395.6" x2="448.0" y2="392.0" stroke="#3a8fdc"/><line x1="461.2" y1="382.5" x2="454.6" y2="387.2" stroke="#e02828"/><line x1="454.6" y1="387.2" x2="448.0" y2="392.0" stroke="#3a8fdc"/><line x1="448.0" y1="392.0" x2="451.2" y2="395.6" stroke="#3a8fdc"/><line x1="451.2" y1="395.6" x2="454.5" y2="399.3" stroke="#e02828"/><line x1="454.5" y1="361.5" x2="457.9" y2="365.1" stroke="#e02828"/><line x1="457.9" y1="365.1" x2="461.2" y2="368.7" stroke="#3a8fdc"/><line x1="474.3" y1="361.5" x2="467.8" y2="365.1" stroke="#e02828"/><line x1="467.8" y1="365.1" x2="461.2" y2="368.7" stroke="#3a8fdc"/><line x1="461.2" y1="368.7" x2="461.2" y2="375.6" stroke="#3a8fdc"/><line x1="461.2" y1="375.6" x2="461.2" y2="382.5" stroke="#e02828"/><line x1="461.2" y1="382.5" x2="464.4" y2="387.2" stroke="#e02828"/><line x1="464.4" y1="387.2" x2="467.6" y2="392.0" stroke="#3a8fdc"/><line x1="454.5" y1="399.3" x2="461.1" y2="395.6" stroke="#e02828"/><line x1="461.1" y1="395.6" x2="467.6" y2="392.0" stroke="#3a8fdc"/><line x1="480.7" y1="382.5" x2="474.1" y2="387.2" stroke="#e02828"/><line x1="474.1" y1="387.2" x2="467.6" y2="392.0" stroke="#3a8fdc"/><line x1="467.6" y1="392.0" x2="471.0" y2="395.6" stroke="#3a8fdc"/><line x1="471.0" y1="395.6" x2="474.3" y2="399.3" stroke="#e02828"/><line x1="474.3" y1="361.5" x2="477.5" y2="365.1" stroke="#e02828"/><line x1="477.5" y1="365.1" x2="480.7" y2="368.7" stroke="#3a8fdc"/><line x1="493.7" y1="361.5" x2="487.2" y2="365.1" stroke="#e02828"/><line x1="487.2" y1="365.1" x2="480.7" y2="368.7" stroke="#3a8fdc"/><line x1="480.7" y1="368.7" x2="480.7" y2="375.6" stroke="#3a8fdc"/><line x1="480.7" y1="375.6" x2="480.7" y2="382.5" stroke="#e02828"/><line x1="480.7" y1="382.5" x2="483.8" y2="387.2" stroke="#e02828"/><line x1="483.8" y1="387.2" x2="486.9" y2="392.0" stroke="#3a8fdc"/><line x1="474.3" y1="399.3" x2="480.6" y2="395.6" stroke="#e02828"/><line x1="480.6" y1="395.6" x2="486.9" y2="392.0" stroke="#3a8fdc"/></g>
<circle cx="434.5" cy="361.5" r="2.3" fill="url(#gRed)"/><circle cx="454.5" cy="361.5" r="2.3" fill="url(#gRed)"/><circle cx="474.3" cy="361.5" r="2.3" fill="url(#gRed)"/><circle cx="493.7" cy="361.5" r="2.3" fill="url(#gRed)"/><circle cx="441.4" cy="368.7" r="3.5" fill="url(#gBlue)"/><circle cx="461.2" cy="368.7" r="3.5" fill="url(#gBlue)"/><circle cx="480.7" cy="368.7" r="3.5" fill="url(#gBlue)"/><circle cx="441.4" cy="382.5" r="2.3" fill="url(#gRed)"/><circle cx="461.2" cy="382.5" r="2.3" fill="url(#gRed)"/><circle cx="480.7" cy="382.5" r="2.3" fill="url(#gRed)"/><circle cx="448.0" cy="392.0" r="3.5" fill="url(#gBlue)"/><circle cx="467.6" cy="392.0" r="3.5" fill="url(#gBlue)"/><circle cx="486.9" cy="392.0" r="3.5" fill="url(#gBlue)"/><circle cx="435.0" cy="399.3" r="2.3" fill="url(#gRed)"/><circle cx="454.5" cy="399.3" r="2.3" fill="url(#gRed)"/><circle cx="474.3" cy="399.3" r="2.3" fill="url(#gRed)"/>
<line x1="384.8" y1="377" x2="384.8" y2="389" stroke="#111" stroke-width="0.9"/><polygon points="384.8,392.5 382.9,388.3 386.7,388.3" fill="#111"/>
<line x1="466.6" y1="384.5" x2="466.6" y2="370" stroke="#111" stroke-width="0.9"/><polygon points="466.6,366.5 464.7,370.7 468.5,370.7" fill="#111"/>
<text x="387.40" y="387.60" font-size="11.2" font-weight="normal" text-anchor="start" fill="#000" style="" >P</text>
<text x="470.40" y="381.20" font-size="11.2" font-weight="normal" text-anchor="start" fill="#000" style="" >P</text>
<line x1="343.8" y1="421.5" x2="343.8" y2="361.5" stroke="#222" stroke-width="1.1"/><polygon points="343.8,357.6 341.9,362.5 345.7,362.5" fill="#222"/>
<text x="323.80" y="391.80" font-size="11.2" font-weight="normal" text-anchor="start" fill="#000" style="" >E</text>
<text x="330.60" y="393.60" font-size="7.2" font-weight="normal" text-anchor="start" fill="#000" style="" >ext</text>
<line x1="355.7" y1="420.4" x2="415.59999999999997" y2="420.4" stroke="#777" stroke-width="0.7"/>
<g fill="#c0c0c0" stroke="#666" stroke-width="0.8"><circle cx="355.7" cy="420.4" r="1.5"/><circle cx="364.0" cy="420.4" r="1.5"/><circle cx="367.8" cy="420.4" r="1.5"/><circle cx="375.9" cy="420.4" r="1.5"/><circle cx="379.7" cy="420.4" r="1.5"/><circle cx="387.9" cy="420.4" r="1.5"/><circle cx="391.7" cy="420.4" r="1.5"/><circle cx="399.9" cy="420.4" r="1.5"/><circle cx="403.6" cy="420.4" r="1.5"/><circle cx="411.8" cy="420.4" r="1.5"/><circle cx="415.6" cy="420.4" r="1.5"/></g>
<line x1="438.4" y1="420.4" x2="498.3" y2="420.4" stroke="#777" stroke-width="0.7"/>
<g fill="#c0c0c0" stroke="#666" stroke-width="0.8"><circle cx="438.4" cy="420.4" r="1.5"/><circle cx="446.7" cy="420.4" r="1.5"/><circle cx="450.5" cy="420.4" r="1.5"/><circle cx="458.7" cy="420.4" r="1.5"/><circle cx="462.4" cy="420.4" r="1.5"/><circle cx="470.6" cy="420.4" r="1.5"/><circle cx="474.4" cy="420.4" r="1.5"/><circle cx="482.6" cy="420.4" r="1.5"/><circle cx="486.4" cy="420.4" r="1.5"/><circle cx="494.5" cy="420.4" r="1.5"/><circle cx="498.3" cy="420.4" r="1.5"/></g>
<text x="386.70" y="437.00" font-size="10.2" font-weight="normal" text-anchor="middle" fill="#000" style="" >(C<tspan font-size="6.5" dy="1.6">1</tspan><tspan dy="-1.6">)</tspan></text>
<text x="471.30" y="437.00" font-size="10.2" font-weight="normal" text-anchor="middle" fill="#000" style="" >(C<tspan font-size="6.5" dy="1.6">2</tspan><tspan dy="-1.6">)</tspan></text>
<clipPath id="c966"><rect x="39.2" y="453.1" width="65.5" height="105.4"/></clipPath>
<g clip-path="url(#c966)" fill="none" stroke-linejoin="round">
<line x1="68.9" y1="453.1" x2="68.9" y2="558.5" stroke="#b0b0b0" stroke-width="0.5"/>
<line x1="83.6" y1="453.1" x2="83.6" y2="558.5" stroke="#b0b0b0" stroke-width="0.5"/>
<line x1="39.2" y1="505.8" x2="104.7" y2="505.8" stroke="#f07a7a" stroke-width="0.6"/>
<path d="M39.2,479.5 40.6,478.2 42.5,476.5 44.7,474.4 47.2,472.2 49.8,469.9 52.3,467.6 55,465.1 57.9,462.1 61,459.1 63.9,456.4 66.6,454.2 68.9,453.1 70.6,453.1 71.9,454.1 72.9,455.7 73.8,457.5 74.8,459.4 75.9,461 77.1,462.3 78.3,463.6 79.5,465 80.7,466.3 82.1,467.6 83.6,468.9 85.3,470.3 87.2,471.7 89.1,473.2 91.1,474.6 93,475.8 94.9,476.8 96.7,477.6 98.6,478.2 100.5,478.6 102.2,479 103.6,479.2 104.7,479.5" stroke="#2a2ae6" stroke-width="0.9"/>
<path d="M39.2,476.3 40.8,475.1 42.9,473.4 45.5,471.4 48.2,469.2 51,467 53.6,465 56.2,462.8 58.9,460.4 61.7,458 64.4,455.8 66.8,454.1 68.9,453.1 70.5,453 71.8,453.5 72.8,454.6 73.8,455.9 74.8,457.2 75.9,458.4 77.1,459.4 78.3,460.4 79.5,461.4 80.7,462.5 82.1,463.7 83.6,465 85.3,466.4 87.2,468.1 89.1,469.8 91.1,471.5 93,473 94.9,474.2 96.7,475 98.6,475.6 100.5,476.1 102.2,476.4 103.6,476.6 104.7,476.8" stroke="#2a2ae6" stroke-width="0.9"/>
<path d="M39.2,471.5 40.8,470.4 42.9,468.7 45.5,466.8 48.2,464.7 51,462.7 53.6,461 56.2,459.4 58.9,457.7 61.6,456.1 64.3,454.8 66.7,453.7 68.9,453.1 70.7,453.1 72.2,453.6 73.6,454.4 74.8,455.4 76,456.3 77.2,457.1 78.4,457.6 79.5,458.2 80.5,458.7 81.5,459.2 82.5,459.5 83.6,459.7 84.7,459.6 85.8,459.2 86.9,458.6 88,458.2 89.1,458 90.3,458.4 91.5,459.3 92.9,460.8 94.2,462.6 95.6,464.4 96.9,466.2 98.2,467.6 99.4,468.8 100.7,469.8 101.9,470.8 103.1,471.6 104,472.3 104.7,472.9" stroke="#2a2ae6" stroke-width="0.9"/>
<path d="M39.2,463.6 40.3,462.9 41.7,461.9 43.5,460.6 45.4,459.3 47.3,458.1 49,457.1 50.7,456.1 52.3,455.2 53.9,454.3 55.6,453.6 57.2,453 58.9,452.6 60.5,452.4 62.2,452.5 63.9,452.8 65.6,453.1 67.2,453.4 68.9,453.6 70.6,453.8 72.3,453.9 74,454 75.6,454.2 77.2,454.3 78.5,454.4 79.6,454.5 80.4,454.5 81.2,454.6 81.9,454.7 82.6,454.9 83.6,455.2 84.7,455.7 85.9,456.2 87.1,456.8 88.5,457.6 89.9,458.5 91.6,459.7 93.6,461.2 96.1,463.1 98.6,465.2 101.1,467.3 103.2,469 104.7,470.2" stroke="#2a2ae6" stroke-width="0.9"/>
<path d="M44.4,451.8 39.2,459.7" stroke="#2a2ae6" stroke-width="0.9"/>
<path d="M78.5,451.8 79.2,452.3 80.2,453 81.4,453.8 82.6,454.7 83.9,455.3 85,455.7 86.1,455.7 87.2,455.4 88.3,454.9 89.4,454.5 90.5,454.2 91.6,454.4 92.7,455.1 93.8,456.1 94.9,457.4 96,458.7 97.1,460 98.2,461 99.3,461.9 100.6,462.7 101.8,463.4 103,464 104,464.6 104.7,465" stroke="#2a2ae6" stroke-width="0.9"/>
<path d="M39.2,511.6 40.3,512.3 41.7,513.2 43.5,514.4 45.4,515.7 47.3,517.2 49,519 50.7,521.1 52.3,523.6 53.9,526.3 55.6,529 57.2,531.4 58.9,533.5 60.5,535.2 62.3,536.7 64,538 65.7,539 67.4,539.7 68.9,540.1 70.2,539.9 71.4,539.2 72.5,538.2 73.6,537 74.7,535.8 75.9,534.8 77.1,534 78.3,533.2 79.5,532.5 80.7,531.7 82.1,530.7 83.6,529.5 85.3,528 87.2,526.2 89.1,524.3 91.1,522.4 93,520.6 94.9,519 96.7,517.6 98.6,516.2 100.5,515 102.2,513.9 103.6,513.1 104.7,512.4" stroke="#2a2ae6" stroke-width="0.9"/>
<path d="M39.2,513.7 40,514.1 41.2,514.5 42.6,515.1 44.1,515.8 45.6,516.6 47.1,517.7 48.4,518.9 49.7,520.5 51,522.2 52.4,523.9 53.9,525.5 55.6,526.9 57.5,528 59.6,528.9 61.8,529.8 64.2,530.5 66.5,531.3 68.9,532.2 71.3,533.2 73.8,534.4 76.4,535.6 78.9,536.6 81.3,537.3 83.6,537.4 85.7,536.9 87.7,536 89.5,534.6 91.4,533 93.1,531.3 94.9,529.5 96.7,527.5 98.6,525 100.5,522.4 102.2,520 103.6,517.8 104.7,516.3" stroke="#2a2ae6" stroke-width="0.9"/>
<path d="M39.2,528.2 40.6,528 42.5,527.7 44.7,527.3 47.2,527 49.8,526.6 52.3,526.4 54.9,526.1 57.6,525.9 60.5,525.7 63.4,525.5 66.2,525.4 68.9,525.3 71.5,525.3 74,525.3 76.6,525.3 79,525.3 81.4,525.4 83.6,525.6 85.7,525.7 87.7,525.9 89.5,526.1 91.4,526.3 93.1,526.6 94.9,526.9 96.7,527.2 98.6,527.6 100.5,528 102.2,528.4 103.6,528.7 104.7,529" stroke="#2a2ae6" stroke-width="0.9"/>
<path d="M39.2,532.2 40.3,533 41.7,534.1 43.5,535.4 45.4,536.8 47.3,538.4 49,540.1 50.7,541.8 52.3,543.9 53.9,546 55.6,548.1 57.2,550.1 58.9,551.9 60.6,553.6 62.5,555.1 64.5,556.6 66.3,557.9 67.8,559 68.9,559.8" stroke="#2a2ae6" stroke-width="0.9"/>
<path d="M39.2,537.4 40.6,537.8 42.5,538.3 44.7,539 47.2,539.7 49.8,540.5 52.3,541.4 54.9,542.5 57.6,543.9 60.5,545.4 63.4,546.7 66.2,547.7 68.9,548 71.5,547.5 74,546.3 76.6,544.7 79,543 81.4,541.4 83.6,540.1 85.7,539 87.7,538 89.5,537 91.4,536.2 93.1,535.4 94.9,534.8 96.7,534.3 98.6,534 100.5,533.8 102.2,533.7 103.6,533.6 104.7,533.5" stroke="#2a2ae6" stroke-width="0.9"/>
<path d="M39.2,544 40.6,543.3 42.5,542.3 44.7,541 47.2,539.8 49.8,538.5 52.3,537.4 54.9,536.3 57.6,534.9 60.5,533.6 63.4,532.6 66.2,532 68.9,532.2 71.5,533.2 74,535 76.6,537.3 79,539.7 81.4,542.1 83.6,544 85.7,545.6 87.7,547.1 89.5,548.5 91.4,549.7 93.1,550.9 94.9,551.9 96.7,552.8 98.6,553.7 100.5,554.4 102.2,555 103.6,555.5 104.7,555.9" stroke="#2a2ae6" stroke-width="0.9"/>
<path d="M39.2,554.5 40.3,554 41.7,553.1 43.5,552.2 45.4,551.1 47.3,550.1 49,549.3 50.7,548.4 52.3,547.5 53.9,546.6 55.6,545.8 57.2,545.4 58.9,545.3 60.6,545.8 62.3,546.7 64.1,547.9 65.8,549.2 67.4,550.6 68.9,551.9 70.2,553.2 71.5,554.7 72.7,556.3 73.7,557.7 74.6,558.9 75.2,559.8" stroke="#2a2ae6" stroke-width="0.9"/>
<path d="M58.9,559.8 59.9,559.3 61.3,558.5 62.9,557.6 64.8,556.6 66.8,555.6 68.9,554.5 71.1,553.5 73.6,552.4 76.2,551.3 78.8,550.2 81.3,549.1 83.6,548 85.7,546.8 87.7,545.6 89.5,544.4 91.4,543.3 93.1,542.2 94.9,541.4 96.7,540.7 98.6,540.1 100.5,539.6 102.2,539.3 103.6,539 104.7,538.7" stroke="#2a2ae6" stroke-width="0.9"/>
<path d="M39.2,549.3 40.7,550.2 42.8,551.5 45.3,553.1 47.9,554.6 50.3,556.1 52.3,557.2 53.8,558 55.2,558.5 56.4,559 57.4,559.3 58.2,559.6 58.9,559.8" stroke="#2a2ae6" stroke-width="0.9"/>
<path d="M72,559.8 73.2,559.2 75,558.2 77.1,557 79.3,555.9 81.6,555 83.6,554.5 85.5,554.7 87.4,555.3 89.4,556.1 91.2,556.9 93.1,557.3 94.9,557.2 96.7,556.2 98.6,554.6 100.5,552.7 102.2,550.8 103.6,549.1 104.7,548" stroke="#2a2ae6" stroke-width="0.9"/>
<path d="M39.2,534.8 40.6,534.6 42.5,534.2 44.7,533.9 47.2,533.6 49.8,533.4 52.3,533.5 54.9,533.9 57.6,534.7 60.5,535.6 63.4,536.5 66.2,537.2 68.9,537.4 71.5,537.1 74,536.3 76.6,535.3 79,534.3 81.4,533.6 83.6,533.5 85.7,534 87.7,535 89.5,536.3 91.4,537.7 93.1,539 94.9,540.1 96.7,540.9 98.6,541.7 100.5,542.4 102.2,543.1 103.6,543.6 104.7,544" stroke="#2a2ae6" stroke-width="0.9"/>
<path d="M75.2,559.8 76.2,559.6 77.5,559.4 79.1,559.1 80.8,558.6 82.3,558 83.6,557.2 84.5,556 85.3,554.4 85.9,552.6 86.5,550.8 87.3,549.2 88.3,548 89.7,547 91.3,546.3 93.1,545.7 94.9,545.4 96.6,545.2 98.2,545.3 99.5,545.8 100.8,546.7 102,547.8 103.1,548.9 104,549.9 104.7,550.6" stroke="#2a2ae6" stroke-width="0.9"/>
</g>
<rect x="39.2" y="453.1" width="65.5" height="105.4" fill="none" stroke="#555" stroke-width="0.9"/>
<text x="37.60" y="455.30" font-size="6.2" font-weight="bold" text-anchor="end" fill="#222">2</text>
<text x="37.60" y="481.65" font-size="6.2" font-weight="bold" text-anchor="end" fill="#222">1</text>
<text x="37.60" y="508.00" font-size="6.2" font-weight="bold" text-anchor="end" fill="#222">0</text>
<text x="37.60" y="534.35" font-size="6.2" font-weight="bold" text-anchor="end" fill="#222">-1</text>
<text x="37.60" y="560.70" font-size="6.2" font-weight="bold" text-anchor="end" fill="#222">-2</text>
<text x="39.20" y="563.80" font-size="6.2" text-anchor="middle" fill="#222">Γ</text>
<text x="68.87" y="563.80" font-size="6.2" text-anchor="middle" fill="#222">K</text>
<text x="83.61" y="563.80" font-size="6.2" text-anchor="middle" fill="#222">M</text>
<text x="104.70" y="563.80" font-size="6.2" text-anchor="middle" fill="#222">Γ</text>
<text x="0" y="0" font-size="6.6" font-weight="bold" text-anchor="middle" fill="#222" transform="translate(30.90,505.80) rotate(-90)">Energy (eV)</text>
<text x="41.00" y="458.30" font-size="5.6" font-weight="bold" text-anchor="start" fill="#000" style="" >(a)</text>
<text x="71.80" y="449.50" font-size="9.8" font-weight="bold" text-anchor="middle" fill="#000" style="" >Antimonene</text>
<polygon points="85.80,491.40 78.75,503.61 64.65,503.61 57.60,491.40 64.65,479.19 78.75,479.19" fill="none" stroke="#444" stroke-width="1.0"/>
<polygon points="71.7,491.4 82.28,485.29 85.80,491.40" fill="none" stroke="#e81e1e" stroke-width="1.3"/>
<text x="69.50" y="493.60" font-size="6.5" font-weight="bold" text-anchor="end" fill="#000" style="" >Γ</text>
<text x="83.08" y="484.99" font-size="6.5" font-weight="bold" text-anchor="start" fill="#000" style="" >M</text>
<text x="86.60" y="494.00" font-size="6.5" font-weight="bold" text-anchor="start" fill="#000" style="" >K</text>
<clipPath id="c1008"><rect x="124.2" y="453.1" width="66.5" height="105.4"/></clipPath>
<g clip-path="url(#c1008)" fill="none" stroke-linejoin="round">
<line x1="154.3" y1="453.1" x2="154.3" y2="558.5" stroke="#b0b0b0" stroke-width="0.5"/>
<line x1="169.3" y1="453.1" x2="169.3" y2="558.5" stroke="#b0b0b0" stroke-width="0.5"/>
<line x1="124.2" y1="505.8" x2="190.7" y2="505.8" stroke="#f07a7a" stroke-width="0.6"/>
<path d="M124.2,472.6 125.3,473.7 126.8,475.3 128.6,477.2 130.5,479.2 132.4,481.2 134.2,483.1 135.8,484.9 137.5,486.7 139.2,488.5 140.8,490.3 142.5,492.1 144.2,493.9 146,496 147.9,498.3 149.9,500.5 151.7,502.7 153.2,504.5 154.3,505.8" stroke="#3a3a3a" stroke-width="0.8"/>
<path d="M154.3,505.8 169.3,479.7" stroke="#3a3a3a" stroke-width="0.8"/>
<path d="M169.3,479.7 170.2,479.5 171.4,479.2 172.9,478.8 174.5,478.4 176,478 177.4,477.6 178.6,477.2 179.7,476.9 180.8,476.5 181.9,476.1 183,475.8 184.1,475.5 185.2,475.2 186.5,475 187.8,474.7 189,474.5 190,474.3 190.7,474.2" stroke="#3a3a3a" stroke-width="0.8"/>
<path d="M124.2,543.2 125.3,542 126.8,540.2 128.6,538.2 130.5,536 132.4,533.7 134.2,531.6 135.8,529.7 137.5,527.7 139.2,525.7 140.8,523.7 142.5,521.6 144.2,519.5 146,517.2 147.9,514.5 149.9,511.9 151.7,509.4 153.2,507.3 154.3,505.8" stroke="#3a3a3a" stroke-width="0.8"/>
<path d="M154.3,505.8 169.3,531.9" stroke="#3a3a3a" stroke-width="0.8"/>
<path d="M169.3,531.9 170.2,532.2 171.4,532.7 172.9,533.3 174.5,533.9 176,534.6 177.4,535.3 178.6,536.1 179.7,536.9 180.8,537.8 181.9,538.7 183,539.6 184.1,540.6 185.2,541.6 186.5,542.8 187.8,543.9 189,545 190,546 190.7,546.6" stroke="#3a3a3a" stroke-width="0.8"/>
<path d="M124.2,472.6 124.9,471.8 125.9,470.6 127.1,469.2 128.4,467.7 129.7,466.3 130.8,465 131.9,463.8 133,462.7 134.1,461.6 135.2,460.5 136.3,459.5 137.5,458.4 138.8,457.2 140.4,455.9 141.9,454.7 143.4,453.5 144.6,452.5 145.5,451.8" stroke="#3a3a3a" stroke-width="0.8"/>
<path d="M124.2,472.6 125.1,472 126.2,471.3 127.6,470.4 129.2,469.4 130.7,468.5 132.2,467.6 133.5,466.8 134.8,466 136.2,465.2 137.6,464.4 139.1,463.7 140.8,463.1 142.9,462.6 145.2,462.2 147.6,461.8 150,461.5 152.3,461.3 154.3,461 156,460.7 157.6,460.5 159,460.2 160.3,460 161.5,459.9 162.8,460 163.9,460.1 164.9,460.3 165.8,460.6 166.8,461 167.9,461.5 169.3,462.1 170.9,462.7 172.8,463.4 174.8,464.3 176.8,465.1 178.8,466 180.7,466.8 182.6,467.6 184.5,468.6 186.4,469.5 188.2,470.3 189.6,471 190.7,471.5" stroke="#3a3a3a" stroke-width="0.8"/>
<path d="M132.2,451.8 133.1,452.5 134.2,453.5 135.7,454.6 137.3,455.9 139,457 140.8,457.8 142.9,458.6 145.3,459.2 147.9,459.8 150.4,460.3 152.6,460.5 154.3,460.5 155.4,460.1 156.1,459.4 156.5,458.5 156.8,457.5 157,456.6 157.4,455.7 158,455 158.7,454.2 159.3,453.5 159.9,452.8 160.4,452.2 160.8,451.8" stroke="#3a3a3a" stroke-width="0.8"/>
<path d="M154.1,451.8 154.8,452.3 155.8,452.9 156.9,453.7 158.2,454.7 159.5,455.8 160.8,457.1 162.1,458.7 163.4,460.7 164.7,462.8 166.2,465 167.7,466.9 169.3,468.4 171,469.4 172.9,470.1 174.9,470.5 176.9,470.8 178.9,471.1 180.7,471.5 182.6,472 184.5,472.6 186.4,473.1 188.2,473.5 189.6,473.9 190.7,474.2" stroke="#3a3a3a" stroke-width="0.8"/>
<path d="M164.1,451.8 164.6,452.1 165.3,452.5 166.2,452.9 167.1,453.4 168.2,453.9 169.3,454.4 170.5,454.9 171.8,455.4 173.2,456 174.6,456.5 176,456.8 177.4,457.1 178.8,457.1 180.2,457 181.6,456.7 182.9,456.4 184.2,456.1 185.4,455.7 186.5,455.3 187.5,454.9 188.5,454.3 189.4,453.8 190.2,453.4 190.7,453.1" stroke="#3a3a3a" stroke-width="0.8"/>
<path d="M138.8,451.8 139.4,452.3 140.3,453.1 141.3,454 142.3,454.9 143.3,455.5 144.2,455.7 144.9,455.5 145.5,454.9 146.1,454 146.7,453.1 147.1,452.3 147.5,451.8" stroke="#3a3a3a" stroke-width="0.8"/>
<path d="M124.2,543.2 125.1,543.6 126.3,544 127.8,544.5 129.3,545.1 130.8,545.8 132.2,546.6 133.4,547.6 134.5,548.6 135.7,549.7 136.8,550.9 137.8,552.1 138.8,553.2 139.9,554.4 140.9,555.7 141.9,556.9 142.8,558.1 143.6,559.1 144.2,559.8" stroke="#3a3a3a" stroke-width="0.8"/>
<path d="M124.2,545.3 125.3,545.9 126.8,546.6 128.6,547.5 130.5,548.5 132.4,549.6 134.2,550.6 135.9,551.7 137.7,552.8 139.6,554.1 141.3,555.2 142.9,556.3 144.2,557.2 145.1,557.9 145.9,558.5 146.4,558.9 146.9,559.3 147.2,559.6 147.5,559.8" stroke="#3a3a3a" stroke-width="0.8"/>
<path d="M177.4,559.8 178.1,559.1 179.1,558.1 180.3,556.9 181.6,555.7 182.9,554.4 184.1,553.2 185.2,552.1 186.5,550.8 187.8,549.5 189,548.4 190,547.4 190.7,546.6" stroke="#3a3a3a" stroke-width="0.8"/>
<path d="M180.7,559.8 181.3,559.4 182.1,558.8 183.1,558.1 184.1,557.3 185.1,556.6 186,555.9 186.9,555.2 187.8,554.4 188.7,553.6 189.5,552.9 190.2,552.3 190.7,551.9" stroke="#3a3a3a" stroke-width="0.8"/>
</g>
<rect x="124.2" y="453.1" width="66.5" height="105.4" fill="none" stroke="#555" stroke-width="0.9"/>
<text x="122.60" y="455.30" font-size="6.2" font-weight="bold" text-anchor="end" fill="#222">2</text>
<text x="122.60" y="481.65" font-size="6.2" font-weight="bold" text-anchor="end" fill="#222">1</text>
<text x="122.60" y="508.00" font-size="6.2" font-weight="bold" text-anchor="end" fill="#222">0</text>
<text x="122.60" y="534.35" font-size="6.2" font-weight="bold" text-anchor="end" fill="#222">-1</text>
<text x="122.60" y="560.70" font-size="6.2" font-weight="bold" text-anchor="end" fill="#222">-2</text>
<text x="124.20" y="563.80" font-size="6.2" text-anchor="middle" fill="#222">Γ</text>
<text x="154.32" y="563.80" font-size="6.2" text-anchor="middle" fill="#222">K</text>
<text x="169.29" y="563.80" font-size="6.2" text-anchor="middle" fill="#222">M</text>
<text x="190.70" y="563.80" font-size="6.2" text-anchor="middle" fill="#222">Γ</text>
<text x="0" y="0" font-size="6.6" font-weight="bold" text-anchor="middle" fill="#222" transform="translate(116.00,505.80) rotate(-90)">Energy (eV)</text>
<text x="126.00" y="458.30" font-size="5.6" font-weight="bold" text-anchor="start" fill="#000" style="" >(b)</text>
<text x="157.50" y="449.50" font-size="9.8" font-weight="bold" text-anchor="middle" fill="#000" style="" >Graphene</text>
<clipPath id="c1043"><rect x="210.7" y="453.1" width="63.4" height="105.4"/></clipPath>
<g clip-path="url(#c1043)" fill="none" stroke-linejoin="round">
<line x1="240.0" y1="453.1" x2="240.0" y2="558.5" stroke="#b0b0b0" stroke-width="0.5"/>
<line x1="253.7" y1="453.1" x2="253.7" y2="558.5" stroke="#b0b0b0" stroke-width="0.5"/>
<line x1="210.7" y1="505.8" x2="274.09999999999997" y2="505.8" stroke="#f07a7a" stroke-width="0.6"/>
<path d="M210.7,472.6 211.7,473.7 213.2,475.3 214.9,477.2 216.7,479.2 218.5,481.2 220.2,483.1 221.8,484.9 223.4,486.7 225,488.5 226.5,490.3 228.1,492.1 229.7,493.9 231.4,496 233.3,498.3 235.2,500.5 236.9,502.7 238.4,504.5 239.4,505.8" stroke="#262626" stroke-width="1.25"/>
<path d="M239.4,505.8 253.7,479.7" stroke="#262626" stroke-width="1.25"/>
<path d="M253.7,479.7 254.5,479.5 255.7,479.2 257.2,478.8 258.7,478.4 260.1,478 261.4,477.6 262.6,477.2 263.6,476.9 264.7,476.5 265.7,476.1 266.7,475.8 267.8,475.5 268.9,475.2 270.1,475 271.3,474.7 272.5,474.5 273.4,474.3 274.1,474.2" stroke="#262626" stroke-width="1.25"/>
<path d="M210.7,543.2 211.7,542 213.2,540.2 214.9,538.2 216.7,536 218.5,533.7 220.2,531.6 221.8,529.7 223.4,527.7 225,525.7 226.5,523.7 228.1,521.6 229.7,519.5 231.4,517.2 233.3,514.5 235.2,511.9 236.9,509.4 238.4,507.3 239.4,505.8" stroke="#262626" stroke-width="1.25"/>
<path d="M239.4,505.8 253.7,531.9" stroke="#262626" stroke-width="1.25"/>
<path d="M253.7,531.9 254.5,532.2 255.7,532.7 257.2,533.3 258.7,533.9 260.1,534.6 261.4,535.3 262.6,536.1 263.6,536.9 264.7,537.8 265.7,538.7 266.7,539.6 267.8,540.6 268.9,541.6 270.1,542.8 271.3,543.9 272.5,545 273.4,546 274.1,546.6" stroke="#262626" stroke-width="1.25"/>
<path d="M210.7,472.6 211.4,471.8 212.3,470.6 213.5,469.2 214.7,467.7 215.9,466.3 217,465 218.1,463.8 219.1,462.7 220.1,461.6 221.2,460.5 222.2,459.5 223.4,458.4 224.7,457.2 226.1,455.9 227.6,454.7 229,453.5 230.1,452.5 231,451.8" stroke="#262626" stroke-width="1.25"/>
<path d="M210.7,472.6 211.5,472 212.6,471.3 214,470.4 215.4,469.4 216.9,468.5 218.3,467.6 219.6,466.8 220.8,466 222.1,465.2 223.4,464.4 224.9,463.7 226.5,463.1 228.5,462.6 230.7,462.2 233,461.8 235.3,461.5 237.5,461.3 239.4,461 241.1,460.7 242.5,460.5 243.9,460.2 245.1,460 246.3,459.9 247.5,460 248.6,460.1 249.5,460.3 250.4,460.6 251.3,461 252.4,461.5 253.7,462.1 255.2,462.7 257,463.4 258.9,464.3 260.9,465.1 262.8,466 264.6,466.8 266.4,467.6 268.2,468.6 270,469.5 271.7,470.3 273.1,471 274.1,471.5" stroke="#262626" stroke-width="1.25"/>
<path d="M218.3,451.8 219.2,452.5 220.3,453.5 221.6,454.6 223.2,455.9 224.8,457 226.5,457.8 228.5,458.6 230.9,459.2 233.3,459.8 235.7,460.3 237.8,460.5 239.4,460.5 240.5,460.1 241.1,459.4 241.5,458.5 241.8,457.5 242,456.6 242.4,455.7 243,455 243.6,454.2 244.2,453.5 244.7,452.8 245.2,452.2 245.6,451.8" stroke="#262626" stroke-width="1.25"/>
<path d="M239.2,451.8 239.9,452.3 240.8,452.9 241.9,453.7 243.1,454.7 244.3,455.8 245.6,457.1 246.8,458.7 248,460.7 249.3,462.8 250.7,465 252.2,466.9 253.7,468.4 255.4,469.4 257.2,470.1 259.1,470.5 261,470.8 262.8,471.1 264.6,471.5 266.4,472 268.2,472.6 270,473.1 271.7,473.5 273.1,473.9 274.1,474.2" stroke="#262626" stroke-width="1.25"/>
<path d="M248.7,451.8 249.2,452.1 249.9,452.5 250.7,452.9 251.6,453.4 252.6,453.9 253.7,454.4 254.8,454.9 256.1,455.4 257.4,456 258.7,456.5 260.1,456.8 261.4,457.1 262.7,457.1 264.1,457 265.4,456.7 266.7,456.4 267.9,456.1 269,455.7 270.1,455.3 271.1,454.9 272,454.3 272.9,453.8 273.6,453.4 274.1,453.1" stroke="#262626" stroke-width="1.25"/>
<path d="M224.6,451.8 225.2,452.3 226,453.1 227,454 228,454.9 228.9,455.5 229.7,455.7 230.4,455.5 231,454.9 231.6,454 232.1,453.1 232.6,452.3 232.9,451.8" stroke="#262626" stroke-width="1.25"/>
<path d="M210.7,543.2 211.5,543.6 212.7,544 214.1,544.5 215.6,545.1 217,545.8 218.3,546.6 219.5,547.6 220.6,548.6 221.6,549.7 222.7,550.9 223.7,552.1 224.6,553.2 225.6,554.4 226.6,555.7 227.6,556.9 228.5,558.1 229.2,559.1 229.7,559.8" stroke="#262626" stroke-width="1.25"/>
<path d="M210.7,545.3 211.7,545.9 213.2,546.6 214.9,547.5 216.7,548.5 218.5,549.6 220.2,550.6 221.9,551.7 223.6,552.8 225.4,554.1 227,555.2 228.5,556.3 229.7,557.2 230.7,557.9 231.4,558.5 231.9,558.9 232.3,559.3 232.6,559.6 232.9,559.8" stroke="#262626" stroke-width="1.25"/>
<path d="M261.4,559.8 262.1,559.1 263.1,558.1 264.2,556.9 265.4,555.7 266.6,554.4 267.8,553.2 268.9,552.1 270.1,550.8 271.3,549.5 272.5,548.4 273.4,547.4 274.1,546.6" stroke="#262626" stroke-width="1.25"/>
<path d="M264.6,559.8 265.1,559.4 265.9,558.8 266.8,558.1 267.8,557.3 268.8,556.6 269.7,555.9 270.5,555.2 271.4,554.4 272.2,553.6 273,552.9 273.6,552.3 274.1,551.9" stroke="#262626" stroke-width="1.25"/>
<path d="M210.7,480.8 212,479.5 213.9,477.8 216,475.7 218.4,473.5 220.9,471.2 223.4,468.9 226,466.4 228.8,463.4 231.8,460.4 234.6,457.7 237.2,455.6 239.4,454.4 241.1,454.4 242.3,455.4 243.3,457 244.2,458.9 245.1,460.7 246.2,462.3 247.4,463.6 248.5,465 249.7,466.3 250.9,467.6 252.2,468.9 253.7,470.2 255.3,471.6 257.1,473.1 259,474.5 260.9,475.9 262.8,477.1 264.6,478.1 266.4,478.9 268.2,479.5 270,479.9 271.7,480.3 273.1,480.5 274.1,480.8" stroke="#1a1ae8" stroke-width="1.2"/>
<path d="M210.7,477.6 212.2,476.4 214.3,474.7 216.8,472.7 219.4,470.5 222.1,468.3 224.6,466.3 227.2,464.1 229.8,461.7 232.5,459.3 235.1,457.1 237.4,455.4 239.4,454.4 241,454.3 242.2,454.9 243.3,455.9 244.2,457.2 245.1,458.5 246.2,459.7 247.4,460.7 248.5,461.7 249.7,462.7 250.9,463.8 252.2,465 253.7,466.3 255.3,467.7 257.1,469.4 259,471.1 260.9,472.8 262.8,474.3 264.6,475.5 266.4,476.3 268.2,477 270,477.4 271.7,477.7 273.1,477.9 274.1,478.1" stroke="#1a1ae8" stroke-width="1.2"/>
<path d="M210.7,472.9 212.2,471.7 214.3,470 216.8,468.1 219.4,466 222.1,464 224.6,462.3 227.1,460.7 229.8,459.1 232.4,457.5 235,456.1 237.3,455 239.4,454.4 241.2,454.4 242.7,454.9 244,455.7 245.2,456.7 246.3,457.7 247.5,458.4 248.6,458.9 249.7,459.5 250.7,460 251.7,460.5 252.7,460.8 253.7,461 254.7,460.9 255.8,460.5 256.8,459.9 257.9,459.5 259,459.3 260.2,459.7 261.4,460.7 262.7,462.1 264,463.9 265.3,465.7 266.6,467.5 267.8,468.9 269,470.1 270.2,471.2 271.4,472.1 272.5,473 273.4,473.7 274.1,474.2" stroke="#1a1ae8" stroke-width="1.2"/>
<path d="M210.7,465 211.7,464.2 213.2,463.2 214.9,461.9 216.7,460.7 218.5,459.4 220.2,458.4 221.8,457.4 223.4,456.5 225,455.7 226.5,454.9 228.1,454.3 229.7,453.9 231.3,453.7 233,453.8 234.6,454.1 236.2,454.4 237.8,454.7 239.4,454.9 241,455.1 242.7,455.2 244.4,455.4 246,455.5 247.4,455.6 248.7,455.7 249.8,455.8 250.6,455.9 251.3,455.9 252,456 252.8,456.2 253.7,456.5 254.8,457 255.9,457.5 257.1,458.2 258.4,458.9 259.8,459.9 261.4,461 263.4,462.5 265.7,464.5 268.2,466.6 270.6,468.6 272.7,470.3 274.1,471.5" stroke="#1a1ae8" stroke-width="1.2"/>
<path d="M215.8,453.1 210.7,461" stroke="#1a1ae8" stroke-width="1.2"/>
<path d="M248.7,453.1 249.4,453.6 250.4,454.3 251.5,455.2 252.7,456 253.9,456.7 255.1,457.1 256.1,457 257.2,456.7 258.2,456.2 259.3,455.8 260.4,455.6 261.4,455.7 262.5,456.4 263.5,457.4 264.6,458.7 265.6,460 266.7,461.3 267.8,462.3 268.9,463.2 270.1,464 271.3,464.7 272.5,465.3 273.4,465.9 274.1,466.3" stroke="#1a1ae8" stroke-width="1.2"/>
<path d="M210.7,514.2 211.7,515 213.2,515.9 214.9,517 216.7,518.4 218.5,519.9 220.2,521.6 221.8,523.7 223.4,526.2 225,528.9 226.5,531.6 228.1,534.1 229.7,536.1 231.4,537.8 233,539.3 234.7,540.6 236.4,541.7 238,542.4 239.4,542.7 240.7,542.5 241.9,541.8 243,540.8 244,539.6 245.1,538.4 246.2,537.4 247.4,536.6 248.5,535.9 249.7,535.1 250.9,534.3 252.2,533.3 253.7,532.2 255.3,530.7 257.1,528.9 259,527 260.9,525 262.8,523.2 264.6,521.6 266.4,520.2 268.2,518.9 270,517.7 271.7,516.6 273.1,515.7 274.1,515" stroke="#1a1ae8" stroke-width="1.2"/>
<path d="M210.7,516.3 211.5,516.7 212.6,517.2 214,517.7 215.4,518.4 216.9,519.3 218.3,520.3 219.6,521.6 220.8,523.1 222.1,524.8 223.4,526.5 224.9,528.1 226.5,529.5 228.4,530.6 230.4,531.6 232.6,532.4 234.9,533.2 237.1,534 239.4,534.8 241.8,535.8 244.2,537 246.7,538.2 249.1,539.3 251.5,539.9 253.7,540.1 255.7,539.6 257.6,538.6 259.4,537.3 261.2,535.7 262.9,533.9 264.6,532.2 266.4,530.1 268.2,527.7 270,525.1 271.7,522.6 273.1,520.5 274.1,519" stroke="#1a1ae8" stroke-width="1.2"/>
<path d="M210.7,530.8 212,530.6 213.9,530.3 216,530 218.4,529.6 220.9,529.3 223.4,529 225.9,528.8 228.5,528.5 231.3,528.3 234.1,528.2 236.8,528 239.4,527.9 241.9,527.9 244.4,527.9 246.9,527.9 249.2,528 251.5,528.1 253.7,528.2 255.7,528.3 257.6,528.5 259.4,528.7 261.2,529 262.9,529.2 264.6,529.5 266.4,529.8 268.2,530.2 270,530.7 271.7,531 273.1,531.4 274.1,531.6" stroke="#1a1ae8" stroke-width="1.2"/>
<path d="M210.7,534.8 211.7,535.6 213.2,536.7 214.9,538 216.7,539.5 218.5,541.1 220.2,542.7 221.8,544.5 223.4,546.5 225,548.6 226.5,550.7 228.1,552.8 229.7,554.5 231.4,556.2 233.3,557.8 235.2,559.2 236.9,560.5 238.4,561.6 239.4,562.5" stroke="#1a1ae8" stroke-width="1.2"/>
<path d="M210.7,540.1 212,540.5 213.9,541 216,541.6 218.4,542.3 220.9,543.2 223.4,544 225.9,545.1 228.5,546.5 231.3,548 234.1,549.4 236.8,550.3 239.4,550.6 241.9,550.1 244.4,548.9 246.9,547.4 249.2,545.7 251.5,544 253.7,542.7 255.7,541.6 257.6,540.6 259.4,539.6 261.2,538.8 262.9,538 264.6,537.4 266.4,537 268.2,536.6 270,536.4 271.7,536.3 273.1,536.2 274.1,536.1" stroke="#1a1ae8" stroke-width="1.2"/>
<path d="M210.7,546.6 212,545.9 213.9,544.9 216,543.7 218.4,542.4 220.9,541.2 223.4,540.1 225.9,538.9 228.5,537.6 231.3,536.3 234.1,535.2 236.8,534.7 239.4,534.8 241.9,535.8 244.4,537.6 246.9,539.9 249.2,542.3 251.5,544.7 253.7,546.6 255.7,548.2 257.6,549.7 259.4,551.1 261.2,552.4 262.9,553.5 264.6,554.5 266.4,555.5 268.2,556.3 270,557 271.7,557.6 273.1,558.1 274.1,558.5" stroke="#1a1ae8" stroke-width="1.2"/>
<path d="M210.7,557.2 211.7,556.6 213.2,555.8 214.9,554.8 216.7,553.8 218.5,552.8 220.2,551.9 221.8,551.1 223.4,550.1 225,549.2 226.5,548.4 228.1,548 229.7,548 231.4,548.4 233.1,549.3 234.8,550.5 236.4,551.9 238,553.3 239.4,554.5 240.7,555.9 242,557.4 243.1,558.9 244.1,560.4 244.9,561.6 245.6,562.5" stroke="#1a1ae8" stroke-width="1.2"/>
<path d="M229.7,562.5 230.7,561.9 232.1,561.1 233.7,560.2 235.5,559.2 237.4,558.2 239.4,557.2 241.6,556.2 244,555.1 246.5,554 249,552.8 251.4,551.7 253.7,550.6 255.7,549.5 257.6,548.3 259.4,547.1 261.2,545.9 262.9,544.9 264.6,544 266.4,543.3 268.2,542.7 270,542.3 271.7,541.9 273.1,541.6 274.1,541.4" stroke="#1a1ae8" stroke-width="1.2"/>
<path d="M210.7,551.9 212.2,552.8 214.2,554.2 216.6,555.7 219.2,557.3 221.5,558.7 223.4,559.8 224.9,560.6 226.2,561.2 227.3,561.6 228.3,562 229.1,562.2 229.7,562.5" stroke="#1a1ae8" stroke-width="1.2"/>
<path d="M242.4,562.5 243.6,561.8 245.3,560.8 247.4,559.7 249.5,558.5 251.7,557.7 253.7,557.2 255.5,557.3 257.4,557.9 259.2,558.7 261.1,559.5 262.9,560 264.6,559.8 266.4,558.9 268.2,557.3 270,555.4 271.7,553.4 273.1,551.7 274.1,550.6" stroke="#1a1ae8" stroke-width="1.2"/>
<path d="M210.7,537.4 212,537.2 213.9,536.9 216,536.5 218.4,536.2 220.9,536 223.4,536.1 225.9,536.5 228.5,537.3 231.3,538.2 234.1,539.1 236.8,539.8 239.4,540.1 241.9,539.7 244.4,538.9 246.9,537.9 249.2,536.9 251.5,536.2 253.7,536.1 255.7,536.6 257.6,537.6 259.4,538.9 261.2,540.3 262.9,541.6 264.6,542.7 266.4,543.5 268.2,544.3 270,545.1 271.7,545.7 273.1,546.2 274.1,546.6" stroke="#1a1ae8" stroke-width="1.2"/>
<path d="M245.6,562.5 246.5,562.2 247.8,562 249.3,561.7 250.9,561.3 252.4,560.7 253.7,559.8 254.6,558.6 255.3,557 255.9,555.2 256.5,553.4 257.2,551.8 258.2,550.6 259.6,549.7 261.2,548.9 262.9,548.4 264.6,548 266.3,547.9 267.8,548 269.1,548.4 270.3,549.3 271.5,550.4 272.6,551.6 273.4,552.6 274.1,553.2" stroke="#1a1ae8" stroke-width="1.2"/>
</g>
<rect x="210.7" y="453.1" width="63.4" height="105.4" fill="none" stroke="#555" stroke-width="0.9"/>
<text x="209.10" y="455.30" font-size="6.2" font-weight="bold" text-anchor="end" fill="#222">2</text>
<text x="209.10" y="481.65" font-size="6.2" font-weight="bold" text-anchor="end" fill="#222">1</text>
<text x="209.10" y="508.00" font-size="6.2" font-weight="bold" text-anchor="end" fill="#222">0</text>
<text x="209.10" y="534.35" font-size="6.2" font-weight="bold" text-anchor="end" fill="#222">-1</text>
<text x="209.10" y="560.70" font-size="6.2" font-weight="bold" text-anchor="end" fill="#222">-2</text>
<text x="210.70" y="563.80" font-size="6.2" text-anchor="middle" fill="#222">Γ</text>
<text x="239.99" y="563.80" font-size="6.2" text-anchor="middle" fill="#222">K</text>
<text x="253.69" y="563.80" font-size="6.2" text-anchor="middle" fill="#222">M</text>
<text x="274.10" y="563.80" font-size="6.2" text-anchor="middle" fill="#222">Γ</text>
<text x="0" y="0" font-size="6.6" font-weight="bold" text-anchor="middle" fill="#222" transform="translate(201.50,505.80) rotate(-90)">Energy (eV)</text>
<text x="212.50" y="458.30" font-size="5.6" font-weight="bold" text-anchor="start" fill="#000" style="" >(c)</text>
<text x="240.80" y="449.50" font-size="9.8" font-weight="bold" text-anchor="middle" fill="#000" style="" >G/Sb/G</text>
<clipPath id="c1096"><rect x="347.8" y="455.5" width="72.5" height="101.2"/></clipPath>
<g clip-path="url(#c1096)" fill="none" stroke-linejoin="round">
<line x1="363.5" y1="455.5" x2="363.5" y2="556.7" stroke="#b8b8b8" stroke-width="0.5" stroke-dasharray="1 1"/>
<line x1="393.9" y1="455.5" x2="393.9" y2="556.7" stroke="#b8b8b8" stroke-width="0.5" stroke-dasharray="1 1"/>
<line x1="347.8" y1="506.1" x2="420.3" y2="506.1" stroke="#b8b8b8" stroke-width="0.5" stroke-dasharray="1 1"/>
<path d="M347.8,473.4 350.9,471.2 354.1,469.8 357.2,469.5 360.4,470.5 363.5,472.3 366.6,472.8 369.6,473.1 372.6,473.2 375.7,473 378.7,472.4 381.8,471.5 384.8,470.3 387.8,468.9 390.9,467.3 393.9,465.8 397.2,464.9 400.5,464.7 403.8,465.3 407.1,466.5 410.4,468.2 413.7,470.1 417,471.9 420.3,473.4" stroke="#2828e2" stroke-width="0.95"/>
<path d="M347.8,472.7 350.9,473.8 354.1,474.2 357.2,473.7 360.4,472.5 363.5,470.7 366.6,473.4 369.6,476 372.6,478.2 375.7,479.8 378.7,480.7 381.8,481 384.8,480.6 387.8,479.5 390.9,478 393.9,476.1 397.2,474.8 400.5,473.4 403.8,472.2 407.1,471.3 410.4,470.8 413.7,471 417,471.6 420.3,472.7" stroke="#2828e2" stroke-width="0.95"/>
<path d="M347.8,466.1 350.9,465.6 354.1,466.1 357.2,467.9 360.4,470.8 363.5,474.2 366.6,472 369.6,469.9 372.6,468 375.7,466.4 378.7,465 381.8,464.1 384.8,463.5 387.8,463.2 390.9,463.3 393.9,463.7 397.2,465.2 400.5,466.5 403.8,467.7 407.1,468.4 410.4,468.6 413.7,468.2 417,467.3 420.3,466.1" stroke="#2828e2" stroke-width="0.95"/>
<path d="M347.8,486.7 350.9,484.4 354.1,482.9 357.2,482.8 360.4,484.1 363.5,486.2 366.6,484.8 369.6,483.4 372.6,482.2 375.7,481.2 378.7,480.4 381.8,479.9 384.8,479.6 387.8,479.6 390.9,479.8 393.9,480.1 397.2,479.3 400.5,479.1 403.8,479.6 407.1,480.6 410.4,482.1 413.7,483.7 417,485.3 420.3,486.7" stroke="#2828e2" stroke-width="0.95"/>
<path d="M347.8,477.2 350.9,476.3 354.1,475.6 357.2,475.2 360.4,475.3 363.5,475.6 366.6,475.4 369.6,475.2 372.6,475.1 375.7,474.9 378.7,474.8 381.8,474.6 384.8,474.5 387.8,474.5 390.9,474.4 393.9,474.4 397.2,473.9 400.5,473.6 403.8,473.7 407.1,474.2 410.4,474.8 413.7,475.6 417,476.5 420.3,477.2" stroke="#2828e2" stroke-width="0.95"/>
<path d="M347.8,473.2 350.9,471.4 354.1,470.7 357.2,471.6 360.4,473.9 363.5,477.2 366.6,473.5 369.6,470 372.6,466.7 375.7,464 378.7,461.7 381.8,460.1 384.8,459.2 387.8,458.8 390.9,459.1 393.9,459.8 397.2,461 400.5,463.1 403.8,465.7 407.1,468.4 410.4,470.8 413.7,472.6 417,473.4 420.3,473.2" stroke="#2828e2" stroke-width="0.95"/>
<path d="M347.8,480.2 350.9,482.7 354.1,484.6 357.2,485.5 360.4,485.1 363.5,483.9 366.6,484.8 369.6,485.6 372.6,486 375.7,486.1 378.7,485.7 381.8,484.8 384.8,483.5 387.8,481.8 390.9,479.9 393.9,478 397.2,478.9 400.5,479.8 403.8,480.6 407.1,481.2 410.4,481.4 413.7,481.3 417,480.9 420.3,480.2" stroke="#2828e2" stroke-width="0.95"/>
<path d="M347.8,485.1 350.9,487.2 354.1,489.5 357.2,491.4 360.4,492.7 363.5,493.7 366.6,486.5 369.6,479.6 372.6,473.4 375.7,468 378.7,463.7 381.8,460.5 384.8,458.7 387.8,458 390.9,458.5 393.9,460.1 397.2,461.1 400.5,463.9 403.8,468.1 407.1,472.9 410.4,477.6 413.7,481.6 417,484.3 420.3,485.1" stroke="#2828e2" stroke-width="0.95"/>
<path d="M347.8,457.4 350.9,459.2 354.1,460.6 357.2,461 360.4,460.4 363.5,459.2 366.6,461.3 369.6,463.4 372.6,465.6 375.7,467.7 378.7,469.8 381.8,471.9 384.8,473.8 387.8,475.5 390.9,476.9 393.9,478 397.2,477.8 400.5,476.1 403.8,473.2 407.1,469.3 410.4,465.3 413.7,461.6 417,458.8 420.3,457.4" stroke="#2828e2" stroke-width="0.95"/>
<path d="M347.8,477.7 350.9,480.4 354.1,483 357.2,484.9 360.4,485.9 363.5,486.3 366.6,484.1 369.6,481.8 372.6,479.5 375.7,477.2 378.7,474.8 381.8,472.4 384.8,470.1 387.8,467.9 390.9,466 393.9,464.6 397.2,466.6 400.5,469.3 403.8,472.3 407.1,475.2 410.4,477.4 413.7,478.6 417,478.7 420.3,477.7" stroke="#2828e2" stroke-width="0.95"/>
<path d="M347.8,485.3 350.9,486.9 354.1,487.3 357.2,486.1 360.4,483.5 363.5,480 366.6,479 369.6,478 372.6,477.1 375.7,476.2 378.7,475.5 381.8,474.8 384.8,474.3 387.8,474 390.9,473.8 393.9,473.7 397.2,472.3 400.5,472 403.8,472.8 407.1,474.6 410.4,477.2 413.7,480.1 417,483 420.3,485.3" stroke="#2828e2" stroke-width="0.95"/>
<path d="M347.8,463.8 350.9,464.3 354.1,464.8 357.2,465.1 360.4,465.2 363.5,465.2 366.6,466.8 369.6,468.4 372.6,469.6 375.7,470.5 378.7,471 381.8,470.9 384.8,470.5 387.8,469.6 390.9,468.5 393.9,467.2 397.2,467.9 400.5,468.3 403.8,468.3 407.1,467.8 410.4,467 413.7,465.9 417,464.8 420.3,463.8" stroke="#2828e2" stroke-width="0.95"/>
<path d="M347.8,457.6 350.9,460.2 354.1,461.2 357.2,460.1 360.4,456.8 363.5,452.3 366.6,456.1 369.6,459.7 372.6,463 375.7,465.7 378.7,467.7 381.8,469 384.8,469.6 387.8,469.4 390.9,468.7 393.9,467.4 397.2,465.1 400.5,462.4 403.8,459.8 407.1,457.5 410.4,456 413.7,455.5 417,456.1 420.3,457.6" stroke="#2828e2" stroke-width="0.95"/>
<path d="M347.8,468.8 350.9,470.5 354.1,471.3 357.2,471 360.4,469.6 363.5,467.5 366.6,470 369.6,472.4 372.6,474.5 375.7,476.1 378.7,477.4 381.8,478.1 384.8,478.3 387.8,478 390.9,477.3 393.9,476.3 397.2,475 400.5,473.2 403.8,471.4 407.1,469.8 410.4,468.6 413.7,468 417,468.1 420.3,468.8" stroke="#2828e2" stroke-width="0.95"/>
<path d="M347.8,547.1 350.9,548.6 354.1,549.8 357.2,550.5 360.4,550.6 363.5,550.2 366.6,546.9 369.6,543.8 372.6,540.9 375.7,538.3 378.7,536.1 381.8,534.4 384.8,533.2 387.8,532.5 390.9,532.4 393.9,532.7 397.2,534.6 400.5,537.4 403.8,540.5 407.1,543.6 410.4,546.1 413.7,547.6 417,548 420.3,547.1" stroke="#2828e2" stroke-width="0.95"/>
<path d="M347.8,546 350.9,546 354.1,545.7 357.2,545.3 360.4,544.8 363.5,544.1 366.6,542 369.6,540 372.6,538.1 375.7,536.4 378.7,535 381.8,533.9 384.8,533 387.8,532.5 390.9,532.4 393.9,532.5 397.2,532 400.5,532.5 403.8,534.1 407.1,536.5 410.4,539.3 413.7,542 417,544.4 420.3,546" stroke="#2828e2" stroke-width="0.95"/>
<path d="M347.8,551.4 350.9,552.8 354.1,554.2 357.2,555.4 360.4,556.1 363.5,556.6 366.6,554.9 369.6,553.2 372.6,551.4 375.7,549.4 378.7,547.4 381.8,545.3 384.8,543.2 387.8,541.2 390.9,539.5 393.9,538 397.2,537.8 400.5,538.7 403.8,540.5 407.1,542.9 410.4,545.6 413.7,548.1 417,550.2 420.3,551.4" stroke="#2828e2" stroke-width="0.95"/>
<path d="M347.8,529.3 350.9,529.1 354.1,529.5 357.2,530.5 360.4,532.1 363.5,533.9 366.6,536.8 369.6,539.6 372.6,542.3 375.7,544.6 378.7,546.6 381.8,548.3 384.8,549.5 387.8,550.3 390.9,550.6 393.9,550.5 397.2,550.8 400.5,549.5 403.8,546.7 407.1,542.9 410.4,538.6 413.7,534.6 417,531.3 420.3,529.3" stroke="#2828e2" stroke-width="0.95"/>
<path d="M347.8,555.6 350.9,555.7 354.1,555 357.2,553.5 360.4,551.2 363.5,548.6 366.6,547.3 369.6,546 372.6,544.7 375.7,543.5 378.7,542.3 381.8,541.2 384.8,540.2 387.8,539.4 390.9,538.7 393.9,538.3 397.2,537.7 400.5,538.6 403.8,540.8 407.1,543.8 410.4,547.4 413.7,550.9 417,553.7 420.3,555.6" stroke="#2828e2" stroke-width="0.95"/>
<path d="M347.8,542.4 350.9,542.5 354.1,542.5 357.2,542.4 360.4,542.3 363.5,542.1 366.6,540 369.6,538 372.6,536.2 375.7,534.6 378.7,533.4 381.8,532.5 384.8,532 387.8,531.9 390.9,532.1 393.9,532.5 397.2,532.6 400.5,533.4 403.8,534.8 407.1,536.6 410.4,538.6 413.7,540.3 417,541.7 420.3,542.4" stroke="#2828e2" stroke-width="0.95"/>
<path d="M347.8,554.5 350.9,556.7 354.1,558.5 357.2,559.5 360.4,559.5 363.5,558.9 366.6,556 369.6,553.2 372.6,550.4 375.7,547.8 378.7,545.4 381.8,543.2 384.8,541.4 387.8,539.9 390.9,538.8 393.9,538.2 397.2,539.6 400.5,542 403.8,545 407.1,548.3 410.4,551.3 413.7,553.5 417,554.7 420.3,554.5" stroke="#2828e2" stroke-width="0.95"/>
<path d="M347.8,555.3 350.9,557.1 354.1,558.6 357.2,559.3 360.4,559.2 363.5,558.7 366.6,555.2 369.6,551.8 372.6,548.5 375.7,545.4 378.7,542.7 381.8,540.3 384.8,538.2 387.8,536.7 390.9,535.7 393.9,535.2 397.2,536.4 400.5,539 403.8,542.6 407.1,546.5 410.4,550.3 413.7,553.3 417,555.1 420.3,555.3" stroke="#2828e2" stroke-width="0.95"/>
<path d="M347.8,535.4 350.9,533.5 354.1,532.3 357.2,532.2 360.4,533.3 363.5,535 366.6,534.9 369.6,534.8 372.6,534.7 375.7,534.5 378.7,534.4 381.8,534.2 384.8,534.1 387.8,533.9 390.9,533.8 393.9,533.7 397.2,534.1 400.5,534.7 403.8,535.2 407.1,535.6 410.4,535.8 413.7,535.9 417,535.7 420.3,535.4" stroke="#2828e2" stroke-width="0.95"/>
<path d="M347.8,547.6 350.9,546.9 354.1,547.3 357.2,548.9 360.4,551.5 363.5,554.7 366.6,551.8 369.6,548.9 372.6,546 375.7,543.2 378.7,540.6 381.8,538.1 384.8,535.8 387.8,533.9 390.9,532.4 393.9,531.5 397.2,530.6 400.5,531.1 403.8,532.9 407.1,535.8 410.4,539.1 413.7,542.6 417,545.6 420.3,547.6" stroke="#2828e2" stroke-width="0.95"/>
<path d="M347.8,554.5 350.9,553.4 354.1,552.7 357.2,552.5 360.4,553 363.5,553.8 366.6,548.7 369.6,543.8 372.6,539.3 375.7,535.2 378.7,531.8 381.8,529.2 384.8,527.3 387.8,526.2 390.9,525.9 393.9,526.4 397.2,526.6 400.5,528.9 403.8,533 407.1,538.2 410.4,543.8 413.7,548.8 417,552.6 420.3,554.5" stroke="#2828e2" stroke-width="0.95"/>
<path d="M347.8,530.1 350.9,528.5 354.1,527.8 357.2,528.3 360.4,530 363.5,532.3 366.6,536.1 369.6,539.7 372.6,543.1 375.7,546.2 378.7,548.9 381.8,551 384.8,552.7 387.8,553.8 390.9,554.3 393.9,554.2 397.2,552.5 400.5,549.1 403.8,544.7 407.1,539.9 410.4,535.5 413.7,532.1 417,530.2 420.3,530.1" stroke="#2828e2" stroke-width="0.95"/>
<path d="M347.8,531.6 350.9,533.7 354.1,534.9 357.2,534.6 360.4,533 363.5,530.5 366.6,535.5 369.6,540.3 372.6,544.6 375.7,548.3 378.7,551.1 381.8,553 384.8,554 387.8,554.1 390.9,553.4 393.9,552 397.2,552.4 400.5,551.2 403.8,548.6 407.1,544.9 410.4,540.8 413.7,536.8 417,533.5 420.3,531.6" stroke="#2828e2" stroke-width="0.95"/>
<path d="M347.8,553.3 350.9,554 354.1,554.8 357.2,555.7 360.4,556.4 363.5,557 366.6,555.2 369.6,553.4 372.6,551.9 375.7,550.6 378.7,549.8 381.8,549.3 384.8,549.2 387.8,549.5 390.9,550.1 393.9,550.9 397.2,550.8 400.5,550.9 403.8,551.1 407.1,551.5 410.4,552 413.7,552.6 417,553 420.3,553.3" stroke="#2828e2" stroke-width="0.95"/>
<path d="M347.8,543.9 350.9,543.6 354.1,542.8 357.2,541.7 360.4,540.3 363.5,538.7 366.6,538.3 369.6,537.9 372.6,537.3 375.7,536.7 378.7,535.9 381.8,535 384.8,534.1 387.8,533.1 390.9,532.2 393.9,531.3 397.2,533 400.5,535.4 403.8,538.1 407.1,540.7 410.4,542.9 413.7,544.3 417,544.6 420.3,543.9" stroke="#2828e2" stroke-width="0.95"/>
<path d="M347.8,556.1 350.9,555.2 354.1,553.9 357.2,552.4 360.4,550.7 363.5,549.1 366.6,544.7 369.6,540.5 372.6,536.8 375.7,533.6 378.7,531.3 381.8,529.7 384.8,529 387.8,529.1 390.9,530 393.9,531.4 397.2,533.1 400.5,536.3 403.8,540.7 407.1,545.6 410.4,550.2 413.7,553.8 417,555.8 420.3,556.1" stroke="#2828e2" stroke-width="0.95"/>
<path d="M347.8,556.4 350.9,555.4 354.1,555.1 357.2,555.8 360.4,557.3 363.5,559.4 366.6,556.8 369.6,554.2 372.6,551.7 375.7,549.3 378.7,546.9 381.8,544.7 384.8,542.8 387.8,541.1 390.9,539.8 393.9,538.9 397.2,538.3 400.5,539.2 403.8,541.3 407.1,544.4 410.4,548 413.7,551.5 417,554.5 420.3,556.4" stroke="#2828e2" stroke-width="0.95"/>
<path d="M372.4,487.1 373.1,487.8 373.9,488.7 374.9,489.8 376,491 377.1,492.2 378.2,493.4 379.4,494.7 380.5,496.1 381.7,497.6 382.9,499 384.2,500.4 385.5,501.5 386.8,502.6 388.2,503.7 389.7,504.6 391.1,505.4 392.5,505.9 393.9,506.1 395.2,505.8 396.4,505.2 397.7,504.4 398.9,503.3 400.1,502.2 401.4,501 402.8,499.9 404.2,498.6 405.6,497.2 407.1,495.8 408.6,494.3 410.2,492.9 411.9,491.5 413.8,489.9 415.8,488.3 417.6,486.8 419.2,485.5 420.3,484.6" stroke="#2828e2" stroke-width="1.0"/>
<path d="M347.8,530.1 363.5,506.1 393.9,466.9 400,453" stroke="#ee1a1a" stroke-width="1.7"/>
<path d="M347.8,479.5 363.5,506.1 393.9,542.8 402.9,559.2" stroke="#ee1a1a" stroke-width="1.7"/>
<path d="M393.9,542.8 395.2,541.6 396.9,539.9 398.9,538 401.2,535.9 403.5,534.1 405.8,532.7 408.2,531.6 411,530.8 413.8,530.1 416.4,529.6 418.7,529.2 420.3,528.9" stroke="#ee1a1a" stroke-width="1.7"/>
<path d="M393.9,466.9 395.2,467.8 396.9,469 398.9,470.5 401.2,472 403.5,473.4 405.8,474.5 408.2,475.2 411,475.8 413.8,476.2 416.4,476.5 418.7,476.8 420.3,477" stroke="#ee1a1a" stroke-width="1.7"/>
<path d="M347.8,530.1 360.9,559.2" stroke="#ee1a1a" stroke-width="1.7"/>
<path d="M347.8,461.8 349,461.8 350.8,461.8 352.8,461.7 354.9,461.6 356.9,461.4 358.7,461.1 360.1,460.5 361.5,459.9 362.8,459.1 363.9,458.3 365,457.5 365.9,456.8 366.8,456.1 367.5,455.3 368.2,454.6 368.7,453.9 369.2,453.4 369.6,453" stroke="#ee1a1a" stroke-width="1.7"/>
<path d="M350,453 350.7,453.7 351.7,454.6 352.9,455.7 354.1,457 355.4,458.2 356.5,459.3 357.6,460.4 358.7,461.6 359.8,462.9 360.8,464 361.7,464.9 362.3,465.6" stroke="#ee1a1a" stroke-width="1.7"/>
<path d="M380.4,453 381.2,454.1 382.3,455.7 383.7,457.6 385.1,459.5 386.4,461.3 387.7,462.6 388.7,463.6 389.8,464.4 390.7,465 391.7,465.5 392.8,465.7 393.9,465.6 395.2,465.3 396.6,464.6 398,463.8 399.4,462.7 400.8,461.6 402.2,460.6 403.5,459.4 404.9,457.9 406.3,456.4 407.6,455 408.6,453.8 409.4,453" stroke="#ee1a1a" stroke-width="1.7"/>
<path d="M378.2,559.2 379.3,557.8 380.8,555.6 382.6,553.1 384.4,550.6 386.2,548.3 387.7,546.6 388.9,545.3 389.9,544.3 390.9,543.5 391.8,543 392.8,542.7 393.9,542.8 395.2,543.2 396.5,544 397.8,545.1 399.3,546.3 400.7,547.7 402.2,549.1 403.8,550.7 405.6,552.6 407.4,554.6 409.1,556.5 410.6,558.1 411.6,559.2" stroke="#ee1a1a" stroke-width="1.7"/>
</g>
<rect x="347.8" y="455.5" width="72.5" height="101.2" fill="none" stroke="#555" stroke-width="0.9"/>
<text x="346.00" y="457.50" font-size="5.8" text-anchor="end" fill="#222">2</text>
<text x="346.00" y="482.80" font-size="5.8" text-anchor="end" fill="#222">1</text>
<text x="346.00" y="508.10" font-size="5.8" text-anchor="end" fill="#222">0</text>
<text x="346.00" y="533.40" font-size="5.8" text-anchor="end" fill="#222">-1</text>
<text x="346.00" y="558.70" font-size="5.8" text-anchor="end" fill="#222">-2</text>
<text x="347.80" y="562.00" font-size="5.6" text-anchor="middle" fill="#222">M</text>
<text x="363.53" y="562.00" font-size="5.6" text-anchor="middle" fill="#222">K</text>
<text x="393.91" y="562.00" font-size="5.6" text-anchor="middle" fill="#222">Γ</text>
<text x="420.30" y="562.00" font-size="5.6" text-anchor="middle" fill="#222">M</text>
<text x="384.05" y="452.8" font-size="10" font-weight="bold" text-anchor="middle" fill="#111">C<tspan font-size="6.5" dy="1.8">1</tspan></text>
<clipPath id="c1154"><rect x="434.8" y="455.5" width="72.5" height="101.2"/></clipPath>
<g clip-path="url(#c1154)" fill="none" stroke-linejoin="round">
<line x1="450.5" y1="455.5" x2="450.5" y2="556.7" stroke="#b8b8b8" stroke-width="0.5" stroke-dasharray="1 1"/>
<line x1="480.9" y1="455.5" x2="480.9" y2="556.7" stroke="#b8b8b8" stroke-width="0.5" stroke-dasharray="1 1"/>
<line x1="434.8" y1="506.1" x2="507.3" y2="506.1" stroke="#b8b8b8" stroke-width="0.5" stroke-dasharray="1 1"/>
<path d="M434.8,459.3 437.9,460.1 441.1,459.7 444.2,457.9 447.4,455 450.5,451.4 453.6,456.5 456.6,461.4 459.6,466 462.7,470.1 465.7,473.6 468.8,476.5 471.8,478.6 474.8,479.9 477.9,480.4 480.9,480.2 484.2,480 487.5,478.2 490.8,475.1 494.1,471.2 497.4,467.1 500.7,463.4 504,460.7 507.3,459.3" stroke="#2828e2" stroke-width="0.95"/>
<path d="M434.8,466.1 437.9,466.6 441.1,467.3 444.2,468.3 447.4,469.2 450.5,470.2 453.6,473.9 456.6,477.3 459.6,480.2 462.7,482.5 465.7,483.9 468.8,484.5 471.8,484.2 474.8,483.2 477.9,481.5 480.9,479.4 484.2,480.5 487.5,480.4 490.8,479.2 494.1,477 497.4,474.1 500.7,471 504,468.2 507.3,466.1" stroke="#2828e2" stroke-width="0.95"/>
<path d="M434.8,466.7 437.9,467.1 441.1,467.6 444.2,467.9 447.4,468 450.5,468.1 453.6,465.7 456.6,463.6 459.6,461.7 462.7,460.2 465.7,459.2 468.8,458.7 471.8,458.7 474.8,459.2 477.9,460.1 480.9,461.3 484.2,462.7 487.5,464.2 490.8,465.7 494.1,467 497.4,467.8 500.7,468 504,467.6 507.3,466.7" stroke="#2828e2" stroke-width="0.95"/>
<path d="M434.8,489.7 437.9,487 441.1,485.6 444.2,486.1 447.4,488.5 450.5,492 453.6,489.9 456.6,487.7 459.6,485.5 462.7,483.4 465.7,481.4 468.8,479.4 471.8,477.6 474.8,476.1 477.9,474.9 480.9,474 484.2,473.6 487.5,474.4 490.8,476.4 494.1,479.2 497.4,482.4 500.7,485.6 504,488.1 507.3,489.7" stroke="#2828e2" stroke-width="0.95"/>
<path d="M434.8,478.3 437.9,477.8 441.1,477.4 444.2,477.1 447.4,477 450.5,477.1 453.6,472.3 456.6,467.8 459.6,463.7 462.7,460.2 465.7,457.5 468.8,455.6 471.8,454.5 474.8,454.3 477.9,454.9 480.9,456.1 484.2,458.2 487.5,461.7 490.8,466 494.1,470.5 497.4,474.5 500.7,477.4 504,478.7 507.3,478.3" stroke="#2828e2" stroke-width="0.95"/>
<path d="M434.8,474.4 437.9,476.1 441.1,476.5 444.2,475.4 447.4,472.7 450.5,469.3 453.6,468.9 456.6,468.5 459.6,467.8 462.7,467 465.7,465.8 468.8,464.3 471.8,462.7 474.8,460.9 477.9,459.1 480.9,457.5 484.2,458.8 487.5,461.2 490.8,464.3 494.1,467.7 497.4,470.8 500.7,473.2 504,474.5 507.3,474.4" stroke="#2828e2" stroke-width="0.95"/>
<path d="M434.8,463.1 437.9,463.8 441.1,464.8 444.2,466 447.4,467.2 450.5,468.4 453.6,469.9 456.6,471.4 459.6,472.8 462.7,474.2 465.7,475.6 468.8,476.8 471.8,477.9 474.8,478.8 477.9,479.5 480.9,480 484.2,477.6 487.5,474.3 490.8,470.6 494.1,467.1 497.4,464.2 500.7,462.4 504,462 507.3,463.1" stroke="#2828e2" stroke-width="0.95"/>
<path d="M434.8,481.3 437.9,482.5 441.1,483.1 444.2,482.7 447.4,481.5 450.5,479.7 453.6,480.5 456.6,481.2 459.6,481.7 462.7,482 465.7,482 468.8,481.8 471.8,481.3 474.8,480.6 477.9,479.7 480.9,478.8 484.2,477.8 487.5,477.2 490.8,477 494.1,477.3 497.4,478 500.7,479 504,480.2 507.3,481.3" stroke="#2828e2" stroke-width="0.95"/>
<path d="M434.8,472.2 437.9,474.6 441.1,476.6 444.2,477.6 447.4,477.4 450.5,476.4 453.6,475.3 456.6,474.2 459.6,473.4 462.7,473 465.7,472.9 468.8,473.3 471.8,474 474.8,475.1 477.9,476.4 480.9,477.8 484.2,477.6 487.5,477 490.8,476.1 494.1,475 497.4,474 500.7,473 504,472.4 507.3,472.2" stroke="#2828e2" stroke-width="0.95"/>
<path d="M434.8,479.7 437.9,477.4 441.1,476.6 444.2,478 447.4,481.4 450.5,486 453.6,483.2 456.6,480.2 459.6,477.2 462.7,474.2 465.7,471 468.8,467.9 471.8,464.8 474.8,462 477.9,459.6 480.9,457.7 484.2,456.7 487.5,457.5 490.8,460 494.1,463.9 497.4,468.5 500.7,473.1 504,477 507.3,479.7" stroke="#2828e2" stroke-width="0.95"/>
<path d="M434.8,489 437.9,490.7 441.1,491.9 444.2,492.3 447.4,491.7 450.5,490.5 453.6,491.1 456.6,491.5 459.6,491.5 462.7,491.1 465.7,490.2 468.8,488.7 471.8,486.8 474.8,484.5 477.9,482.1 480.9,479.6 484.2,481.1 487.5,483 490.8,485.1 494.1,487.1 497.4,488.7 500.7,489.6 504,489.7 507.3,489" stroke="#2828e2" stroke-width="0.95"/>
<path d="M434.8,465.6 437.9,466.9 441.1,468.6 444.2,470.3 447.4,472 450.5,473.5 453.6,469.9 456.6,466.5 459.6,463.6 462.7,461.4 465.7,460 468.8,459.5 471.8,459.8 474.8,460.8 477.9,462.5 480.9,464.6 484.2,465.1 487.5,465.6 490.8,466.1 494.1,466.4 497.4,466.5 500.7,466.4 504,466.1 507.3,465.6" stroke="#2828e2" stroke-width="0.95"/>
<path d="M434.8,484.3 437.9,483.2 441.1,483.3 444.2,485 447.4,488 450.5,491.8 453.6,487.9 456.6,484 459.6,480.3 462.7,476.9 465.7,473.8 468.8,471.1 471.8,468.8 474.8,467.1 477.9,465.9 480.9,465.4 484.2,466.9 487.5,469.7 490.8,473.2 494.1,476.9 497.4,480.4 500.7,483 504,484.4 507.3,484.3" stroke="#2828e2" stroke-width="0.95"/>
<path d="M434.8,487.8 437.9,487.5 441.1,487.2 444.2,487 447.4,486.8 450.5,486.8 453.6,481 456.6,475.5 459.6,470.5 462.7,466.2 465.7,462.7 468.8,460.1 471.8,458.5 474.8,457.9 477.9,458.2 480.9,459.4 484.2,461.4 487.5,465.3 490.8,470.4 494.1,476.1 497.4,481.3 500.7,485.4 504,487.7 507.3,487.8" stroke="#2828e2" stroke-width="0.95"/>
<path d="M434.8,546.9 437.9,545.9 441.1,544.6 444.2,543.2 447.4,542 450.5,540.8 453.6,541.3 456.6,541.8 459.6,542.2 462.7,542.5 465.7,542.7 468.8,542.8 471.8,542.7 474.8,542.6 477.9,542.3 480.9,542 484.2,543.1 487.5,544.5 490.8,545.8 494.1,547 497.4,547.7 500.7,548 504,547.7 507.3,546.9" stroke="#2828e2" stroke-width="0.95"/>
<path d="M434.8,542.3 437.9,540.6 441.1,539.1 444.2,538 447.4,537.6 450.5,537.6 453.6,536.4 456.6,535.3 459.6,534.3 462.7,533.4 465.7,532.8 468.8,532.5 471.8,532.4 474.8,532.5 477.9,532.9 480.9,533.3 484.2,534.4 487.5,536.1 490.8,538 494.1,539.8 497.4,541.4 500.7,542.4 504,542.8 507.3,542.3" stroke="#2828e2" stroke-width="0.95"/>
<path d="M434.8,549.8 437.9,549.4 441.1,549.3 444.2,549.6 447.4,550.3 450.5,551.2 453.6,553.4 456.6,555.5 459.6,557.2 462.7,558.4 465.7,559.1 468.8,559.1 471.8,558.6 474.8,557.5 477.9,556.1 480.9,554.3 484.2,554.8 487.5,554.8 490.8,554.5 494.1,553.7 497.4,552.7 500.7,551.6 504,550.6 507.3,549.8" stroke="#2828e2" stroke-width="0.95"/>
<path d="M434.8,556.1 437.9,556.7 441.1,557.7 444.2,558.9 447.4,560.2 450.5,561.6 453.6,560.4 456.6,559.2 459.6,557.9 462.7,556.4 465.7,554.7 468.8,552.9 471.8,551 474.8,549.1 477.9,547.4 480.9,545.9 484.2,545.8 487.5,546.5 490.8,547.9 494.1,549.8 497.4,551.8 500.7,553.8 504,555.3 507.3,556.1" stroke="#2828e2" stroke-width="0.95"/>
<path d="M434.8,548.8 437.9,548.4 441.1,547.8 444.2,547.2 447.4,546.6 450.5,546 453.6,544.3 456.6,542.7 459.6,541.2 462.7,539.7 465.7,538.4 468.8,537.2 471.8,536.3 474.8,535.5 477.9,535 480.9,534.7 484.2,535.4 487.5,537.1 490.8,539.4 494.1,542.2 497.4,544.8 500.7,547 504,548.4 507.3,548.8" stroke="#2828e2" stroke-width="0.95"/>
<path d="M434.8,540 437.9,538.3 441.1,538.1 444.2,539.8 447.4,543.1 450.5,547.5 453.6,546 456.6,544.6 459.6,543.5 462.7,542.6 465.7,542 468.8,541.9 471.8,542 474.8,542.5 477.9,543.3 480.9,544.2 484.2,544.4 487.5,544.1 490.8,543.6 494.1,542.9 497.4,542 500.7,541.1 504,540.4 507.3,540" stroke="#2828e2" stroke-width="0.95"/>
<path d="M434.8,538.2 437.9,538.9 441.1,540.1 444.2,541.7 447.4,543.5 450.5,545.4 453.6,548 456.6,550.5 459.6,552.6 462.7,554.2 465.7,555.2 468.8,555.6 471.8,555.4 474.8,554.6 477.9,553.3 480.9,551.8 484.2,550.7 487.5,548.7 490.8,546.2 494.1,543.5 497.4,541 500.7,539.1 504,538.2 507.3,538.2" stroke="#2828e2" stroke-width="0.95"/>
<path d="M434.8,545.5 437.9,546.8 441.1,547.3 444.2,546.7 447.4,545 450.5,542.7 453.6,543 456.6,543.4 459.6,543.8 462.7,544.2 465.7,544.5 468.8,544.9 471.8,545.2 474.8,545.5 477.9,545.7 480.9,545.9 484.2,546.6 487.5,547.1 490.8,547.4 494.1,547.5 497.4,547.3 500.7,546.8 504,546.2 507.3,545.5" stroke="#2828e2" stroke-width="0.95"/>
<path d="M434.8,533.6 437.9,533.8 441.1,534.4 444.2,535.3 447.4,536.4 450.5,537.7 453.6,535.9 456.6,534.1 459.6,532.7 462.7,531.5 465.7,530.8 468.8,530.4 471.8,530.5 474.8,531 477.9,531.8 480.9,532.8 484.2,532.4 487.5,532 490.8,531.8 494.1,531.9 497.4,532.1 500.7,532.5 504,533 507.3,533.6" stroke="#2828e2" stroke-width="0.95"/>
<path d="M434.8,542.6 437.9,541.4 441.1,541 444.2,541.7 447.4,543.4 450.5,545.8 453.6,545.6 456.6,545.5 459.6,545.1 462.7,544.7 465.7,544 468.8,543.2 471.8,542.3 474.8,541.3 477.9,540.2 480.9,539.3 484.2,538.1 487.5,537.5 490.8,537.3 494.1,537.7 497.4,538.6 500.7,539.8 504,541.2 507.3,542.6" stroke="#2828e2" stroke-width="0.95"/>
<path d="M434.8,553 437.9,552.2 441.1,552.4 444.2,554 447.4,556.6 450.5,559.9 453.6,557.6 456.6,555.5 459.6,553.7 462.7,552.4 465.7,551.5 468.8,551.3 471.8,551.5 474.8,552.3 477.9,553.5 480.9,554.9 484.2,554.7 487.5,554.4 490.8,554 494.1,553.7 497.4,553.3 500.7,553 504,552.9 507.3,553" stroke="#2828e2" stroke-width="0.95"/>
<path d="M434.8,540.6 437.9,542.3 441.1,543.5 444.2,543.9 447.4,543.4 450.5,542.4 453.6,542.1 456.6,541.8 459.6,541.5 462.7,541.1 465.7,540.6 468.8,540 471.8,539.4 474.8,538.7 477.9,538.1 480.9,537.5 484.2,537.3 487.5,537.3 490.8,537.6 494.1,538.1 497.4,538.8 500.7,539.5 504,540.1 507.3,540.6" stroke="#2828e2" stroke-width="0.95"/>
<path d="M434.8,533.7 437.9,532.2 441.1,531.7 444.2,532.5 447.4,534.4 450.5,537 453.6,540.9 456.6,544.6 459.6,547.9 462.7,550.9 465.7,553.2 468.8,555 471.8,556.1 474.8,556.5 477.9,556.3 480.9,555.6 484.2,553.8 487.5,550.5 490.8,546.4 494.1,542 497.4,538 500.7,535 504,533.5 507.3,533.7" stroke="#2828e2" stroke-width="0.95"/>
<path d="M434.8,550.9 437.9,551 441.1,550.2 444.2,548.6 447.4,546.3 450.5,543.6 453.6,546.5 456.6,549.2 459.6,551.6 462.7,553.4 465.7,554.7 468.8,555.2 471.8,555.1 474.8,554.5 477.9,553.3 480.9,551.7 484.2,552.6 487.5,553.2 490.8,553.6 494.1,553.6 497.4,553.3 500.7,552.7 504,551.8 507.3,550.9" stroke="#2828e2" stroke-width="0.95"/>
<path d="M434.8,543.5 437.9,542.4 441.1,541.5 444.2,541.1 447.4,541.2 450.5,541.7 453.6,544.4 456.6,547.1 459.6,549.6 462.7,551.8 465.7,553.6 468.8,555.1 471.8,556.1 474.8,556.7 477.9,556.9 480.9,556.7 484.2,555.7 487.5,553.8 490.8,551.4 494.1,548.7 497.4,546.3 500.7,544.5 504,543.5 507.3,543.5" stroke="#2828e2" stroke-width="0.95"/>
<path d="M434.8,549.9 437.9,551.7 441.1,553.5 444.2,554.9 447.4,555.8 450.5,556.3 453.6,553.6 456.6,551.2 459.6,549.1 462.7,547.5 465.7,546.6 468.8,546.4 471.8,546.9 474.8,547.9 477.9,549.4 480.9,551.2 484.2,549.9 487.5,548.8 490.8,547.9 494.1,547.4 497.4,547.4 500.7,547.9 504,548.7 507.3,549.9" stroke="#2828e2" stroke-width="0.95"/>
<path d="M434.8,552.4 437.9,550.9 441.1,550.7 444.2,552.3 447.4,555.6 450.5,559.7 453.6,558.4 456.6,557 459.6,555.6 462.7,554.2 465.7,552.6 468.8,551.1 471.8,549.6 474.8,548.2 477.9,547 480.9,546 484.2,545.1 487.5,544.8 490.8,545.2 494.1,546.2 497.4,547.7 500.7,549.4 504,551.1 507.3,552.4" stroke="#2828e2" stroke-width="0.95"/>
<path d="M459.4,489.4 460.1,490.2 460.9,491.2 461.9,492.4 463,493.8 464.1,495.2 465.2,496.6 466.4,498.1 467.5,499.8 468.7,501.5 469.9,503.2 471.2,504.8 472.5,506.1 473.8,507.3 475.2,508.3 476.7,509.3 478.1,510 479.5,510.5 480.9,510.7 482.2,510.4 483.4,509.9 484.7,509 485.9,508 487.1,506.8 488.4,505.6 489.8,504.2 491.2,502.6 492.6,500.9 494.1,499.1 495.6,497.3 497.2,495.7 498.9,494 500.8,492.2 502.8,490.4 504.6,488.8 506.2,487.4 507.3,486.4" stroke="#2828e2" stroke-width="1.0"/>
<path d="M434.8,519.5 450.5,494.7 480.9,462.6 487,453" stroke="#ee1a1a" stroke-width="1.7"/>
<path d="M434.8,468.7 450.5,494.7 480.9,531.4 492.8,559.2" stroke="#ee1a1a" stroke-width="1.7"/>
<path d="M480.9,531.4 482.2,530.5 483.9,529.3 485.9,527.8 488.2,526.3 490.5,524.9 492.8,523.8 495.2,523 498,522.3 500.8,521.7 503.4,521.2 505.7,520.8 507.3,520.5" stroke="#ee1a1a" stroke-width="1.7"/>
<path d="M480.9,462.6 482.2,463.2 483.9,464 485.9,465 488.2,466 490.5,466.9 492.8,467.6 495.2,468.1 498,468.5 500.8,468.8 503.4,469.1 505.7,469.3 507.3,469.4" stroke="#ee1a1a" stroke-width="1.7"/>
<path d="M434.8,519.5 452.9,559.2" stroke="#ee1a1a" stroke-width="1.7"/>
<path d="M442.1,453 434.8,468.7" stroke="#ee1a1a" stroke-width="1.7"/>
<path d="M465.2,453 466.3,453.7 467.8,454.7 469.6,455.9 471.4,457.2 473.2,458.3 474.7,459.3 475.8,460.1 476.8,461 477.6,461.7 478.5,462.3 479.6,462.6 480.9,462.6 482.6,462.1 484.6,461.2 486.8,460.1 489,458.9 491,457.7 492.8,456.8 494.4,456 495.8,455.2 497.2,454.5 498.3,453.9 499.3,453.4 500.1,453" stroke="#ee1a1a" stroke-width="1.7"/>
<path d="M460.2,559.2 461.4,557.2 463,554.4 465,551 467.1,547.5 469.2,544.2 471.1,541.5 472.8,539.1 474.5,536.7 476.1,534.6 477.8,532.8 479.4,531.7 480.9,531.4 482.3,532.2 483.7,533.8 485,536.1 486.3,538.8 487.7,541.5 489.2,544 491,546.6 493,549.5 495.1,552.4 497.1,555.2 498.8,557.5 500.1,559.2" stroke="#ee1a1a" stroke-width="1.7"/>
<path d="M434.8,552.9 435.7,552.7 437,552.4 438.6,552 440.2,551.7 441.9,551.6 443.5,551.6 445.1,552 446.9,552.7 448.8,553.5 450.5,554.3 451.9,555 452.9,555.4" stroke="#ee1a1a" stroke-width="1.7"/>
<path d="M434.8,555.4 436.1,555.3 437.8,555 439.9,554.6 442.1,554.4 444.1,554.2 445.7,554.2 446.9,554.4 448,554.8 448.9,555.4 449.6,555.9 450.3,556.4 450.8,556.7" stroke="#ee1a1a" stroke-width="1.7"/>
</g>
<rect x="434.8" y="455.5" width="72.5" height="101.2" fill="none" stroke="#555" stroke-width="0.9"/>
<text x="433.00" y="457.50" font-size="5.8" text-anchor="end" fill="#222">2</text>
<text x="433.00" y="482.80" font-size="5.8" text-anchor="end" fill="#222">1</text>
<text x="433.00" y="508.10" font-size="5.8" text-anchor="end" fill="#222">0</text>
<text x="433.00" y="533.40" font-size="5.8" text-anchor="end" fill="#222">-1</text>
<text x="433.00" y="558.70" font-size="5.8" text-anchor="end" fill="#222">-2</text>
<text x="434.80" y="562.00" font-size="5.6" text-anchor="middle" fill="#222">M</text>
<text x="450.53" y="562.00" font-size="5.6" text-anchor="middle" fill="#222">K</text>
<text x="480.91" y="562.00" font-size="5.6" text-anchor="middle" fill="#222">Γ</text>
<text x="507.30" y="562.00" font-size="5.6" text-anchor="middle" fill="#222">M</text>
<text x="471.05" y="452.8" font-size="10" font-weight="bold" text-anchor="middle" fill="#111">C<tspan font-size="6.5" dy="1.8">2</tspan></text>
<text x="0" y="0" font-size="7.6" text-anchor="middle" fill="#222" transform="translate(338.5,506.5) rotate(-90)">Energy (eV)</text>
</svg>
</body></html>
